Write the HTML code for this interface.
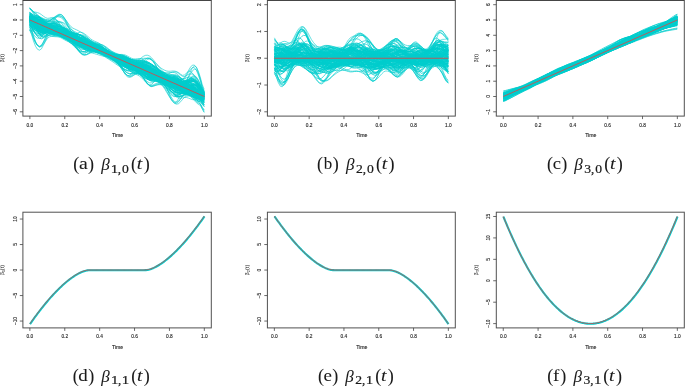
<!DOCTYPE html>
<html><head><meta charset="utf-8"><style>
html,body{margin:0;padding:0;background:#fff;}
svg{display:block;}
.tk{font-family:"Liberation Sans",sans-serif;font-size:4.8px;fill:#222;stroke:#222;stroke-width:0.12px;}
.yl{font-family:"Liberation Sans",sans-serif;font-size:5.6px;fill:#222;}
.cap{font-family:"Liberation Serif",serif;fill:#1a1a1a;stroke:#1a1a1a;stroke-width:0.06px;}
.it{font-style:italic;}
.sub{font-size:12px;}
</style></head><body>
<svg width="685" height="387" viewBox="0 0 685 387">
<rect x="22.90" y="0.40" width="188.40" height="115.70" fill="none" stroke="#505050" stroke-width="1.0"/>
<line x1="22.90" y1="0.4" x2="211.30" y2="0.4" stroke="#404040" stroke-width="0.9"/>
<line x1="29.88" y1="116.10" x2="29.88" y2="119.10" stroke="#444" stroke-width="0.8"/>
<text x="29.88" y="126.50" class="tk" text-anchor="middle">0.0</text>
<line x1="64.77" y1="116.10" x2="64.77" y2="119.10" stroke="#444" stroke-width="0.8"/>
<text x="64.77" y="126.50" class="tk" text-anchor="middle">0.2</text>
<line x1="99.66" y1="116.10" x2="99.66" y2="119.10" stroke="#444" stroke-width="0.8"/>
<text x="99.66" y="126.50" class="tk" text-anchor="middle">0.4</text>
<line x1="134.54" y1="116.10" x2="134.54" y2="119.10" stroke="#444" stroke-width="0.8"/>
<text x="134.54" y="126.50" class="tk" text-anchor="middle">0.6</text>
<line x1="169.43" y1="116.10" x2="169.43" y2="119.10" stroke="#444" stroke-width="0.8"/>
<text x="169.43" y="126.50" class="tk" text-anchor="middle">0.8</text>
<line x1="204.32" y1="116.10" x2="204.32" y2="119.10" stroke="#444" stroke-width="0.8"/>
<text x="204.32" y="126.50" class="tk" text-anchor="middle">1.0</text>
<line x1="22.90" y1="4.69" x2="19.80" y2="4.69" stroke="#444" stroke-width="0.8"/>
<text transform="translate(16.60,4.69) rotate(-90)" class="tk" text-anchor="middle">1</text>
<line x1="22.90" y1="19.99" x2="19.80" y2="19.99" stroke="#444" stroke-width="0.8"/>
<text transform="translate(16.60,19.99) rotate(-90)" class="tk" text-anchor="middle">0</text>
<line x1="22.90" y1="35.29" x2="19.80" y2="35.29" stroke="#444" stroke-width="0.8"/>
<text transform="translate(16.60,35.29) rotate(-90)" class="tk" text-anchor="middle">−1</text>
<line x1="22.90" y1="50.60" x2="19.80" y2="50.60" stroke="#444" stroke-width="0.8"/>
<text transform="translate(16.60,50.60) rotate(-90)" class="tk" text-anchor="middle">−2</text>
<line x1="22.90" y1="65.90" x2="19.80" y2="65.90" stroke="#444" stroke-width="0.8"/>
<text transform="translate(16.60,65.90) rotate(-90)" class="tk" text-anchor="middle">−3</text>
<line x1="22.90" y1="81.21" x2="19.80" y2="81.21" stroke="#444" stroke-width="0.8"/>
<text transform="translate(16.60,81.21) rotate(-90)" class="tk" text-anchor="middle">−4</text>
<line x1="22.90" y1="96.51" x2="19.80" y2="96.51" stroke="#444" stroke-width="0.8"/>
<text transform="translate(16.60,96.51) rotate(-90)" class="tk" text-anchor="middle">−5</text>
<line x1="22.90" y1="111.81" x2="19.80" y2="111.81" stroke="#444" stroke-width="0.8"/>
<text transform="translate(16.60,111.81) rotate(-90)" class="tk" text-anchor="middle">−6</text>
<text x="117.60" y="137.40" class="tk" style="font-size:5.2px" text-anchor="middle">Time</text>
<text transform="translate(4.30,58.25) rotate(-90)" class="yl" text-anchor="middle">β(t)</text>
<rect x="267.40" y="0.40" width="187.90" height="115.70" fill="none" stroke="#505050" stroke-width="1.0"/>
<line x1="267.40" y1="0.4" x2="455.30" y2="0.4" stroke="#404040" stroke-width="0.9"/>
<line x1="274.36" y1="116.10" x2="274.36" y2="119.10" stroke="#444" stroke-width="0.8"/>
<text x="274.36" y="126.50" class="tk" text-anchor="middle">0.0</text>
<line x1="309.16" y1="116.10" x2="309.16" y2="119.10" stroke="#444" stroke-width="0.8"/>
<text x="309.16" y="126.50" class="tk" text-anchor="middle">0.2</text>
<line x1="343.95" y1="116.10" x2="343.95" y2="119.10" stroke="#444" stroke-width="0.8"/>
<text x="343.95" y="126.50" class="tk" text-anchor="middle">0.4</text>
<line x1="378.75" y1="116.10" x2="378.75" y2="119.10" stroke="#444" stroke-width="0.8"/>
<text x="378.75" y="126.50" class="tk" text-anchor="middle">0.6</text>
<line x1="413.54" y1="116.10" x2="413.54" y2="119.10" stroke="#444" stroke-width="0.8"/>
<text x="413.54" y="126.50" class="tk" text-anchor="middle">0.8</text>
<line x1="448.34" y1="116.10" x2="448.34" y2="119.10" stroke="#444" stroke-width="0.8"/>
<text x="448.34" y="126.50" class="tk" text-anchor="middle">1.0</text>
<line x1="267.40" y1="4.69" x2="264.30" y2="4.69" stroke="#444" stroke-width="0.8"/>
<text transform="translate(261.10,4.69) rotate(-90)" class="tk" text-anchor="middle">2</text>
<line x1="267.40" y1="31.47" x2="264.30" y2="31.47" stroke="#444" stroke-width="0.8"/>
<text transform="translate(261.10,31.47) rotate(-90)" class="tk" text-anchor="middle">1</text>
<line x1="267.40" y1="58.25" x2="264.30" y2="58.25" stroke="#444" stroke-width="0.8"/>
<text transform="translate(261.10,58.25) rotate(-90)" class="tk" text-anchor="middle">0</text>
<line x1="267.40" y1="85.03" x2="264.30" y2="85.03" stroke="#444" stroke-width="0.8"/>
<text transform="translate(261.10,85.03) rotate(-90)" class="tk" text-anchor="middle">−1</text>
<line x1="267.40" y1="111.81" x2="264.30" y2="111.81" stroke="#444" stroke-width="0.8"/>
<text transform="translate(261.10,111.81) rotate(-90)" class="tk" text-anchor="middle">−2</text>
<text x="361.85" y="137.40" class="tk" style="font-size:5.2px" text-anchor="middle">Time</text>
<text transform="translate(248.80,58.25) rotate(-90)" class="yl" text-anchor="middle">β(t)</text>
<rect x="496.30" y="0.40" width="188.00" height="115.70" fill="none" stroke="#505050" stroke-width="1.0"/>
<line x1="496.30" y1="0.4" x2="684.30" y2="0.4" stroke="#404040" stroke-width="0.9"/>
<line x1="503.26" y1="116.10" x2="503.26" y2="119.10" stroke="#444" stroke-width="0.8"/>
<text x="503.26" y="126.50" class="tk" text-anchor="middle">0.0</text>
<line x1="538.08" y1="116.10" x2="538.08" y2="119.10" stroke="#444" stroke-width="0.8"/>
<text x="538.08" y="126.50" class="tk" text-anchor="middle">0.2</text>
<line x1="572.89" y1="116.10" x2="572.89" y2="119.10" stroke="#444" stroke-width="0.8"/>
<text x="572.89" y="126.50" class="tk" text-anchor="middle">0.4</text>
<line x1="607.71" y1="116.10" x2="607.71" y2="119.10" stroke="#444" stroke-width="0.8"/>
<text x="607.71" y="126.50" class="tk" text-anchor="middle">0.6</text>
<line x1="642.52" y1="116.10" x2="642.52" y2="119.10" stroke="#444" stroke-width="0.8"/>
<text x="642.52" y="126.50" class="tk" text-anchor="middle">0.8</text>
<line x1="677.34" y1="116.10" x2="677.34" y2="119.10" stroke="#444" stroke-width="0.8"/>
<text x="677.34" y="126.50" class="tk" text-anchor="middle">1.0</text>
<line x1="496.30" y1="4.69" x2="493.20" y2="4.69" stroke="#444" stroke-width="0.8"/>
<text transform="translate(490.00,4.69) rotate(-90)" class="tk" text-anchor="middle">6</text>
<line x1="496.30" y1="19.99" x2="493.20" y2="19.99" stroke="#444" stroke-width="0.8"/>
<text transform="translate(490.00,19.99) rotate(-90)" class="tk" text-anchor="middle">5</text>
<line x1="496.30" y1="35.29" x2="493.20" y2="35.29" stroke="#444" stroke-width="0.8"/>
<text transform="translate(490.00,35.29) rotate(-90)" class="tk" text-anchor="middle">4</text>
<line x1="496.30" y1="50.60" x2="493.20" y2="50.60" stroke="#444" stroke-width="0.8"/>
<text transform="translate(490.00,50.60) rotate(-90)" class="tk" text-anchor="middle">3</text>
<line x1="496.30" y1="65.90" x2="493.20" y2="65.90" stroke="#444" stroke-width="0.8"/>
<text transform="translate(490.00,65.90) rotate(-90)" class="tk" text-anchor="middle">2</text>
<line x1="496.30" y1="81.21" x2="493.20" y2="81.21" stroke="#444" stroke-width="0.8"/>
<text transform="translate(490.00,81.21) rotate(-90)" class="tk" text-anchor="middle">1</text>
<line x1="496.30" y1="96.51" x2="493.20" y2="96.51" stroke="#444" stroke-width="0.8"/>
<text transform="translate(490.00,96.51) rotate(-90)" class="tk" text-anchor="middle">0</text>
<line x1="496.30" y1="111.81" x2="493.20" y2="111.81" stroke="#444" stroke-width="0.8"/>
<text transform="translate(490.00,111.81) rotate(-90)" class="tk" text-anchor="middle">−1</text>
<text x="590.80" y="137.40" class="tk" style="font-size:5.2px" text-anchor="middle">Time</text>
<text transform="translate(477.70,58.25) rotate(-90)" class="yl" text-anchor="middle">β(t)</text>
<rect x="22.90" y="212.20" width="188.40" height="115.70" fill="none" stroke="#505050" stroke-width="1.0"/>
<line x1="29.88" y1="327.90" x2="29.88" y2="330.90" stroke="#444" stroke-width="0.8"/>
<text x="29.88" y="338.30" class="tk" text-anchor="middle">0.0</text>
<line x1="64.77" y1="327.90" x2="64.77" y2="330.90" stroke="#444" stroke-width="0.8"/>
<text x="64.77" y="338.30" class="tk" text-anchor="middle">0.2</text>
<line x1="99.66" y1="327.90" x2="99.66" y2="330.90" stroke="#444" stroke-width="0.8"/>
<text x="99.66" y="338.30" class="tk" text-anchor="middle">0.4</text>
<line x1="134.54" y1="327.90" x2="134.54" y2="330.90" stroke="#444" stroke-width="0.8"/>
<text x="134.54" y="338.30" class="tk" text-anchor="middle">0.6</text>
<line x1="169.43" y1="327.90" x2="169.43" y2="330.90" stroke="#444" stroke-width="0.8"/>
<text x="169.43" y="338.30" class="tk" text-anchor="middle">0.8</text>
<line x1="204.32" y1="327.90" x2="204.32" y2="330.90" stroke="#444" stroke-width="0.8"/>
<text x="204.32" y="338.30" class="tk" text-anchor="middle">1.0</text>
<line x1="22.90" y1="219.04" x2="19.80" y2="219.04" stroke="#444" stroke-width="0.8"/>
<text transform="translate(16.60,219.04) rotate(-90)" class="tk" text-anchor="middle">10</text>
<line x1="22.90" y1="244.54" x2="19.80" y2="244.54" stroke="#444" stroke-width="0.8"/>
<text transform="translate(16.60,244.54) rotate(-90)" class="tk" text-anchor="middle">5</text>
<line x1="22.90" y1="270.05" x2="19.80" y2="270.05" stroke="#444" stroke-width="0.8"/>
<text transform="translate(16.60,270.05) rotate(-90)" class="tk" text-anchor="middle">0</text>
<line x1="22.90" y1="295.56" x2="19.80" y2="295.56" stroke="#444" stroke-width="0.8"/>
<text transform="translate(16.60,295.56) rotate(-90)" class="tk" text-anchor="middle">−5</text>
<line x1="22.90" y1="321.06" x2="19.80" y2="321.06" stroke="#444" stroke-width="0.8"/>
<text transform="translate(16.60,321.06) rotate(-90)" class="tk" text-anchor="middle">−10</text>
<text x="117.60" y="349.20" class="tk" style="font-size:5.2px" text-anchor="middle">Time</text>
<text transform="translate(4.30,270.05) rotate(-90)" class="yl" text-anchor="middle">β₁(t)</text>
<rect x="267.40" y="212.20" width="187.90" height="115.70" fill="none" stroke="#505050" stroke-width="1.0"/>
<line x1="274.36" y1="327.90" x2="274.36" y2="330.90" stroke="#444" stroke-width="0.8"/>
<text x="274.36" y="338.30" class="tk" text-anchor="middle">0.0</text>
<line x1="309.16" y1="327.90" x2="309.16" y2="330.90" stroke="#444" stroke-width="0.8"/>
<text x="309.16" y="338.30" class="tk" text-anchor="middle">0.2</text>
<line x1="343.95" y1="327.90" x2="343.95" y2="330.90" stroke="#444" stroke-width="0.8"/>
<text x="343.95" y="338.30" class="tk" text-anchor="middle">0.4</text>
<line x1="378.75" y1="327.90" x2="378.75" y2="330.90" stroke="#444" stroke-width="0.8"/>
<text x="378.75" y="338.30" class="tk" text-anchor="middle">0.6</text>
<line x1="413.54" y1="327.90" x2="413.54" y2="330.90" stroke="#444" stroke-width="0.8"/>
<text x="413.54" y="338.30" class="tk" text-anchor="middle">0.8</text>
<line x1="448.34" y1="327.90" x2="448.34" y2="330.90" stroke="#444" stroke-width="0.8"/>
<text x="448.34" y="338.30" class="tk" text-anchor="middle">1.0</text>
<line x1="267.40" y1="219.04" x2="264.30" y2="219.04" stroke="#444" stroke-width="0.8"/>
<text transform="translate(261.10,219.04) rotate(-90)" class="tk" text-anchor="middle">10</text>
<line x1="267.40" y1="244.54" x2="264.30" y2="244.54" stroke="#444" stroke-width="0.8"/>
<text transform="translate(261.10,244.54) rotate(-90)" class="tk" text-anchor="middle">5</text>
<line x1="267.40" y1="270.05" x2="264.30" y2="270.05" stroke="#444" stroke-width="0.8"/>
<text transform="translate(261.10,270.05) rotate(-90)" class="tk" text-anchor="middle">0</text>
<line x1="267.40" y1="295.56" x2="264.30" y2="295.56" stroke="#444" stroke-width="0.8"/>
<text transform="translate(261.10,295.56) rotate(-90)" class="tk" text-anchor="middle">−5</text>
<line x1="267.40" y1="321.06" x2="264.30" y2="321.06" stroke="#444" stroke-width="0.8"/>
<text transform="translate(261.10,321.06) rotate(-90)" class="tk" text-anchor="middle">−10</text>
<text x="361.85" y="349.20" class="tk" style="font-size:5.2px" text-anchor="middle">Time</text>
<text transform="translate(248.80,270.05) rotate(-90)" class="yl" text-anchor="middle">β₂(t)</text>
<rect x="496.30" y="212.20" width="188.00" height="115.70" fill="none" stroke="#505050" stroke-width="1.0"/>
<line x1="503.26" y1="327.90" x2="503.26" y2="330.90" stroke="#444" stroke-width="0.8"/>
<text x="503.26" y="338.30" class="tk" text-anchor="middle">0.0</text>
<line x1="538.08" y1="327.90" x2="538.08" y2="330.90" stroke="#444" stroke-width="0.8"/>
<text x="538.08" y="338.30" class="tk" text-anchor="middle">0.2</text>
<line x1="572.89" y1="327.90" x2="572.89" y2="330.90" stroke="#444" stroke-width="0.8"/>
<text x="572.89" y="338.30" class="tk" text-anchor="middle">0.4</text>
<line x1="607.71" y1="327.90" x2="607.71" y2="330.90" stroke="#444" stroke-width="0.8"/>
<text x="607.71" y="338.30" class="tk" text-anchor="middle">0.6</text>
<line x1="642.52" y1="327.90" x2="642.52" y2="330.90" stroke="#444" stroke-width="0.8"/>
<text x="642.52" y="338.30" class="tk" text-anchor="middle">0.8</text>
<line x1="677.34" y1="327.90" x2="677.34" y2="330.90" stroke="#444" stroke-width="0.8"/>
<text x="677.34" y="338.30" class="tk" text-anchor="middle">1.0</text>
<line x1="496.30" y1="216.49" x2="493.20" y2="216.49" stroke="#444" stroke-width="0.8"/>
<text transform="translate(490.00,216.49) rotate(-90)" class="tk" text-anchor="middle">15</text>
<line x1="496.30" y1="237.91" x2="493.20" y2="237.91" stroke="#444" stroke-width="0.8"/>
<text transform="translate(490.00,237.91) rotate(-90)" class="tk" text-anchor="middle">10</text>
<line x1="496.30" y1="259.34" x2="493.20" y2="259.34" stroke="#444" stroke-width="0.8"/>
<text transform="translate(490.00,259.34) rotate(-90)" class="tk" text-anchor="middle">5</text>
<line x1="496.30" y1="280.76" x2="493.20" y2="280.76" stroke="#444" stroke-width="0.8"/>
<text transform="translate(490.00,280.76) rotate(-90)" class="tk" text-anchor="middle">0</text>
<line x1="496.30" y1="302.19" x2="493.20" y2="302.19" stroke="#444" stroke-width="0.8"/>
<text transform="translate(490.00,302.19) rotate(-90)" class="tk" text-anchor="middle">−5</text>
<line x1="496.30" y1="323.61" x2="493.20" y2="323.61" stroke="#444" stroke-width="0.8"/>
<text transform="translate(490.00,323.61) rotate(-90)" class="tk" text-anchor="middle">−10</text>
<text x="590.80" y="349.20" class="tk" style="font-size:5.2px" text-anchor="middle">Time</text>
<text transform="translate(477.70,270.05) rotate(-90)" class="yl" text-anchor="middle">β₃(t)</text>
<g fill="none" stroke="#00cdcd" stroke-width="0.8" stroke-linejoin="round"><path d="M29.6,24.1l2 2.5 1.9 2.6 2 1.5 1.9 .3 2 -.4 2 -.6 1.9 -.5 2 -.2 2 .1 1.9 .5 2 .7 1.9 .8 2 .8 2 .8 1.9 .7 2 .9 2 .9 1.9 .9 2 .9 1.9 1.0 2 1.0 2 1.2 1.9 1.3 2 1.5 1.9 1.6 2 1.6 2 1.6 1.9 1.3 2 .8 2 .5 1.9 .2 2 .1 1.9 .2 2 .4 2 .4 1.9 .6 2 .6 1.9 .7 2 .8 2 .6 1.9 .6 2 .3 2 .3 1.9 .2 2 .1 1.9 -.2 2 -.1 2 .1 1.9 .6 2 .9 2 1.3 1.9 1.3 2 1.3 1.9 1.2 2 1.4 2 1.4 1.9 1.6 2 1.7 1.9 1.5 2 1.5 2 1.3 1.9 1.2 2 1.0 2 .8 1.9 .9 2 .9 1.9 1.0 2 1.1 2 1.3 1.9 1.5 2 1.5 1.9 1.6 2 1.5 2 1.5 1.9 1.1 2 .8 2 .3 1.9 .1 2 .2 1.9 .3 2 .6 2 .7 1.9 .8 2 .6 2 .4 1.9 .4 2 .3 1.9 .6 2 .4"/><path d="M29.6,18.2l2 1.2 1.9 1.0 2 .7 1.9 .6 2 .5 2 .6 1.9 .6 2 .5 2 .4 1.9 .0 2 -.4 1.9 -.3 2 .0 2 .5 1.9 .9 2 1.4 2 1.8 1.9 2.0 2 2.2 1.9 2.0 2 1.7 2 1.5 1.9 1.2 2 1.2 1.9 1.1 2 1.0 2 .9 1.9 .8 2 .7 2 .7 1.9 .7 2 .6 1.9 .6 2 .4 2 .4 1.9 .3 2 .4 1.9 .6 2 .7 2 .9 1.9 1.1 2 1.0 2 1.0 1.9 .9 2 1.0 1.9 1.0 2 1.1 2 1.3 1.9 1.3 2 1.3 2 1.1 1.9 1.0 2 .9 1.9 .7 2 .6 2 .5 1.9 .3 2 .3 1.9 .5 2 .6 2 .9 1.9 1.2 2 1.5 2 1.6 1.9 1.5 2 1.5 1.9 1.2 2 1.2 2 1.0 1.9 1.0 2 .7 1.9 .4 2 .4 2 .3 1.9 .3 2 .3 2 .4 1.9 .4 2 .1 1.9 -.3 2 -.6 2 -.2 1.9 .1 2 .8 2 1.4 1.9 2.0 2 2.4 1.9 2.6 2 2.1"/><path d="M29.6,20.3l2 .6 1.9 .9 2 1.4 1.9 2.0 2 2.2 2 2.0 1.9 1.4 2 .7 2 .1 1.9 .2 2 .4 1.9 .4 2 .3 2 .3 1.9 .4 2 .6 2 .5 1.9 .2 2 .1 1.9 .3 2 .6 2 .7 1.9 .8 2 .8 1.9 1.0 2 1.2 2 1.3 1.9 1.4 2 1.4 2 1.3 1.9 1.3 2 1.1 1.9 .9 2 1.0 2 .8 1.9 .9 2 .8 1.9 .8 2 .8 2 .7 1.9 .7 2 .6 2 .7 1.9 .6 2 .7 1.9 .6 2 .6 2 .5 1.9 .6 2 .5 2 .6 1.9 .5 2 .5 1.9 .2 2 .1 2 .1 1.9 .2 2 .5 1.9 .7 2 .9 2 1.1 1.9 1.4 2 1.3 2 1.5 1.9 1.4 2 1.4 1.9 1.2 2 1.0 2 .9 1.9 .7 2 .6 1.9 .6 2 .7 2 .8 1.9 1.1 2 1.4 2 1.6 1.9 1.4 2 1.4 1.9 1.4 2 1.5 2 1.2 1.9 1.2 2 1.0 2 .9 1.9 .6 2 .6 1.9 .5 2 .5"/><path d="M29.6,23.0l2 1.7 1.9 2.0 2 1.7 1.9 1.4 2 1.4 2 1.3 1.9 .8 2 .2 2 -.2 1.9 .1 2 .4 1.9 .3 2 .2 2 .1 1.9 .2 2 .5 2 .5 1.9 .5 2 .6 1.9 .6 2 .7 2 .8 1.9 1.0 2 1.3 1.9 1.5 2 1.6 2 1.7 1.9 1.5 2 1.2 2 .8 1.9 .5 2 .4 1.9 .4 2 .5 2 .5 1.9 .7 2 .7 1.9 .9 2 .9 2 1.0 1.9 .9 2 1.0 2 .9 1.9 1.0 2 .8 1.9 .8 2 .9 2 1.1 1.9 1.2 2 1.5 2 1.5 1.9 1.5 2 1.2 1.9 .9 2 .9 2 1.0 1.9 1.1 2 1.2 1.9 1.1 2 .9 2 .4 1.9 -.2 2 -.4 2 -.3 1.9 -.1 2 .1 1.9 .3 2 .4 2 .6 1.9 .7 2 .9 1.9 1.1 2 1.3 2 1.9 1.9 2.5 2 2.4 2 1.9 1.9 1.3 2 .9 1.9 .8 2 .9 2 1.0 1.9 .9 2 .7 2 .2 1.9 .1 2 .0 1.9 .7 2 .6"/><path d="M29.6,23.3l2 2.3 1.9 2.6 2 1.9 1.9 1.2 2 .7 2 .3 1.9 -.1 2 -.4 2 -.3 1.9 .0 2 .4 1.9 .4 2 .4 2 .3 1.9 .5 2 .6 2 .6 1.9 .7 2 .7 1.9 .8 2 1.1 2 1.0 1.9 1.3 2 1.3 1.9 1.6 2 1.5 2 1.5 1.9 1.4 2 1.1 2 .9 1.9 .7 2 .5 1.9 .6 2 .6 2 .7 1.9 .6 2 .6 1.9 .5 2 .6 2 .4 1.9 .3 2 .3 2 .4 1.9 .5 2 .6 1.9 .7 2 .7 2 .9 1.9 .9 2 1.0 2 1.0 1.9 1.0 2 .8 1.9 .8 2 .6 2 .7 1.9 .6 2 .6 1.9 .7 2 .9 2 .9 1.9 1.2 2 1.3 2 1.3 1.9 1.5 2 1.3 1.9 1.4 2 1.5 2 1.6 1.9 1.9 2 2.0 1.9 2.0 2 2.0 2 1.8 1.9 1.3 2 .9 2 .2 1.9 -.1 2 .0 1.9 .3 2 .7 2 .9 1.9 .9 2 .8 2 .3 1.9 .1 2 .0 1.9 .5 2 .3"/><path d="M29.6,20.1l2 .6 1.9 .6 2 .6 1.9 .5 2 .6 2 .7 1.9 .8 2 .8 2 .8 1.9 .7 2 .8 1.9 1.1 2 1.4 2 1.7 1.9 1.3 2 1.1 2 1.3 1.9 1.2 2 1.3 1.9 1.2 2 1.3 2 1.3 1.9 1.4 2 1.2 1.9 1.0 2 .6 2 .2 1.9 -.1 2 -.1 2 -.1 1.9 .2 2 .3 1.9 .3 2 .4 2 .3 1.9 .4 2 .6 1.9 .9 2 1.0 2 1.2 1.9 1.2 2 1.1 2 1.0 1.9 1.0 2 .9 1.9 .9 2 .9 2 1.1 1.9 1.1 2 1.1 2 1.1 1.9 1.0 2 1.0 1.9 .9 2 .8 2 .8 1.9 .7 2 .7 1.9 .7 2 .7 2 .7 1.9 .8 2 .9 2 1.0 1.9 1.0 2 .9 1.9 .9 2 .8 2 .8 1.9 .7 2 .7 1.9 .6 2 .8 2 .9 1.9 1.1 2 1.3 2 1.4 1.9 1.2 2 1.2 1.9 1.0 2 .9 2 .9 1.9 .7 2 .6 2 .5 1.9 .6 2 .8 1.9 1.0 2 1.0"/><path d="M29.6,12.6l2 1.0 1.9 1.3 2 .6 1.9 .7 2 1.0 2 1.5 1.9 1.6 2 1.5 2 1.2 1.9 .9 2 .9 1.9 1.5 2 2.0 2 2.5 1.9 2.2 2 1.4 2 1.4 1.9 1.3 2 1.2 1.9 1.1 2 1.1 2 1.1 1.9 1.1 2 1.1 1.9 .9 2 .7 2 .7 1.9 .5 2 .5 2 .3 1.9 .5 2 .5 1.9 .6 2 .8 2 .8 1.9 .9 2 1.1 1.9 1.1 2 1.2 2 1.3 1.9 1.2 2 1.2 2 1.0 1.9 .9 2 .5 1.9 .1 2 -.1 2 -.1 1.9 .2 2 .4 2 .5 1.9 .8 2 .8 1.9 .9 2 1.1 2 1.3 1.9 1.7 2 1.7 1.9 1.9 2 2.0 2 2.0 1.9 1.5 2 1.1 2 .7 1.9 .6 2 .8 1.9 .8 2 1.1 2 1.2 1.9 1.3 2 1.1 1.9 .9 2 .7 2 .5 1.9 .1 2 -.1 2 -.1 1.9 -.1 2 .1 1.9 .3 2 .0 2 -.3 1.9 -.6 2 -.6 2 -.3 1.9 .2 2 1.2 1.9 2.2 2 2.1"/><path d="M29.6,17.4l2 .7 1.9 .7 2 .3 1.9 .3 2 .5 2 .8 1.9 1.0 2 1.1 2 .8 1.9 .5 2 .3 1.9 .2 2 .5 2 .6 1.9 .9 2 1.3 2 1.5 1.9 1.9 2 2.0 1.9 2.1 2 1.8 2 1.7 1.9 1.4 2 1.6 1.9 1.5 2 1.3 2 1.2 1.9 .9 2 .6 2 .5 1.9 .5 2 .5 1.9 .6 2 .7 2 .6 1.9 .7 2 .6 1.9 .6 2 .4 2 .4 1.9 .6 2 .6 2 .6 1.9 .6 2 .7 1.9 .7 2 .9 2 1.0 1.9 1.2 2 1.3 2 1.3 1.9 1.2 2 1.2 1.9 1.3 2 1.1 2 1.1 1.9 1.1 2 1.1 1.9 1.0 2 1.0 2 .8 1.9 .7 2 .5 2 .6 1.9 .6 2 .7 1.9 .9 2 1.0 2 1.2 1.9 1.4 2 1.6 1.9 1.7 2 1.7 2 1.6 1.9 1.3 2 .8 2 .4 1.9 .0 2 .1 1.9 .2 2 .3 2 .3 1.9 .1 2 -.8 2 -1.2 1.9 -.8 2 .2 1.9 1.6 2 1.8"/><path d="M29.6,25.3l2 2.7 1.9 3.2 2 2.4 1.9 1.2 2 .3 2 -.6 1.9 -1.5 2 -1.6 2 -1.1 1.9 -.4 2 .1 1.9 .3 2 .0 2 .0 1.9 .2 2 .4 2 .8 1.9 1.0 2 1.2 1.9 1.4 2 1.2 2 1.2 1.9 1.1 2 1.1 1.9 1.0 2 .9 2 1.0 1.9 .9 2 .8 2 .9 1.9 .9 2 .9 1.9 .9 2 .9 2 .9 1.9 .9 2 .9 1.9 1.0 2 .9 2 1.0 1.9 1.1 2 1.1 2 1.3 1.9 1.5 2 1.5 1.9 1.6 2 1.6 2 1.6 1.9 1.4 2 1.0 2 .7 1.9 .3 2 .1 1.9 .1 2 .3 2 .4 1.9 .7 2 .7 1.9 .9 2 1.0 2 .9 1.9 1.0 2 .9 2 .9 1.9 .9 2 1.0 1.9 1.1 2 1.2 2 1.3 1.9 1.4 2 1.4 1.9 1.4 2 1.2 2 1.1 1.9 .9 2 .6 2 .3 1.9 .1 2 .2 1.9 .4 2 .7 2 .7 1.9 .7 2 .6 2 .5 1.9 .3 2 .3 1.9 .4 2 .4"/><path d="M29.6,14.0l2 1.0 1.9 1.1 2 .4 1.9 .5 2 .6 2 1.0 1.9 1.1 2 1.1 2 .7 1.9 .3 2 .0 1.9 .4 2 1.1 2 1.8 1.9 2.3 2 2.4 2 2.2 1.9 1.8 2 1.3 1.9 .9 2 .6 2 .5 1.9 .3 2 .2 1.9 .5 2 .6 2 .9 1.9 1.1 2 1.2 2 1.3 1.9 1.2 2 1.0 1.9 .8 2 .7 2 .5 1.9 .5 2 .6 1.9 .7 2 .8 2 .9 1.9 1.0 2 .8 2 .7 1.9 .6 2 .5 1.9 .3 2 .4 2 .5 1.9 .8 2 1.0 2 1.1 1.9 .9 2 .8 1.9 .4 2 .3 2 .2 1.9 .3 2 .4 1.9 .6 2 .6 2 .6 1.9 .8 2 .9 2 1.1 1.9 1.4 2 1.6 1.9 1.5 2 1.5 2 1.4 1.9 1.2 2 1.1 1.9 1.0 2 1.0 2 1.1 1.9 1.1 2 1.1 2 1.2 1.9 .9 2 .2 1.9 -.3 2 -.7 2 -.7 1.9 -.5 2 .2 2 1.0 1.9 2.0 2 2.9 1.9 3.3 2 2.5"/><path d="M29.6,12.4l2 1.7 1.9 1.8 2 1.2 1.9 1.4 2 1.6 2 1.8 1.9 1.7 2 1.4 2 1.2 1.9 1.0 2 .9 1.9 .8 2 .6 2 .6 1.9 .5 2 .4 2 .5 1.9 .7 2 .8 1.9 .9 2 1.0 2 .9 1.9 .8 2 .9 1.9 1.0 2 1.1 2 1.3 1.9 1.3 2 1.2 2 1.2 1.9 1.0 2 1.0 1.9 .8 2 .7 2 .6 1.9 .7 2 .7 1.9 .8 2 .9 2 .9 1.9 .8 2 .8 2 .7 1.9 .6 2 .5 1.9 .4 2 .5 2 .6 1.9 .9 2 1.2 2 1.2 1.9 1.2 2 1.1 1.9 .9 2 .8 2 .7 1.9 .5 2 .5 1.9 .5 2 .5 2 .8 1.9 1.1 2 1.4 2 1.6 1.9 1.7 2 1.6 1.9 1.5 2 1.4 2 1.4 1.9 1.5 2 1.5 1.9 1.4 2 1.3 2 1.2 1.9 .9 2 .7 2 .5 1.9 .4 2 .6 1.9 .6 2 .9 2 .9 1.9 1.0 2 .9 2 .7 1.9 .5 2 .4 1.9 .7 2 .4"/><path d="M29.6,16.6l2 .7 1.9 .8 2 .3 1.9 .5 2 .7 2 1.1 1.9 1.2 2 1.3 2 1.1 1.9 .9 2 .8 1.9 .9 2 1.1 2 1.2 1.9 1.3 2 1.3 2 1.3 1.9 1.4 2 1.3 1.9 1.3 2 1.0 2 1.2 1.9 1.2 2 1.5 1.9 1.5 2 1.5 2 1.4 1.9 1.1 2 .8 2 .4 1.9 .3 2 .3 1.9 .4 2 .5 2 .6 1.9 .7 2 .8 1.9 1.0 2 1.1 2 1.1 1.9 1.1 2 1.2 2 1.0 1.9 1.0 2 .8 1.9 .5 2 .3 2 .3 1.9 .3 2 .6 2 .6 1.9 .7 2 .7 1.9 .6 2 .6 2 .4 1.9 .4 2 .4 1.9 .4 2 .6 2 .8 1.9 1.0 2 1.3 2 1.5 1.9 1.6 2 1.5 1.9 1.5 2 1.3 2 1.4 1.9 1.5 2 1.4 1.9 1.3 2 1.1 2 .9 1.9 .6 2 .3 2 .4 1.9 .4 2 .6 1.9 .7 2 .9 2 .9 1.9 1.1 2 1.1 2 1.0 1.9 1.0 2 .8 1.9 1.2 2 1.0"/><path d="M29.6,21.6l2 1.6 1.9 2.1 2 1.9 1.9 1.6 2 1.2 2 .8 1.9 .2 2 -.1 2 -.1 1.9 .3 2 .6 1.9 .8 2 .8 2 .7 1.9 .8 2 1.0 2 1.1 1.9 1.1 2 1.0 1.9 .9 2 1.0 2 1.0 1.9 1.0 2 1.0 1.9 1.0 2 .9 2 .8 1.9 .6 2 .4 2 .3 1.9 .2 2 .2 1.9 .3 2 .4 2 .2 1.9 .3 2 .3 1.9 .6 2 .8 2 1.1 1.9 1.2 2 1.2 2 1.3 1.9 1.3 2 1.5 1.9 1.8 2 2.0 2 1.8 1.9 1.6 2 1.2 2 .7 1.9 .3 2 .1 1.9 .1 2 .4 2 .5 1.9 .7 2 .8 1.9 1.0 2 1.1 2 1.2 1.9 1.2 2 1.0 2 .9 1.9 .8 2 .9 1.9 .8 2 .8 2 .8 1.9 .7 2 .6 1.9 .5 2 .6 2 .8 1.9 .9 2 1.2 2 1.2 1.9 1.2 2 1.2 1.9 1.2 2 1.3 2 1.5 1.9 1.6 2 1.5 2 1.1 1.9 .7 2 .3 1.9 1.5 2 1.2"/><path d="M29.6,22.2l2 1.2 1.9 .9 2 .2 1.9 -.3 2 -.2 2 .3 1.9 .5 2 .7 2 .7 1.9 .7 2 .8 1.9 1.0 2 1.5 2 1.7 1.9 1.2 2 1.1 2 1.2 1.9 1.1 2 1.1 1.9 1.1 2 1.1 2 1.1 1.9 1.1 2 1.0 1.9 1.0 2 .8 2 .6 1.9 .6 2 .5 2 .5 1.9 .6 2 .6 1.9 .7 2 .7 2 .7 1.9 .6 2 .5 1.9 .5 2 .4 2 .6 1.9 .6 2 .7 2 .8 1.9 .7 2 .9 1.9 .9 2 1.1 2 1.3 1.9 1.4 2 1.5 2 1.6 1.9 1.6 2 1.4 1.9 1.1 2 1.0 2 1.1 1.9 1.1 2 1.1 1.9 1.2 2 1.1 2 .7 1.9 .4 2 .1 2 .1 1.9 .1 2 .1 1.9 .1 2 .1 2 .2 1.9 .2 2 .1 1.9 .1 2 .2 2 .5 1.9 1.0 2 1.5 2 1.8 1.9 1.7 2 1.2 1.9 1.1 2 1.2 2 1.2 1.9 1.0 2 .9 2 .9 1.9 .8 2 .9 1.9 1.1 2 1.1"/><path d="M29.6,16.9l2 1.4 1.9 1.1 2 .8 1.9 .7 2 .7 2 .8 1.9 .9 2 1.0 2 .8 1.9 .6 2 .4 1.9 .4 2 .5 2 .7 1.9 .8 2 1.1 2 1.3 1.9 1.4 2 1.7 1.9 1.5 2 1.4 2 1.2 1.9 .9 2 .8 1.9 .5 2 .3 2 .3 1.9 .3 2 .5 2 .8 1.9 1.0 2 1.0 1.9 1.0 2 1.0 2 1.0 1.9 1.1 2 1.2 1.9 1.3 2 1.2 2 1.2 1.9 1.1 2 1.0 2 1.1 1.9 1.0 2 1.2 1.9 1.2 2 1.3 2 1.2 1.9 1.2 2 1.1 2 .8 1.9 .7 2 .5 1.9 .4 2 .5 2 .4 1.9 .3 2 .1 1.9 .0 2 .0 2 .0 1.9 .1 2 .4 2 .7 1.9 1.0 2 1.1 1.9 1.1 2 1.1 2 1.0 1.9 .8 2 .6 1.9 .5 2 .3 2 .5 1.9 .5 2 .9 2 1.2 1.9 .9 2 .1 1.9 -.5 2 -.7 2 -.2 1.9 .3 2 1.0 2 1.9 1.9 2.5 2 2.9 1.9 3.2 2 2.3"/><path d="M29.6,17.9l2 .9 1.9 .8 2 .5 1.9 .4 2 .5 2 .7 1.9 .7 2 .8 2 .6 1.9 .2 2 .0 1.9 .1 2 .4 2 .8 1.9 1.2 2 1.5 2 1.8 1.9 1.9 2 1.8 1.9 1.6 2 1.4 2 1.2 1.9 .9 2 .8 1.9 .7 2 .6 2 .5 1.9 .4 2 .6 2 .6 1.9 .7 2 .7 1.9 .6 2 .4 2 .6 1.9 .7 2 1.0 1.9 1.3 2 1.5 2 1.5 1.9 1.5 2 1.3 2 1.2 1.9 1.1 2 1.1 1.9 .9 2 1.0 2 .9 1.9 .9 2 .8 2 .9 1.9 .7 2 .7 1.9 .6 2 .5 2 .4 1.9 .3 2 .4 1.9 .6 2 .9 2 1.3 1.9 1.6 2 1.8 2 1.8 1.9 1.6 2 1.3 1.9 1.3 2 1.1 2 .9 1.9 .6 2 .2 1.9 -.2 2 .1 2 .0 1.9 .0 2 .3 2 .7 1.9 .7 2 .5 1.9 .3 2 .5 2 .9 1.9 1.2 2 1.4 2 1.2 1.9 1.1 2 1.1 1.9 1.3 2 1.3"/><path d="M29.6,24.3l2 2.6 1.9 3.6 2 3.3 1.9 2.6 2 1.8 2 .6 1.9 -.8 2 -1.8 2 -1.9 1.9 -1.0 2 -.4 1.9 -.1 2 .0 2 .1 1.9 .4 2 .6 2 .6 1.9 .5 2 .9 1.9 1.2 2 1.0 2 1.2 1.9 1.2 2 1.1 1.9 1.0 2 .7 2 .4 1.9 .3 2 .5 2 .6 1.9 .8 2 .8 1.9 1.0 2 1.0 2 1.1 1.9 1.0 2 1.0 1.9 .9 2 .9 2 .9 1.9 .8 2 .9 2 1.0 1.9 1.0 2 1.2 1.9 1.5 2 1.6 2 1.9 1.9 2.1 2 2.1 2 1.9 1.9 1.4 2 .9 1.9 .5 2 .6 2 .7 1.9 1.1 2 1.2 1.9 1.2 2 1.1 2 .6 1.9 .1 2 -.2 2 -.1 1.9 .2 2 .6 1.9 .9 2 1.3 2 1.6 1.9 2.1 2 2.2 1.9 2.3 2 2.2 2 1.9 1.9 1.3 2 .4 2 -.4 1.9 -.8 2 -.6 1.9 -.2 2 .3 2 .5 1.9 .7 2 .7 2 .5 1.9 .4 2 .5 1.9 1.6 2 1.7"/><path d="M29.6,21.4l2 1.3 1.9 1.6 2 1.5 1.9 1.4 2 1.1 2 .6 1.9 .0 2 -.2 2 -.1 1.9 .2 2 .4 1.9 .1 2 .1 2 .0 1.9 .3 2 .5 2 .9 1.9 1.3 2 1.6 1.9 1.6 2 1.6 2 1.6 1.9 1.5 2 1.7 1.9 1.8 2 1.9 2 1.9 1.9 1.5 2 1.2 2 .7 1.9 .5 2 .3 1.9 .4 2 .5 2 .6 1.9 .6 2 .7 1.9 .8 2 .8 2 .7 1.9 .7 2 .7 2 .6 1.9 .6 2 .5 1.9 .5 2 .5 2 .6 1.9 .7 2 .7 2 .9 1.9 .9 2 .9 1.9 1.0 2 .9 2 .9 1.9 1.0 2 1.0 1.9 1.0 2 1.2 2 1.2 1.9 1.1 2 1.0 2 1.0 1.9 1.0 2 .9 1.9 1.1 2 1.1 2 1.2 1.9 1.2 2 1.2 1.9 1.1 2 1.2 2 1.1 1.9 1.0 2 .9 2 .6 1.9 .4 2 .6 1.9 .6 2 1.0 2 1.1 1.9 1.3 2 1.4 2 1.1 1.9 .9 2 .8 1.9 2.2 2 2.3"/><path d="M29.6,25.1l2 2.5 1.9 2.9 2 2.0 1.9 1.0 2 .2 2 -.6 1.9 -1.2 2 -1.2 2 -.8 1.9 -.2 2 .3 1.9 .5 2 .6 2 .4 1.9 .4 2 .3 2 .2 1.9 .1 2 .2 1.9 .3 2 .4 2 .2 1.9 .1 2 .3 1.9 .6 2 .9 2 1.4 1.9 1.7 2 2.0 2 2.0 1.9 1.8 2 1.6 1.9 1.5 2 1.3 2 1.2 1.9 1.1 2 .9 1.9 .9 2 .8 2 .7 1.9 .7 2 .7 2 .8 1.9 .7 2 .8 1.9 .9 2 1.0 2 1.0 1.9 1.1 2 1.3 2 1.3 1.9 1.1 2 .9 1.9 .8 2 .7 2 .7 1.9 .6 2 .7 1.9 .6 2 .7 2 .9 1.9 1.1 2 1.4 2 1.5 1.9 1.6 2 1.7 1.9 1.9 2 2.2 2 2.6 1.9 2.8 2 2.8 1.9 2.3 2 1.6 2 .8 1.9 -.3 2 -1.3 2 -1.8 1.9 -1.5 2 -.8 1.9 -.2 2 .3 2 .6 1.9 .7 2 .7 2 .6 1.9 .5 2 .5 1.9 .3 2 .7"/><path d="M29.6,18.0l2 1.0 1.9 1.3 2 1.2 1.9 1.3 2 1.3 2 1.6 1.9 1.2 2 .6 2 .4 1.9 .5 2 .2 1.9 .0 2 -.3 2 -.3 1.9 -.2 2 .1 2 .5 1.9 1.0 2 1.5 1.9 1.7 2 1.6 2 1.5 1.9 1.3 2 1.2 1.9 1.3 2 1.2 2 1.3 1.9 1.1 2 1.1 2 1.0 1.9 .9 2 .9 1.9 .8 2 .7 2 .8 1.9 .6 2 .7 1.9 .8 2 .8 2 .9 1.9 .9 2 1.0 2 1.0 1.9 .9 2 1.1 1.9 1.0 2 1.1 2 1.0 1.9 .9 2 .9 2 .7 1.9 .6 2 .6 1.9 .5 2 .3 2 .2 1.9 .1 2 .1 1.9 .0 2 .1 2 .1 1.9 .3 2 .4 2 .8 1.9 1.1 2 1.5 1.9 1.5 2 1.6 2 1.6 1.9 1.5 2 1.4 1.9 1.6 2 1.7 2 1.7 1.9 1.8 2 1.7 2 1.3 1.9 .8 2 .6 1.9 .6 2 .5 2 .6 1.9 .3 2 .0 2 .2 1.9 .7 2 1.1 1.9 1.5 2 1.3"/><path d="M29.6,15.0l2 1.4 1.9 1.6 2 1.1 1.9 1.3 2 1.3 2 1.4 1.9 1.4 2 1.2 2 1.1 1.9 1.2 2 1.2 1.9 1.3 2 1.2 2 1.1 1.9 1.1 2 1.1 2 1.2 1.9 1.1 2 1.0 1.9 .8 2 .9 2 .7 1.9 .5 2 .1 1.9 -.1 2 -.3 2 -.2 1.9 .1 2 .5 2 .9 1.9 1.1 2 1.1 1.9 1.2 2 1.1 2 1.2 1.9 1.3 2 1.3 1.9 1.3 2 1.3 2 1.1 1.9 1.1 2 1.0 2 1.0 1.9 1.1 2 1.0 1.9 .9 2 .9 2 .6 1.9 .5 2 .5 2 .5 1.9 .4 2 .4 1.9 .3 2 .2 2 .2 1.9 .3 2 .6 1.9 .8 2 1.0 2 1.3 1.9 1.5 2 1.6 2 1.5 1.9 1.3 2 1.2 1.9 .9 2 .8 2 .6 1.9 .5 2 .3 1.9 .2 2 .1 2 .2 1.9 .4 2 .7 2 1.0 1.9 .8 2 .3 1.9 -.4 2 -.6 2 -.4 1.9 .0 2 .7 2 1.5 1.9 2.3 2 2.9 1.9 3.1 2 2.4"/><path d="M29.6,20.9l2 1.5 1.9 1.9 2 1.7 1.9 1.5 2 1.2 2 .8 1.9 .2 2 .0 2 -.1 1.9 .3 2 .4 1.9 .5 2 .6 2 .6 1.9 .4 2 .4 2 .5 1.9 .7 2 .9 1.9 1.1 2 1.1 2 1.0 1.9 .9 2 .9 1.9 .7 2 .7 2 .6 1.9 .6 2 .7 2 .7 1.9 .9 2 .8 1.9 .8 2 .7 2 .7 1.9 .8 2 .7 1.9 .9 2 .9 2 .9 1.9 1.0 2 .9 2 .9 1.9 .8 2 .8 1.9 .7 2 .9 2 1.1 1.9 1.2 2 1.3 2 1.3 1.9 1.3 2 1.4 1.9 1.5 2 1.4 2 1.5 1.9 1.6 2 1.7 1.9 1.8 2 1.8 2 1.2 1.9 .6 2 .0 2 -.1 1.9 -.2 2 .1 1.9 .1 2 .2 2 .3 1.9 .4 2 .5 1.9 .5 2 .6 2 .7 1.9 .8 2 1.0 2 1.1 1.9 1.0 2 .9 1.9 .7 2 .6 2 .8 1.9 .8 2 1.0 2 1.2 1.9 1.4 2 1.4 1.9 1.3 2 1.3"/><path d="M29.6,15.2l2 .9 1.9 1.2 2 .9 1.9 1.0 2 1.2 2 1.5 1.9 1.5 2 1.4 2 1.3 1.9 1.2 2 1.2 1.9 1.4 2 1.3 2 1.0 1.9 1.0 2 .9 2 1.0 1.9 .9 2 .8 1.9 .7 2 .7 2 .4 1.9 .1 2 .1 1.9 .0 2 .0 2 .2 1.9 .4 2 .8 2 1.0 1.9 1.2 2 1.1 1.9 1.0 2 .9 2 .9 1.9 1.1 2 1.3 1.9 1.3 2 1.4 2 1.2 1.9 1.1 2 1.0 2 .7 1.9 .6 2 .4 1.9 .3 2 .1 2 .2 1.9 .3 2 .7 2 .7 1.9 .8 2 .5 1.9 .2 2 .1 2 .0 1.9 .1 2 .2 1.9 .6 2 .7 2 1.0 1.9 1.1 2 1.4 2 1.6 1.9 1.6 2 1.6 1.9 1.5 2 1.3 2 1.0 1.9 .8 2 .5 1.9 .4 2 .4 2 .5 1.9 .8 2 1.2 2 1.4 1.9 1.2 2 .3 1.9 -.4 2 -.5 2 -.1 1.9 .2 2 1.1 2 1.8 1.9 2.6 2 3.0 1.9 3.1 2 2.3"/><path d="M29.6,18.5l2 1.6 1.9 2.0 2 3.1 1.9 3.2 2 2.8 2 1.7 1.9 .2 2 -.8 2 -1.0 1.9 -.5 2 -.1 1.9 .2 2 .4 2 .2 1.9 .2 2 .4 2 .8 1.9 1.1 2 1.2 1.9 1.4 2 1.3 2 1.1 1.9 1.1 2 1.2 1.9 1.1 2 1.0 2 .8 1.9 .6 2 .6 2 .5 1.9 .6 2 .7 1.9 .7 2 .7 2 .7 1.9 .8 2 .8 1.9 .9 2 1.0 2 1.0 1.9 1.1 2 1.0 2 1.1 1.9 1.2 2 1.3 1.9 1.3 2 1.4 2 1.3 1.9 1.3 2 1.1 2 .8 1.9 .5 2 .4 1.9 .4 2 .4 2 .4 1.9 .4 2 .4 1.9 .1 2 .1 2 .2 1.9 .3 2 .6 2 .8 1.9 1.1 2 1.2 1.9 1.2 2 1.3 2 1.2 1.9 1.2 2 1.2 1.9 1.2 2 1.3 2 1.4 1.9 1.3 2 1.2 2 .9 1.9 .8 2 .7 1.9 .7 2 .8 2 .8 1.9 .8 2 .7 2 .6 1.9 .6 2 .4 1.9 .7 2 .8"/><path d="M29.6,22.2l2 1.5 1.9 2.0 2 2.0 1.9 1.8 2 1.4 2 .9 1.9 .2 2 -.3 2 -.5 1.9 -.1 2 .3 1.9 .4 2 .5 2 .5 1.9 .6 2 .6 2 .8 1.9 .7 2 .6 1.9 .7 2 .7 2 .8 1.9 1.0 2 1.0 1.9 1.1 2 1.3 2 1.2 1.9 1.2 2 1.1 2 .8 1.9 .7 2 .6 1.9 .6 2 .7 2 .8 1.9 .8 2 .9 1.9 1.1 2 1.1 2 1.2 1.9 1.2 2 1.2 2 1.2 1.9 1.1 2 .9 1.9 .9 2 .7 2 .8 1.9 .9 2 1.1 2 1.2 1.9 1.2 2 1.1 1.9 1.0 2 .9 2 1.1 1.9 1.2 2 1.2 1.9 1.3 2 1.0 2 .6 1.9 .1 2 -.2 2 -.1 1.9 .0 2 .3 1.9 .5 2 .7 2 .8 1.9 1.0 2 1.2 1.9 1.4 2 1.6 2 1.5 1.9 1.5 2 1.1 2 .8 1.9 .6 2 .5 1.9 .6 2 .8 2 .8 1.9 .8 2 .7 2 .5 1.9 .5 2 .4 1.9 .6 2 .4"/><path d="M29.6,15.5l2 1.4 1.9 1.5 2 1.1 1.9 1.3 2 1.4 2 1.4 1.9 1.3 2 1.1 2 1.1 1.9 .9 2 .8 1.9 .7 2 .7 2 .6 1.9 .5 2 .4 2 .4 1.9 .3 2 .5 1.9 .5 2 .6 2 .4 1.9 .2 2 .1 1.9 .3 2 .5 2 .8 1.9 1.0 2 1.3 2 1.4 1.9 1.4 2 1.2 1.9 .9 2 .7 2 .7 1.9 .8 2 1.1 1.9 1.3 2 1.5 2 1.5 1.9 1.4 2 1.3 2 1.1 1.9 1.0 2 .8 1.9 .8 2 .7 2 .8 1.9 .7 2 .8 2 .8 1.9 .7 2 .6 1.9 .5 2 .4 2 .4 1.9 .6 2 .6 1.9 .9 2 .8 2 .8 1.9 .9 2 .7 2 .9 1.9 .9 2 1.0 1.9 1.0 2 1.0 2 .9 1.9 .8 2 .8 1.9 .6 2 .8 2 1.0 1.9 1.3 2 1.5 2 1.6 1.9 1.4 2 1.0 1.9 .7 2 .7 2 .5 1.9 .5 2 .5 2 .7 1.9 .9 2 1.3 1.9 1.8 2 1.5"/><path d="M29.6,17.8l2 1.7 1.9 1.6 2 1.5 1.9 2.3 2 2.3 2 2.2 1.9 1.6 2 .9 2 .3 1.9 .4 2 .5 1.9 .5 2 .4 2 .2 1.9 .3 2 .6 2 .6 1.9 .6 2 .6 1.9 .7 2 .8 2 .8 1.9 1.0 2 1.1 1.9 1.2 2 1.2 2 1.2 1.9 1.1 2 .8 2 .6 1.9 .6 2 .4 1.9 .6 2 .6 2 .8 1.9 .8 2 .9 1.9 1.0 2 1.1 2 1.2 1.9 1.2 2 1.3 2 1.3 1.9 1.2 2 1.1 1.9 .9 2 .7 2 .6 1.9 .6 2 .4 2 .5 1.9 .6 2 .7 1.9 .8 2 .9 2 1.0 1.9 1.1 2 1.2 1.9 1.3 2 1.1 2 .9 1.9 .5 2 .1 2 .1 1.9 .2 2 .1 1.9 .3 2 .5 2 .6 1.9 .7 2 .7 1.9 .9 2 1.2 2 1.4 1.9 1.7 2 2.1 2 2.2 1.9 1.7 2 1.3 1.9 1.2 2 1.2 2 1.3 1.9 1.3 2 1.0 2 .6 1.9 .1 2 .1 1.9 .7 2 .3"/><path d="M29.6,21.1l2 .8 1.9 .8 2 .5 1.9 .5 2 .5 2 .7 1.9 .8 2 .8 2 .7 1.9 .7 2 .5 1.9 .4 2 .2 2 .2 1.9 .2 2 .3 2 .5 1.9 .8 2 1.0 1.9 1.1 2 1.1 2 .9 1.9 .7 2 .5 1.9 .5 2 .5 2 .5 1.9 .7 2 .9 2 1.1 1.9 1.2 2 1.1 1.9 .8 2 .7 2 .8 1.9 .8 2 1.0 1.9 1.3 2 1.3 2 1.4 1.9 1.3 2 1.1 2 1.0 1.9 .8 2 .6 1.9 .5 2 .6 2 .6 1.9 .7 2 .9 2 .9 1.9 .9 2 .6 1.9 .5 2 .4 2 .4 1.9 .6 2 .8 1.9 1.2 2 1.5 2 1.7 1.9 1.9 2 1.9 2 1.8 1.9 1.6 2 1.2 1.9 1.0 2 .9 2 .6 1.9 .5 2 .4 1.9 .4 2 .2 2 .4 1.9 .4 2 .7 2 .8 1.9 .8 2 .2 1.9 -.3 2 -.7 2 -.9 1.9 -.6 2 -.1 2 .8 1.9 1.9 2 2.8 1.9 3.5 2 2.7"/><path d="M29.6,14.6l2 1.4 1.9 1.4 2 1.1 1.9 1.2 2 1.3 2 1.5 1.9 1.5 2 1.3 2 1.2 1.9 1.0 2 .9 1.9 .8 2 .8 2 .7 1.9 .7 2 .8 2 .8 1.9 1.0 2 1.1 1.9 1.1 2 1.1 2 1.0 1.9 1.0 2 .9 1.9 .9 2 .9 2 .7 1.9 .8 2 .8 2 .8 1.9 .8 2 .8 1.9 .9 2 .8 2 .7 1.9 .8 2 .8 1.9 .7 2 .8 2 .8 1.9 .8 2 .7 2 .6 1.9 .5 2 .4 1.9 .3 2 .4 2 .6 1.9 1.0 2 1.1 2 1.4 1.9 1.3 2 1.2 1.9 1.2 2 1.1 2 1.1 1.9 1.1 2 1.1 1.9 1.0 2 .9 2 .8 1.9 .9 2 .8 2 .9 1.9 .8 2 .9 1.9 .8 2 .8 2 .7 1.9 .8 2 .8 1.9 .8 2 .9 2 1.1 1.9 1.4 2 1.5 2 1.6 1.9 1.4 2 1.1 1.9 1.1 2 1.0 2 1.0 1.9 1.0 2 .9 2 .6 1.9 .5 2 .5 1.9 .7 2 .7"/><path d="M29.6,21.3l2 1.6 1.9 1.8 2 1.5 1.9 1.0 2 .6 2 .1 1.9 -.2 2 -.3 2 .1 1.9 .2 2 .0 1.9 -.3 2 -.4 2 -.4 1.9 -.2 2 .2 2 .7 1.9 1.1 2 1.6 1.9 1.8 2 1.7 2 1.4 1.9 1.2 2 1.2 1.9 1.2 2 1.2 2 1.1 1.9 1.2 2 1.1 2 1.1 1.9 1.1 2 .9 1.9 1.0 2 .8 2 1.0 1.9 1.0 2 1.1 1.9 1.2 2 1.1 2 1.1 1.9 1.2 2 1.1 2 1.1 1.9 1.1 2 1.1 1.9 .9 2 .9 2 .8 1.9 .7 2 .7 2 .6 1.9 .7 2 .6 1.9 .6 2 .7 2 .6 1.9 .7 2 .5 1.9 .6 2 .7 2 .7 1.9 .9 2 1.0 2 1.1 1.9 1.2 2 1.2 1.9 1.2 2 1.2 2 1.3 1.9 1.4 2 1.3 1.9 1.0 2 .7 2 .3 1.9 -.2 2 -.1 2 .0 1.9 .0 2 -.5 1.9 -1.1 2 -1.5 2 -1.4 1.9 -.9 2 .2 2 1.5 1.9 2.6 2 3.5 1.9 3.9 2 2.8"/><path d="M29.6,17.3l2 1.4 1.9 1.5 2 1.2 1.9 1.2 2 1.0 2 .9 1.9 .6 2 .5 2 .3 1.9 .0 2 -.2 1.9 -.3 2 -.1 2 .4 1.9 .8 2 1.1 2 1.4 1.9 1.4 2 1.4 1.9 1.2 2 1.1 2 .8 1.9 .5 2 .6 1.9 .8 2 .9 2 1.2 1.9 1.4 2 1.5 2 1.5 1.9 1.4 2 1.3 1.9 1.1 2 1.0 2 1.0 1.9 .9 2 1.0 1.9 .9 2 .8 2 .9 1.9 .8 2 .7 2 .7 1.9 .7 2 .6 1.9 .5 2 .6 2 .8 1.9 .9 2 1.2 2 1.2 1.9 1.2 2 1.2 1.9 1.1 2 1.2 2 1.1 1.9 1.0 2 1.0 1.9 1.0 2 .9 2 .9 1.9 .8 2 .9 2 .9 1.9 1.0 2 1.0 1.9 1.1 2 1.3 2 1.3 1.9 1.4 2 1.3 1.9 .9 2 .5 2 .0 1.9 -.4 2 -.3 2 -.1 1.9 -.1 2 -.4 1.9 -.9 2 -1.2 2 -.8 1.9 -.2 2 .6 2 1.6 1.9 2.4 2 2.9 1.9 3.2 2 2.3"/><path d="M29.6,18.4l2 .2 1.9 .4 2 .0 1.9 .0 2 .3 2 .8 1.9 1.0 2 1.2 2 1.0 1.9 .9 2 1.0 1.9 1.6 2 2.3 2 2.8 1.9 1.6 2 1.5 2 1.6 1.9 1.6 2 1.6 1.9 1.6 2 1.7 2 1.8 1.9 2.0 2 2.0 1.9 1.6 2 1.1 2 .5 1.9 -.4 2 -.8 2 -1.0 1.9 -.7 2 -.3 1.9 .0 2 .3 2 .2 1.9 .4 2 .7 1.9 .8 2 1.0 2 1.1 1.9 1.1 2 1.1 2 1.0 1.9 1.0 2 1.0 1.9 .8 2 .9 2 .7 1.9 .7 2 .7 2 .7 1.9 .8 2 .7 1.9 .8 2 .8 2 .9 1.9 1.1 2 1.2 1.9 1.2 2 1.2 2 1.1 1.9 .9 2 .7 2 .5 1.9 .5 2 .5 1.9 .5 2 .5 2 .6 1.9 .5 2 .5 1.9 .4 2 .4 2 .5 1.9 .7 2 1.0 2 1.1 1.9 1.0 2 .6 1.9 .3 2 .2 2 .5 1.9 .8 2 1.2 2 1.6 1.9 1.9 2 2.0 1.9 1.9 2 1.4"/><path d="M29.6,13.6l2 .6 1.9 .9 2 .2 1.9 .4 2 .9 2 1.6 1.9 1.8 2 2.0 2 1.8 1.9 1.7 2 2.0 1.9 2.4 2 1.8 2 1.3 1.9 1.2 2 1.1 2 1.2 1.9 1.1 2 .9 1.9 .9 2 .8 2 .8 1.9 .7 2 .4 1.9 .3 2 .2 2 .1 1.9 .2 2 .4 2 .6 1.9 .6 2 .7 1.9 .6 2 .5 2 .4 1.9 .5 2 .7 1.9 .9 2 1.2 2 1.2 1.9 1.3 2 1.2 2 1.1 1.9 1.2 2 1.1 1.9 1.2 2 1.3 2 1.3 1.9 1.4 2 1.4 2 1.1 1.9 .9 2 .7 1.9 .5 2 .5 2 .3 1.9 .2 2 .1 1.9 .1 2 .4 2 .6 1.9 1.0 2 1.3 2 1.4 1.9 1.5 2 1.3 1.9 1.1 2 .9 2 .8 1.9 .6 2 .4 1.9 .4 2 .3 2 .5 1.9 .6 2 1.0 2 1.2 1.9 1.0 2 .6 1.9 .3 2 .0 2 -.1 1.9 -.2 2 .1 2 .4 1.9 1.1 2 1.9 1.9 2.6 2 2.2"/><path d="M29.6,20.0l2 1.0 1.9 .9 2 .5 1.9 .6 2 .6 2 .6 1.9 .7 2 .8 2 .7 1.9 .6 2 .5 1.9 .5 2 .5 2 .5 1.9 .4 2 .5 2 .6 1.9 .6 2 .9 1.9 1.0 2 1.0 2 .9 1.9 .7 2 .8 1.9 1.1 2 1.2 2 1.4 1.9 1.5 2 1.6 2 1.5 1.9 1.4 2 1.2 1.9 1.2 2 1.0 2 1.0 1.9 1.0 2 .9 1.9 1.0 2 .9 2 1.0 1.9 .9 2 .9 2 .9 1.9 .8 2 .8 1.9 .6 2 .6 2 .5 1.9 .5 2 .6 2 .6 1.9 .7 2 .6 1.9 .7 2 .6 2 .8 1.9 .9 2 1.0 1.9 1.0 2 .9 2 .8 1.9 .6 2 .5 2 .5 1.9 .5 2 .7 1.9 .7 2 .9 2 .9 1.9 .9 2 .9 1.9 .9 2 .9 2 1.2 1.9 1.3 2 1.4 2 1.4 1.9 1.4 2 1.4 1.9 1.3 2 1.2 2 1.3 1.9 1.3 2 1.2 2 .9 1.9 .7 2 .5 1.9 .8 2 .5"/><path d="M29.6,17.6l2 .2 1.9 .5 2 .2 1.9 .4 2 .7 2 1.1 1.9 1.3 2 1.3 2 1.1 1.9 .8 2 .8 1.9 .7 2 .8 2 .8 1.9 .7 2 .6 2 .4 1.9 .5 2 .6 1.9 .7 2 .7 2 .5 1.9 .4 2 .3 1.9 .7 2 .9 2 1.4 1.9 1.6 2 1.9 2 2.0 1.9 1.9 2 1.6 1.9 1.6 2 1.4 2 1.4 1.9 1.1 2 1.1 1.9 1.1 2 .9 2 1.0 1.9 .8 2 .9 2 .9 1.9 .9 2 .8 1.9 .9 2 1.0 2 .9 1.9 1.0 2 1.1 2 1.0 1.9 1.1 2 1.0 1.9 1.1 2 1.1 2 1.3 1.9 1.5 2 1.7 1.9 1.8 2 1.8 2 1.1 1.9 .5 2 -.2 2 -.3 1.9 -.3 2 .1 1.9 .3 2 .5 2 .8 1.9 .9 2 1.0 1.9 1.2 2 1.1 2 1.1 1.9 .9 2 .6 2 .5 1.9 .4 2 .6 1.9 .6 2 .7 2 .8 1.9 .8 2 .7 2 .6 1.9 .5 2 .5 1.9 .8 2 .9"/><path d="M29.6,18.7l2 .4 1.9 .6 2 .4 1.9 .5 2 .8 2 1.0 1.9 1.2 2 1.2 2 1.1 1.9 1.0 2 .9 1.9 .7 2 .7 2 .5 1.9 .3 2 .4 2 .5 1.9 .8 2 1.2 1.9 1.3 2 1.4 2 1.3 1.9 1.3 2 1.3 1.9 1.3 2 1.3 2 1.2 1.9 1.1 2 .8 2 .8 1.9 .6 2 .6 1.9 .6 2 .5 2 .6 1.9 .7 2 .9 1.9 1.0 2 1.2 2 1.2 1.9 1.1 2 1.0 2 1.0 1.9 1.0 2 .7 1.9 .7 2 .7 2 .7 1.9 .8 2 .9 2 1.0 1.9 1.0 2 1.1 1.9 1.1 2 1.0 2 .9 1.9 1.0 2 1.0 1.9 1.0 2 1.1 2 1.2 1.9 1.2 2 1.2 2 1.2 1.9 1.1 2 1.2 1.9 1.2 2 1.4 2 1.5 1.9 1.4 2 1.2 1.9 .8 2 .3 2 .0 1.9 -.4 2 -.5 2 -.3 1.9 .2 2 .2 1.9 .2 2 .1 2 .5 1.9 .8 2 1.1 2 1.5 1.9 1.5 2 1.5 1.9 1.4 2 1.0"/><path d="M29.6,24.9l2 2.9 1.9 3.5 2 2.7 1.9 1.6 2 .6 2 -.3 1.9 -1.1 2 -1.5 2 -1.2 1.9 -.3 2 .2 1.9 .4 2 .5 2 .6 1.9 .7 2 .9 2 1.0 1.9 1.0 2 1.0 1.9 1.0 2 1.1 2 1.1 1.9 1.2 2 1.1 1.9 1.1 2 .8 2 .7 1.9 .5 2 .4 2 .4 1.9 .5 2 .5 1.9 .7 2 .7 2 .8 1.9 .8 2 .9 1.9 .8 2 .8 2 .8 1.9 .8 2 .6 2 .6 1.9 .5 2 .4 1.9 .4 2 .3 2 .3 1.9 .5 2 .8 2 .8 1.9 .8 2 .8 1.9 .6 2 .5 2 .5 1.9 .5 2 .6 1.9 .8 2 1.1 2 1.2 1.9 1.4 2 1.6 2 1.7 1.9 1.7 2 1.6 1.9 1.5 2 1.4 2 1.5 1.9 1.8 2 1.8 1.9 1.9 2 1.9 2 1.9 1.9 1.6 2 1.1 2 .4 1.9 .1 2 .2 1.9 .3 2 .7 2 1.0 1.9 1.1 2 1.1 2 1.0 1.9 .8 2 .7 1.9 2.4 2 2.4"/><path d="M29.6,14.4l2 1.2 1.9 1.4 2 .9 1.9 1.2 2 1.3 2 1.7 1.9 1.6 2 1.6 2 1.4 1.9 1.3 2 1.4 1.9 1.0 2 1.0 2 .8 1.9 .8 2 .8 2 .8 1.9 .9 2 .8 1.9 .9 2 1.0 2 .9 1.9 1.0 2 .9 1.9 .8 2 .7 2 .5 1.9 .5 2 .6 2 .7 1.9 .8 2 .8 1.9 .9 2 .8 2 .8 1.9 .8 2 .8 1.9 .7 2 .7 2 .7 1.9 .7 2 .6 2 .5 1.9 .3 2 .3 1.9 .0 2 .2 2 .4 1.9 .7 2 1.0 2 1.2 1.9 1.0 2 .8 1.9 .5 2 .3 2 .0 1.9 .0 2 .1 1.9 .3 2 .6 2 1.0 1.9 1.4 2 1.8 2 2.2 1.9 2.3 2 2.2 1.9 1.9 2 1.7 2 1.4 1.9 1.2 2 1.0 1.9 .8 2 .7 2 .5 1.9 .2 2 .3 2 .3 1.9 .3 2 -.3 1.9 -1.0 2 -1.4 2 -1.0 1.9 -.5 2 .7 2 1.8 1.9 2.9 2 3.6 1.9 3.7 2 2.7"/><path d="M29.6,21.1l2 .4 1.9 .1 2 .3 1.9 .5 2 .5 2 .8 1.9 .9 2 1.1 2 1.0 1.9 1.1 2 1.2 1.9 1.3 2 1.1 2 1.0 1.9 1.0 2 1.0 2 1.1 1.9 1.2 2 1.1 1.9 1.1 2 1.2 2 1.2 1.9 1.3 2 1.2 1.9 1.0 2 .7 2 .3 1.9 .1 2 .0 2 .1 1.9 .3 2 .5 1.9 .5 2 .6 2 .5 1.9 .7 2 .7 1.9 .9 2 1.0 2 1.0 1.9 1.1 2 1.0 2 1.0 1.9 .9 2 1.0 1.9 1.0 2 1.1 2 1.1 1.9 1.3 2 1.4 2 1.4 1.9 1.1 2 .9 1.9 .7 2 .5 2 .5 1.9 .3 2 -.1 1.9 -.1 2 -.1 2 .1 1.9 .6 2 1.0 2 1.3 1.9 1.6 2 1.6 1.9 1.4 2 1.4 2 1.1 1.9 1.1 2 1.0 1.9 .9 2 .8 2 .8 1.9 .8 2 .8 2 1.0 1.9 1.1 2 1.2 1.9 1.4 2 1.4 2 1.7 1.9 1.8 2 1.8 2 1.4 1.9 .9 2 .6 1.9 1.6 2 1.2"/><path d="M29.6,16.3l2 1.2 1.9 1.3 2 1.2 1.9 1.3 2 1.6 2 1.7 1.9 2.1 2 2.1 2 1.4 1.9 1.0 2 1.0 1.9 .8 2 .6 2 .4 1.9 .6 2 .6 2 .8 1.9 .7 2 .6 1.9 .6 2 .7 2 .7 1.9 .7 2 .7 1.9 .8 2 .8 2 .9 1.9 1.0 2 1.1 2 1.1 1.9 1.1 2 1.1 1.9 1.0 2 1.1 2 1.1 1.9 1.0 2 1.1 1.9 1.1 2 1.2 2 1.1 1.9 1.0 2 1.0 2 .9 1.9 .8 2 .5 1.9 .4 2 .2 2 .1 1.9 .2 2 .3 2 .6 1.9 .7 2 .8 1.9 .8 2 .9 2 .9 1.9 1.1 2 1.2 1.9 1.3 2 1.5 2 1.5 1.9 1.5 2 1.3 2 1.0 1.9 .9 2 .8 1.9 .7 2 .6 2 .5 1.9 .4 2 .3 1.9 .5 2 .9 2 1.6 1.9 2.0 2 2.3 2 1.9 1.9 1.3 2 .9 1.9 .7 2 .8 2 .7 1.9 .5 2 .1 2 -.4 1.9 -.6 2 -.6 1.9 -.5 2 .4"/><path d="M29.6,21.8l2 1.0 1.9 .7 2 .2 1.9 -.1 2 .4 2 .8 1.9 1.0 2 1.2 2 1.3 1.9 1.2 2 1.1 1.9 1.0 2 .8 2 .6 1.9 .7 2 .7 2 .8 1.9 .7 2 .8 1.9 .7 2 .9 2 .9 1.9 1.0 2 1.1 1.9 1.3 2 1.3 2 1.2 1.9 1.1 2 .8 2 .6 1.9 .5 2 .5 1.9 .5 2 .6 2 .7 1.9 .8 2 .9 1.9 1.1 2 1.1 2 1.2 1.9 1.3 2 1.4 2 1.4 1.9 1.4 2 1.3 1.9 1.2 2 1.0 2 .9 1.9 .7 2 .5 2 .4 1.9 .3 2 .4 1.9 .4 2 .5 2 .8 1.9 .8 2 .9 1.9 1.0 2 .9 2 .7 1.9 .6 2 .5 2 .4 1.9 .5 2 .5 1.9 .5 2 .6 2 .7 1.9 .7 2 .6 1.9 .8 2 .8 2 1.0 1.9 1.1 2 1.4 2 1.4 1.9 1.4 2 1.3 1.9 1.2 2 1.2 2 1.2 1.9 1.3 2 1.2 2 1.1 1.9 .9 2 .7 1.9 1.4 2 1.4"/><path d="M29.6,16.8l2 1.1 1.9 1.1 2 .7 1.9 .7 2 .8 2 1.0 1.9 1.1 2 1.0 2 1.0 1.9 .8 2 .7 1.9 .9 2 1.0 2 1.1 1.9 1.2 2 1.0 2 .9 1.9 .8 2 .7 1.9 .8 2 .7 2 .6 1.9 .6 2 .7 1.9 .9 2 1.1 2 1.2 1.9 1.4 2 1.3 2 1.2 1.9 1.0 2 .9 1.9 .8 2 .6 2 .4 1.9 .4 2 .4 1.9 .5 2 .7 2 .8 1.9 1.0 2 1.0 2 1.0 1.9 1.0 2 1.0 1.9 1.1 2 1.2 2 1.2 1.9 1.3 2 1.2 2 1.0 1.9 1.0 2 1.0 1.9 .9 2 1.0 2 1.1 1.9 1.1 2 1.3 1.9 1.3 2 1.4 2 1.2 1.9 1.0 2 .7 2 .6 1.9 .6 2 .7 1.9 .8 2 1.0 2 1.1 1.9 1.3 2 1.3 1.9 1.2 2 1.0 2 .9 1.9 .5 2 .3 2 .1 1.9 .2 2 .4 1.9 .5 2 .6 2 .5 1.9 .4 2 .4 2 .5 1.9 .6 2 .9 1.9 1.2 2 1.2"/><path d="M29.6,18.5l2 1.0 1.9 1.1 2 1.1 1.9 1.1 2 1.1 2 1.2 1.9 1.4 2 1.2 2 .9 1.9 .9 2 .9 1.9 1.0 2 .8 2 .9 1.9 .9 2 1.0 2 1.1 1.9 1.2 2 1.1 1.9 1.2 2 1.3 2 1.4 1.9 1.5 2 1.4 1.9 1.1 2 .7 2 .2 1.9 -.1 2 -.3 2 -.3 1.9 .0 2 .2 1.9 .3 2 .3 2 .3 1.9 .5 2 .7 1.9 .9 2 1.2 2 1.3 1.9 1.3 2 1.2 2 1.2 1.9 1.1 2 1.1 1.9 1.0 2 .9 2 .9 1.9 .7 2 .7 2 .6 1.9 .5 2 .5 1.9 .5 2 .5 2 .7 1.9 .9 2 1.3 1.9 1.5 2 1.7 2 1.8 1.9 1.6 2 1.4 2 1.3 1.9 1.1 2 1.1 1.9 1.2 2 1.4 2 1.6 1.9 1.7 2 1.9 1.9 1.7 2 1.5 2 1.4 1.9 .8 2 .3 2 -.2 1.9 -.4 2 -.1 1.9 .0 2 .4 2 .5 1.9 .4 2 .2 2 .0 1.9 -.4 2 -.5 1.9 .5 2 1.0"/><path d="M29.6,23.6l2 1.7 1.9 2.1 2 1.7 1.9 1.4 2 1.2 2 .9 1.9 .5 2 -.1 2 -.4 1.9 .1 2 .3 1.9 .5 2 .3 2 .2 1.9 .4 2 .5 2 .7 1.9 .6 2 .5 1.9 .6 2 .5 2 .4 1.9 .6 2 .6 1.9 .7 2 .8 2 .9 1.9 .9 2 1.0 2 1.1 1.9 1.0 2 .9 1.9 1.0 2 1.0 2 1.0 1.9 1.2 2 1.1 1.9 1.1 2 1.3 2 1.4 1.9 1.4 2 1.5 2 1.6 1.9 1.7 2 1.6 1.9 1.4 2 1.1 2 .8 1.9 .5 2 -.1 2 -.3 1.9 -.6 2 -.4 1.9 -.1 2 .1 2 .0 1.9 .1 2 .4 1.9 .9 2 1.2 2 1.6 1.9 2.0 2 2.0 2 1.7 1.9 1.6 2 1.4 1.9 1.4 2 1.2 2 1.3 1.9 1.1 2 .8 1.9 .6 2 .4 2 .3 1.9 .2 2 .3 2 .4 1.9 .5 2 .6 1.9 .7 2 .6 2 .5 1.9 .5 2 .5 2 .7 1.9 .9 2 1.1 1.9 1.3 2 1.2"/><path d="M29.6,17.2l2 1.2 1.9 1.3 2 1.0 1.9 1.2 2 1.3 2 1.5 1.9 1.8 2 2.0 2 1.4 1.9 1.2 2 1.2 1.9 1.1 2 .9 2 .7 1.9 .7 2 1.0 2 1.1 1.9 1.0 2 .9 1.9 .9 2 .9 2 .9 1.9 1.0 2 .9 1.9 .9 2 .8 2 .7 1.9 .6 2 .3 2 .3 1.9 .2 2 .3 1.9 .4 2 .4 2 .3 1.9 .3 2 .3 1.9 .5 2 .6 2 .8 1.9 .9 2 .9 2 .8 1.9 .8 2 .7 1.9 .8 2 .8 2 .9 1.9 1.1 2 1.1 2 1.2 1.9 1.1 2 .9 1.9 .8 2 .8 2 .6 1.9 .6 2 .4 1.9 .3 2 .3 2 .3 1.9 .4 2 .5 2 .8 1.9 1.0 2 1.3 1.9 1.3 2 1.4 2 1.2 1.9 1.2 2 1.0 1.9 1.0 2 .8 2 .7 1.9 .6 2 .6 2 .7 1.9 .4 2 -.1 1.9 -.7 2 -1.1 2 -.8 1.9 -.3 2 .4 2 1.3 1.9 2.3 2 2.9 1.9 3.5 2 2.6"/><path d="M29.6,17.0l2 1.2 1.9 1.3 2 1.2 1.9 1.3 2 1.4 2 1.4 1.9 1.5 2 1.3 2 1.0 1.9 .8 2 .8 1.9 .8 2 .8 2 .8 1.9 .7 2 .8 2 .8 1.9 .8 2 .7 1.9 .6 2 .5 2 .5 1.9 .5 2 .6 1.9 .8 2 1.0 2 1.0 1.9 1.2 2 1.1 2 1.1 1.9 .9 2 1.0 1.9 .8 2 .8 2 .8 1.9 .8 2 .9 1.9 .9 2 1.0 2 .9 1.9 .8 2 .8 2 .7 1.9 .6 2 .4 1.9 .2 2 .1 2 .1 1.9 .2 2 .4 2 .7 1.9 .6 2 .4 1.9 .2 2 .1 2 .1 1.9 .2 2 .5 1.9 .8 2 .8 2 .9 1.9 1.0 2 1.0 2 1.2 1.9 1.3 2 1.4 1.9 1.4 2 1.3 2 1.0 1.9 .9 2 .6 1.9 .3 2 .2 2 .3 1.9 .3 2 .8 2 1.2 1.9 .9 2 -.1 1.9 -.9 2 -.8 2 .2 1.9 1.3 2 2.5 2 3.5 1.9 3.8 2 3.5 1.9 2.9 2 1.8"/><path d="M29.6,21.0l2 1.4 1.9 1.7 2 1.5 1.9 1.3 2 1.2 2 .9 1.9 .7 2 .4 2 .2 1.9 .4 2 .6 1.9 .6 2 .5 2 .5 1.9 .6 2 .7 2 .8 1.9 .7 2 .8 1.9 .8 2 .8 2 .7 1.9 .6 2 .4 1.9 .3 2 .2 2 .1 1.9 .3 2 .4 2 .7 1.9 1.0 2 .9 1.9 1.0 2 .9 2 1.0 1.9 1.2 2 1.5 1.9 1.7 2 1.7 2 1.5 1.9 1.5 2 1.5 2 1.5 1.9 1.5 2 1.5 1.9 1.3 2 1.2 2 1.0 1.9 .9 2 .7 2 .5 1.9 .4 2 .4 1.9 .5 2 .7 2 .8 1.9 1.2 2 1.2 1.9 1.3 2 1.3 2 1.0 1.9 .6 2 .1 2 .1 1.9 .2 2 .2 1.9 .4 2 .4 2 .6 1.9 .6 2 .7 1.9 .7 2 .8 2 .9 1.9 1.1 2 1.1 2 1.2 1.9 1.1 2 1.0 1.9 1.0 2 .9 2 .8 1.9 .8 2 .4 2 .2 1.9 .3 2 .5 1.9 1.0 2 1.1"/><path d="M29.6,18.0l2 1.1 1.9 1.1 2 .9 1.9 .9 2 1.0 2 1.1 1.9 1.1 2 1.2 2 1.2 1.9 1.2 2 1.1 1.9 .9 2 .9 2 .7 1.9 .8 2 .9 2 .8 1.9 .9 2 .9 1.9 1.0 2 1.0 2 1.1 1.9 1.1 2 1.1 1.9 1.0 2 .8 2 .7 1.9 .6 2 .6 2 .7 1.9 .9 2 .9 1.9 1.0 2 1.0 2 1.1 1.9 1.0 2 1.1 1.9 1.1 2 1.1 2 1.0 1.9 1.0 2 1.0 2 .9 1.9 .9 2 .7 1.9 .7 2 .5 2 .4 1.9 .5 2 .4 2 .5 1.9 .7 2 .8 1.9 1.0 2 1.1 2 1.2 1.9 1.3 2 1.6 1.9 1.7 2 1.8 2 1.6 1.9 1.1 2 .6 2 .4 1.9 .3 2 .5 1.9 .5 2 .6 2 .7 1.9 .6 2 .6 1.9 .5 2 .5 2 .5 1.9 .6 2 .7 2 .8 1.9 .9 2 1.0 1.9 1.1 2 1.1 2 1.2 1.9 1.2 2 1.2 2 1.1 1.9 .8 2 .7 1.9 1.1 2 1.0"/><path d="M29.6,19.5l2 2.0 1.9 2.8 2 3.4 1.9 3.5 2 3.1 2 2.2 1.9 .8 2 -.5 2 -1.2 1.9 -.7 2 .0 1.9 .0 2 .0 2 -.1 1.9 .2 2 .4 2 .5 1.9 .4 2 .5 1.9 .4 2 .1 2 .3 1.9 .4 2 .5 1.9 .7 2 .9 2 1.0 1.9 1.1 2 1.2 2 1.1 1.9 1.0 2 1.0 1.9 .9 2 .9 2 .8 1.9 1.0 2 1.0 1.9 1.2 2 1.2 2 1.1 1.9 1.3 2 1.3 2 1.5 1.9 1.5 2 1.5 1.9 1.5 2 1.3 2 1.1 1.9 .8 2 .5 2 .1 1.9 .0 2 .0 1.9 .1 2 .4 2 .5 1.9 .6 2 .6 1.9 .8 2 .8 2 .8 1.9 .9 2 1.0 2 1.0 1.9 1.0 2 1.2 1.9 1.2 2 1.3 2 1.5 1.9 1.8 2 2.0 1.9 1.8 2 1.7 2 1.4 1.9 .8 2 .3 2 -.1 1.9 -.2 2 .2 1.9 .4 2 .6 2 .9 1.9 .9 2 .9 2 .7 1.9 .5 2 .5 1.9 .7 2 .5"/><path d="M29.6,18.0l2 .5 1.9 .5 2 .2 1.9 .2 2 .4 2 .8 1.9 1.0 2 1.2 2 1.0 1.9 .7 2 .7 1.9 .9 2 1.3 2 1.5 1.9 1.6 2 1.7 2 1.6 1.9 1.5 2 1.1 1.9 1.0 2 1.1 2 1.1 1.9 1.1 2 1.1 1.9 1.0 2 .9 2 .8 1.9 .5 2 .4 2 .3 1.9 .4 2 .4 1.9 .4 2 .4 2 .5 1.9 .6 2 1.0 1.9 1.3 2 1.4 2 1.5 1.9 1.4 2 1.4 2 1.3 1.9 1.3 2 1.2 1.9 .9 2 .7 2 .4 1.9 .2 2 .2 2 .4 1.9 .3 2 .2 1.9 .1 2 -.1 2 -.2 1.9 -.3 2 -.1 1.9 .2 2 .5 2 .8 1.9 1.2 2 1.4 2 1.7 1.9 1.8 2 1.7 1.9 1.4 2 1.2 2 1.0 1.9 .7 2 .5 1.9 .3 2 .2 2 .3 1.9 .4 2 .8 2 1.1 1.9 .9 2 .0 1.9 -.8 2 -1.1 2 -.7 1.9 -.3 2 .5 2 1.5 1.9 2.5 2 3.4 1.9 3.8 2 3.0"/><path d="M29.6,13.8l2 1.6 1.9 1.8 2 1.1 1.9 1.3 2 1.3 2 1.3 1.9 1.2 2 .9 2 .7 1.9 .4 2 .2 1.9 .3 2 .7 2 1.2 1.9 1.6 2 1.9 2 2.0 1.9 1.9 2 1.3 1.9 1.1 2 1.1 2 1.0 1.9 1.0 2 .7 1.9 .6 2 .3 2 .3 1.9 .3 2 .5 2 .6 1.9 .9 2 .9 1.9 .9 2 .8 2 .9 1.9 .8 2 .9 1.9 .8 2 .9 2 .9 1.9 1.0 2 .9 2 .8 1.9 .9 2 .8 1.9 .8 2 .7 2 .7 1.9 .7 2 .6 2 .5 1.9 .5 2 .3 1.9 .0 2 .0 2 .0 1.9 .2 2 .6 1.9 1.1 2 1.4 2 1.7 1.9 1.9 2 1.9 2 1.8 1.9 1.6 2 1.3 1.9 1.1 2 .9 2 .7 1.9 .5 2 .4 1.9 .2 2 .1 2 .0 1.9 .2 2 .6 2 .9 1.9 .9 2 .3 1.9 -.2 2 -.1 2 .4 1.9 .9 2 1.4 2 1.5 1.9 1.8 2 1.9 1.9 2.2 2 1.8"/><path d="M29.6,19.1l2 1.3 1.9 1.1 2 1.3 1.9 1.2 2 1.1 2 .7 1.9 .6 2 .6 2 .6 1.9 .9 2 .9 1.9 1.0 2 1.1 2 1.1 1.9 1.1 2 1.2 2 1.4 1.9 1.5 2 1.4 1.9 1.5 2 1.7 2 1.8 1.9 1.9 2 1.9 1.9 1.7 2 1.1 2 .6 1.9 .0 2 -.4 2 -.5 1.9 -.3 2 -.1 1.9 .2 2 .4 2 .4 1.9 .5 2 .5 1.9 .5 2 .3 2 .3 1.9 .5 2 .6 2 .7 1.9 .7 2 .8 1.9 .8 2 1.1 2 1.3 1.9 1.4 2 1.4 2 1.5 1.9 1.6 2 1.5 1.9 1.2 2 1.1 2 1.0 1.9 1.2 2 1.2 1.9 1.2 2 1.1 2 .7 1.9 .3 2 .1 2 .2 1.9 .3 2 .5 1.9 .7 2 .8 2 1.0 1.9 1.1 2 1.4 1.9 1.4 2 1.5 2 1.4 1.9 1.2 2 .8 2 .5 1.9 .3 2 .4 1.9 .5 2 .6 2 .7 1.9 .7 2 .6 2 .6 1.9 .6 2 .7 1.9 .7 2 .8"/><path d="M29.6,15.3l2 .9 1.9 1.0 2 .7 1.9 .8 2 1.3 2 1.6 1.9 1.7 2 1.7 2 1.5 1.9 1.3 2 1.2 1.9 .9 2 .4 2 -.1 1.9 -.5 2 -.7 2 -.4 1.9 .2 2 1.0 1.9 1.4 2 1.6 2 1.4 1.9 1.2 2 1.2 1.9 1.1 2 1.2 2 1.1 1.9 1.1 2 1.3 2 1.2 1.9 1.3 2 1.3 1.9 1.2 2 1.2 2 1.1 1.9 1.2 2 1.0 1.9 .9 2 .9 2 .8 1.9 .7 2 .8 2 .7 1.9 .8 2 .7 1.9 .8 2 .7 2 .9 1.9 .8 2 .9 2 .9 1.9 .8 2 .8 1.9 .7 2 .6 2 .5 1.9 .4 2 .4 1.9 .4 2 .5 2 .6 1.9 .8 2 1.0 2 1.2 1.9 1.4 2 1.5 1.9 1.4 2 1.5 2 1.3 1.9 1.5 2 1.7 1.9 1.8 2 1.5 2 1.4 1.9 .8 2 .5 2 .2 1.9 .1 2 .2 1.9 .3 2 .2 2 -.2 1.9 -.2 2 -.2 2 .2 1.9 .7 2 1.3 1.9 1.9 2 1.7"/><path d="M29.6,20.7l2 1.5 1.9 2.0 2 2.0 1.9 2.0 2 1.7 2 1.2 1.9 .5 2 -.2 2 -.4 1.9 -.1 2 .2 1.9 .3 2 .2 2 .4 1.9 -.5 2 -.5 2 -.2 1.9 .4 2 .9 1.9 1.3 2 1.5 2 1.3 1.9 1.3 2 1.3 1.9 1.2 2 1.2 2 1.1 1.9 1.1 2 1.0 2 1.0 1.9 .9 2 1.0 1.9 .9 2 .9 2 .7 1.9 .7 2 .6 1.9 .5 2 .5 2 .5 1.9 .5 2 .6 2 .5 1.9 .4 2 .4 1.9 .3 2 .5 2 .8 1.9 1.0 2 1.3 2 1.4 1.9 1.3 2 1.2 1.9 1.0 2 1.0 2 .9 1.9 .9 2 .8 1.9 .9 2 .9 2 1.1 1.9 1.0 2 1.2 2 1.1 1.9 1.0 2 .9 1.9 .8 2 .5 2 .5 1.9 .3 2 .0 1.9 .0 2 -.1 2 .1 1.9 .4 2 1.0 2 1.5 1.9 1.4 2 .9 1.9 .6 2 .9 2 1.3 1.9 1.6 2 1.6 2 1.4 1.9 1.1 2 1.1 1.9 1.1 2 1.2"/><path d="M29.6,19.6l2 1.3 1.9 1.6 2 1.8 1.9 1.9 2 1.7 2 1.3 1.9 .7 2 .2 2 .0 1.9 .3 2 .4 1.9 .5 2 .5 2 .5 1.9 .7 2 .7 2 .5 1.9 .5 2 .8 1.9 1.0 2 1.0 2 1.1 1.9 1.2 2 1.1 1.9 1.3 2 1.2 2 1.1 1.9 .9 2 .7 2 .4 1.9 .3 2 .4 1.9 .3 2 .3 2 .3 1.9 .4 2 .7 1.9 1.0 2 1.2 2 1.4 1.9 1.3 2 1.3 2 1.3 1.9 1.3 2 1.4 1.9 1.4 2 1.4 2 1.3 1.9 1.2 2 1.1 2 .9 1.9 .7 2 .4 1.9 .4 2 .5 2 .4 1.9 .5 2 .4 1.9 .2 2 .1 2 .1 1.9 .2 2 .4 2 .7 1.9 .9 2 1.1 1.9 1.2 2 1.1 2 1.0 1.9 1.0 2 .9 1.9 .9 2 .8 2 .9 1.9 .9 2 1.0 2 1.2 1.9 1.2 2 1.1 1.9 1.4 2 1.6 2 1.6 1.9 1.6 2 1.7 2 1.5 1.9 1.2 2 .8 1.9 1.6 2 1.5"/><path d="M29.6,21.6l2 2.0 1.9 2.6 2 2.4 1.9 1.6 2 .6 2 -.5 1.9 -1.4 2 -1.3 2 -.6 1.9 -.3 2 -.5 1.9 -.4 2 .0 2 .8 1.9 1.6 2 2.1 2 2.3 1.9 2.1 2 1.6 1.9 1.1 2 1.0 2 .9 1.9 .7 2 .7 1.9 .5 2 .4 2 .5 1.9 .6 2 .7 2 .8 1.9 .9 2 .9 1.9 .8 2 .8 2 .8 1.9 1.0 2 1.0 1.9 1.2 2 1.3 2 1.3 1.9 1.3 2 1.5 2 1.8 1.9 2.0 2 2.3 1.9 2.3 2 2.3 2 2.2 1.9 1.9 2 1.2 2 .6 1.9 -.1 2 -.5 1.9 -.7 2 -.4 2 .0 1.9 .2 2 .4 1.9 .5 2 .6 2 .6 1.9 .8 2 .9 2 1.1 1.9 1.2 2 1.2 1.9 1.4 2 1.7 2 1.9 1.9 2.1 2 2.3 1.9 2.3 2 2.1 2 1.9 1.9 1.3 2 .5 2 -.4 1.9 -.9 2 -.8 1.9 -.4 2 -.1 2 .0 1.9 -.1 2 -.2 2 -.2 1.9 -.3 2 -.1 1.9 .8 2 1.1"/><path d="M29.6,20.1l2 1.4 1.9 1.7 2 1.7 1.9 1.7 2 1.3 2 .9 1.9 .4 2 .0 2 .0 1.9 .2 2 .5 1.9 .5 2 .6 2 .2 1.9 .2 2 .3 2 .3 1.9 .5 2 .8 1.9 .8 2 .9 2 .7 1.9 .5 2 .5 1.9 .5 2 .6 2 .8 1.9 .9 2 1.2 2 1.3 1.9 1.3 2 1.3 1.9 1.1 2 1.1 2 1.1 1.9 1.1 2 1.3 1.9 1.2 2 1.2 2 1.1 1.9 1.0 2 .9 2 .9 1.9 .8 2 .8 1.9 .7 2 .7 2 .8 1.9 .9 2 1.0 2 1.1 1.9 1.1 2 1.2 1.9 1.2 2 1.2 2 1.1 1.9 1.2 2 1.1 1.9 1.1 2 .9 2 .5 1.9 .3 2 .0 2 .1 1.9 .1 2 .4 1.9 .7 2 .8 2 .9 1.9 .9 2 1.0 1.9 1.0 2 .9 2 1.0 1.9 1.0 2 .9 2 .9 1.9 .7 2 .5 1.9 .1 2 .0 2 .1 1.9 .4 2 .8 2 1.4 1.9 1.9 2 2.1 1.9 2.0 2 1.5"/><path d="M29.6,18.3l2 1.0 1.9 1.0 2 .8 1.9 .9 2 1.0 2 1.1 1.9 1.2 2 1.2 2 1.4 1.9 1.4 2 1.2 1.9 1.2 2 1.1 2 .9 1.9 .9 2 1.0 2 1.2 1.9 1.0 2 .9 1.9 .8 2 .9 2 .9 1.9 .9 2 .8 1.9 .8 2 .6 2 .7 1.9 .5 2 .5 2 .4 1.9 .4 2 .5 1.9 .5 2 .5 2 .4 1.9 .5 2 .6 1.9 .7 2 1.0 2 1.1 1.9 1.1 2 1.1 2 1.0 1.9 1.0 2 1.0 1.9 1.1 2 1.0 2 .9 1.9 1.0 2 .8 2 .8 1.9 .7 2 .6 1.9 .4 2 .3 2 .0 1.9 -.1 2 -.2 1.9 -.2 2 .0 2 .2 1.9 .5 2 .8 2 1.3 1.9 1.5 2 1.6 1.9 1.6 2 1.5 2 1.3 1.9 1.1 2 .9 1.9 .9 2 .8 2 .9 1.9 1.0 2 1.2 2 1.2 1.9 1.1 2 .8 1.9 .6 2 .7 2 .9 1.9 1.1 2 1.3 2 1.4 1.9 1.4 2 1.3 1.9 1.2 2 1.1"/><path d="M29.6,19.0l2 1.3 1.9 1.3 2 2.1 1.9 2.3 2 2.4 2 1.9 1.9 1.3 2 .5 2 .1 1.9 .2 2 .6 1.9 .6 2 .5 2 .4 1.9 .5 2 .8 2 .9 1.9 .8 2 .8 1.9 .6 2 .7 2 .6 1.9 .4 2 .2 1.9 .0 2 -.1 2 -.1 1.9 .2 2 .4 2 .7 1.9 .9 2 .9 1.9 .8 2 .8 2 .8 1.9 1.1 2 1.3 1.9 1.6 2 1.6 2 1.7 1.9 1.4 2 1.5 2 1.4 1.9 1.5 2 1.5 1.9 1.3 2 1.2 2 .8 1.9 .6 2 .2 2 .0 1.9 -.1 2 .3 1.9 .2 2 .2 2 .1 1.9 .2 2 .5 1.9 .8 2 1.1 2 1.4 1.9 1.6 2 1.7 2 1.6 1.9 1.4 2 1.0 1.9 .9 2 .7 2 .6 1.9 .4 2 .2 1.9 .2 2 .1 2 .2 1.9 .4 2 .7 2 .9 1.9 .9 2 .2 1.9 -.4 2 -.7 2 -.7 1.9 -.6 2 .0 2 .9 1.9 1.9 2 2.8 1.9 3.6 2 2.8"/><path d="M29.6,21.6l2 1.6 1.9 1.7 2 1.3 1.9 1.0 2 .6 2 .5 1.9 .3 2 .2 2 .2 1.9 .5 2 .5 1.9 .7 2 .6 2 .6 1.9 .4 2 .4 2 .6 1.9 .9 2 1.2 1.9 1.4 2 1.3 2 1.3 1.9 1.4 2 1.6 1.9 1.7 2 1.7 2 1.3 1.9 1.0 2 .5 2 .2 1.9 .1 2 .1 1.9 .2 2 .3 2 .3 1.9 .2 2 .2 1.9 .3 2 .6 2 .7 1.9 .8 2 .8 2 .7 1.9 .6 2 .5 1.9 .5 2 .4 2 .7 1.9 .9 2 1.1 2 1.2 1.9 1.2 2 1.1 1.9 1.0 2 1.2 2 1.4 1.9 1.8 2 2.0 1.9 1.9 2 1.9 2 1.9 1.9 1.4 2 1.0 2 .7 1.9 .5 2 .7 1.9 .7 2 .8 2 .9 1.9 1.0 2 .9 1.9 .9 2 .7 2 .7 1.9 .7 2 .6 2 .7 1.9 .7 2 .9 1.9 1.0 2 1.3 2 1.5 1.9 1.6 2 1.5 2 1.1 1.9 .7 2 .4 1.9 1.3 2 .9"/><path d="M29.6,19.1l2 .4 1.9 .5 2 .3 1.9 .4 2 .6 2 .8 1.9 1.1 2 1.0 2 .9 1.9 .8 2 .5 1.9 .5 2 .4 2 .4 1.9 .4 2 .4 2 .6 1.9 .8 2 1.1 1.9 1.3 2 1.2 2 1.1 1.9 .8 2 .9 1.9 1.0 2 1.1 2 1.2 1.9 1.3 2 1.3 2 1.3 1.9 1.3 2 1.1 1.9 1.0 2 .9 2 1.0 1.9 .9 2 1.1 1.9 1.0 2 1.0 2 1.0 1.9 .9 2 .9 2 .8 1.9 .7 2 .6 1.9 .6 2 .5 2 .7 1.9 .9 2 1.0 2 1.1 1.9 1.2 2 1.2 1.9 1.3 2 1.2 2 1.3 1.9 1.1 2 1.2 1.9 1.1 2 1.0 2 .7 1.9 .5 2 .4 2 .4 1.9 .6 2 .6 1.9 .8 2 .9 2 .9 1.9 1.0 2 1.1 1.9 1.2 2 1.0 2 .9 1.9 .6 2 .5 2 .5 1.9 .4 2 .2 1.9 -.2 2 -.4 2 -.5 1.9 -.3 2 .2 2 .9 1.9 1.6 2 2.3 1.9 2.6 2 2.0"/><path d="M29.6,16.7l2 1.8 1.9 1.8 2 1.6 1.9 2.1 2 2.7 2 2.1 1.9 1.3 2 .4 2 .0 1.9 .0 2 .2 1.9 .3 2 .3 2 -.2 1.9 -.7 2 -.7 2 -.3 1.9 .2 2 .9 1.9 1.4 2 1.5 2 1.4 1.9 1.5 2 1.6 1.9 1.8 2 1.9 2 2.1 1.9 1.9 2 1.7 2 1.2 1.9 .9 2 .7 1.9 .6 2 .5 2 .6 1.9 .6 2 .6 1.9 .6 2 .7 2 .6 1.9 .7 2 .6 2 .7 1.9 .8 2 .9 1.9 .8 2 .9 2 .8 1.9 .7 2 .7 2 .7 1.9 .6 2 .5 1.9 .5 2 .3 2 .3 1.9 .3 2 .4 1.9 .6 2 .6 2 .8 1.9 .9 2 1.0 2 1.2 1.9 1.3 2 1.4 1.9 1.4 2 1.3 2 1.3 1.9 1.2 2 1.1 1.9 1.0 2 .9 2 .6 1.9 .5 2 .3 2 .3 1.9 .0 2 -.4 1.9 -1.4 2 -1.8 2 -1.8 1.9 -1.3 2 -.1 2 1.3 1.9 2.9 2 4.0 1.9 4.5 2 3.4"/><path d="M29.6,19.7l2 1.3 1.9 1.8 2 2.0 1.9 2.1 2 2.2 2 1.8 1.9 1.2 2 .4 2 .0 1.9 .3 2 .5 1.9 .6 2 .5 2 .3 1.9 .5 2 .7 2 .9 1.9 .8 2 .7 1.9 .6 2 .6 2 .6 1.9 .5 2 .4 1.9 .3 2 .4 2 .4 1.9 .6 2 .7 2 .8 1.9 .9 2 .8 1.9 .8 2 .7 2 .7 1.9 .8 2 .8 1.9 1.0 2 1.0 2 1.0 1.9 1.1 2 1.0 2 1.0 1.9 .9 2 .8 1.9 1.0 2 .9 2 1.1 1.9 1.2 2 1.3 2 1.6 1.9 1.5 2 1.4 1.9 1.3 2 1.2 2 1.2 1.9 1.4 2 1.6 1.9 1.7 2 1.6 2 1.1 1.9 .6 2 .0 2 .0 1.9 .0 2 .3 1.9 .4 2 .5 2 .6 1.9 .7 2 .8 1.9 .8 2 .8 2 1.1 1.9 1.1 2 1.1 2 1.1 1.9 1.1 2 1.0 1.9 1.1 2 1.4 2 1.5 1.9 1.8 2 1.7 2 1.3 1.9 .8 2 .6 1.9 2.0 2 1.8"/><path d="M29.6,23.2l2 1.9 1.9 2.1 2 1.3 1.9 .6 2 .1 2 -.2 1.9 -.4 2 -.2 2 .1 1.9 .4 2 .6 1.9 .7 2 .7 2 .6 1.9 .6 2 .6 2 .6 1.9 .6 2 .6 1.9 .8 2 .8 2 .9 1.9 .8 2 1.1 1.9 1.3 2 1.6 2 1.7 1.9 1.9 2 1.9 2 1.5 1.9 1.2 2 .9 1.9 .7 2 .7 2 .7 1.9 .6 2 .6 1.9 .6 2 .6 2 .3 1.9 .3 2 .1 2 .3 1.9 .3 2 .3 1.9 .2 2 .3 2 .5 1.9 .6 2 .8 2 1.0 1.9 .9 2 .8 1.9 .7 2 .6 2 .7 1.9 .8 2 1.0 1.9 1.2 2 1.3 2 1.2 1.9 1.3 2 1.2 2 1.2 1.9 1.1 2 1.1 1.9 1.1 2 1.1 2 1.1 1.9 1.0 2 1.2 1.9 1.6 2 1.7 2 1.9 1.9 1.8 2 1.6 2 1.1 1.9 .7 2 .6 1.9 .6 2 .8 2 .9 1.9 .9 2 .7 2 .5 1.9 .2 2 .2 1.9 .7 2 .5"/><path d="M29.6,20.0l2 1.5 1.9 1.5 2 1.0 1.9 .4 2 -.2 2 .3 1.9 .3 2 .4 2 .3 1.9 .2 2 .0 1.9 .1 2 .5 2 .9 1.9 1.5 2 1.7 2 2.0 1.9 2.0 2 1.8 1.9 1.2 2 1.2 2 1.3 1.9 1.3 2 1.4 1.9 1.4 2 1.3 2 1.1 1.9 .9 2 .6 2 .5 1.9 .3 2 .4 1.9 .4 2 .4 2 .5 1.9 .5 2 .3 1.9 .2 2 .3 2 .5 1.9 .6 2 .7 2 .6 1.9 .6 2 .6 1.9 .6 2 .7 2 .9 1.9 1.0 2 1.2 2 1.1 1.9 1.1 2 .9 1.9 .8 2 .7 2 .8 1.9 .8 2 .9 1.9 .9 2 .9 2 .8 1.9 .8 2 .6 2 .8 1.9 .8 2 .9 1.9 1.0 2 1.0 2 1.0 1.9 1.0 2 .9 1.9 1.0 2 1.1 2 1.3 1.9 1.3 2 1.5 2 1.3 1.9 1.3 2 1.1 1.9 1.0 2 1.0 2 .8 1.9 .8 2 .6 2 .5 1.9 .3 2 .5 1.9 .8 2 1.0"/><path d="M29.6,15.6l2 .6 1.9 .8 2 .3 1.9 .4 2 .8 2 1.4 1.9 1.6 2 1.6 2 1.6 1.9 1.4 2 1.6 1.9 1.9 2 1.7 2 1.1 1.9 1.0 2 .9 2 .9 1.9 .8 2 .7 1.9 .5 2 .3 2 .2 1.9 .1 2 .2 1.9 .3 2 .5 2 .8 1.9 1.0 2 1.2 2 1.3 1.9 1.3 2 1.2 1.9 1.0 2 1.0 2 .9 1.9 1.0 2 .9 1.9 .9 2 1.0 2 1.0 1.9 .9 2 1.0 2 .9 1.9 .8 2 .9 1.9 .8 2 .9 2 .8 1.9 .8 2 .9 2 .8 1.9 .7 2 .7 1.9 .7 2 .6 2 .6 1.9 .7 2 .8 1.9 .8 2 .9 2 .8 1.9 .8 2 .8 2 .9 1.9 1.0 2 1.1 1.9 1.2 2 1.2 2 1.3 1.9 1.3 2 1.5 1.9 1.8 2 1.8 2 1.7 1.9 1.3 2 .9 2 .5 1.9 .2 2 .3 1.9 .4 2 .5 2 .5 1.9 .6 2 .5 2 .5 1.9 .6 2 .8 1.9 1.1 2 1.0"/><path d="M29.6,20.3l2 .9 1.9 .8 2 .7 1.9 .6 2 .8 2 .9 1.9 .9 2 1.2 2 1.1 1.9 1.0 2 1.1 1.9 1.1 2 1.0 2 .9 1.9 .9 2 1.0 2 1.2 1.9 1.1 2 1.0 1.9 1.0 2 1.2 2 1.2 1.9 1.2 2 1.3 1.9 1.1 2 .9 2 .8 1.9 .5 2 .3 2 .3 1.9 .3 2 .4 1.9 .5 2 .6 2 .7 1.9 .6 2 .7 1.9 .8 2 .7 2 .6 1.9 .6 2 .7 2 .6 1.9 .6 2 .5 1.9 .5 2 .5 2 .6 1.9 .6 2 .8 2 .9 1.9 .8 2 .6 1.9 .4 2 .2 2 .0 1.9 -.2 2 -.1 1.9 -.1 2 .2 2 .4 1.9 .7 2 1.2 2 1.6 1.9 1.8 2 2.0 1.9 1.8 2 1.7 2 1.4 1.9 1.3 2 1.0 1.9 .9 2 .6 2 .6 1.9 .4 2 .5 2 .6 1.9 .5 2 -.2 1.9 -1.0 2 -1.2 2 -.8 1.9 .0 2 1.1 2 2.2 1.9 3.0 2 3.5 1.9 3.5 2 2.5"/><path d="M29.6,17.5l2 1.0 1.9 1.0 2 .6 1.9 .7 2 .7 2 1.0 1.9 1.0 2 1.0 2 .9 1.9 .7 2 .5 1.9 .6 2 .7 2 .8 1.9 .8 2 1.0 2 1.2 1.9 1.3 2 1.4 1.9 1.4 2 1.3 2 1.2 1.9 1.1 2 1.0 1.9 1.0 2 .9 2 .9 1.9 .8 2 .8 2 .9 1.9 .8 2 .9 1.9 .9 2 .9 2 .9 1.9 .9 2 .8 1.9 .9 2 .8 2 .9 1.9 .9 2 .9 2 1.2 1.9 1.2 2 1.5 1.9 1.5 2 1.5 2 1.4 1.9 1.3 2 .8 2 .4 1.9 .0 2 .0 1.9 .0 2 .1 2 .0 1.9 .0 2 -.1 1.9 .0 2 .2 2 .5 1.9 .8 2 1.1 2 1.3 1.9 1.5 2 1.5 1.9 1.4 2 1.3 2 1.2 1.9 1.1 2 1.1 1.9 .9 2 1.0 2 .9 1.9 .9 2 .9 2 .9 1.9 1.0 2 1.1 1.9 1.1 2 1.2 2 1.3 1.9 1.4 2 1.5 2 1.4 1.9 1.1 2 1.0 1.9 1.8 2 1.6"/><path d="M29.6,20.6l2 1.4 1.9 1.8 2 2.0 1.9 1.8 2 1.5 2 .9 1.9 .2 2 -.2 2 -.1 1.9 .2 2 .6 1.9 .8 2 .9 2 .9 1.9 .9 2 1.1 2 1.3 1.9 1.3 2 1.2 1.9 1.1 2 1.2 2 1.3 1.9 1.4 2 1.2 1.9 1.0 2 .8 2 .4 1.9 .2 2 .0 2 .0 1.9 .1 2 .3 1.9 .5 2 .7 2 .7 1.9 .9 2 .9 1.9 1.0 2 1.2 2 1.3 1.9 1.4 2 1.6 2 1.8 1.9 1.9 2 2.0 1.9 1.9 2 1.7 2 1.5 1.9 1.2 2 .6 2 .1 1.9 -.4 2 -.4 1.9 -.4 2 .1 2 .4 1.9 .7 2 .9 1.9 1.2 2 1.4 2 1.4 1.9 1.3 2 1.1 2 1.0 1.9 .9 2 1.1 1.9 1.3 2 1.5 2 1.8 1.9 1.9 2 2.0 1.9 1.6 2 1.4 2 1.1 1.9 .6 2 -.1 2 -.6 1.9 -.6 2 -.4 1.9 .0 2 .4 2 .5 1.9 .7 2 .5 2 .5 1.9 .3 2 .4 1.9 .7 2 .7"/><path d="M29.6,20.9l2 2.1 1.9 2.6 2 2.3 1.9 1.8 2 1.2 2 .4 1.9 -.2 2 -.6 2 -.4 1.9 .1 2 .4 1.9 .5 2 .6 2 .7 1.9 .7 2 .8 2 .7 1.9 .5 2 .2 1.9 .2 2 .3 2 .3 1.9 .3 2 .4 1.9 .6 2 .8 2 1.2 1.9 1.4 2 1.6 2 1.7 1.9 1.5 2 1.5 1.9 1.3 2 1.3 2 1.2 1.9 1.1 2 1.1 1.9 1.1 2 1.2 2 1.1 1.9 1.1 2 1.2 2 1.3 1.9 1.3 2 1.3 1.9 1.2 2 1.3 2 1.1 1.9 1.2 2 .8 2 .7 1.9 .4 2 .2 1.9 .2 2 .3 2 .5 1.9 .7 2 .8 1.9 .9 2 1.0 2 1.0 1.9 .8 2 .8 2 .8 1.9 .7 2 .7 1.9 .8 2 .7 2 .6 1.9 .5 2 .3 1.9 .2 2 .6 2 .7 1.9 .9 2 1.2 2 1.4 1.9 1.3 2 1.3 1.9 1.1 2 1.1 2 1.1 1.9 1.2 2 1.0 2 .7 1.9 .6 2 .4 1.9 .9 2 .8"/><path d="M29.6,20.6l2 .8 1.9 .9 2 .9 1.9 1.1 2 1.1 2 1.1 1.9 .9 2 .6 2 .6 1.9 .7 2 .7 1.9 .8 2 .7 2 .8 1.9 .8 2 .8 2 .9 1.9 1.0 2 .9 1.9 1.0 2 1.1 2 1.2 1.9 1.3 2 1.3 1.9 1.4 2 1.2 2 1.1 1.9 1.0 2 .8 2 .7 1.9 .6 2 .7 1.9 .8 2 .8 2 .9 1.9 1.0 2 1.0 1.9 1.1 2 1.2 2 1.2 1.9 1.0 2 .9 2 .9 1.9 .7 2 .4 1.9 .3 2 .2 2 .3 1.9 .5 2 .7 2 1.0 1.9 1.2 2 1.2 1.9 1.1 2 1.1 2 1.1 1.9 1.1 2 1.2 1.9 1.1 2 .8 2 .4 1.9 .0 2 -.2 2 .0 1.9 -.1 2 .2 1.9 .4 2 .6 2 .7 1.9 .8 2 .8 1.9 .9 2 1.0 2 1.4 1.9 1.5 2 1.6 2 1.7 1.9 1.6 2 1.3 1.9 1.2 2 1.1 2 1.2 1.9 1.3 2 1.1 2 .9 1.9 .7 2 .5 1.9 1.3 2 1.1"/><path d="M29.6,18.1l2 1.0 1.9 1.0 2 .8 1.9 .8 2 .7 2 .8 1.9 .8 2 .8 2 .6 1.9 .4 2 .0 1.9 .0 2 .1 2 .1 1.9 .3 2 .4 2 .6 1.9 .9 2 1.1 1.9 1.2 2 1.1 2 .8 1.9 .5 2 .5 1.9 .7 2 .9 2 1.2 1.9 1.6 2 1.9 2 2.0 1.9 1.9 2 1.8 1.9 1.6 2 1.5 2 1.5 1.9 1.1 2 1.0 1.9 1.0 2 .8 2 .7 1.9 .7 2 .7 2 .8 1.9 .9 2 1.1 1.9 1.3 2 1.5 2 1.7 1.9 1.6 2 1.5 2 1.3 1.9 .8 2 .5 1.9 .3 2 .4 2 .3 1.9 .5 2 .4 1.9 .4 2 .4 2 .4 1.9 .6 2 .9 2 1.0 1.9 1.2 2 1.1 1.9 1.1 2 1.0 2 1.0 1.9 1.0 2 .7 1.9 .4 2 .4 2 .4 1.9 .3 2 .4 2 .6 1.9 .6 2 .5 1.9 .4 2 .7 2 1.2 1.9 1.8 2 2.1 2 1.9 1.9 1.4 2 1.2 1.9 1.6 2 1.5"/><path d="M29.6,17.6l2 1.8 1.9 1.7 2 1.9 1.9 2.7 2 2.4 2 1.7 1.9 .8 2 .1 2 -.2 1.9 .1 2 .3 1.9 .4 2 .5 2 .5 1.9 .5 2 .1 2 -.3 1.9 -.1 2 .1 1.9 .3 2 .4 2 .3 1.9 .2 2 .2 1.9 .4 2 .7 2 1.1 1.9 1.3 2 1.6 2 1.6 1.9 1.5 2 1.3 1.9 1.0 2 .8 2 .7 1.9 .7 2 .9 1.9 1.0 2 1.1 2 1.2 1.9 1.3 2 1.1 2 1.1 1.9 .9 2 1.0 1.9 .9 2 1.0 2 1.1 1.9 1.0 2 1.0 2 1.0 1.9 .8 2 .7 1.9 .6 2 .4 2 .4 1.9 .5 2 .6 1.9 .8 2 1.1 2 1.2 1.9 1.5 2 1.6 2 1.5 1.9 1.5 2 1.2 1.9 1.1 2 1.0 2 .9 1.9 .7 2 .5 1.9 .5 2 .5 2 .4 1.9 .4 2 .7 2 .8 1.9 .9 2 .7 1.9 .7 2 1.0 2 1.2 1.9 1.4 2 1.4 2 1.1 1.9 .8 2 .6 1.9 .7 2 .8"/><path d="M29.6,22.2l2 1.8 1.9 1.7 2 1.1 1.9 .4 2 -.2 2 -.5 1.9 -.5 2 .3 2 .3 1.9 .2 2 .1 1.9 .1 2 .3 2 .6 1.9 1.0 2 1.3 2 1.7 1.9 1.9 2 1.8 1.9 1.6 2 1.2 2 1.3 1.9 1.4 2 1.4 1.9 1.2 2 1.0 2 .8 1.9 .4 2 .3 2 .2 1.9 .3 2 .5 1.9 .5 2 .5 2 .6 1.9 .7 2 .9 1.9 1.0 2 1.1 2 1.2 1.9 1.1 2 1.0 2 1.0 1.9 1.0 2 .8 1.9 .7 2 .6 2 .4 1.9 .4 2 .4 2 .5 1.9 .4 2 .4 1.9 .3 2 .4 2 .5 1.9 .9 2 1.3 1.9 1.6 2 2.0 2 2.0 1.9 1.9 2 1.6 2 1.4 1.9 1.2 2 1.2 1.9 1.3 2 1.4 2 1.6 1.9 1.8 2 2.0 1.9 1.8 2 1.6 2 1.3 1.9 .8 2 .1 2 -.4 1.9 -.6 2 -.4 1.9 -.1 2 .2 2 .1 1.9 .3 2 -.3 2 .0 1.9 .6 2 1.2 1.9 1.6 2 1.4"/><path d="M29.6,20.2l2 .4 1.9 .6 2 .5 1.9 .7 2 .8 2 1.0 1.9 1.0 2 1.1 2 1.2 1.9 1.1 2 1.0 1.9 .9 2 .8 2 .8 1.9 .7 2 .7 2 .6 1.9 .7 2 .8 1.9 1.0 2 1.1 2 1.0 1.9 1.0 2 1.0 1.9 1.0 2 .8 2 .7 1.9 .7 2 .6 2 .7 1.9 .7 2 .7 1.9 .7 2 .7 2 .7 1.9 .7 2 .8 1.9 .9 2 1.0 2 1.0 1.9 1.1 2 1.0 2 1.0 1.9 1.0 2 1.0 1.9 1.1 2 1.1 2 1.3 1.9 1.1 2 1.1 2 1.0 1.9 .8 2 .6 1.9 .7 2 .6 2 .7 1.9 .8 2 .8 1.9 .8 2 1.0 2 1.1 1.9 1.3 2 1.2 2 1.2 1.9 1.2 2 1.1 1.9 1.0 2 1.1 2 1.0 1.9 .8 2 .6 1.9 .3 2 .1 2 .1 1.9 .2 2 .4 2 .4 1.9 .6 2 .2 1.9 .0 2 -.3 2 -.2 1.9 .1 2 .5 2 1.1 1.9 1.8 2 2.2 1.9 2.4 2 1.9"/><path d="M29.6,22.0l2 1.5 1.9 1.6 2 1.2 1.9 .6 2 .3 2 .1 1.9 -.1 2 .1 2 .4 1.9 .6 2 .5 1.9 .6 2 .6 2 .8 1.9 .9 2 1.1 2 1.3 1.9 1.3 2 1.1 1.9 1.1 2 1.2 2 1.3 1.9 1.4 2 1.4 1.9 1.4 2 1.3 2 1.2 1.9 .9 2 .8 2 .6 1.9 .6 2 .6 1.9 .7 2 .7 2 .7 1.9 .7 2 .7 1.9 .8 2 .6 2 .6 1.9 .6 2 .5 2 .6 1.9 .7 2 .7 1.9 .9 2 1.0 2 1.0 1.9 1.1 2 1.0 2 .9 1.9 .9 2 .8 1.9 .8 2 .9 2 1.0 1.9 1.2 2 1.2 1.9 1.4 2 1.5 2 1.1 1.9 .9 2 .5 2 .4 1.9 .3 2 .4 1.9 .5 2 .5 2 .4 1.9 .5 2 .4 1.9 .5 2 .4 2 .5 1.9 .6 2 .8 2 1.0 1.9 1.0 2 1.1 1.9 1.1 2 1.6 2 1.7 1.9 1.4 2 1.5 2 1.2 1.9 .9 2 .6 1.9 .8 2 .5"/><path d="M29.6,21.5l2 1.2 1.9 1.5 2 1.6 1.9 1.4 2 1.4 2 1.1 1.9 .7 2 .2 2 .1 1.9 .3 2 .6 1.9 .7 2 .7 2 .6 1.9 .7 2 .8 2 .9 1.9 .9 2 .9 1.9 .8 2 .9 2 .9 1.9 .9 2 .9 1.9 .8 2 .8 2 .9 1.9 .8 2 .8 2 .7 1.9 .8 2 .8 1.9 .8 2 .9 2 .9 1.9 .9 2 1.0 1.9 1.0 2 1.2 2 1.1 1.9 1.2 2 1.2 2 1.3 1.9 1.2 2 1.2 1.9 1.0 2 .9 2 .8 1.9 .6 2 .4 2 .2 1.9 .1 2 .1 1.9 .3 2 .3 2 .4 1.9 .3 2 .2 1.9 .5 2 .5 2 .8 1.9 1.0 2 1.1 2 1.3 1.9 1.2 2 1.2 1.9 1.0 2 .9 2 .7 1.9 .7 2 .7 1.9 .6 2 .7 2 .8 1.9 1.1 2 1.4 2 1.4 1.9 1.6 2 1.5 1.9 1.4 2 1.4 2 1.4 1.9 1.5 2 1.3 2 1.0 1.9 .6 2 .4 1.9 1.1 2 .8"/><path d="M29.6,19.3l2 1.2 1.9 1.2 2 1.7 1.9 1.9 2 1.8 2 1.4 1.9 .8 2 .2 2 .0 1.9 .2 2 .3 1.9 .4 2 .0 2 -.5 1.9 -.6 2 -.3 2 .1 1.9 .7 2 1.3 1.9 1.7 2 1.7 2 1.6 1.9 1.5 2 1.5 1.9 1.4 2 1.3 2 1.3 1.9 1.1 2 .9 2 .9 1.9 .8 2 .7 1.9 .8 2 .8 2 .9 1.9 .8 2 1.0 1.9 .9 2 1.0 2 1.0 1.9 1.1 2 1.1 2 1.1 1.9 1.2 2 1.1 1.9 1.1 2 1.1 2 1.0 1.9 1.0 2 .9 2 .9 1.9 .8 2 .9 1.9 .9 2 1.1 2 1.3 1.9 1.6 2 1.7 1.9 2.0 2 1.9 2 1.2 1.9 .4 2 -.3 2 -.4 1.9 -.3 2 .1 1.9 .4 2 .7 2 1.2 1.9 1.5 2 2.0 1.9 2.2 2 2.2 2 2.1 1.9 1.6 2 .8 2 .0 1.9 -.4 2 -.3 1.9 -.1 2 .4 2 .4 1.9 .5 2 .5 2 .4 1.9 .4 2 .5 1.9 1.0 2 1.1"/><path d="M29.6,22.7l2 2.0 1.9 2.5 2 2.1 1.9 1.6 2 1.2 2 .7 1.9 .1 2 -.3 2 -.4 1.9 .0 2 .4 1.9 .6 2 .4 2 .4 1.9 .5 2 .6 2 .8 1.9 .7 2 .6 1.9 .7 2 .6 2 .5 1.9 .5 2 .4 1.9 .6 2 .6 2 .7 1.9 .8 2 .9 2 1.0 1.9 .9 2 .9 1.9 .8 2 .8 2 .7 1.9 .6 2 .7 1.9 .8 2 .9 2 .9 1.9 1.0 2 .9 2 .9 1.9 1.0 2 .9 1.9 .9 2 1.1 2 1.1 1.9 1.2 2 1.2 2 1.3 1.9 1.2 2 1.1 1.9 .9 2 .9 2 .8 1.9 .8 2 .7 1.9 .6 2 .3 2 .0 1.9 .0 2 .0 2 .2 1.9 .5 2 .8 1.9 .9 2 1.1 2 1.1 1.9 1.0 2 1.0 1.9 1.1 2 1.0 2 1.0 1.9 1.1 2 1.2 2 1.1 1.9 1.0 2 .8 1.9 .6 2 .7 2 .7 1.9 .8 2 1.0 2 1.0 1.9 1.1 2 1.2 1.9 1.2 2 1.2"/><path d="M29.6,19.9l2 1.3 1.9 1.5 2 1.6 1.9 1.6 2 1.5 2 1.1 1.9 .7 2 .3 2 .2 1.9 .3 2 .5 1.9 .5 2 .6 2 .5 1.9 .5 2 -.1 2 .0 1.9 .2 2 .5 1.9 .7 2 .8 2 .6 1.9 .6 2 .6 1.9 .6 2 .7 2 1.0 1.9 1.0 2 1.3 2 1.3 1.9 1.4 2 1.2 1.9 1.2 2 1.0 2 1.1 1.9 1.2 2 1.2 1.9 1.3 2 1.1 2 1.1 1.9 1.0 2 .9 2 .8 1.9 .7 2 .7 1.9 .5 2 .5 2 .5 1.9 .6 2 .7 2 .8 1.9 .9 2 .9 1.9 .9 2 1.1 2 1.2 1.9 1.4 2 1.5 1.9 1.4 2 1.3 2 1.0 1.9 .7 2 .4 2 .3 1.9 .1 2 .2 1.9 .4 2 .5 2 .5 1.9 .5 2 .4 1.9 .3 2 .2 2 .3 1.9 .5 2 .8 2 1.2 1.9 1.0 2 .7 1.9 .4 2 .8 2 1.8 1.9 2.6 2 3.1 2 2.4 1.9 1.7 2 1.5 1.9 1.9 2 1.9"/><path d="M29.6,24.4l2 2.0 1.9 2.6 2 2.0 1.9 1.5 2 1.0 2 .6 1.9 -.2 2 -.6 2 -.6 1.9 -.1 2 .4 1.9 .5 2 .6 2 .4 1.9 .7 2 .8 2 1.0 1.9 .9 2 .9 1.9 .7 2 .8 2 .7 1.9 .6 2 .4 1.9 .2 2 .0 2 .1 1.9 .3 2 .5 2 .7 1.9 .8 2 .9 1.9 .8 2 .8 2 .9 1.9 .8 2 1.0 1.9 1.0 2 1.1 2 1.1 1.9 1.1 2 1.0 2 1.0 1.9 .9 2 .9 1.9 .9 2 .8 2 .8 1.9 .7 2 .6 2 .6 1.9 .6 2 .4 1.9 .3 2 .2 2 .2 1.9 .3 2 .4 1.9 .7 2 .8 2 1.0 1.9 1.1 2 1.3 2 1.4 1.9 1.5 2 1.6 1.9 1.6 2 1.5 2 1.5 1.9 1.6 2 1.9 1.9 1.9 2 1.8 2 1.4 1.9 .9 2 .5 2 .1 1.9 .2 2 .4 1.9 .6 2 .9 2 1.0 1.9 1.1 2 1.1 2 .9 1.9 .8 2 .6 1.9 .8 2 .7"/><path d="M29.6,20.0l2 .2 1.9 .4 2 .3 1.9 .4 2 .5 2 .7 1.9 .9 2 1.0 2 .9 1.9 .7 2 .6 1.9 .7 2 .8 2 .9 1.9 1.1 2 1.3 2 1.4 1.9 1.6 2 1.5 1.9 1.3 2 1.2 2 1.3 1.9 1.5 2 1.5 1.9 1.5 2 1.5 2 1.2 1.9 1.0 2 .8 2 .5 1.9 .4 2 .5 1.9 .5 2 .6 2 .7 1.9 .7 2 .7 1.9 .7 2 .8 2 .6 1.9 .6 2 .5 2 .4 1.9 .5 2 .5 1.9 .4 2 .5 2 .5 1.9 .8 2 .8 2 1.0 1.9 1.0 2 1.0 1.9 .9 2 1.0 2 1.1 1.9 1.2 2 1.2 1.9 1.4 2 1.4 2 1.5 1.9 1.4 2 1.2 2 1.1 1.9 .9 2 .9 1.9 .9 2 .9 2 .9 1.9 .8 2 .7 1.9 .5 2 .5 2 .7 1.9 .8 2 1.1 2 1.1 1.9 1.1 2 1.2 1.9 1.2 2 1.5 2 1.6 1.9 2.0 2 1.9 2 1.5 1.9 1.0 2 .7 1.9 2.5 2 2.4"/><path d="M29.6,17.1l2 .9 1.9 1.2 2 1.1 1.9 1.2 2 1.5 2 1.6 1.9 1.7 2 1.8 2 1.2 1.9 1.0 2 .9 1.9 .8 2 .7 2 .6 1.9 .6 2 .6 2 .7 1.9 .6 2 .6 1.9 .2 2 .2 2 .4 1.9 .5 2 .6 1.9 .9 2 1.2 2 1.3 1.9 1.4 2 1.4 2 1.1 1.9 1.1 2 .8 1.9 .8 2 .6 2 .6 1.9 .5 2 .6 1.9 .6 2 .8 2 .8 1.9 .9 2 .8 2 .8 1.9 .6 2 .6 1.9 .5 2 .5 2 .6 1.9 .9 2 1.0 2 1.1 1.9 1.1 2 1.0 1.9 1.0 2 1.1 2 1.1 1.9 1.2 2 1.2 1.9 1.3 2 1.1 2 1.1 1.9 .9 2 .7 2 .7 1.9 .7 2 .7 1.9 .8 2 .8 2 .8 1.9 .8 2 .7 1.9 .7 2 .7 2 .6 1.9 .6 2 .7 2 .8 1.9 .7 2 .5 1.9 .3 2 .2 2 .3 1.9 .4 2 .6 2 .7 1.9 .8 2 1.2 1.9 1.9 2 1.7"/><path d="M29.6,21.7l2 1.4 1.9 1.6 2 1.1 1.9 .7 2 .4 2 .3 1.9 .3 2 .3 2 .5 1.9 .6 2 .8 1.9 .8 2 .7 2 .8 1.9 .8 2 .7 2 .6 1.9 .6 2 .6 1.9 .8 2 .7 2 .8 1.9 .9 2 .9 1.9 1.1 2 1.3 2 1.3 1.9 1.4 2 1.4 2 1.2 1.9 1.0 2 .9 1.9 .8 2 .7 2 .7 1.9 .7 2 .7 1.9 .7 2 .6 2 .6 1.9 .6 2 .6 2 .8 1.9 .8 2 .9 1.9 1.1 2 1.1 2 1.4 1.9 1.4 2 1.3 2 1.2 1.9 .9 2 .7 1.9 .5 2 .5 2 .5 1.9 .4 2 .3 1.9 .0 2 .1 2 .3 1.9 .5 2 .9 2 1.3 1.9 1.5 2 1.8 1.9 1.7 2 1.9 2 2.3 1.9 2.8 2 2.9 1.9 2.9 2 2.4 2 1.8 1.9 .7 2 -.3 2 -1.1 1.9 -1.3 2 -.9 1.9 -.4 2 .0 2 .0 1.9 .2 2 -.5 2 -.4 1.9 .2 2 .9 1.9 1.5 2 1.5"/><path d="M29.6,20.1l2 1.4 1.9 1.6 2 1.4 1.9 1.0 2 .6 2 .4 1.9 .3 2 .4 2 .5 1.9 .7 2 .6 1.9 .6 2 .7 2 .6 1.9 .6 2 .7 2 .7 1.9 .6 2 .8 1.9 .7 2 .7 2 .7 1.9 .5 2 .5 1.9 .5 2 .6 2 .9 1.9 .9 2 1.2 2 1.3 1.9 1.3 2 1.1 1.9 1.1 2 .9 2 .9 1.9 .8 2 .8 1.9 .9 2 .9 2 .9 1.9 1.0 2 .9 2 1.0 1.9 1.0 2 1.0 1.9 1.1 2 1.2 2 1.2 1.9 1.2 2 1.2 2 1.0 1.9 .7 2 .6 1.9 .5 2 .3 2 .1 1.9 -.1 2 -.2 1.9 -.1 2 .1 2 .4 1.9 .7 2 1.2 2 1.5 1.9 1.6 2 1.5 1.9 1.5 2 1.2 2 1.0 1.9 .9 2 .8 1.9 .7 2 .8 2 .9 1.9 1.1 2 1.4 2 1.5 1.9 1.3 2 1.3 1.9 1.3 2 1.1 2 1.1 1.9 1.0 2 1.0 2 .8 1.9 .8 2 .8 1.9 .8 2 .9"/><path d="M29.6,17.8l2 .7 1.9 .7 2 .4 1.9 .4 2 .5 2 .6 1.9 .9 2 .8 2 .5 1.9 .3 2 -.1 1.9 .0 2 .3 2 .7 1.9 1.0 2 1.3 2 1.5 1.9 1.5 2 1.6 1.9 1.5 2 1.2 2 1.0 1.9 .7 2 .6 1.9 .7 2 .8 2 1.0 1.9 1.1 2 1.4 2 1.5 1.9 1.5 2 1.5 1.9 1.3 2 1.4 2 1.4 1.9 1.2 2 1.2 1.9 1.1 2 1.2 2 1.0 1.9 .8 2 .7 2 .5 1.9 .3 2 .2 1.9 .0 2 .0 2 -.1 1.9 .2 2 .5 2 .7 1.9 .7 2 .7 1.9 .4 2 .5 2 .5 1.9 .7 2 .9 1.9 1.1 2 1.3 2 1.3 1.9 1.4 2 1.4 2 1.4 1.9 1.4 2 1.4 1.9 1.4 2 1.3 2 1.3 1.9 1.3 2 1.4 1.9 1.8 2 1.8 2 1.7 1.9 1.5 2 1.1 2 .6 1.9 .3 2 .2 1.9 .4 2 .5 2 .5 1.9 .6 2 .6 2 .6 1.9 .9 2 .9 1.9 1.3 2 1.4"/><path d="M29.6,16.9l2 .3 1.9 .4 2 -.1 1.9 .0 2 .2 2 .6 1.9 1.0 2 1.0 2 .7 1.9 .1 2 -.1 1.9 .1 2 .6 2 1.3 1.9 1.6 2 1.9 2 2.0 1.9 2.0 2 1.7 1.9 1.6 2 1.3 2 1.0 1.9 1.0 2 1.0 1.9 1.1 2 1.3 2 1.5 1.9 1.5 2 1.5 2 1.3 1.9 1.1 2 1.0 1.9 .8 2 .7 2 .8 1.9 .7 2 .6 1.9 .7 2 .6 2 .5 1.9 .6 2 .5 2 .6 1.9 .5 2 .5 1.9 .4 2 .6 2 .7 1.9 1.0 2 1.1 2 1.3 1.9 1.2 2 1.1 1.9 1.0 2 1.0 2 .8 1.9 .8 2 .6 1.9 .6 2 .6 2 .7 1.9 .8 2 .9 2 1.2 1.9 1.3 2 1.4 1.9 1.4 2 1.3 2 1.4 1.9 1.6 2 1.6 1.9 1.5 2 1.3 2 1.0 1.9 .6 2 .2 2 -.1 1.9 -.1 2 .0 1.9 -.3 2 -.8 2 -1.1 1.9 -1.0 2 -.5 2 .4 1.9 1.6 2 2.5 1.9 3.2 2 2.5"/><path d="M29.6,21.0l2 .8 1.9 .4 2 .0 1.9 .2 2 .2 2 .3 1.9 .5 2 .5 2 .4 1.9 .1 2 -.1 1.9 -.3 2 .0 2 .1 1.9 .4 2 .8 2 1.1 1.9 1.5 2 1.8 1.9 1.9 2 1.6 2 1.5 1.9 1.3 2 1.4 1.9 1.5 2 1.6 2 1.7 1.9 1.6 2 1.7 2 1.4 1.9 1.2 2 1.0 1.9 .9 2 .8 2 .9 1.9 .9 2 .9 1.9 1.0 2 1.1 2 1.1 1.9 1.1 2 1.2 2 1.2 1.9 1.4 2 1.3 1.9 1.3 2 1.3 2 1.2 1.9 1.1 2 .9 2 .6 1.9 .3 2 .1 1.9 .0 2 .1 2 .3 1.9 .3 2 .3 1.9 .1 2 -.1 2 -.2 1.9 .1 2 .3 2 .7 1.9 1.1 2 1.2 1.9 1.4 2 1.4 2 1.3 1.9 1.4 2 1.3 1.9 1.5 2 1.5 2 1.4 1.9 1.0 2 .8 2 .7 1.9 .7 2 .8 1.9 .9 2 1.2 2 1.3 1.9 1.6 2 1.6 2 1.3 1.9 1.1 2 .7 1.9 1.8 2 1.6"/><path d="M29.6,21.2l2 .7 1.9 .7 2 .5 1.9 .6 2 .8 2 1.0 1.9 1.0 2 1.0 2 .9 1.9 .8 2 1.0 1.9 .9 2 .8 2 .8 1.9 .9 2 .9 2 1.0 1.9 1.0 2 1.0 1.9 1.0 2 1.1 2 1.1 1.9 1.2 2 1.2 1.9 1.1 2 .9 2 .8 1.9 .5 2 .5 2 .5 1.9 .5 2 .6 1.9 .7 2 .7 2 .8 1.9 .8 2 .8 1.9 .8 2 .9 2 .8 1.9 .9 2 .9 2 1.1 1.9 1.1 2 1.2 1.9 1.3 2 1.2 2 1.2 1.9 1.0 2 .8 2 .5 1.9 .3 2 .2 1.9 .3 2 .4 2 .4 1.9 .2 2 .2 1.9 .3 2 .2 2 .3 1.9 .4 2 .5 2 .7 1.9 .9 2 1.1 1.9 1.0 2 1.1 2 .9 1.9 .9 2 .8 1.9 .7 2 .8 2 1.0 1.9 1.2 2 1.4 2 1.6 1.9 1.5 2 1.3 1.9 1.4 2 1.7 2 1.4 1.9 1.6 2 1.6 2 1.6 1.9 1.4 2 1.2 1.9 2.2 2 2.3"/><path d="M29.6,17.2l2 2.2 1.9 2.1 2 3.9 1.9 4.1 2 3.7 2 2.4 1.9 .6 2 -.8 2 -1.3 1.9 -.8 2 -.1 1.9 .1 2 .1 2 .3 1.9 .5 2 .7 2 .9 1.9 .9 2 .9 1.9 .9 2 1.1 2 1.1 1.9 1.1 2 1.1 1.9 1.0 2 .8 2 .6 1.9 .4 2 .3 2 .4 1.9 .5 2 .7 1.9 .8 2 .8 2 .9 1.9 .9 2 .9 1.9 .9 2 1.0 2 1.0 1.9 1.0 2 1.0 2 1.0 1.9 1.1 2 1.0 1.9 1.1 2 1.1 2 1.2 1.9 1.3 2 1.4 2 1.4 1.9 1.2 2 .9 1.9 .8 2 .9 2 .9 1.9 1.1 2 1.3 1.9 1.3 2 1.3 2 1.0 1.9 .5 2 .2 2 .1 1.9 .2 2 .4 1.9 .4 2 .5 2 .5 1.9 .5 2 .5 1.9 .6 2 .8 2 1.3 1.9 1.5 2 1.6 2 1.4 1.9 1.1 2 .8 1.9 .8 2 .8 2 .8 1.9 .7 2 .5 2 .2 1.9 .2 2 .2 1.9 .2 2 .5"/></g>
<g fill="none" stroke="#00cdcd" stroke-width="0.6" stroke-linejoin="round"><path d="M29.6,19.6l2 .9 1.9 .6 2 .3 1.9 .2 2 .0 2 .1 1.9 .2 2 .2 2 -.1 1.9 -.8 2 -1.5 1.9 -1.7 2 -1.5 2 -.8 1.9 -.2 2 .5 2 1.1 1.9 1.9 2 2.5 1.9 2.7 2 2.3 2 1.6 1.9 .9 2 .9 1.9 1.0 2 1.1 2 1.3 1.9 1.5 2 1.7 2 1.9 1.9 1.9 2 1.6 1.9 1.5 2 1.2 2 1.3 1.9 1.4 2 1.4 1.9 1.3 2 1.2 2 1.1 1.9 .9 2 .6 2 .5 1.9 .3 2 .1 1.9 -.2 2 -.1 2 .2 1.9 .6 2 1.0 2 1.1 1.9 1.0 2 .6 1.9 .3 2 .0 2 -.3 1.9 -.3 2 -.3 1.9 -.1 2 .2 2 .5 1.9 .9 2 1.2 2 1.7 1.9 1.9 2 1.8 1.9 1.7 2 1.3 2 1.0 1.9 .7 2 .2 1.9 -.1 2 -.2 2 .1 1.9 .5 2 1.1 2 1.6 1.9 1.1 2 -.5 1.9 -1.8 2 -1.8 2 -.1 1.9 1.8 2 3.3 2 3.6 1.9 3.2 2 2.8 1.9 2.9 2 2.4"/><path d="M29.6,18.4l2 .9 1.9 .8 2 .8 1.9 .8 2 1.1 2 1.4 1.9 1.5 2 2.3 2 1.8 1.9 1.5 2 1.3 1.9 1.1 2 .9 2 .5 1.9 .7 2 .8 2 1.1 1.9 1.0 2 .9 1.9 1.0 2 1.0 2 1.2 1.9 1.1 2 1.0 1.9 .6 2 .3 2 -.1 1.9 -.3 2 -.4 2 -.1 1.9 .2 2 .3 1.9 .3 2 .2 2 .2 1.9 .3 2 .6 1.9 .8 2 1.1 2 1.3 1.9 1.3 2 1.2 2 1.1 1.9 1.0 2 .9 1.9 1.0 2 1.2 2 1.3 1.9 1.5 2 1.7 2 1.8 1.9 2.1 2 2.0 1.9 1.7 2 1.6 2 1.7 1.9 1.9 2 2.1 1.9 2.3 2 2.0 2 1.2 1.9 .1 2 -.9 2 -1.1 1.9 -.9 2 -.6 1.9 -.3 2 -.2 2 .1 1.9 .3 2 .4 1.9 .5 2 .4 2 .5 1.9 .5 2 .5 2 .6 1.9 .4 2 -.3 1.9 -1.3 2 -1.8 2 -2.0 1.9 -1.5 2 -.3 2 1.2 1.9 2.9 2 4.2 1.9 4.9 2 3.6"/><path d="M29.6,22.4l2 .1 1.9 .2 2 .4 1.9 1.0 2 1.5 2 1.8 1.9 1.5 2 1.1 2 .6 1.9 .5 2 .7 1.9 .6 2 .4 2 .5 1.9 .5 2 .7 2 .9 1.9 .9 2 1.0 1.9 1.2 2 1.3 2 1.6 1.9 1.8 2 1.9 1.9 1.7 2 1.3 2 .7 1.9 .0 2 -.6 2 -.8 1.9 -.7 2 -.4 1.9 -.5 2 -.5 2 -.6 1.9 -.2 2 .3 1.9 .8 2 1.3 2 1.5 1.9 1.5 2 1.4 2 1.0 1.9 .9 2 .7 1.9 .6 2 .6 2 .7 1.9 .9 2 1.1 2 1.1 1.9 1.0 2 .8 1.9 .5 2 .4 2 .2 1.9 .4 2 .5 1.9 .7 2 .9 2 1.1 1.9 1.2 2 1.2 2 1.2 1.9 1.1 2 1.0 1.9 .7 2 .6 2 .3 1.9 .1 2 -.1 1.9 -.2 2 -.1 2 .3 1.9 .9 2 1.8 2 2.5 1.9 2.1 2 1.3 1.9 .6 2 .5 2 .7 1.9 .7 2 1.0 2 1.4 1.9 2.0 2 2.5 1.9 2.6 2 2.0"/><path d="M29.6,30.0l2 1.2 1.9 -.9 2 -4.0 1.9 -4.0 2 -1.8 2 -1.1 1.9 -.4 2 .3 2 .3 1.9 -.3 2 -.6 1.9 -.2 2 .7 2 1.8 1.9 2.6 2 3.1 2 3.2 1.9 2.9 2 2.3 1.9 1.7 2 1.2 2 .8 1.9 .8 2 .5 1.9 .4 2 .5 2 .5 1.9 .8 2 1.0 2 1.1 1.9 1.2 2 1.3 1.9 1.2 2 1.1 2 .9 1.9 .8 2 .6 1.9 .2 2 .3 2 .3 1.9 .5 2 .7 2 .9 1.9 1.0 2 1.3 1.9 1.6 2 1.9 2 2.7 1.9 2.8 2 2.7 2 2.3 1.9 1.6 2 1.1 1.9 .8 2 .8 2 1.1 1.9 1.6 2 1.8 1.9 2.2 2 2.1 2 1.1 1.9 -.2 2 -1.8 2 -2.3 1.9 -2.1 2 -1.5 1.9 -1.1 2 -.5 2 .0 1.9 .3 2 .2 1.9 .3 2 .2 2 .3 1.9 .3 2 .7 2 1.1 1.9 1.0 2 .4 1.9 .0 2 .7 2 2.1 1.9 3.1 2 3.7 2 3.3 1.9 1.7 2 1.2 1.9 1.2 2 .8"/><path d="M29.6,8.7l2 1.5 1.9 1.6 2 .3 1.9 .5 2 .7 2 1.3 1.9 1.5 2 1.4 2 .8 1.9 -.1 2 -.6 1.9 -.2 2 .9 2 2.0 1.9 2.7 2 2.9 2 2.7 1.9 2.2 2 1.7 1.9 1.2 2 .8 2 .3 1.9 .0 2 -.2 1.9 -.1 2 .1 2 .4 1.9 .9 2 1.3 2 1.5 1.9 1.6 2 1.4 1.9 1.1 2 1.0 2 .9 1.9 1.1 2 1.2 1.9 1.3 2 1.3 2 1.4 1.9 1.3 2 1.1 2 1.0 1.9 .9 2 .9 1.9 .9 2 1.1 2 1.2 1.9 1.5 2 1.5 2 1.7 1.9 1.8 2 1.5 1.9 1.1 2 .9 2 .7 1.9 .6 2 .3 1.9 .0 2 -.6 2 -1.0 1.9 -.9 2 -.5 2 .1 1.9 .7 2 1.4 1.9 1.7 2 1.9 2 1.9 1.9 2.0 2 2.0 1.9 2.1 2 2.6 2 2.3 1.9 1.5 2 .6 2 -.1 1.9 -.3 2 -.1 1.9 -.1 2 -.5 2 -.6 1.9 -.1 2 .7 2 1.7 1.9 2.6 2 2.8 1.9 2.3 2 2.8"/><path d="M29.6,30.0l2 3.9 1.9 5.0 2 3.9 1.9 2.6 2 1.4 2 -.1 1.9 -2.0 2 -3.0 2 -3.1 1.9 -1.6 2 -.6 1.9 -.2 2 -.2 2 -.2 1.9 .2 2 .6 2 .9 1.9 .8 2 .8 1.9 .8 2 .9 2 1.1 1.9 1.2 2 1.3 1.9 1.3 2 1.3 2 1.3 1.9 1.3 2 1.1 2 1.0 1.9 .8 2 .6 1.9 .5 2 .6 2 .6 1.9 .5 2 .6 1.9 .5 2 .2 2 .0 1.9 -.2 2 -.2 2 .1 1.9 .5 2 .7 1.9 1.1 2 1.4 2 2.0 1.9 2.5 2 2.5 2 2.4 1.9 1.7 2 1.2 1.9 .7 2 .7 2 .8 1.9 1.1 2 1.2 1.9 1.4 2 1.1 2 .5 1.9 -.1 2 -.4 2 -.2 1.9 .0 2 .5 1.9 .9 2 1.2 2 1.8 1.9 2.1 2 2.5 1.9 2.5 2 2.3 2 1.9 1.9 1.1 2 .3 2 -.6 1.9 -.8 2 -.6 1.9 .0 2 .4 2 .7 1.9 .8 2 .7 2 .3 1.9 .1 2 .0 1.9 .5 2 .3"/><path d="M29.6,19.6l2 1.1 1.9 1.1 2 1.2 1.9 .8 2 .5 2 .5 1.9 .4 2 .3 2 .3 1.9 .1 2 -.1 1.9 .0 2 .5 2 1.2 1.9 1.9 2 2.4 2 2.7 1.9 1.5 2 1.6 1.9 1.6 2 1.7 2 1.8 1.9 2.0 2 1.9 1.9 1.5 2 1.0 2 .4 1.9 -.2 2 -.4 2 -.3 1.9 -.1 2 .1 1.9 .5 2 .6 2 .8 1.9 .9 2 .8 1.9 1.0 2 .9 2 1.0 1.9 .9 2 .9 2 .8 1.9 .7 2 .5 1.9 .3 2 .3 2 .0 1.9 -.1 2 -.1 2 .0 1.9 .1 2 .0 1.9 -.2 2 -.3 2 -.2 1.9 .3 2 .8 1.9 1.7 2 2.1 2 2.3 1.9 2.4 2 2.1 2 2.0 1.9 1.7 2 1.5 1.9 1.3 2 1.2 2 1.1 1.9 1.2 2 1.0 1.9 .8 2 .5 2 .3 1.9 .1 2 .1 2 .3 1.9 .3 2 .1 1.9 .0 2 .3 2 1.3 1.9 2.3 2 3.2 2 2.7 1.9 2.1 2 1.8 1.9 2.7 2 2.8"/><path d="M29.6,16.6l2 2.4 1.9 2.3 2 3.9 1.9 4.6 2 4.1 2 2.6 1.9 .6 2 -1.1 2 -1.6 1.9 -1.1 2 -.5 1.9 -.3 2 -.2 2 -.1 1.9 -.7 2 -1.5 2 -1.1 1.9 -.5 2 .2 1.9 1.0 2 1.2 2 1.2 1.9 1.2 2 1.4 1.9 2.0 2 2.2 2 2.5 1.9 2.5 2 2.3 2 1.8 1.9 1.2 2 .7 1.9 .6 2 .4 2 .4 1.9 .4 2 .4 1.9 .2 2 .1 2 .4 1.9 .6 2 .8 2 .8 1.9 .9 2 1.0 1.9 1.1 2 1.3 2 1.5 1.9 1.4 2 1.7 2 1.5 1.9 1.2 2 1.0 1.9 .8 2 .9 2 .9 1.9 1.1 2 1.3 1.9 1.6 2 1.6 2 1.7 1.9 1.3 2 1.0 2 .8 1.9 .6 2 .7 1.9 .7 2 .8 2 .7 1.9 .4 2 .0 1.9 -.4 2 -.6 2 -.3 1.9 .2 2 .4 2 .9 1.9 1.0 2 1.3 1.9 1.6 2 1.7 2 1.8 1.9 1.9 2 1.8 2 1.4 1.9 .9 2 .5 1.9 1.1 2 .6"/><path d="M29.6,17.6l2 1.4 1.9 1.4 2 1.3 1.9 1.3 2 1.1 2 .9 1.9 .6 2 .5 2 .3 1.9 .2 2 .1 1.9 .2 2 .7 2 1.2 1.9 1.6 2 1.6 2 1.4 1.9 1.0 2 .5 1.9 .2 2 .1 2 .0 1.9 .1 2 .3 1.9 .8 2 1.4 2 1.9 1.9 2.2 2 2.4 2 2.2 1.9 1.9 2 1.5 1.9 1.2 2 1.1 2 1.0 1.9 .9 2 1.1 1.9 1.1 2 1.3 2 1.2 1.9 1.2 2 1.3 2 1.3 1.9 1.5 2 1.3 1.9 1.1 2 1.1 2 1.1 1.9 1.0 2 .8 2 .6 1.9 .4 2 .2 1.9 .3 2 .5 2 .8 1.9 1.2 2 1.4 1.9 1.7 2 1.6 2 1.2 1.9 .6 2 -.1 2 -.2 1.9 -.1 2 .1 1.9 .1 2 .2 2 .1 1.9 -.1 2 -.3 1.9 .0 2 -.1 2 -.1 1.9 .2 2 .5 2 1.0 1.9 1.0 2 .7 1.9 .6 2 .9 2 1.3 1.9 1.6 2 1.6 2 1.3 1.9 .8 2 .6 1.9 .9 2 1.0"/><path d="M29.6,25.4l2 1.4 1.9 1.1 2 .0 1.9 -.3 2 .1 2 .6 1.9 1.3 2 1.3 2 1.1 1.9 1.0 2 1.1 1.9 1.1 2 .6 2 .3 1.9 .4 2 .6 2 .8 1.9 .4 2 .2 1.9 -.1 2 -.4 2 -1.4 1.9 -1.6 2 -1.4 1.9 -1.0 2 -.4 2 .5 1.9 1.1 2 1.5 2 1.7 1.9 1.7 2 1.4 1.9 1.0 2 .8 2 .9 1.9 1.3 2 2.0 1.9 2.5 2 2.6 2 2.3 1.9 2.0 2 1.9 2 1.7 1.9 1.5 2 1.1 1.9 .6 2 .2 2 -.2 1.9 -.4 2 .0 2 .2 1.9 .2 2 .3 1.9 .1 2 .2 2 .4 1.9 .7 2 1.3 1.9 1.8 2 2.3 2 2.7 1.9 2.6 2 2.4 2 2.1 1.9 1.7 2 1.6 1.9 1.5 2 1.7 2 1.8 1.9 1.9 2 1.8 1.9 1.5 2 1.6 2 1.6 1.9 1.4 2 .9 2 .1 1.9 -.4 2 -.4 1.9 .0 2 .6 2 .8 1.9 .7 2 .1 2 -1.0 1.9 -1.6 2 -1.7 1.9 -1.9 2 -.4"/></g>
<g fill="none" stroke="#00cdcd" stroke-width="0.6" stroke-linejoin="round"><path d="M29.6,8.2l2 2.2 1.9 3.0 2 2.3 1.9 2.4 2 2.3 2 1.9 1.9 1.4 2 1.1 2 .8 1.9 .6 2 .3 1.9 .1 2 .1 2 .0 1.9 .1 2 .2 2 .6 1.9 .9 2 1.4 1.9 1.5 2 1.5 2 1.1 1.9 .8 2 .7 1.9 .6 2 .6 2 .7 1.9 .9 2 1.2 2 1.4 1.9 1.4 2 1.4 1.9 1.3 2 1.3 2 1.3 1.9 1.5 2 1.4 1.9 1.5 2 1.3 2 1.1 1.9 1.1 2 .9 2 .9 1.9 .7 2 .6 1.9 .6 2 .5 2 .5 1.9 .7 2 .7 2 .8 1.9 .8 2 .9 1.9 .8 2 1.0 2 1.0 1.9 1.1 2 1.3 1.9 1.4 2 1.3 2 1.2 1.9 1.1 2 .9 2 .8 1.9 .6 2 .6 1.9 .6 2 .5 2 .5 1.9 .4 2 .4 1.9 .3 2 .2 2 .4 1.9 .5 2 .8 2 1.1 1.9 1.2 2 .8 1.9 .8 2 1.2 2 1.6 1.9 1.9 2 2.0 2 1.4 1.9 1.3 2 1.1 1.9 1.4 2 1.4"/><path d="M29.6,7.9l2 1.7 1.9 2.3 2 1.4 1.9 1.6 2 1.8 2 2.0 1.9 1.8 2 1.6 2 1.0 1.9 .4 2 .0 1.9 -.2 2 -.4 2 -.4 1.9 -.3 2 -.1 2 .4 1.9 1.1 2 1.6 1.9 2.0 2 1.9 2 1.4 1.9 1.1 2 1.1 1.9 1.3 2 1.4 2 1.6 1.9 1.7 2 1.6 2 1.6 1.9 1.3 2 1.1 1.9 .9 2 .8 2 .8 1.9 .9 2 1.2 1.9 1.4 2 1.5 2 1.4 1.9 1.3 2 1.2 2 1.0 1.9 .8 2 .8 1.9 .7 2 .6 2 .8 1.9 1.0 2 1.1 2 1.3 1.9 1.6 2 1.5 1.9 1.3 2 1.0 2 .9 1.9 .8 2 .6 1.9 .4 2 .0 2 -.2 1.9 -.3 2 -.1 2 .2 1.9 .6 2 .9 1.9 1.1 2 1.1 2 1.2 1.9 1.1 2 1.1 1.9 1.1 2 1.2 2 1.4 1.9 1.5 2 1.5 2 1.6 1.9 1.3 2 1.2 1.9 1.1 2 1.2 2 1.3 1.9 1.3 2 1.2 2 1.0 1.9 .8 2 .6 1.9 1.3 2 1.2"/><path d="M29.6,8.0l2 1.7 1.9 2.2 2 1.2 1.9 1.6 2 2.3 2 2.8 1.9 2.7 2 2.4 2 2.1 1.9 1.9 2 1.4 1.9 1.2 2 .9 2 .8 1.9 .7 2 .8 2 .9 1.9 .7 2 .7 1.9 .6 2 .5 2 .4 1.9 .3 2 .3 1.9 .4 2 .6 2 .8 1.9 .9 2 1.1 2 1.1 1.9 1.0 2 1.0 1.9 .9 2 .8 2 .8 1.9 .8 2 .9 1.9 1.0 2 1.0 2 1.1 1.9 1.1 2 1.1 2 1.1 1.9 1.1 2 1.1 1.9 1.2 2 1.2 2 1.0 1.9 .8 2 .6 2 .4 1.9 .4 2 .4 1.9 .2 2 .0 2 -.1 1.9 -.3 2 -.1 1.9 .0 2 .4 2 .8 1.9 1.2 2 1.5 2 1.8 1.9 1.8 2 1.7 1.9 1.5 2 1.3 2 1.0 1.9 1.0 2 .8 1.9 .7 2 .7 2 .8 1.9 .9 2 1.0 2 1.1 1.9 .9 2 .6 1.9 .1 2 -.1 2 -.5 1.9 -.5 2 -.3 2 .3 1.9 1.1 2 2.0 1.9 2.8 2 2.4"/><path d="M29.6,8.9l2 1.8 1.9 2.1 2 1.3 1.9 1.6 2 2.0 2 2.2 1.9 2.2 2 1.8 2 1.4 1.9 1.1 2 1.0 1.9 1.0 2 1.3 2 1.5 1.9 1.6 2 1.1 2 1.1 1.9 1.1 2 1.1 1.9 1.1 2 1.1 2 1.0 1.9 1.0 2 .8 1.9 .5 2 .3 2 .1 1.9 .1 2 .2 2 .4 1.9 .6 2 .5 1.9 .6 2 .5 2 .5 1.9 .7 2 .9 1.9 1.3 2 1.4 2 1.5 1.9 1.6 2 1.6 2 1.7 1.9 2.1 2 2.5 1.9 2.6 2 2.7 2 2.5 1.9 2.1 2 1.5 2 .9 1.9 .1 2 -.4 1.9 -.4 2 .0 2 .3 1.9 .8 2 1.2 1.9 1.4 2 1.5 2 1.2 1.9 .8 2 .3 2 .3 1.9 .2 2 .5 1.9 .7 2 .8 2 .9 1.9 .7 2 .3 1.9 -.2 2 -.7 2 -.9 1.9 -.5 2 -.3 2 .1 1.9 .2 2 -.1 1.9 -.4 2 .0 2 .8 1.9 1.9 2 2.6 2 3.1 1.9 2.9 2 1.7 1.9 1.8 2 1.8"/><path d="M29.6,20.3l2 .5 1.9 .6 2 .7 1.9 .8 2 .8 2 .9 1.9 .8 2 .6 2 .3 1.9 -.4 2 -1.4 1.9 -2.4 2 -3.0 2 -2.7 1.9 -1.7 2 -.3 2 1.5 1.9 3.3 2 4.1 1.9 4.1 2 3.3 2 2.2 1.9 1.5 2 1.1 1.9 1.0 2 1.0 2 1.1 1.9 1.3 2 1.4 2 1.6 1.9 1.6 2 1.5 1.9 1.4 2 1.4 2 1.3 1.9 1.3 2 1.2 1.9 1.2 2 1.2 2 1.2 1.9 1.2 2 1.1 2 1.2 1.9 1.1 2 1.1 1.9 1.0 2 .9 2 1.1 1.9 1.0 2 1.1 2 1.0 1.9 .9 2 .6 1.9 .6 2 .5 2 .7 1.9 .7 2 .7 1.9 .5 2 .2 2 -.3 1.9 -.4 2 -.6 2 -.3 1.9 .1 2 .6 1.9 .8 2 1.0 2 1.0 1.9 .9 2 .9 1.9 .8 2 .8 2 .8 1.9 .8 2 .9 2 1.1 1.9 .9 2 .5 1.9 .2 2 .3 2 .8 1.9 1.3 2 1.7 2 1.8 1.9 1.8 2 1.6 1.9 1.4 2 1.2"/><path d="M29.6,17.0l2 .4 1.9 .4 2 .0 1.9 .0 2 .3 2 .6 1.9 1.0 2 .9 2 .5 1.9 -.2 2 -1.0 1.9 -1.3 2 -1.3 2 -.9 1.9 -.4 2 .4 2 1.4 1.9 2.7 2 3.6 1.9 3.7 2 3.3 2 2.6 1.9 2.3 2 2.1 1.9 2.0 2 2.0 2 2.0 1.9 1.7 2 1.5 2 1.1 1.9 .8 2 .6 1.9 .5 2 .5 2 .5 1.9 .5 2 .4 1.9 .4 2 .1 2 .3 1.9 .5 2 .7 2 .8 1.9 .9 2 1.1 1.9 1.2 2 1.4 2 1.5 1.9 1.6 2 1.5 2 1.2 1.9 .8 2 .7 1.9 .6 2 .7 2 .8 1.9 .9 2 1.0 1.9 1.0 2 .9 2 .7 1.9 .4 2 .3 2 .2 1.9 .2 2 .5 1.9 .5 2 .7 2 .8 1.9 .8 2 .8 1.9 .8 2 .8 2 1.0 1.9 1.0 2 1.2 2 1.2 1.9 1.1 2 .9 1.9 .8 2 .8 2 .7 1.9 .6 2 .5 2 .3 1.9 .5 2 .7 1.9 1.3 2 1.4"/><path d="M29.6,20.4l2 2.2 1.9 2.7 2 2.6 1.9 2.0 2 1.0 2 -.2 1.9 -1.3 2 -1.7 2 -1.0 1.9 -1.2 2 -2.3 1.9 -3.0 2 -2.9 2 -2.2 1.9 -.9 2 .3 2 1.6 1.9 2.5 2 3.3 1.9 3.5 2 3.0 2 2.5 1.9 2.1 2 1.9 1.9 1.8 2 1.6 2 1.4 1.9 1.3 2 1.1 2 1.1 1.9 1.0 2 1.0 1.9 1.0 2 .8 2 .9 1.9 1.0 2 1.1 1.9 1.2 2 1.2 2 1.2 1.9 1.2 2 1.2 2 1.1 1.9 1.3 2 1.3 1.9 1.4 2 1.3 2 1.3 1.9 1.2 2 1.1 2 .9 1.9 .6 2 .6 1.9 .5 2 .6 2 .9 1.9 1.0 2 1.2 1.9 1.5 2 1.7 2 1.7 1.9 1.4 2 1.0 2 .7 1.9 .5 2 .3 1.9 .2 2 .0 2 -.6 1.9 -1.0 2 -.8 1.9 -1.0 2 -1.0 2 -.7 1.9 -.1 2 .8 2 1.6 1.9 1.4 2 .8 1.9 .3 2 .5 2 1.2 1.9 1.7 2 2.2 2 2.4 1.9 2.3 2 2.1 1.9 1.7 2 1.3"/><path d="M29.6,22.8l2 1.3 1.9 .8 2 -.6 1.9 -1.3 2 -.5 2 -.4 1.9 -.3 2 .0 2 -.2 1.9 -.7 2 -1.2 1.9 -1.3 2 -1.1 2 -.5 1.9 .1 2 .7 2 1.5 1.9 2.6 2 3.2 1.9 3.3 2 2.7 2 2.1 1.9 1.6 2 1.4 1.9 1.4 2 1.3 2 1.3 1.9 1.3 2 1.2 2 1.1 1.9 1.0 2 .9 1.9 .6 2 .5 2 .4 1.9 .5 2 .6 1.9 .8 2 1.0 2 1.2 1.9 1.2 2 1.1 2 1.1 1.9 1.0 2 1.1 1.9 1.0 2 1.2 2 1.3 1.9 1.3 2 1.3 2 1.3 1.9 1.3 2 1.1 1.9 .9 2 .8 2 .8 1.9 .8 2 .7 1.9 .6 2 .6 2 .6 1.9 .6 2 .8 2 .9 1.9 1.1 2 1.0 1.9 1.1 2 1.2 2 1.2 1.9 1.3 2 1.2 1.9 1.2 2 .9 2 .7 1.9 .3 2 .2 2 .2 1.9 .4 2 .3 1.9 .2 2 .1 2 .3 1.9 .6 2 1.2 2 1.7 1.9 1.9 2 1.9 1.9 1.5 2 1.8"/><path d="M29.6,13.1l2 1.7 1.9 2.2 2 1.8 1.9 2.2 2 2.6 2 4.1 1.9 4.0 2 2.4 2 .8 1.9 .5 2 .6 1.9 .5 2 .2 2 .1 1.9 .3 2 .7 2 1.2 1.9 1.0 2 1.0 1.9 .9 2 1.2 2 1.2 1.9 1.3 2 1.1 1.9 .8 2 .2 2 -.1 1.9 -.5 2 -.4 2 -.3 1.9 .1 2 .4 1.9 .5 2 .7 2 .9 1.9 1.1 2 1.4 1.9 1.3 2 1.4 2 1.5 1.9 1.4 2 1.4 2 1.2 1.9 1.0 2 .7 1.9 .5 2 .2 2 .3 1.9 .4 2 .6 2 .7 1.9 .9 2 .6 1.9 .4 2 .0 2 -.9 1.9 -1.6 2 -2.1 1.9 -2.0 2 -1.3 2 -.2 1.9 1.1 2 2.2 2 3.0 1.9 3.1 2 2.9 1.9 2.5 2 2.0 2 1.6 1.9 1.3 2 1.1 1.9 .9 2 .9 2 1.0 1.9 1.1 2 1.1 2 1.2 1.9 1.1 2 .9 1.9 .9 2 1.0 2 1.1 1.9 1.3 2 1.2 2 1.2 1.9 1.3 2 1.3 1.9 1.7 2 2.0"/><path d="M29.6,12.5l2 1.8 1.9 1.7 2 .9 1.9 .9 2 .9 2 1.1 1.9 1.0 2 1.0 2 .6 1.9 .1 2 -.2 1.9 -.1 2 .5 2 1.1 1.9 1.7 2 2.2 2 2.7 1.9 2.8 2 2.7 1.9 1.7 2 1.6 2 1.9 1.9 2.1 2 2.3 1.9 2.3 2 2.1 2 1.6 1.9 .9 2 .1 2 -.5 1.9 -.7 2 -.6 1.9 -.4 2 -.1 2 .0 1.9 .0 2 .0 1.9 .2 2 .6 2 .9 1.9 .9 2 1.0 2 .9 1.9 .8 2 .8 1.9 .6 2 .8 2 .7 1.9 .9 2 .9 2 .8 1.9 .6 2 .3 1.9 -.4 2 -.8 2 -1.4 1.9 -1.6 2 -1.4 1.9 -.9 2 -.2 2 .7 1.9 1.5 2 2.2 2 2.5 1.9 2.6 2 2.5 1.9 2.3 2 2.0 2 1.8 1.9 1.6 2 1.5 1.9 1.6 2 1.8 2 2.1 1.9 2.1 2 2.4 2 2.1 1.9 1.4 2 1.0 1.9 .9 2 .8 2 .8 1.9 .7 2 .4 2 .1 1.9 -.1 2 -.3 1.9 .0 2 .6"/><path d="M29.6,19.1l2 .5 1.9 .8 2 .9 1.9 1.0 2 1.2 2 1.4 1.9 1.8 2 1.6 2 1.2 1.9 1.0 2 1.1 1.9 1.0 2 .8 2 .7 1.9 .7 2 .9 2 1.1 1.9 .9 2 .9 1.9 .8 2 .8 2 .8 1.9 .9 2 .8 1.9 .7 2 .7 2 .7 1.9 .7 2 .7 2 .7 1.9 .8 2 .8 1.9 .8 2 .8 2 .9 1.9 .9 2 .8 1.9 1.0 2 .9 2 .9 1.9 1.0 2 .9 2 1.1 1.9 1.0 2 .9 1.9 .9 2 .7 2 .4 1.9 .2 2 .1 2 .3 1.9 .3 2 .3 1.9 .3 2 .1 2 -.1 1.9 -.4 2 -.9 1.9 -1.4 2 -1.6 2 -1.0 1.9 .4 2 1.9 2 3.3 1.9 3.8 2 3.6 1.9 3.1 2 2.4 2 2.0 1.9 2.0 2 2.0 1.9 1.6 2 1.2 2 .8 1.9 .3 2 -.1 2 -.1 1.9 .2 2 .3 1.9 .4 2 .3 2 .6 1.9 .9 2 1.1 2 1.1 1.9 1.2 2 1.0 1.9 1.1 2 1.0"/><path d="M29.6,23.1l2 1.2 1.9 .8 2 -.2 1.9 -.7 2 -.3 2 .4 1.9 .6 2 .7 2 .9 1.9 .8 2 .8 1.9 .8 2 .7 2 .7 1.9 .4 2 .2 2 .2 1.9 .3 2 .3 1.9 .6 2 .7 2 .4 1.9 .3 2 .3 1.9 .4 2 .6 2 .9 1.9 1.1 2 1.4 2 1.4 1.9 1.5 2 1.2 1.9 1.0 2 .9 2 1.0 1.9 1.4 2 1.8 1.9 2.1 2 2.1 2 2.0 1.9 2.0 2 1.9 2 2.0 1.9 1.9 2 1.6 1.9 1.1 2 .7 2 .1 1.9 -.4 2 -.8 2 -1.0 1.9 -.2 2 -.2 1.9 -.4 2 -.6 2 -.9 1.9 -1.1 2 -1.1 1.9 -.8 2 -.4 2 .3 1.9 1.2 2 2.2 2 2.8 1.9 2.9 2 2.7 1.9 2.2 2 1.7 2 1.1 1.9 .8 2 .3 1.9 .1 2 .1 2 .2 1.9 .6 2 1.3 2 1.7 1.9 1.6 2 1.2 1.9 1.1 2 1.6 2 2.2 1.9 2.5 2 2.0 2 1.4 1.9 1.1 2 .8 1.9 .9 2 .7"/><path d="M29.6,24.3l2 2.2 1.9 2.3 2 1.3 1.9 .5 2 .1 2 .0 1.9 -.2 2 -.1 2 -.1 1.9 .4 2 .5 1.9 .6 2 .5 2 .5 1.9 .5 2 .7 2 .6 1.9 .3 2 .4 1.9 .6 2 .8 2 .9 1.9 1.0 2 1.1 1.9 1.2 2 1.4 2 1.3 1.9 1.3 2 1.1 2 .9 1.9 .6 2 .6 1.9 .5 2 .6 2 .5 1.9 .5 2 .5 1.9 .7 2 .8 2 .9 1.9 .9 2 1.0 2 1.0 1.9 .9 2 .9 1.9 .8 2 .9 2 .8 1.9 .8 2 .8 2 .8 1.9 .8 2 .7 1.9 .7 2 .8 2 .8 1.9 1.0 2 1.2 1.9 1.3 2 1.4 2 1.4 1.9 1.2 2 1.1 2 .9 1.9 .8 2 .8 1.9 .8 2 .7 2 .5 1.9 .5 2 .3 1.9 .2 2 .0 2 -.3 1.9 -.5 2 -.4 2 -.1 1.9 -.4 2 -1.6 1.9 -3.1 2 -3.7 2 -3.3 1.9 -2.1 2 .0 2 2.3 1.9 4.9 2 6.8 1.9 7.5 2 5.2"/><path d="M29.6,18.5l2 .6 1.9 .7 2 .5 1.9 .5 2 .6 2 1.0 1.9 1.1 2 1.2 2 1.3 1.9 1.4 2 1.9 1.9 1.7 2 1.6 2 1.3 1.9 1.3 2 1.3 2 1.6 1.9 1.3 2 1.2 1.9 1.1 2 1.2 2 1.1 1.9 1.0 2 .4 1.9 -.1 2 -.6 2 -1.0 1.9 -.8 2 -.4 2 .0 1.9 .4 2 .5 1.9 .6 2 .5 2 .6 1.9 .9 2 1.2 1.9 1.5 2 1.7 2 1.7 1.9 1.7 2 1.5 2 1.5 1.9 1.6 2 1.7 1.9 1.6 2 1.3 2 1.0 1.9 .5 2 .1 2 -.2 1.9 -.1 2 .3 1.9 .4 2 .7 2 1.0 1.9 1.6 2 1.9 1.9 2.2 2 2.3 2 2.0 1.9 1.4 2 .6 2 .2 1.9 .1 2 .1 1.9 .3 2 .3 2 .5 1.9 .5 2 .4 1.9 .6 2 .5 2 .4 1.9 .3 2 .3 2 .2 1.9 .0 2 -.8 1.9 -2.1 2 -3.0 2 -3.5 1.9 -3.2 2 -1.7 2 .7 1.9 3.6 2 5.9 1.9 7.0 2 5.0"/><path d="M29.6,17.0l2 1.9 1.9 1.6 2 1.3 1.9 1.2 2 1.1 2 1.4 1.9 1.2 2 1.0 2 .8 1.9 .9 2 .9 1.9 1.0 2 .9 2 .8 1.9 .8 2 .9 2 .9 1.9 .9 2 .8 1.9 .7 2 .7 2 .7 1.9 .7 2 .6 1.9 .7 2 .9 2 1.0 1.9 1.1 2 1.3 2 1.2 1.9 1.1 2 1.1 1.9 .9 2 .9 2 .9 1.9 .8 2 .8 1.9 .9 2 .8 2 .7 1.9 .6 2 .7 2 .7 1.9 .6 2 .7 1.9 .8 2 .8 2 .9 1.9 .9 2 .9 2 1.1 1.9 1.0 2 1.2 1.9 1.1 2 1.2 2 1.4 1.9 1.6 2 1.9 1.9 2.1 2 2.2 2 1.8 1.9 1.1 2 .2 2 .1 1.9 -.1 2 .1 1.9 .2 2 .3 2 .3 1.9 .0 2 -.4 1.9 -.4 2 -.4 2 -.4 1.9 -.6 2 -.3 2 .0 1.9 -.2 2 -1.2 1.9 -2.7 2 -3.3 2 -2.9 1.9 -1.9 2 .2 2 2.5 1.9 4.8 2 6.2 1.9 6.4 2 4.4"/><path d="M29.6,20.9l2 1.2 1.9 1.4 2 1.2 1.9 1.3 2 1.4 2 1.5 1.9 1.5 2 1.0 2 .5 1.9 .6 2 .7 1.9 .6 2 .4 2 .3 1.9 .4 2 .5 2 .8 1.9 .6 2 .7 1.9 .7 2 .9 2 .9 1.9 1.0 2 1.0 1.9 .9 2 .8 2 .7 1.9 .6 2 .5 2 .5 1.9 .6 2 .6 1.9 .7 2 .6 2 .7 1.9 .8 2 .8 1.9 1.0 2 1.1 2 1.1 1.9 1.2 2 1.2 2 1.4 1.9 1.6 2 1.7 1.9 1.7 2 1.8 2 1.6 1.9 1.5 2 1.1 2 .7 1.9 .4 2 .1 1.9 .1 2 .4 2 .6 1.9 .8 2 1.1 1.9 1.1 2 1.2 2 .8 1.9 .6 2 .3 2 .2 1.9 .3 2 .4 1.9 .5 2 .5 2 .6 1.9 .6 2 .7 1.9 .9 2 .8 2 .9 1.9 .8 2 .5 2 .2 1.9 -.2 2 -1.3 1.9 -2.7 2 -4.3 2 -4.6 1.9 -4.0 2 -1.8 2 1.1 1.9 4.1 2 6.0 1.9 7.2 2 5.0"/><path d="M29.6,26.3l2 4.7 1.9 6.1 2 4.9 1.9 3.1 2 1.2 2 -.7 1.9 -2.4 2 -3.4 2 -3.0 1.9 -1.6 2 -.7 1.9 -.2 2 -.1 2 .1 1.9 .3 2 .6 2 .7 1.9 .6 2 .5 1.9 .4 2 .2 2 -.2 1.9 -.1 2 -.1 1.9 .1 2 .3 2 .7 1.9 1.1 2 1.3 2 1.6 1.9 1.6 2 1.5 1.9 1.4 2 1.4 2 1.3 1.9 1.4 2 1.1 1.9 1.1 2 1.1 2 1.1 1.9 1.2 2 1.4 2 1.5 1.9 1.8 2 2.0 1.9 2.0 2 1.8 2 1.6 1.9 1.1 2 .4 2 -.2 1.9 -.8 2 -.9 1.9 -.6 2 -.2 2 -.2 1.9 -.1 2 -.1 1.9 .1 2 .3 2 .5 1.9 .7 2 .9 2 1.3 1.9 1.5 2 1.7 1.9 1.9 2 1.8 2 2.1 1.9 2.6 2 3.0 1.9 2.9 2 2.5 2 1.8 1.9 .7 2 -.3 2 -.9 1.9 -.9 2 -.5 1.9 .1 2 .5 2 .9 1.9 1.3 2 1.6 2 1.7 1.9 1.7 2 1.5 1.9 3.2 2 3.3"/><path d="M29.6,27.6l2 4.5 1.9 5.8 2 4.7 1.9 2.9 2 1.0 2 -1.2 1.9 -3.3 2 -3.9 2 -3.3 1.9 -1.6 2 -.5 1.9 .0 2 .2 2 .4 1.9 .7 2 .9 2 1.0 1.9 1.1 2 1.0 1.9 1.1 2 1.1 2 1.3 1.9 1.2 2 1.2 1.9 1.0 2 .7 2 .4 1.9 .2 2 .1 2 .2 1.9 .3 2 .5 1.9 .5 2 .5 2 .4 1.9 .4 2 .4 1.9 .5 2 .6 2 .8 1.9 .9 2 .9 2 .9 1.9 .9 2 1.0 1.9 .9 2 1.0 2 1.0 1.9 1.0 2 .9 2 .8 1.9 .6 2 .4 1.9 .2 2 .1 2 .1 1.9 .2 2 .5 1.9 .7 2 .9 2 1.1 1.9 1.1 2 1.2 2 1.4 1.9 1.4 2 1.6 1.9 1.6 2 1.6 2 1.6 1.9 1.6 2 1.8 1.9 2.3 2 2.4 2 2.3 1.9 1.9 2 1.2 2 .5 1.9 .1 2 .0 1.9 .3 2 .5 2 .6 1.9 .5 2 .4 2 .2 1.9 .1 2 .2 1.9 .1 2 .6"/><path d="M29.6,29.3l2 5.2 1.9 6.6 2 5.1 1.9 3.0 2 1.0 2 -1.3 1.9 -3.5 2 -4.5 2 -3.9 1.9 -2.3 2 -1.0 1.9 -.6 2 -.3 2 .0 1.9 .3 2 .3 2 -.4 1.9 -.3 2 .1 1.9 .4 2 .5 2 .5 1.9 .5 2 .6 1.9 .9 2 1.2 2 1.5 1.9 1.7 2 1.7 2 1.7 1.9 1.4 2 1.3 1.9 1.1 2 1.1 2 .9 1.9 1.0 2 .9 1.9 .9 2 .9 2 .8 1.9 .8 2 .7 2 .7 1.9 .5 2 .5 1.9 .3 2 .3 2 .3 1.9 .5 2 .7 2 .8 1.9 .9 2 .7 1.9 .5 2 .6 2 .5 1.9 .7 2 1.0 1.9 1.3 2 1.6 2 1.9 1.9 2.2 2 2.2 2 1.9 1.9 1.8 2 1.7 1.9 1.7 2 1.9 2 2.2 1.9 2.1 2 2.0 1.9 1.5 2 .9 2 .4 1.9 -.5 2 -1.0 2 -1.2 1.9 -.9 2 -.5 1.9 -.2 2 -.7 2 -1.0 1.9 -1.1 2 -.8 2 -.2 1.9 .6 2 1.7 1.9 2.8 2 2.5"/><path d="M29.6,26.0l2 4.1 1.9 5.9 2 5.4 1.9 3.9 2 1.7 2 -1.0 1.9 -3.5 2 -4.4 2 -3.4 1.9 -1.7 2 -.5 1.9 .1 2 .4 2 .5 1.9 .6 2 .9 2 .9 1.9 .9 2 .9 1.9 .8 2 .8 2 .7 1.9 .6 2 .4 1.9 .0 2 -.1 2 -.1 1.9 -.1 2 .2 2 .4 1.9 .6 2 .7 1.9 .6 2 .5 2 .6 1.9 1.0 2 1.5 1.9 2.0 2 2.1 2 2.1 1.9 1.9 2 1.7 2 1.8 1.9 1.6 2 1.6 1.9 1.2 2 1.1 2 .8 1.9 .7 2 .5 2 .4 1.9 .3 2 .3 1.9 .2 2 .4 2 .2 1.9 .1 2 -.2 1.9 -.1 2 -.1 2 .1 1.9 .4 2 .7 2 1.1 1.9 1.2 2 1.3 1.9 1.2 2 1.1 2 .9 1.9 .7 2 .7 1.9 .7 2 .9 2 1.2 1.9 1.6 2 2.0 2 2.0 1.9 1.8 2 1.7 1.9 1.3 2 1.2 2 1.0 1.9 1.0 2 .9 2 .8 1.9 .6 2 .7 1.9 1.1 2 1.2"/><path d="M29.6,17.3l2 2.1 1.9 1.9 2 2.7 1.9 3.0 2 2.5 2 1.7 1.9 .7 2 -.3 2 -.5 1.9 -.2 2 .0 1.9 .2 2 .3 2 .4 1.9 .1 2 .5 2 1.4 1.9 1.7 2 1.5 1.9 1.7 2 2.0 2 2.4 1.9 2.7 2 2.9 1.9 2.7 2 2.1 2 1.3 1.9 .3 2 -.7 2 -1.2 1.9 -1.2 2 -1.0 1.9 -.6 2 -.1 2 .1 1.9 .1 2 .0 1.9 .2 2 .5 2 .7 1.9 .9 2 .8 2 .8 1.9 .8 2 .8 1.9 .7 2 .9 2 1.1 1.9 1.2 2 1.3 2 1.3 1.9 1.3 2 1.3 1.9 1.2 2 1.4 2 1.3 1.9 1.4 2 1.5 1.9 1.7 2 1.9 2 1.8 1.9 1.6 2 1.0 2 .9 1.9 .7 2 .8 1.9 .9 2 1.0 2 1.1 1.9 .9 2 .5 1.9 .2 2 -.1 2 -.1 1.9 -.1 2 .0 2 .2 1.9 .6 2 .7 1.9 .9 2 .9 2 1.0 1.9 1.1 2 1.1 2 1.0 1.9 .9 2 .9 1.9 1.1 2 1.0"/><path d="M29.6,23.2l2 1.4 1.9 1.4 2 .7 1.9 .1 2 -.1 2 -.2 1.9 -.1 2 .4 2 .7 1.9 1.0 2 1.1 1.9 1.3 2 1.3 2 1.2 1.9 1.2 2 1.2 2 1.4 1.9 1.4 2 1.1 1.9 1.2 2 1.4 2 1.6 1.9 2.1 2 2.3 1.9 2.3 2 2.1 2 1.4 1.9 .5 2 -.1 2 -.8 1.9 -.8 2 -.6 1.9 -.4 2 .0 2 .1 1.9 .3 2 .3 1.9 .3 2 .3 2 .2 1.9 .5 2 .5 2 .6 1.9 .7 2 .6 1.9 .7 2 .8 2 1.1 1.9 1.2 2 1.4 2 1.4 1.9 1.3 2 1.3 1.9 1.3 2 1.2 2 .9 1.9 .9 2 .7 1.9 .5 2 .0 2 -.3 1.9 -.5 2 -.4 2 -.2 1.9 .2 2 .5 1.9 .8 2 .9 2 .8 1.9 .8 2 .5 1.9 .4 2 .5 2 .7 1.9 1.1 2 1.5 2 1.7 1.9 1.5 2 .8 1.9 .4 2 .4 2 .7 1.9 1.1 2 1.3 2 1.4 1.9 1.4 2 1.7 1.9 1.9 2 1.6"/><path d="M29.6,16.6l2 .9 1.9 .9 2 .5 1.9 .7 2 .9 2 1.1 1.9 1.4 2 1.3 2 1.2 1.9 .9 2 .8 1.9 .7 2 .5 2 .3 1.9 .3 2 .5 2 .9 1.9 1.6 2 2.2 1.9 2.6 2 2.0 2 2.2 1.9 2.8 2 3.2 1.9 3.1 2 2.5 2 1.3 1.9 -.1 2 -1.3 2 -1.9 1.9 -1.6 2 -.9 1.9 -.2 2 .1 2 .4 1.9 .8 2 1.1 1.9 1.3 2 1.4 2 1.4 1.9 1.3 2 1.3 2 1.4 1.9 1.5 2 1.5 1.9 1.4 2 1.3 2 1.2 1.9 1.0 2 .7 2 .5 1.9 .3 2 .2 1.9 .3 2 .4 2 .6 1.9 .6 2 .7 1.9 .7 2 .6 2 .4 1.9 .3 2 .4 2 .4 1.9 .7 2 .9 1.9 1.1 2 1.2 2 1.3 1.9 1.4 2 1.9 1.9 2.2 2 2.5 2 2.5 1.9 2.1 2 1.4 2 .6 1.9 .1 2 -.1 1.9 .0 2 .3 2 .3 1.9 .1 2 -.1 2 -.4 1.9 -1.3 2 -.9 1.9 .6 2 1.2"/><path d="M29.6,21.9l2 1.7 1.9 1.9 2 1.5 1.9 1.0 2 .7 2 .5 1.9 .2 2 .1 2 .2 1.9 .6 2 .7 1.9 .8 2 .9 2 .7 1.9 .9 2 1.0 2 1.1 1.9 1.2 2 1.2 1.9 1.2 2 1.5 2 1.8 1.9 2.2 2 2.5 1.9 2.6 2 2.3 2 1.6 1.9 .6 2 -.2 2 -1.0 1.9 -1.1 2 -.9 1.9 -.5 2 -.1 2 .2 1.9 .5 2 .7 1.9 .9 2 1.0 2 1.1 1.9 1.2 2 1.1 2 1.2 1.9 1.1 2 1.0 1.9 .9 2 .8 2 .9 1.9 .9 2 1.0 2 1.0 1.9 1.0 2 .9 1.9 .9 2 .9 2 1.0 1.9 1.2 2 1.3 1.9 1.5 2 1.5 2 1.0 1.9 .7 2 .0 2 -.1 1.9 -.3 2 -.3 1.9 -.6 2 -.7 2 -.9 1.9 -.9 2 -1.2 1.9 -1.0 2 -.7 2 -.2 1.9 .4 2 1.2 2 1.7 1.9 1.3 2 .1 1.9 -1.0 2 -1.1 2 -.5 1.9 .2 2 1.1 2 2.1 1.9 3.0 2 3.9 1.9 4.4 2 3.4"/><path d="M29.6,15.9l2 .9 1.9 1.1 2 .8 1.9 1.1 2 1.6 2 2.0 1.9 2.2 2 3.1 2 2.4 1.9 1.6 2 1.3 1.9 1.0 2 .6 2 .1 1.9 .3 2 .5 2 .6 1.9 .5 2 .4 1.9 .3 2 .4 2 .5 1.9 .4 2 .4 1.9 .6 2 .9 2 1.0 1.9 1.1 2 1.2 2 1.1 1.9 1.0 2 .9 1.9 .8 2 .8 2 .7 1.9 .8 2 .6 1.9 .8 2 .9 2 1.0 1.9 1.2 2 1.5 2 1.9 1.9 2.3 2 2.6 1.9 2.8 2 2.7 2 2.7 1.9 2.2 2 1.4 2 .5 1.9 -.6 2 -1.2 1.9 -1.2 2 -1.0 2 -.5 1.9 -.2 2 .0 1.9 .2 2 .3 2 .5 1.9 .6 2 .9 2 1.0 1.9 1.0 2 1.1 1.9 1.2 2 1.4 2 1.7 1.9 2.1 2 2.4 1.9 2.6 2 2.7 2 2.5 1.9 2.0 2 1.2 2 .1 1.9 -.5 2 -.5 1.9 -.1 2 .3 2 .6 1.9 .6 2 .3 2 .1 1.9 -.2 2 .0 1.9 .6 2 .6"/><path d="M29.6,20.6l2 1.4 1.9 1.5 2 1.3 1.9 .8 2 .2 2 -.3 1.9 -.1 2 .2 2 -.1 1.9 -.4 2 -1.0 1.9 -1.1 2 -1.1 2 -.6 1.9 .0 2 .7 2 1.3 1.9 2.0 2 2.5 1.9 2.5 2 2.2 2 1.8 1.9 1.6 2 1.5 1.9 1.5 2 1.4 2 1.4 1.9 1.3 2 1.1 2 1.1 1.9 .9 2 .9 1.9 .7 2 .6 2 .6 1.9 .5 2 .5 1.9 .7 2 .8 2 1.0 1.9 1.3 2 1.3 2 1.5 1.9 2.0 2 2.7 1.9 3.1 2 3.3 2 3.3 1.9 3.0 2 1.9 2 .8 1.9 -.4 2 -1.0 1.9 -1.1 2 -.6 2 -.2 1.9 .4 2 .8 1.9 1.0 2 1.3 2 1.1 1.9 .9 2 .5 2 .5 1.9 .2 2 .2 1.9 .1 2 -.1 2 -.5 1.9 -.6 2 -.5 1.9 -.4 2 -.3 2 .3 1.9 .9 2 1.7 2 2.0 1.9 1.9 2 1.5 1.9 1.3 2 1.1 2 .6 1.9 .1 2 -.2 2 -.1 1.9 .3 2 1.1 1.9 1.9 2 1.8"/><path d="M29.6,17.2l2 .8 1.9 .9 2 .7 1.9 .9 2 1.2 2 1.6 1.9 1.7 2 1.7 2 2.1 1.9 1.6 2 1.4 1.9 1.1 2 .8 2 .5 1.9 .6 2 .8 2 .8 1.9 .8 2 .8 1.9 .7 2 1.0 2 1.0 1.9 1.2 2 1.3 1.9 1.4 2 1.5 2 1.4 1.9 1.1 2 .8 2 .4 1.9 .2 2 .2 1.9 .2 2 .4 2 .4 1.9 .4 2 .5 1.9 .6 2 .5 2 .6 1.9 .8 2 1.1 2 1.3 1.9 2.0 2 2.6 1.9 3.3 2 3.6 2 3.6 1.9 3.0 2 1.8 2 .5 1.9 -.7 2 -1.3 1.9 -1.3 2 -.8 2 -.3 1.9 -.1 2 .1 1.9 -.1 2 -.2 2 -.4 1.9 -.4 2 -.1 2 .2 1.9 .5 2 .8 1.9 .9 2 1.0 2 .9 1.9 .9 2 .7 1.9 .7 2 .6 2 .8 1.9 .9 2 1.2 2 1.4 1.9 1.5 2 1.3 1.9 1.6 2 2.0 2 1.8 1.9 1.8 2 1.8 2 1.4 1.9 .9 2 .5 1.9 1.1 2 .7"/><path d="M29.6,17.6l2 1.0 1.9 1.2 2 1.2 1.9 1.4 2 1.5 2 2.2 1.9 2.0 2 1.4 2 .7 1.9 .6 2 .7 1.9 .6 2 .5 2 .5 1.9 .5 2 .7 2 .7 1.9 .6 2 .7 1.9 .5 2 .6 2 .7 1.9 .6 2 .6 1.9 .7 2 .7 2 .8 1.9 .9 2 1.1 2 1.2 1.9 1.2 2 1.2 1.9 1.3 2 1.2 2 1.1 1.9 1.1 2 1.1 1.9 1.1 2 1.2 2 1.1 1.9 1.1 2 1.2 2 1.5 1.9 1.7 2 2.1 1.9 2.4 2 2.7 2 2.8 1.9 2.5 2 1.3 2 -.2 1.9 -1.7 2 -2.3 1.9 -2.2 2 -1.5 2 -1.3 1.9 -1.0 2 -.4 1.9 .6 2 1.4 2 2.0 1.9 2.4 2 2.5 2 2.0 1.9 1.7 2 1.5 1.9 1.3 2 1.2 2 1.2 1.9 1.2 2 .9 1.9 .8 2 .7 2 .9 1.9 1.0 2 1.1 2 1.0 1.9 .9 2 .9 1.9 1.1 2 1.3 2 1.6 1.9 1.8 2 1.7 2 1.1 1.9 .6 2 .2 1.9 1.9 2 1.6"/><path d="M29.6,16.5l2 1.7 1.9 1.6 2 1.3 1.9 1.4 2 1.3 2 1.2 1.9 1.3 2 .9 2 .8 1.9 .7 2 .7 1.9 .7 2 .6 2 .6 1.9 .5 2 .4 2 .4 1.9 .4 2 .5 1.9 .7 2 .7 2 .6 1.9 .7 2 .8 1.9 1.1 2 1.4 2 1.6 1.9 1.7 2 1.7 2 1.5 1.9 1.3 2 1.1 1.9 .8 2 .8 2 .7 1.9 .6 2 .5 1.9 .3 2 .3 2 .4 1.9 .5 2 .6 2 .6 1.9 .7 2 .8 1.9 .8 2 1.1 2 1.4 1.9 1.6 2 1.7 2 2.2 1.9 2.3 2 1.9 1.9 1.7 2 1.5 2 1.7 1.9 1.9 2 2.3 1.9 2.6 2 2.6 2 1.7 1.9 .5 2 -.7 2 -.9 1.9 -.9 2 -.4 1.9 -.3 2 .0 2 .1 1.9 -.1 2 -.1 1.9 -.2 2 .1 2 .1 1.9 .3 2 .4 2 .6 1.9 .6 2 .3 1.9 .0 2 -.1 2 .3 1.9 .7 2 1.3 2 1.7 1.9 2.0 2 2.1 1.9 2.0 2 1.5"/><path d="M29.6,18.6l2 1.5 1.9 1.5 2 2.1 1.9 2.1 2 1.9 2 1.4 1.9 .8 2 .2 2 .1 1.9 .4 2 .6 1.9 .7 2 .6 2 .7 1.9 .7 2 .9 2 .9 1.9 .8 2 .8 1.9 .6 2 .6 2 .4 1.9 -.1 2 -.2 1.9 -.4 2 -.3 2 -.2 1.9 .2 2 .5 2 .9 1.9 1.1 2 1.0 1.9 .8 2 .5 2 .6 1.9 .6 2 1.0 1.9 1.3 2 1.5 2 1.6 1.9 1.5 2 1.4 2 1.1 1.9 1.0 2 .9 1.9 .9 2 1.0 2 1.2 1.9 1.5 2 1.6 2 1.7 1.9 1.9 2 2.2 1.9 2.1 2 1.9 2 1.9 1.9 2.3 2 2.4 1.9 2.9 2 2.8 2 2.1 1.9 .9 2 -.4 2 -.6 1.9 -.7 2 -.4 1.9 -.1 2 .1 2 .2 1.9 .3 2 .1 1.9 .0 2 -.1 2 -.2 1.9 -.2 2 .1 2 .3 1.9 .4 2 .3 1.9 .0 2 .1 2 .5 1.9 .9 2 1.5 2 2.0 1.9 2.0 2 1.9 1.9 1.5 2 1.5"/><path d="M29.6,16.8l2 1.5 1.9 1.5 2 1.3 1.9 1.4 2 1.4 2 1.7 1.9 1.7 2 1.3 2 .9 1.9 .7 2 .7 1.9 .8 2 .6 2 .6 1.9 .6 2 .7 2 .7 1.9 .7 2 .7 1.9 .6 2 .5 2 .5 1.9 .5 2 .5 1.9 .5 2 .5 2 .6 1.9 .7 2 .8 2 1.0 1.9 1.0 2 .9 1.9 .8 2 .8 2 .8 1.9 .8 2 1.0 1.9 1.2 2 1.2 2 1.3 1.9 1.2 2 1.2 2 1.1 1.9 1.2 2 1.1 1.9 1.4 2 1.4 2 1.4 1.9 1.3 2 1.3 2 1.2 1.9 1.2 2 1.2 1.9 1.2 2 1.4 2 1.6 1.9 2.2 2 2.4 1.9 2.9 2 2.9 2 2.1 1.9 .9 2 -.4 2 -.7 1.9 -.6 2 -.2 1.9 .0 2 .2 2 .3 1.9 -.1 2 -.3 1.9 -.5 2 -.3 2 .1 1.9 .6 2 1.1 2 1.4 1.9 1.5 2 1.3 1.9 1.2 2 1.4 2 1.4 1.9 1.4 2 1.3 2 .9 1.9 .5 2 .2 1.9 1.1 2 .8"/><path d="M29.6,16.8l2 .1 1.9 .3 2 -.3 1.9 -.3 2 .1 2 .7 1.9 1.1 2 1.1 2 .6 1.9 .1 2 -.3 1.9 -.2 2 .2 2 .7 1.9 1.1 2 1.4 2 1.9 1.9 2.0 2 2.3 1.9 2.2 2 1.8 2 1.6 1.9 1.4 2 1.3 1.9 1.5 2 1.5 2 1.5 1.9 1.5 2 1.4 2 1.2 1.9 1.0 2 .9 1.9 .8 2 .8 2 .9 1.9 .8 2 .8 1.9 .9 2 .8 2 .9 1.9 .9 2 .9 2 .9 1.9 .9 2 .9 1.9 .9 2 1.0 2 1.1 1.9 1.2 2 1.3 2 1.5 1.9 1.6 2 1.4 1.9 1.4 2 1.4 2 1.6 1.9 2.0 2 2.3 1.9 2.7 2 2.6 2 2.0 1.9 .7 2 -.5 2 -.8 1.9 -.9 2 -.5 1.9 -.3 2 -.1 2 .2 1.9 .5 2 .6 1.9 .8 2 .9 2 .8 1.9 .4 2 .0 2 -.2 1.9 .0 2 .0 1.9 -.3 2 -.8 2 -.8 1.9 -.6 2 .0 2 .8 1.9 1.8 2 2.4 1.9 2.8 2 2.2"/><path d="M29.6,19.3l2 .8 1.9 .9 2 .7 1.9 .7 2 .8 2 .9 1.9 1.0 2 1.2 2 1.2 1.9 1.4 2 1.3 1.9 1.3 2 1.2 2 1.0 1.9 1.0 2 1.0 2 1.2 1.9 1.0 2 .9 1.9 .7 2 .7 2 .5 1.9 .4 2 .1 1.9 -.2 2 -.2 2 .0 1.9 .2 2 .5 2 .7 1.9 .9 2 .9 1.9 .8 2 .7 2 .8 1.9 .9 2 1.2 1.9 1.4 2 1.5 2 1.6 1.9 1.5 2 1.4 2 1.4 1.9 1.6 2 1.6 1.9 1.6 2 1.4 2 1.1 1.9 .7 2 .3 2 -.1 1.9 -.1 2 .0 1.9 .2 2 .2 2 .3 1.9 .5 2 .7 1.9 .9 2 1.2 2 1.2 1.9 1.3 2 1.4 2 1.4 1.9 1.5 2 1.6 1.9 1.9 2 2.3 2 2.9 1.9 3.6 2 4.0 1.9 3.9 2 3.3 2 2.2 1.9 .4 2 -1.2 2 -2.5 1.9 -2.5 2 -1.8 1.9 -1.0 2 -.2 2 .1 1.9 .3 2 .6 2 .6 1.9 .8 2 .8 1.9 1.3 2 1.4"/><path d="M29.6,26.9l2 3.4 1.9 4.1 2 2.6 1.9 1.2 2 -.1 2 -1.1 1.9 -1.8 2 -2.0 2 -1.4 1.9 -.5 2 .1 1.9 .5 2 .5 2 .6 1.9 .8 2 .9 2 1.0 1.9 1.0 2 1.1 1.9 1.0 2 1.1 2 1.2 1.9 1.4 2 1.4 1.9 1.4 2 1.2 2 1.1 1.9 .7 2 .4 2 .1 1.9 .0 2 .1 1.9 .2 2 .2 2 .2 1.9 .1 2 .1 1.9 .3 2 .6 2 .8 1.9 1.0 2 1.1 2 1.1 1.9 1.1 2 1.2 1.9 1.2 2 1.3 2 1.3 1.9 1.2 2 .9 2 .8 1.9 .8 2 .7 1.9 .8 2 .9 2 1.2 1.9 1.4 2 1.6 1.9 1.9 2 2.1 2 2.0 1.9 1.6 2 1.0 2 .9 1.9 1.0 2 1.2 1.9 1.7 2 2.2 2 2.8 1.9 3.3 2 3.3 1.9 3.0 2 2.5 2 2.0 1.9 .7 2 -.6 2 -1.9 1.9 -2.3 2 -2.0 1.9 -1.2 2 -.6 2 -.2 1.9 .0 2 .0 2 .0 1.9 .0 2 .3 1.9 .6 2 .5"/><path d="M29.6,21.8l2 1.5 1.9 1.9 2 1.8 1.9 1.5 2 1.3 2 .8 1.9 .2 2 -.3 2 -.4 1.9 .0 2 .2 1.9 .3 2 .0 2 -.6 1.9 -.7 2 -.7 2 -.3 1.9 .3 2 .9 1.9 1.4 2 1.3 2 1.3 1.9 1.0 2 1.1 1.9 1.2 2 1.3 2 1.3 1.9 1.4 2 1.4 2 1.4 1.9 1.2 2 1.1 1.9 1.0 2 1.0 2 1.1 1.9 1.2 2 1.4 1.9 1.2 2 1.3 2 1.4 1.9 1.3 2 1.4 2 1.3 1.9 1.3 2 1.2 1.9 1.1 2 1.0 2 1.1 1.9 1.2 2 1.2 2 1.3 1.9 1.0 2 .9 1.9 .7 2 .6 2 .8 1.9 1.0 2 1.1 1.9 1.0 2 .8 2 .3 1.9 .0 2 -.2 2 .0 1.9 .4 2 .8 1.9 1.4 2 2.0 2 3.1 1.9 4.0 2 4.9 1.9 4.6 2 3.3 2 1.5 1.9 -1.3 2 -3.3 2 -4.0 1.9 -3.1 2 -1.8 1.9 -.7 2 -.8 2 -.3 1.9 .3 2 .9 2 1.3 1.9 1.6 2 1.6 1.9 1.5 2 1.2"/><path d="M29.6,20.0l2 .0 1.9 .1 2 .2 1.9 .2 2 .6 2 .9 1.9 1.2 2 1.2 2 1.2 1.9 1.1 2 1.2 1.9 1.2 2 1.3 2 1.3 1.9 1.1 2 .9 2 1.0 1.9 1.0 2 1.0 1.9 1.0 2 1.2 2 1.3 1.9 1.4 2 1.7 1.9 1.6 2 1.7 2 1.4 1.9 1.0 2 .6 2 .2 1.9 .2 2 .1 1.9 .3 2 .4 2 .5 1.9 .6 2 .7 1.9 .8 2 .9 2 .9 1.9 .9 2 1.1 2 1.0 1.9 1.2 2 1.1 1.9 1.2 2 1.3 2 1.4 1.9 1.5 2 1.5 2 1.5 1.9 1.2 2 .9 1.9 .7 2 .8 2 .9 1.9 1.2 2 1.4 1.9 1.5 2 1.4 2 1.0 1.9 .4 2 .0 2 .1 1.9 .4 2 1.0 1.9 1.4 2 2.1 2 2.8 1.9 3.4 2 3.7 1.9 3.5 2 2.8 2 1.8 1.9 .0 2 -1.6 2 -2.7 1.9 -2.7 2 -1.9 1.9 -1.0 2 -.1 2 .4 1.9 .7 2 .9 2 .7 1.9 .5 2 .3 1.9 .7 2 .5"/><path d="M29.6,21.5l2 1.5 1.9 1.7 2 1.6 1.9 1.6 2 1.5 2 1.3 1.9 .9 2 .4 2 .0 1.9 .2 2 .6 1.9 .5 2 .4 2 .3 1.9 .4 2 .6 2 .6 1.9 .7 2 .5 1.9 .6 2 .7 2 .8 1.9 .8 2 1.1 1.9 1.4 2 1.6 2 1.7 1.9 1.6 2 1.2 2 .8 1.9 .5 2 .3 1.9 .3 2 .4 2 .5 1.9 .6 2 .7 1.9 .8 2 .9 2 1.1 1.9 1.1 2 1.2 2 1.2 1.9 1.3 2 1.2 1.9 1.1 2 1.0 2 .9 1.9 .8 2 .6 2 .5 1.9 .4 2 .3 1.9 .5 2 .5 2 .6 1.9 .6 2 .5 1.9 .3 2 .3 2 .2 1.9 .3 2 .3 2 .5 1.9 .8 2 1.0 1.9 1.2 2 1.1 2 1.2 1.9 1.0 2 1.0 1.9 .9 2 .8 2 .7 1.9 .7 2 .9 2 1.1 1.9 1.3 2 1.5 1.9 2.2 2 2.1 2 2.5 1.9 2.8 2 2.9 2 2.5 1.9 1.6 2 .9 1.9 3.2 2 2.6"/><path d="M29.6,17.4l2 .8 1.9 1.0 2 .7 1.9 .8 2 1.0 2 1.2 1.9 1.2 2 1.2 2 1.1 1.9 .9 2 .7 1.9 .4 2 .2 2 .0 1.9 -.2 2 .0 2 .3 1.9 .9 2 1.5 1.9 1.8 2 1.8 2 1.8 1.9 1.6 2 1.7 1.9 1.7 2 1.5 2 1.5 1.9 1.1 2 .8 2 .5 1.9 .4 2 .3 1.9 .4 2 .2 2 .2 1.9 .2 2 .4 1.9 .6 2 .8 2 1.1 1.9 1.2 2 1.3 2 1.1 1.9 1.3 2 1.2 1.9 1.3 2 1.3 2 1.5 1.9 1.3 2 1.0 2 .8 1.9 .6 2 .6 1.9 .8 2 .8 2 1.1 1.9 1.2 2 1.4 1.9 1.6 2 1.7 2 1.3 1.9 .9 2 .3 2 .1 1.9 -.1 2 -.1 1.9 -.3 2 -.2 2 -.2 1.9 -.2 2 -.4 1.9 -.5 2 -.5 2 -.1 1.9 .4 2 1.1 2 1.8 1.9 1.6 2 1.1 1.9 .9 2 2.1 2 3.8 1.9 4.6 2 3.5 2 3.4 1.9 2.9 2 1.9 1.9 3.7 2 3.0"/><path d="M29.6,19.8l2 .3 1.9 .5 2 .4 1.9 .6 2 .6 2 .8 1.9 1.0 2 .9 2 .9 1.9 .7 2 .6 1.9 .6 2 .6 2 .7 1.9 .9 2 .9 2 1.2 1.9 1.3 2 1.4 1.9 1.4 2 1.4 2 1.3 1.9 1.3 2 1.4 1.9 1.5 2 1.6 2 1.5 1.9 1.2 2 .9 2 .6 1.9 .5 2 .4 1.9 .5 2 .6 2 .8 1.9 .8 2 1.0 1.9 1.1 2 1.3 2 1.3 1.9 1.4 2 1.4 2 1.5 1.9 1.4 2 1.2 1.9 .8 2 .5 2 .1 1.9 -.2 2 -.5 2 -.7 1.9 -.1 2 -.1 1.9 -.2 2 -.4 2 -.7 1.9 -.6 2 -.5 1.9 -.1 2 .4 2 .9 1.9 1.4 2 2.0 2 2.5 1.9 2.7 2 2.7 1.9 2.4 2 2.3 2 2.4 1.9 2.7 2 2.8 1.9 2.3 2 1.6 2 .7 1.9 -.4 2 -1.2 2 -1.3 1.9 -.8 2 -.1 1.9 .2 2 1.0 2 2.1 1.9 2.4 2 2.9 2 3.2 1.9 2.8 2 2.1 1.9 4.3 2 4.1"/><path d="M29.6,20.9l2 1.8 1.9 2.7 2 3.2 1.9 3.0 2 2.3 2 1.0 1.9 -.5 2 -1.5 2 -1.5 1.9 -.8 2 -.2 1.9 .0 2 -.1 2 -.3 1.9 -.2 2 .1 2 .4 1.9 .6 2 .9 1.9 .9 2 .9 2 .6 1.9 .3 2 .2 1.9 .3 2 .3 2 .6 1.9 .8 2 1.2 2 1.3 1.9 1.4 2 1.2 1.9 .9 2 .6 2 .6 1.9 .7 2 .8 1.9 1.2 2 1.3 2 1.4 1.9 1.3 2 1.2 2 1.0 1.9 .9 2 .7 1.9 .7 2 .8 2 1.0 1.9 1.1 2 1.2 2 1.3 1.9 1.0 2 .8 1.9 .7 2 .4 2 .3 1.9 .2 2 .4 1.9 .5 2 .7 2 1.0 1.9 1.4 2 1.6 2 1.8 1.9 1.9 2 1.9 1.9 1.7 2 1.5 2 1.6 1.9 1.7 2 1.8 1.9 1.7 2 1.5 2 1.3 1.9 1.0 2 .6 2 .5 1.9 .4 2 .7 1.9 1.1 2 1.5 2 1.9 1.9 2.4 2 2.6 2 2.1 1.9 1.6 2 1.0 1.9 3.6 2 3.3"/></g>
<g fill="none" stroke="#00cdcd" stroke-width="0.7" stroke-linejoin="round"><path d="M274.4,68.9l2 1.4 1.9 1.5 2 .4 1.9 -1.0 2 -1.8 1.9 -2.5 2 -2.6 1.9 -2.3 2 -1.8 1.9 -1.1 2 -.6 1.9 -1.1 2 -1.6 2 -1.5 1.9 -1.2 2 -.4 1.9 .2 2 .8 1.9 .9 2 .9 1.9 .9 2 .7 1.9 .8 2 1.2 1.9 1.5 2 1.3 2 1.2 1.9 .8 2 .5 1.9 .1 2 .0 1.9 .0 2 -.2 1.9 -.2 2 -.3 1.9 -.5 2 -.5 1.9 -.7 2 -1.0 2 -1.2 1.9 -1.2 2 -1.7 1.9 -2.1 2 -1.9 1.9 -1.6 2 -1.1 1.9 -.6 2 .2 1.9 .8 2 1.3 2 1.6 1.9 1.3 2 1.2 1.9 1.1 2 1.3 1.9 1.3 2 1.3 1.9 1.4 2 1.7 1.9 1.8 2 1.6 1.9 1.3 2 .7 2 -.2 1.9 -1.2 2 -1.9 1.9 -2.1 2 -1.8 1.9 -1.4 2 -1.2 1.9 -1.3 2 -1.3 1.9 -1.1 2 -.5 1.9 .0 2 .5 2 .8 1.9 .8 2 1.3 1.9 1.4 2 1.1 1.9 1.0 2 1.1 1.9 1.4 2 1.4 1.9 1.6 2 2.0 1.9 1.2 2 .1"/><path d="M274.4,63.9l2 1.0 1.9 1.2 2 .8 1.9 -.1 2 -.7 1.9 -1.4 2 -1.7 1.9 -1.7 2 -1.4 1.9 -.9 2 -.4 1.9 -.3 2 -.4 2 -.2 1.9 .2 2 .4 1.9 .4 2 .6 1.9 .6 2 .8 1.9 .8 2 .7 1.9 .4 2 .0 1.9 -.5 2 -.7 2 -1.0 1.9 -1.1 2 -1.0 1.9 -.6 2 -.5 1.9 -.5 2 -.2 1.9 -.1 2 .1 1.9 .5 2 .9 1.9 1.2 2 1.2 2 1.3 1.9 1.1 2 .9 1.9 .9 2 .9 1.9 .7 2 .5 1.9 .3 2 .3 1.9 .1 2 .0 2 -.1 1.9 -.4 2 -.7 1.9 -.8 2 -.9 1.9 -.8 2 -.3 1.9 .0 2 .3 1.9 .5 2 .4 1.9 .6 2 .6 2 .3 1.9 -.2 2 -.6 1.9 -.8 2 -.8 1.9 -.6 2 -.1 1.9 .0 2 .0 1.9 -.2 2 -.4 1.9 -.5 2 -.6 2 -.4 1.9 -.4 2 -.3 1.9 -.1 2 -.1 1.9 .1 2 .3 1.9 .5 2 .7 1.9 1.0 2 1.4 1.9 1.5 2 1.2"/><path d="M274.4,68.7l2 1.1 1.9 1.2 2 .2 1.9 -.8 2 -1.2 1.9 -1.5 2 -1.5 1.9 -1.6 2 -1.5 1.9 -1.1 2 -.8 1.9 -.4 2 -.2 2 -.4 1.9 -.5 2 -.8 1.9 -1.2 2 -1.4 1.9 -.6 2 .0 1.9 .3 2 .4 1.9 .8 2 1.1 1.9 2.4 2 2.5 2 2.3 1.9 1.8 2 .9 1.9 .1 2 -.3 1.9 -.7 2 -.8 1.9 -.8 2 -.8 1.9 -.6 2 -.4 1.9 -.1 2 .1 2 .1 1.9 .0 2 .2 1.9 .2 2 .3 1.9 .1 2 .1 1.9 -.1 2 -.2 1.9 -.3 2 -.3 2 -.3 1.9 -.1 2 -.1 1.9 .1 2 .2 1.9 .2 2 .7 1.9 1.2 2 1.7 1.9 1.6 2 1.4 1.9 1.0 2 .1 2 -.7 1.9 -1.7 2 -2.1 1.9 -2.0 2 -1.5 1.9 -1.0 2 -.4 1.9 -.1 2 .0 1.9 -.2 2 -.5 1.9 -.7 2 -.9 2 -.7 1.9 -.4 2 .0 1.9 .2 2 .4 1.9 .5 2 .6 1.9 .8 2 .8 1.9 .8 2 .8 1.9 .2 2 -.6"/><path d="M274.4,59.4l2 -1.2 1.9 -1.3 2 -1.7 1.9 -1.8 2 -1.6 1.9 -.9 2 -.5 1.9 -.6 2 -1.3 1.9 -2.2 2 -2.6 1.9 -2.7 2 -2.6 2 -2.0 1.9 -1.1 2 .5 1.9 1.9 2 2.7 1.9 2.8 2 2.3 1.9 1.8 2 1.0 1.9 .7 2 .4 1.9 .4 2 .5 2 .5 1.9 .4 2 .5 1.9 .4 2 .2 1.9 .2 2 .1 1.9 .0 2 .0 1.9 .1 2 .3 1.9 .6 2 1.0 2 1.2 1.9 1.2 2 1.1 1.9 .6 2 .3 1.9 .1 2 -.2 1.9 -.6 2 -.9 1.9 -1.0 2 -.8 2 -.5 1.9 -.3 2 -.4 1.9 -.3 2 -.3 1.9 -.2 2 .0 1.9 .3 2 .5 1.9 .8 2 .8 1.9 .7 2 .5 2 .3 1.9 .1 2 .0 1.9 .0 2 -.1 1.9 -.1 2 -.2 1.9 -.2 2 -.2 1.9 -.2 2 -.1 1.9 -.1 2 .0 2 .0 1.9 -.1 2 -.2 1.9 -.3 2 -.2 1.9 .1 2 .6 1.9 .8 2 .8 1.9 .6 2 .5 1.9 .4 2 .2"/><path d="M274.4,61.5l2 .1 1.9 -.1 2 -.5 1.9 -.7 2 -.4 1.9 .0 2 .4 1.9 .5 2 .4 1.9 .1 2 .2 1.9 .4 2 .8 2 1.0 1.9 1.0 2 1.2 1.9 1.2 2 1.4 1.9 1.2 2 1.1 1.9 .9 2 .3 1.9 -.3 2 -1.3 1.9 -1.9 2 -2.2 2 -2.3 1.9 -2.3 2 -1.8 1.9 -1.2 2 -.6 1.9 -.1 2 .1 1.9 .5 2 .6 1.9 .8 2 .8 1.9 1.0 2 .8 2 .8 1.9 .5 2 .6 1.9 .6 2 .8 1.9 .7 2 .7 1.9 .6 2 .2 1.9 -.1 2 -.6 2 -1.1 1.9 -1.4 2 -1.5 1.9 -1.1 2 -.8 1.9 -.3 2 .2 1.9 .6 2 1.1 1.9 1.3 2 1.4 1.9 1.4 2 1.0 2 .3 1.9 -.6 2 -1.3 1.9 -1.5 2 -1.3 1.9 -1.0 2 -.5 1.9 -.2 2 -.2 1.9 .0 2 .2 1.9 .5 2 .6 2 .7 1.9 .3 2 -.1 1.9 -.4 2 -.5 1.9 -.3 2 -.2 1.9 .0 2 .0 1.9 .1 2 .2 1.9 -.1 2 -.4"/><path d="M274.4,56.8l2 .7 1.9 1.0 2 1.9 1.9 2.5 2 2.5 1.9 1.9 2 .8 1.9 -.4 2 -1.1 1.9 -1.3 2 -.8 1.9 .0 2 .7 2 1.0 1.9 1.1 2 1.3 1.9 1.4 2 1.4 1.9 1.2 2 1.0 1.9 .5 2 -.2 1.9 -.6 2 -1.2 1.9 -1.4 2 -1.5 2 -1.3 1.9 -1.2 2 -1.2 1.9 -1.1 2 -.9 1.9 -.7 2 -.5 1.9 -.4 2 -.3 1.9 -.1 2 .1 1.9 .2 2 .3 2 .3 1.9 .3 2 .4 1.9 .5 2 .7 1.9 .8 2 .8 1.9 1.0 2 .9 1.9 .9 2 .7 2 .2 1.9 -.2 2 -.8 1.9 -1.0 2 -1.1 1.9 -1.0 2 -.4 1.9 .0 2 .4 1.9 .4 2 .1 1.9 .0 2 -.3 2 -.7 1.9 -.9 2 -1.0 1.9 -.8 2 -.6 1.9 -.2 2 .2 1.9 .5 2 .8 1.9 .8 2 .4 1.9 .0 2 -.7 2 -1.1 1.9 -1.4 2 -1.5 1.9 -1.2 2 -1.6 1.9 -2.1 2 -2.3 1.9 -2.0 2 -1.2 1.9 -.3 2 .5 1.9 .7 2 1.0"/><path d="M274.4,57.3l2 1.6 1.9 1.9 2 2.0 1.9 1.5 2 .6 1.9 -.4 2 -1.2 1.9 -1.6 2 -1.4 1.9 -1.1 2 -.6 1.9 -.3 2 -.5 2 -.2 1.9 .3 2 .5 1.9 .6 2 .7 1.9 1.1 2 1.2 1.9 1.4 2 1.5 1.9 1.3 2 1.0 1.9 .7 2 .3 2 .2 1.9 -.2 2 -.5 1.9 -.7 2 -.5 1.9 -.4 2 -.4 1.9 -.2 2 -.3 1.9 -.2 2 -.3 1.9 -.4 2 -.6 2 -.8 1.9 -1.0 2 -1.0 1.9 -.9 2 -.8 1.9 -1.0 2 -1.2 1.9 -.8 2 -.3 1.9 .1 2 .5 2 .6 1.9 .5 2 .5 1.9 .5 2 .3 1.9 .1 2 -.1 1.9 -.3 2 -.6 1.9 -1.0 2 -1.1 1.9 -1.3 2 -1.0 2 -.6 1.9 -.1 2 .5 1.9 .7 2 .8 1.9 .9 2 1.1 1.9 1.5 2 1.6 1.9 1.9 2 1.7 1.9 1.1 2 .3 2 -.4 1.9 -1.0 2 -1.0 1.9 -.9 2 -.6 1.9 -.2 2 .2 1.9 .5 2 .8 1.9 1.1 2 1.8 1.9 1.7 2 1.5"/><path d="M274.4,52.8l2 .9 1.9 .8 2 .2 1.9 .4 2 .4 1.9 .4 2 .2 1.9 -.1 2 -.5 1.9 -1.0 2 -1.5 1.9 -1.7 2 -1.8 2 -1.6 1.9 -1.0 2 -.2 1.9 .6 2 1.1 1.9 1.3 2 1.0 1.9 .8 2 .2 1.9 .0 2 -.3 1.9 -.3 2 -.3 2 -.2 1.9 .0 2 .1 1.9 .2 2 .1 1.9 .0 2 .0 1.9 -.2 2 -.4 1.9 -.7 2 -.8 1.9 -.8 2 -.7 2 -.8 1.9 -.9 2 -1.0 1.9 -1.1 2 -1.1 1.9 -1.0 2 -.6 1.9 -.1 2 .5 1.9 1.3 2 1.9 2 2.2 1.9 1.7 2 1.1 1.9 .5 2 .4 1.9 .0 2 -.1 1.9 -.1 2 -.1 1.9 .0 2 .1 1.9 .1 2 .3 2 .5 1.9 .8 2 .9 1.9 .8 2 .7 1.9 .5 2 .6 1.9 .7 2 .8 1.9 .8 2 .5 1.9 .4 2 .0 2 -.3 1.9 -.4 2 -.6 1.9 -1.1 2 -1.6 1.9 -2.1 2 -2.1 1.9 -1.9 2 -1.4 1.9 -.7 2 .0 1.9 .0 2 .0"/><path d="M274.4,58.6l2 -1.4 1.9 -1.7 2 -2.4 1.9 -2.5 2 -2.2 1.9 -1.3 2 -.4 1.9 -.5 2 -1.1 1.9 -1.7 2 -1.2 1.9 .0 2 1.2 2 2.4 1.9 2.9 2 2.8 1.9 2.1 2 1.2 1.9 .5 2 .0 1.9 -.4 2 -.7 1.9 -.7 2 -.8 1.9 -.6 2 -.1 2 .5 1.9 .9 2 1.2 1.9 1.4 2 1.4 1.9 1.4 2 1.4 1.9 1.2 2 1.0 1.9 .7 2 .4 1.9 .3 2 -.1 2 -.5 1.9 -.6 2 -.7 1.9 -.6 2 -.6 1.9 -.6 2 -.7 1.9 -.9 2 -1.2 1.9 -1.2 2 -1.0 2 -.6 1.9 -.5 2 -.4 1.9 -.5 2 -.3 1.9 -.3 2 .0 1.9 .4 2 .9 1.9 1.2 2 1.2 1.9 1.2 2 .8 2 .5 1.9 .2 2 .0 1.9 -.2 2 -.1 1.9 -.1 2 -.1 1.9 .0 2 .0 1.9 .0 2 .1 1.9 .2 2 .2 2 .3 1.9 .2 2 .1 1.9 .1 2 .1 1.9 .1 2 .1 1.9 .2 2 .1 1.9 .0 2 -.1 1.9 -.5 2 -.8"/><path d="M274.4,64.0l2 2.1 1.9 2.5 2 1.9 1.9 .9 2 -.4 1.9 -1.4 2 -2.2 1.9 -2.5 2 -2.1 1.9 -1.5 2 -.9 1.9 -.3 2 .0 2 .2 1.9 .3 2 .6 1.9 .7 2 .9 1.9 1.0 2 1.2 1.9 1.2 2 1.2 1.9 1.0 2 .8 1.9 .5 2 .1 2 -.1 1.9 -.9 2 -1.5 1.9 -1.9 2 -2.0 1.9 -2.0 2 -2.1 1.9 -2.0 2 -2.1 1.9 -2.3 2 -2.3 1.9 -1.9 2 -1.2 2 -.3 1.9 .4 2 1.2 1.9 1.7 2 2.1 1.9 2.1 2 2.0 1.9 1.6 2 .9 1.9 .5 2 -.1 2 -.7 1.9 -1.0 2 -.8 1.9 -.8 2 -1.0 1.9 -1.0 2 -1.0 1.9 -.7 2 -.2 1.9 .6 2 1.3 1.9 2.1 2 2.6 2 2.7 1.9 2.3 2 1.5 1.9 .4 2 .0 1.9 -.1 2 .5 1.9 .7 2 .9 1.9 .4 2 -.2 1.9 -.8 2 -1.3 2 -1.5 1.9 -1.6 2 -1.4 1.9 -1.2 2 -.9 1.9 -.6 2 -.6 1.9 -1.0 2 -.7 1.9 -.4 2 .0 1.9 .2 2 .3"/><path d="M274.4,47.2l2 .0 1.9 .2 2 -1.1 1.9 -.3 2 .6 1.9 1.5 2 2.1 1.9 1.9 2 1.7 1.9 2.0 2 2.6 1.9 .9 2 .8 2 .9 1.9 .6 2 .5 1.9 .1 2 -.5 1.9 -1.2 2 -1.9 1.9 -1.7 2 -1.4 1.9 -1.1 2 -.8 1.9 -.2 2 .6 2 1.2 1.9 1.6 2 2.0 1.9 2.1 2 1.5 1.9 1.0 2 .6 1.9 .3 2 .0 1.9 -.1 2 -.2 1.9 -.3 2 -.4 2 -.6 1.9 -.7 2 -.6 1.9 -.5 2 -.5 1.9 -.6 2 -.6 1.9 -.7 2 -.7 1.9 -.7 2 -.5 2 -.3 1.9 -.1 2 -.1 1.9 -.2 2 -.1 1.9 .0 2 .0 1.9 .3 2 .6 1.9 .9 2 1.1 1.9 1.2 2 1.3 2 1.0 1.9 .7 2 .0 1.9 -.3 2 -.5 1.9 -.4 2 -.2 1.9 -.1 2 -.2 1.9 -.4 2 -.7 1.9 -.8 2 -.9 2 -.5 1.9 -.4 2 -.6 1.9 -1.1 2 -1.6 1.9 -1.9 2 -1.8 1.9 -1.4 2 -.5 1.9 .3 2 1.1 1.9 1.2 2 1.5"/><path d="M274.4,54.6l2 .5 1.9 .9 2 1.0 1.9 1.8 2 2.9 1.9 2.6 2 1.7 1.9 .4 2 -.6 1.9 -1.0 2 -.8 1.9 -.1 2 .3 2 .5 1.9 .3 2 .3 1.9 .0 2 -.2 1.9 -.4 2 -.8 1.9 -1.0 2 -1.3 1.9 -1.5 2 -1.6 1.9 -1.0 2 -.9 2 -.7 1.9 -.5 2 -.1 1.9 .1 2 .4 1.9 .6 2 .7 1.9 .7 2 .8 1.9 .5 2 .3 1.9 .0 2 -.3 2 -.6 1.9 -1.0 2 -1.4 1.9 -1.3 2 -1.1 1.9 -.7 2 -.4 1.9 .2 2 .7 1.9 1.0 2 1.3 2 1.1 1.9 .9 2 1.0 1.9 .8 2 .4 1.9 .1 2 .0 1.9 -.1 2 -.4 1.9 -.8 2 -1.2 1.9 -1.8 2 -1.7 2 -1.6 1.9 -1.2 2 -.6 1.9 -.5 2 -.6 1.9 -.9 2 -1.1 1.9 -1.0 2 -.3 1.9 .2 2 .9 1.9 1.2 2 1.4 2 1.2 1.9 .6 2 -.2 1.9 -.7 2 -.8 1.9 -.6 2 -.1 1.9 .2 2 .3 1.9 .3 2 .4 1.9 .0 2 -.2"/><path d="M274.4,64.9l2 1.1 1.9 1.1 2 .4 1.9 -.5 2 -1.1 1.9 -1.5 2 -1.7 1.9 -1.6 2 -1.3 1.9 -1.0 2 -1.1 1.9 -2.4 2 -3.2 2 -3.4 1.9 -3.0 2 -1.6 1.9 .0 2 1.4 1.9 2.0 2 1.9 1.9 1.8 2 1.2 1.9 1.0 2 .7 1.9 .5 2 .3 2 -.1 1.9 -.2 2 -.3 1.9 -.4 2 -.4 1.9 -.3 2 -.3 1.9 -.4 2 -.2 1.9 -.2 2 .0 1.9 .4 2 .8 2 .9 1.9 .9 2 .9 1.9 .6 2 .3 1.9 .3 2 .2 1.9 .5 2 .8 1.9 1.2 2 1.8 2 2.2 1.9 2.0 2 1.3 1.9 .5 2 -.3 1.9 -.8 2 -.5 1.9 -.3 2 -.3 1.9 -.6 2 -1.0 1.9 -1.2 2 -1.1 2 -1.0 1.9 -.4 2 .0 1.9 .4 2 .6 1.9 1.0 2 1.7 1.9 2.4 2 3.3 1.9 3.3 2 2.7 1.9 1.6 2 -.1 2 -1.3 1.9 -2.6 2 -3.1 1.9 -3.1 2 -2.5 1.9 -1.8 2 -1.3 1.9 -1.0 2 -.8 1.9 -.7 2 -.4 1.9 -.1 2 .3"/><path d="M274.4,59.8l2 -.6 1.9 -1.0 2 -.9 1.9 -1.0 2 -1.0 1.9 -.6 2 -.2 1.9 -.3 2 -.4 1.9 -.6 2 -.4 1.9 .1 2 .6 2 1.1 1.9 1.4 2 1.5 1.9 1.0 2 .7 1.9 .8 2 .9 1.9 .9 2 .7 1.9 .5 2 .1 1.9 -.3 2 -.7 2 -.8 1.9 -1.2 2 -1.2 1.9 -1.0 2 -.9 1.9 -.9 2 -1.0 1.9 -1.0 2 -1.1 1.9 -1.2 2 -1.1 1.9 -.9 2 -.5 2 .0 1.9 .2 2 .4 1.9 .5 2 .4 1.9 .5 2 .5 1.9 .6 2 .7 1.9 .9 2 1.1 2 1.0 1.9 .9 2 .7 1.9 .9 2 .9 1.9 .8 2 .8 1.9 1.0 2 1.2 1.9 1.2 2 1.1 1.9 .8 2 .3 2 -.4 1.9 -1.1 2 -1.4 1.9 -1.5 2 -1.3 1.9 -.9 2 -.8 1.9 -.8 2 -.9 1.9 -.7 2 -.4 1.9 -.1 2 .2 2 .4 1.9 .3 2 .4 1.9 .7 2 .8 1.9 .7 2 .8 1.9 1.0 2 1.3 1.9 1.7 2 2.3 1.9 2.2 2 1.7"/><path d="M274.4,58.3l2 .0 1.9 -.1 2 -.2 1.9 -.2 2 -.4 1.9 -.3 2 -.4 1.9 -.4 2 -.7 1.9 -1.2 2 -1.4 1.9 -1.4 2 -1.4 2 -1.0 1.9 -.6 2 .1 1.9 .4 2 .8 1.9 .8 2 .5 1.9 .3 2 -.2 1.9 -.4 2 -.7 1.9 -.7 2 -.5 2 -.2 1.9 .0 2 .1 1.9 .2 2 .1 1.9 -.1 2 -.3 1.9 -.5 2 -.8 1.9 -1.2 2 -1.1 1.9 -.9 2 -.5 2 .0 1.9 .5 2 .8 1.9 1.1 2 1.4 1.9 1.5 2 1.6 1.9 1.6 2 1.4 1.9 1.1 2 .9 2 .6 1.9 .3 2 .0 1.9 -.1 2 -.4 1.9 -.4 2 -.7 1.9 -.6 2 -.6 1.9 -.5 2 -.2 1.9 .0 2 .4 2 .6 1.9 .6 2 .5 1.9 .3 2 .0 1.9 -.3 2 -.6 1.9 -.8 2 -.8 1.9 -.7 2 -.4 1.9 .0 2 .2 2 .4 1.9 .1 2 -.5 1.9 -.7 2 -.3 1.9 .6 2 1.8 1.9 2.5 2 2.5 1.9 1.7 2 2.2 1.9 2.3 2 2.0"/><path d="M274.4,58.0l2 .8 1.9 1.2 2 1.3 1.9 1.0 2 .2 1.9 -.8 2 -1.5 1.9 -1.7 2 -1.6 1.9 -2.4 2 -3.0 1.9 -3.1 2 -2.6 2 -1.5 1.9 .0 2 1.4 1.9 2.3 2 2.6 1.9 2.2 2 1.7 1.9 1.3 2 .9 1.9 .8 2 .7 1.9 1.0 2 .9 2 .5 1.9 .3 2 .0 1.9 -.1 2 -.3 1.9 -.3 2 -.2 1.9 -.3 2 -.2 1.9 -.1 2 -.1 1.9 .0 2 .0 2 .1 1.9 .1 2 .2 1.9 .3 2 .3 1.9 .5 2 .6 1.9 .7 2 .8 1.9 .8 2 .8 2 .5 1.9 .0 2 -.6 1.9 -1.0 2 -1.2 1.9 -1.2 2 -1.0 1.9 -1.0 2 -1.2 1.9 -1.4 2 -1.1 1.9 -.7 2 -.2 2 .3 1.9 .7 2 .8 1.9 .6 2 .5 1.9 .4 2 .3 1.9 .2 2 .2 1.9 .2 2 .3 1.9 .4 2 .5 2 .7 1.9 .7 2 .7 1.9 .6 2 .5 1.9 .7 2 .9 1.9 1.1 2 1.2 1.9 1.3 2 1.4 1.9 .3 2 -1.0"/><path d="M274.4,59.1l2 .6 1.9 .8 2 .8 1.9 .5 2 -.1 1.9 -.6 2 -1.0 1.9 -1.1 2 -.8 1.9 -.9 2 -1.0 1.9 -.8 2 -.3 2 .5 1.9 1.2 2 1.4 1.9 .8 2 1.1 1.9 1.2 2 1.3 1.9 1.4 2 1.2 1.9 1.0 2 .5 1.9 .2 2 -.2 2 -.4 1.9 -.8 2 -1.1 1.9 -1.2 2 -1.0 1.9 -1.0 2 -1.0 1.9 -.9 2 -.8 1.9 -.9 2 -1.1 1.9 -1.1 2 -1.1 2 -.8 1.9 -.5 2 .0 1.9 .4 2 .8 1.9 1.2 2 1.6 1.9 1.5 2 1.6 1.9 1.7 2 1.6 2 1.3 1.9 .6 2 -.3 1.9 -.8 2 -1.2 1.9 -1.3 2 -1.0 1.9 -.9 2 -.9 1.9 -1.0 2 -.9 1.9 -.4 2 .0 2 .4 1.9 .5 2 .4 1.9 .1 2 -.1 1.9 -.4 2 -.7 1.9 -.9 2 -.9 1.9 -.7 2 -.3 1.9 .2 2 .5 2 .7 1.9 .5 2 .4 1.9 .5 2 .9 1.9 .9 2 .6 1.9 .6 2 .7 1.9 .8 2 1.1 1.9 .8 2 .5"/><path d="M274.4,53.6l2 .1 1.9 -.2 2 -1.3 1.9 -1.3 2 -1.3 1.9 -.9 2 -.6 1.9 -.9 2 -1.8 1.9 -2.7 2 -2.6 1.9 -1.8 2 -.3 2 1.4 1.9 3.1 2 4.3 1.9 4.3 2 3.6 1.9 2.7 2 2.0 1.9 2.2 2 2.1 1.9 2.0 2 1.5 1.9 1.0 2 .6 2 .2 1.9 -.2 2 -.6 1.9 -.8 2 -.6 1.9 -.4 2 -.4 1.9 -.2 2 -.2 1.9 -.1 2 -.2 1.9 -.1 2 -.2 2 -.4 1.9 -.6 2 -.4 1.9 -.1 2 .0 1.9 .3 2 .3 1.9 .6 2 .7 1.9 .7 2 .6 2 .3 1.9 -.2 2 -.7 1.9 -1.1 2 -1.2 1.9 -1.1 2 -.7 1.9 -.4 2 .0 1.9 .2 2 .6 1.9 1.1 2 1.6 2 1.7 1.9 1.2 2 .3 1.9 -.3 2 -.6 1.9 -.4 2 .3 1.9 .4 2 .2 1.9 -.9 2 -2.2 1.9 -3.3 2 -3.6 2 -1.9 1.9 -1.8 2 -2.2 1.9 -3.0 2 -3.4 1.9 -3.0 2 -2.0 1.9 -.5 2 .7 1.9 1.4 2 2.0 1.9 1.6 2 1.3"/><path d="M274.4,47.7l2 2.1 1.9 1.7 2 .6 1.9 1.0 2 1.1 1.9 1.4 2 1.3 1.9 1.1 2 .8 1.9 .4 2 .2 1.9 .1 2 .1 2 .1 1.9 .0 2 -.1 1.9 -.1 2 -.2 1.9 .0 2 .0 1.9 .3 2 .4 1.9 .5 2 .5 1.9 .4 2 .3 2 .2 1.9 .0 2 -.2 1.9 -.3 2 -.3 1.9 -.2 2 -.2 1.9 -.2 2 -.3 1.9 -.3 2 -.2 1.9 -.4 2 -.3 2 -.4 1.9 -.5 2 -.6 1.9 -.5 2 -.5 1.9 -.3 2 -.3 1.9 -.3 2 -.3 1.9 -.3 2 -.1 2 .1 1.9 .1 2 .0 1.9 .0 2 .1 1.9 .3 2 .5 1.9 .8 2 1.1 1.9 .9 2 .8 1.9 .5 2 .1 2 -.6 1.9 -1.1 2 -1.1 1.9 -1.2 2 -1.2 1.9 -1.5 2 -1.8 1.9 -1.7 2 -1.3 1.9 -.7 2 .2 1.9 .7 2 1.1 2 1.1 1.9 .4 2 -.5 1.9 -1.4 2 -1.9 1.9 -2.0 2 -1.9 1.9 -1.4 2 -.8 1.9 -.3 2 .5 1.9 .3 2 .2"/><path d="M274.4,62.9l2 1.3 1.9 1.4 2 .6 1.9 -.2 2 -.8 1.9 -1.1 2 -1.2 1.9 -1.1 2 -.8 1.9 -.6 2 -.2 1.9 .1 2 .5 2 .7 1.9 .9 2 1.0 1.9 1.1 2 1.1 1.9 1.0 2 .9 1.9 .6 2 .3 1.9 .1 2 -.1 1.9 -.2 2 -.1 2 .0 1.9 .0 2 -.2 1.9 -.4 2 -.2 1.9 -.3 2 -.2 1.9 -.2 2 -.4 1.9 -.4 2 -.5 1.9 -.7 2 -.9 2 -1.1 1.9 -1.2 2 -1.0 1.9 -.8 2 -.6 1.9 -.5 2 -.2 1.9 -.1 2 .2 1.9 .5 2 .7 2 .7 1.9 .8 2 .5 1.9 .3 2 .1 1.9 .0 2 .2 1.9 .4 2 .7 1.9 .6 2 .5 1.9 .4 2 .0 2 -.3 1.9 -.7 2 -1.0 1.9 -.8 2 -.7 1.9 -.4 2 .0 1.9 .2 2 .3 1.9 .2 2 .2 1.9 .1 2 -.2 2 -.3 1.9 -.5 2 -.5 1.9 -.5 2 -.3 1.9 -.3 2 -.1 1.9 -.1 2 .0 1.9 .1 2 .2 1.9 .3 2 .2"/><path d="M274.4,58.4l2 .8 1.9 1.4 2 1.7 1.9 1.5 2 1.2 1.9 .5 2 -.3 1.9 -1.1 2 -1.2 1.9 -1.2 2 -.8 1.9 -.3 2 -.2 2 -.1 1.9 -.3 2 -.2 1.9 -.3 2 -.2 1.9 -.1 2 .0 1.9 .2 2 .4 1.9 .5 2 .5 1.9 .6 2 .6 2 .6 1.9 .7 2 .7 1.9 .7 2 .8 1.9 1.1 2 1.1 1.9 1.0 2 1.0 1.9 .7 2 .6 1.9 .6 2 .3 2 -.1 1.9 -.3 2 -.2 1.9 .0 2 .1 1.9 -.4 2 -.9 1.9 -1.6 2 -1.9 1.9 -2.2 2 -2.3 2 -2.1 1.9 -1.7 2 -.8 1.9 -.7 2 -.7 1.9 -.9 2 -1.1 1.9 -1.1 2 -1.2 1.9 -1.0 2 -.7 1.9 -.3 2 .2 2 .8 1.9 1.0 2 1.2 1.9 .9 2 .7 1.9 .4 2 .4 1.9 .4 2 .5 1.9 .6 2 .6 1.9 .6 2 .7 2 .8 1.9 .8 2 .6 1.9 .4 2 .3 1.9 .3 2 .5 1.9 .6 2 .6 1.9 .5 2 .5 1.9 -.4 2 -1.2"/><path d="M274.4,57.2l2 .1 1.9 .1 2 -.2 1.9 -.2 2 -.3 1.9 -.2 2 -.3 1.9 -.2 2 -.5 1.9 -.6 2 -.4 1.9 .1 2 .6 2 1.2 1.9 1.6 2 .8 1.9 .9 2 1.0 1.9 1.1 2 1.2 1.9 1.1 2 1.1 1.9 .9 2 .6 1.9 .3 2 .2 2 .1 1.9 -.3 2 -.6 1.9 -.7 2 -.8 1.9 -.7 2 -.8 1.9 -.8 2 -.9 1.9 -1.0 2 -1.1 1.9 -1.1 2 -1.7 2 -1.9 1.9 -1.6 2 -1.1 1.9 -.6 2 .0 1.9 .5 2 .9 1.9 1.1 2 .9 1.9 .7 2 .4 2 .1 1.9 -.2 2 -.3 1.9 -.5 2 -.6 1.9 -.8 2 -.8 1.9 -.7 2 -.6 1.9 -.3 2 -.1 1.9 .1 2 .4 2 .6 1.9 .7 2 .7 1.9 .5 2 .2 1.9 .1 2 .0 1.9 .2 2 .5 1.9 .7 2 1.0 1.9 1.0 2 1.3 2 1.4 1.9 .8 2 .3 1.9 -.2 2 -.5 1.9 -.6 2 -.5 1.9 -.8 2 -.9 1.9 -2.1 2 -1.8 1.9 -1.7 2 -1.3"/><path d="M274.4,62.1l2 .5 1.9 .5 2 .2 1.9 -.2 2 -.3 1.9 -.4 2 -.3 1.9 -.5 2 -.6 1.9 -.6 2 -.5 1.9 -.3 2 -.4 2 -.5 1.9 -1.1 2 -2.1 1.9 -1.2 2 -.3 1.9 .4 2 .8 1.9 1.0 2 1.0 1.9 1.3 2 2.3 1.9 2.2 2 1.8 2 1.2 1.9 .3 2 -.6 1.9 -1.2 2 -1.5 1.9 -1.7 2 -1.9 1.9 -1.7 2 -2.0 1.9 -2.1 2 -2.2 1.9 -2.0 2 -1.5 2 -.9 1.9 -.3 2 .2 1.9 .5 2 .8 1.9 .9 2 1.0 1.9 1.0 2 1.0 1.9 1.1 2 1.0 2 .9 1.9 .6 2 .4 1.9 .4 2 .3 1.9 .4 2 .4 1.9 .6 2 .6 1.9 .7 2 .6 1.9 .6 2 .3 2 .1 1.9 -.4 2 -.5 1.9 -.7 2 -.6 1.9 -.5 2 -.7 1.9 -.8 2 -.8 1.9 -.8 2 -.5 1.9 -.3 2 -.1 2 .1 1.9 -.3 2 -.7 1.9 -1.3 2 -1.4 1.9 -1.3 2 -.9 1.9 -.1 2 .5 1.9 .8 2 1.3 1.9 1.0 2 .9"/><path d="M274.4,49.5l2 .0 1.9 .1 2 -1.0 1.9 -.3 2 .3 1.9 1.0 2 1.4 1.9 1.2 2 .9 1.9 .9 2 1.3 1.9 1.6 2 1.4 2 .5 1.9 .3 2 .1 1.9 .0 2 -.4 1.9 -.8 2 -1.0 1.9 -.9 2 -.9 1.9 -.9 2 -1.0 1.9 -.8 2 -.6 2 -.2 1.9 .1 2 .3 1.9 .5 2 .4 1.9 .4 2 .4 1.9 .3 2 .4 1.9 .7 2 .9 1.9 1.4 2 1.4 2 1.2 1.9 1.0 2 .9 1.9 .8 2 .8 1.9 .6 2 .4 1.9 .3 2 .1 1.9 -.1 2 -.2 2 -.5 1.9 -.6 2 -.8 1.9 -.9 2 -.7 1.9 -.6 2 -.3 1.9 .0 2 .1 1.9 .4 2 .5 1.9 .8 2 .9 2 .7 1.9 .2 2 -.4 1.9 -.8 2 -1.0 1.9 -.9 2 -.9 1.9 -1.1 2 -1.4 1.9 -1.4 2 -.9 1.9 -.5 2 .0 2 .3 1.9 .1 2 -.2 1.9 -.5 2 -.3 1.9 -.1 2 .4 1.9 .8 2 1.1 1.9 1.4 2 1.3 1.9 1.4 2 1.6"/><path d="M274.4,62.4l2 1.1 1.9 .7 2 -.2 1.9 -1.3 2 -1.9 1.9 -1.9 2 -1.3 1.9 -.8 2 -.9 1.9 -.8 2 -.7 1.9 -.1 2 .4 2 .9 1.9 1.2 2 1.1 1.9 .5 2 .3 1.9 .0 2 -.3 1.9 -.4 2 -.5 1.9 -.4 2 -.4 1.9 -.2 2 -.2 2 .1 1.9 .1 2 .1 1.9 .0 2 -.2 1.9 -.3 2 -.6 1.9 -.7 2 -1.0 1.9 -1.1 2 -1.1 1.9 -.9 2 -.6 2 -.3 1.9 .2 2 .3 1.9 .5 2 .4 1.9 .3 2 .2 1.9 .0 2 -.1 1.9 -.2 2 .0 2 .1 1.9 .0 2 -.3 1.9 -.6 2 -.7 1.9 -.9 2 -1.1 1.9 -.8 2 -.5 1.9 -.2 2 .2 1.9 .4 2 .8 2 1.2 1.9 1.5 2 1.5 1.9 1.4 2 1.1 1.9 1.1 2 1.3 1.9 1.5 2 1.7 1.9 1.9 2 1.9 1.9 1.4 2 .4 2 -.4 1.9 -1.1 2 -1.6 1.9 -1.5 2 -1.2 1.9 -1.1 2 -1.4 1.9 -2.1 2 -1.9 1.9 -1.5 2 -.8 1.9 -.6 2 -.4"/><path d="M274.4,57.2l2 .4 1.9 .1 2 -.2 1.9 -.2 2 -.2 1.9 .1 2 .2 1.9 .3 2 .3 1.9 .3 2 .1 1.9 .0 2 .0 2 -.4 1.9 -.9 2 -1.0 1.9 -.7 2 -.2 1.9 .2 2 .3 1.9 .4 2 .3 1.9 .4 2 .3 1.9 .3 2 .4 2 .2 1.9 .2 2 .0 1.9 -.2 2 -.3 1.9 -.4 2 -.6 1.9 -.9 2 -1.1 1.9 -1.6 2 -2.0 1.9 -2.1 2 -2.1 2 -1.8 1.9 -1.2 2 -.6 1.9 .2 2 1.1 1.9 1.8 2 2.4 1.9 2.6 2 2.5 1.9 2.0 2 1.4 2 .8 1.9 .3 2 -.1 1.9 -.4 2 -.6 1.9 -.9 2 -1.2 1.9 -1.5 2 -1.4 1.9 -1.3 2 -.9 1.9 -.4 2 .2 2 .6 1.9 .8 2 .8 1.9 .4 2 -.2 1.9 -.7 2 -1.2 1.9 -1.4 2 -1.0 1.9 -.5 2 .2 1.9 .8 2 1.1 2 1.2 1.9 .5 2 -.2 1.9 -.9 2 -.9 1.9 -.6 2 -.3 1.9 .1 2 .4 1.9 .4 2 .6 1.9 .2 2 .1"/><path d="M274.4,51.8l2 1.1 1.9 .9 2 .4 1.9 .7 2 1.1 1.9 1.4 2 1.5 1.9 1.3 2 .7 1.9 .2 2 .0 1.9 .3 2 .4 2 .4 1.9 .3 2 .0 1.9 -.4 2 -.8 1.9 -1.4 2 -2.0 1.9 -1.6 2 -1.5 1.9 -1.5 2 -1.4 1.9 -1.2 2 -.8 2 -.3 1.9 .1 2 .4 1.9 .6 2 .5 1.9 .4 2 .3 1.9 .0 2 -.1 1.9 -.4 2 -.4 1.9 -.4 2 -.2 2 .0 1.9 .2 2 .5 1.9 .7 2 .9 1.9 1.1 2 1.1 1.9 1.0 2 .8 1.9 .6 2 .3 2 .2 1.9 .0 2 .0 1.9 .0 2 .1 1.9 .1 2 .3 1.9 .4 2 .4 1.9 .4 2 .2 1.9 .1 2 -.2 2 -.4 1.9 -.5 2 -.4 1.9 -.2 2 -.1 1.9 .1 2 .3 1.9 .3 2 .5 1.9 .6 2 .4 1.9 .3 2 -.1 2 -.4 1.9 -.6 2 -.7 1.9 -.6 2 -.7 1.9 -.9 2 -1.0 1.9 -.7 2 -.4 1.9 .0 2 .4 1.9 .4 2 .5"/><path d="M274.4,60.3l2 -.1 1.9 .0 2 .0 1.9 .4 2 .8 1.9 1.2 2 1.1 1.9 .7 2 .2 1.9 -.3 2 -.1 1.9 .3 2 .9 2 1.2 1.9 1.2 2 1.3 1.9 1.4 2 1.3 1.9 1.0 2 .4 1.9 -.4 2 -1.2 1.9 -1.9 2 -2.4 1.9 -2.5 2 -2.3 2 -2.1 1.9 -1.6 2 -1.1 1.9 -.8 2 -.7 1.9 -.7 2 -.7 1.9 -.8 2 -.7 1.9 -.8 2 -.6 1.9 -.3 2 .2 2 .5 1.9 .9 2 1.1 1.9 1.1 2 1.0 1.9 1.1 2 .9 1.9 .9 2 1.2 1.9 1.3 2 1.5 2 1.4 1.9 1.1 2 .4 1.9 -.2 2 -.6 1.9 -.9 2 -.6 1.9 -.3 2 -.2 1.9 -.4 2 -.4 1.9 -.5 2 -.4 2 -.3 1.9 -.1 2 .1 1.9 .2 2 .4 1.9 .6 2 1.2 1.9 1.9 2 2.6 1.9 2.8 2 2.5 1.9 1.8 2 .4 2 -.6 1.9 -1.6 2 -2.2 1.9 -2.1 2 -1.8 1.9 -1.0 2 -.5 1.9 -.1 2 .2 1.9 .4 2 .9 1.9 .4 2 -.1"/><path d="M274.4,59.2l2 .3 1.9 .5 2 .5 1.9 .3 2 .1 1.9 -.2 2 -.4 1.9 -.6 2 -.5 1.9 -.4 2 -.3 1.9 -.1 2 -.1 2 -.3 1.9 .0 2 .2 1.9 .3 2 .5 1.9 .8 2 1.1 1.9 1.3 2 1.3 1.9 1.1 2 .7 1.9 .0 2 -.4 2 -.8 1.9 -1.1 2 -1.0 1.9 -.9 2 -.6 1.9 -.3 2 .0 1.9 .1 2 .4 1.9 .4 2 .6 1.9 .6 2 .5 2 .4 1.9 .1 2 .0 1.9 .0 2 -.1 1.9 -.3 2 -.7 1.9 -.9 2 -1.2 1.9 -1.6 2 -1.2 2 -.8 1.9 -.4 2 -.2 1.9 .1 2 .3 1.9 .8 2 1.2 1.9 1.5 2 2.1 1.9 2.4 2 2.6 1.9 2.6 2 2.0 2 1.1 1.9 -.1 2 -1.1 1.9 -1.5 2 -1.3 1.9 -.7 2 .4 1.9 .8 2 .9 1.9 .1 2 -1.2 1.9 -2.4 2 -3.3 2 -3.3 1.9 -2.2 2 -1.4 1.9 -1.5 2 -1.3 1.9 -.7 2 .3 1.9 1.2 2 1.7 1.9 1.6 2 1.2 1.9 1.0 2 .9"/><path d="M274.4,68.8l2 1.0 1.9 .8 2 -.6 1.9 -2.0 2 -2.5 1.9 -2.6 2 -2.0 1.9 -1.3 2 -.6 1.9 -.1 2 .1 1.9 .4 2 .6 2 1.0 1.9 1.3 2 1.5 1.9 1.9 2 2.0 1.9 1.9 2 1.7 1.9 1.4 2 .8 1.9 .3 2 -.6 1.9 -1.0 2 -1.3 2 -1.3 1.9 -1.6 2 -1.6 1.9 -1.6 2 -1.2 1.9 -1.1 2 -.9 1.9 -.7 2 -.7 1.9 -.6 2 -.6 1.9 -.6 2 -.7 2 -1.0 1.9 -1.0 2 -1.1 1.9 -1.1 2 -1.2 1.9 -1.2 2 -1.1 1.9 -.8 2 -.5 1.9 -.1 2 .5 2 .8 1.9 .7 2 .2 1.9 -.1 2 -.4 1.9 -.7 2 -.9 1.9 -.9 2 -.6 1.9 -.6 2 -.2 1.9 .2 2 .6 2 1.0 1.9 1.5 2 1.6 1.9 1.4 2 1.3 1.9 1.1 2 1.3 1.9 1.5 2 1.6 1.9 1.9 2 1.7 1.9 1.3 2 .4 2 -.5 1.9 -1.2 2 -1.5 1.9 -1.5 2 -1.2 1.9 -1.3 2 -2.1 1.9 -2.0 2 -1.6 1.9 -.9 2 -.1 1.9 .1 2 .4"/><path d="M274.4,68.8l2 .0 1.9 -.5 2 -1.9 1.9 -2.9 2 -3.1 1.9 -2.4 2 -1.2 1.9 -.8 2 -.7 1.9 -.8 2 -.4 1.9 .1 2 .5 2 1.0 1.9 1.2 2 1.2 1.9 .6 2 .6 1.9 .8 2 .9 1.9 1.0 2 1.2 1.9 1.2 2 1.2 1.9 1.1 2 .9 2 .6 1.9 .1 2 -.5 1.9 -1.0 2 -1.2 1.9 -1.2 2 -1.4 1.9 -1.4 2 -1.4 1.9 -1.4 2 -1.7 1.9 -2.0 2 -2.1 2 -2.0 1.9 -1.8 2 -1.7 1.9 -1.4 2 -1.1 1.9 -.8 2 -.2 1.9 .3 2 1.0 1.9 1.5 2 2.1 2 2.1 1.9 1.7 2 1.2 1.9 .9 2 .8 1.9 .8 2 .7 1.9 .8 2 .8 1.9 .8 2 .9 1.9 .9 2 .7 2 .4 1.9 -.1 2 -.6 1.9 -.8 2 -1.0 1.9 -1.0 2 -1.1 1.9 -1.6 2 -1.8 1.9 -1.6 2 -1.1 1.9 -.6 2 .0 2 .3 1.9 .0 2 -.6 1.9 -1.1 2 -.6 1.9 .2 2 1.3 1.9 1.9 2 2.1 1.9 1.6 2 1.2 1.9 .5 2 .2"/><path d="M274.4,67.8l2 1.2 1.9 1.1 2 -.6 1.9 -2.0 2 -2.9 1.9 -3.1 2 -2.5 1.9 -1.5 2 -1.2 1.9 -1.3 2 -.9 1.9 -.3 2 .6 2 1.6 1.9 2.1 2 1.0 1.9 1.1 2 1.3 1.9 1.5 2 1.5 1.9 1.6 2 1.6 1.9 1.5 2 1.5 1.9 1.2 2 1.0 2 .7 1.9 -.2 2 -1.1 1.9 -1.9 2 -2.0 1.9 -2.4 2 -2.4 1.9 -2.5 2 -2.4 1.9 -2.6 2 -2.7 1.9 -2.6 2 -2.0 2 -1.4 1.9 -.7 2 -.1 1.9 .4 2 .6 1.9 .9 2 1.1 1.9 1.2 2 1.1 1.9 1.3 2 1.1 2 1.1 1.9 .7 2 .5 1.9 .3 2 .3 1.9 .2 2 .3 1.9 .3 2 .2 1.9 .1 2 .0 1.9 -.1 2 -.2 2 -.2 1.9 -.3 2 -.1 1.9 -.2 2 -.1 1.9 -.1 2 -.1 1.9 -.1 2 .0 1.9 .0 2 .2 1.9 .1 2 .1 2 .1 1.9 -.1 2 -.2 1.9 -.5 2 -.6 1.9 -.7 2 -.7 1.9 -.5 2 -.4 1.9 -.3 2 .0 1.9 -.1 2 -.1"/><path d="M274.4,60.9l2 .2 1.9 .6 2 .9 1.9 1.0 2 1.0 1.9 .7 2 .3 1.9 -.5 2 -.8 1.9 -.8 2 -.5 1.9 .2 2 .7 2 1.0 1.9 1.1 2 1.2 1.9 1.1 2 1.0 1.9 .5 2 -.1 1.9 -.8 2 -1.3 1.9 -1.7 2 -1.7 1.9 -1.2 2 -.6 2 -.1 1.9 .2 2 .3 1.9 .2 2 .1 1.9 .1 2 -.1 1.9 -.2 2 -.3 1.9 -.5 2 -.4 1.9 -.5 2 -.6 2 -.6 1.9 -.5 2 -.2 1.9 .0 2 .3 1.9 .5 2 .8 1.9 .9 2 .8 1.9 .7 2 .4 2 -.2 1.9 -.6 2 -1.0 1.9 -1.0 2 -.9 1.9 -.7 2 -.4 1.9 -.4 2 -.4 1.9 -.6 2 -.6 1.9 -.7 2 -.7 2 -.6 1.9 -.4 2 -.3 1.9 -.1 2 -.3 1.9 -.5 2 -.5 1.9 -.3 2 .2 1.9 .5 2 1.0 1.9 1.1 2 1.0 2 .9 1.9 .6 2 .3 1.9 .2 2 -.1 1.9 -.5 2 -1.0 1.9 -1.1 2 -1.0 1.9 -.6 2 .0 1.9 .1 2 .4"/><path d="M274.4,61.0l2 1.2 1.9 2.0 2 2.2 1.9 1.9 2 1.0 1.9 -.2 2 -1.4 1.9 -2.2 2 -2.2 1.9 -1.8 2 -1.2 1.9 -.7 2 -.5 2 -.6 1.9 -1.2 2 -1.1 1.9 -.5 2 .2 1.9 .4 2 .5 1.9 .4 2 .3 1.9 .1 2 -.1 1.9 -.3 2 -.6 2 -.7 1.9 -.6 2 -.3 1.9 .0 2 .2 1.9 .6 2 .8 1.9 1.0 2 1.2 1.9 1.0 2 .9 1.9 .8 2 .4 2 .2 1.9 .0 2 .0 1.9 .2 2 .3 1.9 .6 2 .7 1.9 .9 2 1.1 1.9 1.1 2 1.0 2 .7 1.9 .1 2 -.4 1.9 -.7 2 -.7 1.9 -.7 2 -.1 1.9 .5 2 1.1 1.9 1.0 2 .9 1.9 .7 2 .2 2 -.5 1.9 -1.2 2 -1.7 1.9 -1.6 2 -1.2 1.9 -.7 2 -.1 1.9 .5 2 .7 1.9 .9 2 .8 1.9 .6 2 .0 2 -.4 1.9 -.9 2 -1.3 1.9 -1.4 2 -1.2 1.9 -1.1 2 -.9 1.9 -.9 2 -1.5 1.9 -2.0 2 -1.6 1.9 -1.2 2 -1.0"/><path d="M274.4,53.2l2 .6 1.9 .2 2 -.7 1.9 -.9 2 -1.0 1.9 -.9 2 -.9 1.9 -1.4 2 -2.4 1.9 -3.7 2 -4.0 1.9 -3.5 2 -2.5 2 -.9 1.9 .8 2 2.6 1.9 3.7 2 4.1 1.9 3.7 2 2.7 1.9 1.9 2 1.2 1.9 .8 2 .7 1.9 .6 2 .7 2 .9 1.9 .9 2 1.0 1.9 1.2 2 1.3 1.9 1.2 2 1.1 1.9 .8 2 .6 1.9 .3 2 .0 1.9 -.3 2 -.7 2 -1.1 1.9 -1.2 2 -1.0 1.9 -.7 2 -.5 1.9 -.2 2 .0 1.9 .3 2 .4 1.9 .3 2 .2 2 -.1 1.9 -.4 2 -.5 1.9 -.4 2 -.4 1.9 -.4 2 -.5 1.9 -.6 2 -.7 1.9 -.7 2 -.7 1.9 -.8 2 -.8 2 -.6 1.9 -.4 2 -.2 1.9 -.3 2 -.6 1.9 -1.1 2 -1.4 1.9 -1.3 2 -.8 1.9 -.2 2 .5 1.9 .9 2 1.2 2 1.2 1.9 .2 2 -.7 1.9 -1.8 2 -2.0 1.9 -1.7 2 -1.0 1.9 .1 2 .9 1.9 1.6 2 2.1 1.9 1.8 2 1.6"/><path d="M274.4,58.1l2 -1.0 1.9 -1.1 2 -1.7 1.9 -1.7 2 -1.3 1.9 -.4 2 .4 1.9 .7 2 .6 1.9 1.0 2 1.8 1.9 2.5 2 1.0 2 .8 1.9 .7 2 .4 1.9 .2 2 -.4 1.9 -1.1 2 -1.8 1.9 -1.7 2 -1.8 1.9 -1.9 2 -2.1 1.9 -1.8 2 -1.4 2 -.7 1.9 .0 2 .5 1.9 .8 2 1.0 1.9 1.1 2 1.4 1.9 1.3 2 1.4 1.9 1.4 2 1.3 1.9 1.1 2 .7 2 -.1 1.9 -.9 2 -1.7 1.9 -2.5 2 -3.0 1.9 -3.2 2 -2.9 1.9 -1.9 2 -.6 1.9 .8 2 1.9 2 2.5 1.9 2.3 2 2.0 1.9 1.8 2 1.8 1.9 2.0 2 2.1 1.9 2.0 2 2.0 1.9 1.9 2 1.6 1.9 1.0 2 .2 2 -.9 1.9 -1.9 2 -2.2 1.9 -2.2 2 -1.9 1.9 -1.8 2 -2.1 1.9 -2.3 2 -1.9 1.9 -1.2 2 -.4 1.9 .3 2 .7 2 1.0 1.9 .2 2 -.5 1.9 -1.4 2 -1.5 1.9 -1.4 2 -1.0 1.9 -.5 2 -.1 1.9 .2 2 .6 1.9 .2 2 .0"/><path d="M274.4,70.1l2 1.6 1.9 1.7 2 .6 1.9 -.6 2 -1.3 1.9 -1.8 2 -1.8 1.9 -1.9 2 -1.6 1.9 -1.4 2 -.8 1.9 -.2 2 .3 2 .3 1.9 .1 2 .0 1.9 -.3 2 -.7 1.9 -1.2 2 -1.5 1.9 -1.7 2 -1.2 1.9 -.9 2 -.8 1.9 -.5 2 -.1 2 .2 1.9 .6 2 .8 1.9 .8 2 .8 1.9 .7 2 .7 1.9 .5 2 .5 1.9 .4 2 .4 1.9 .2 2 .2 2 -.1 1.9 -.1 2 -.2 1.9 -.2 2 -.2 1.9 -.4 2 -.4 1.9 -.6 2 -.5 1.9 -.5 2 -.3 2 -.1 1.9 .2 2 .3 1.9 .6 2 .8 1.9 .8 2 .9 1.9 1.2 2 1.6 1.9 1.6 2 1.3 1.9 .9 2 .1 2 -.8 1.9 -1.7 2 -2.0 1.9 -1.9 2 -1.6 1.9 -1.3 2 -1.2 1.9 -1.3 2 -1.1 1.9 -.8 2 -.1 1.9 .2 2 .6 2 .8 1.9 .6 2 .7 1.9 1.1 2 1.1 1.9 1.1 2 1.0 1.9 1.3 2 1.5 1.9 1.8 2 2.4 1.9 2.0 2 1.4"/><path d="M274.4,51.1l2 .5 1.9 .9 2 .3 1.9 .9 2 1.4 1.9 1.5 2 1.5 1.9 1.3 2 .6 1.9 .2 2 .0 1.9 .2 2 .3 2 .4 1.9 .3 2 .3 1.9 .3 2 .2 1.9 .1 2 -.1 1.9 -.2 2 -.3 1.9 -.4 2 -.5 1.9 -.4 2 -.4 2 -.3 1.9 -.1 2 -.2 1.9 .0 2 .0 1.9 .1 2 .2 1.9 .2 2 .2 1.9 .2 2 .3 1.9 .3 2 .2 2 .0 1.9 -.2 2 -.2 1.9 -.4 2 -.6 1.9 -.8 2 -1.4 1.9 -1.7 2 -1.6 1.9 -1.1 2 -.6 2 -.1 1.9 .1 2 .0 1.9 .0 2 .0 1.9 .2 2 .3 1.9 .8 2 1.1 1.9 1.5 2 1.4 1.9 1.2 2 1.0 2 .5 1.9 -.1 2 -.4 1.9 -.7 2 -.6 1.9 -.7 2 -.7 1.9 -.7 2 -.4 1.9 .0 2 .5 1.9 .8 2 1.1 2 1.8 1.9 1.5 2 .9 1.9 .3 2 -.1 1.9 .0 2 .0 1.9 .2 2 .2 1.9 .3 2 .5 1.9 .1 2 -.2"/><path d="M274.4,64.5l2 .8 1.9 .8 2 .4 1.9 -.2 2 -.3 1.9 -.4 2 -.5 1.9 -.6 2 -.7 1.9 -.6 2 -.3 1.9 .3 2 .8 2 1.2 1.9 1.3 2 1.6 1.9 1.7 2 2.0 1.9 1.9 2 1.8 1.9 1.7 2 1.2 1.9 .6 2 -.6 1.9 -1.6 2 -2.3 2 -2.6 1.9 -2.7 2 -2.4 1.9 -1.8 2 -1.0 1.9 -.4 2 .1 1.9 .3 2 .3 1.9 .3 2 .1 1.9 -.1 2 -.5 2 -.9 1.9 -1.2 2 -1.1 1.9 -1.1 2 -1.0 1.9 -1.3 2 -1.3 1.9 -.8 2 -.6 1.9 -.1 2 .1 2 .4 1.9 .3 2 .3 1.9 .2 2 .2 1.9 .3 2 .4 1.9 .7 2 .8 1.9 .9 2 1.0 1.9 1.0 2 .9 2 .6 1.9 .1 2 -.2 1.9 -.5 2 -.5 1.9 -.2 2 .0 1.9 .3 2 .5 1.9 .5 2 .6 1.9 .7 2 .5 2 .4 1.9 .0 2 -.2 1.9 -.3 2 -.4 1.9 -.1 2 .1 1.9 .3 2 .2 1.9 .1 2 -.1 1.9 -.9 2 -1.8"/><path d="M274.4,50.6l2 2.0 1.9 1.6 2 .7 1.9 .7 2 .6 1.9 .3 2 .1 1.9 -.2 2 -.7 1.9 -1.3 2 -1.9 1.9 -2.0 2 -2.0 2 -1.5 1.9 -.6 2 .6 1.9 1.7 2 2.2 1.9 2.4 2 2.0 1.9 1.7 2 1.7 1.9 2.5 2 2.4 1.9 1.9 2 1.2 2 .7 1.9 .0 2 -.6 1.9 -.8 2 -.7 1.9 -.6 2 -.6 1.9 -.4 2 -.5 1.9 -.5 2 -.5 1.9 -.6 2 -.8 2 -.8 1.9 -.9 2 -.8 1.9 -1.3 2 -1.2 1.9 -.9 2 -.6 1.9 -.4 2 .0 1.9 .3 2 .6 2 .7 1.9 .6 2 .5 1.9 .4 2 .4 1.9 .5 2 .6 1.9 .5 2 .7 1.9 .6 2 .6 1.9 .4 2 .2 2 -.3 1.9 -.6 2 -.9 1.9 -1.0 2 -.9 1.9 -1.0 2 -1.3 1.9 -1.5 2 -1.4 1.9 -1.1 2 -.6 1.9 -.1 2 .3 2 .6 1.9 .0 2 -.6 1.9 -1.2 2 -1.0 1.9 -.3 2 .7 1.9 1.6 2 2.2 1.9 2.3 2 2.2 1.9 1.9 2 1.8"/><path d="M274.4,51.5l2 -.3 1.9 -.4 2 -1.6 1.9 -1.3 2 -.8 1.9 .0 2 .5 1.9 .4 2 -.3 1.9 -.7 2 -.1 1.9 1.0 2 2.1 2 2.9 1.9 3.3 2 2.4 1.9 1.3 2 1.4 1.9 1.4 2 1.3 1.9 .9 2 .3 1.9 -.4 2 -1.2 1.9 -1.8 2 -2.2 2 -1.9 1.9 -1.4 2 -1.2 1.9 -.8 2 -.6 1.9 -.3 2 -.2 1.9 -.2 2 -.2 1.9 -.3 2 -.4 1.9 -.4 2 -.3 2 -.3 1.9 -.1 2 .0 1.9 .3 2 .6 1.9 .9 2 1.2 1.9 1.3 2 1.5 1.9 1.2 2 1.3 2 1.2 1.9 .9 2 .3 1.9 -.1 2 -.5 1.9 -.6 2 -.6 1.9 -.7 2 -1.0 1.9 -1.5 2 -1.7 1.9 -1.7 2 -1.5 2 -.9 1.9 -.4 2 .2 1.9 .3 2 .2 1.9 .0 2 .1 1.9 .4 2 1.0 1.9 1.3 2 1.6 1.9 1.4 2 1.2 2 1.8 1.9 1.1 2 .6 1.9 .0 2 -.2 1.9 -.1 2 -.1 1.9 .0 2 .0 1.9 .1 2 .3 1.9 .2 2 .0"/><path d="M274.4,43.7l2 2.0 1.9 1.9 2 .3 1.9 1.1 2 1.5 1.9 1.9 2 1.7 1.9 1.2 2 .9 1.9 .6 2 .7 1.9 .5 2 .3 2 .0 1.9 -.1 2 -.3 1.9 -.3 2 -.2 1.9 -.1 2 .0 1.9 .1 2 .0 1.9 .1 2 .1 1.9 .2 2 .3 2 .3 1.9 .3 2 .2 1.9 .0 2 .0 1.9 -.1 2 -.2 1.9 -.2 2 -.2 1.9 -.2 2 -.2 1.9 -.1 2 .0 2 .2 1.9 .3 2 .4 1.9 .5 2 .5 1.9 .8 2 .7 1.9 .7 2 .5 1.9 .1 2 -.3 2 -.8 1.9 -1.1 2 -1.1 1.9 -.9 2 -.4 1.9 -.3 2 -.1 1.9 .2 2 .4 1.9 .6 2 .8 1.9 .8 2 .9 2 .5 1.9 .2 2 -.3 1.9 -.5 2 -.6 1.9 -.6 2 -.4 1.9 -.5 2 -.6 1.9 -.6 2 -.3 1.9 -.2 2 -.1 2 -.1 1.9 -.2 2 -.5 1.9 -1.2 2 -1.8 1.9 -2.4 2 -2.6 1.9 -2.3 2 -1.4 1.9 -.6 2 .4 1.9 .6 2 .7"/><path d="M274.4,58.4l2 -.9 1.9 -.8 2 -.9 1.9 -.8 2 -.5 1.9 .0 2 .4 1.9 .4 2 .2 1.9 .2 2 .3 1.9 .2 2 .1 2 .0 1.9 -.1 2 .3 1.9 .5 2 .9 1.9 .9 2 1.4 1.9 1.9 2 2.0 1.9 1.9 2 1.2 1.9 .3 2 -.7 2 -1.4 1.9 -2.0 2 -2.2 1.9 -2.0 2 -1.5 1.9 -1.1 2 -1.1 1.9 -.9 2 -1.0 1.9 -1.1 2 -.9 1.9 -.7 2 -.4 2 -.1 1.9 .2 2 .4 1.9 .4 2 .5 1.9 .5 2 .4 1.9 .3 2 .3 1.9 .2 2 .3 2 .3 1.9 .3 2 .1 1.9 .1 2 .1 1.9 .2 2 .5 1.9 .8 2 1.3 1.9 1.3 2 1.3 1.9 1.3 2 1.1 2 .7 1.9 .0 2 -.6 1.9 -.8 2 -.8 1.9 -.7 2 -.5 1.9 -.8 2 -1.0 1.9 -1.2 2 -1.1 1.9 -.9 2 -.6 2 -.3 1.9 -.6 2 -1.0 1.9 -1.7 2 -1.8 1.9 -1.4 2 -.5 1.9 .3 2 1.1 1.9 1.5 2 1.6 1.9 1.3 2 1.1"/><path d="M274.4,64.7l2 3.3 1.9 4.3 2 3.8 1.9 2.5 2 .7 1.9 -1.3 2 -2.7 1.9 -3.7 2 -3.5 1.9 -2.9 2 -1.7 1.9 -.7 2 -.1 2 .2 1.9 .2 2 .4 1.9 .5 2 .5 1.9 .3 2 .3 1.9 .1 2 -.1 1.9 -.2 2 -.4 1.9 -.3 2 -.2 2 -.1 1.9 -.2 2 -.2 1.9 -.4 2 -.4 1.9 -.4 2 -.4 1.9 -.5 2 -.6 1.9 -.6 2 -.8 1.9 -.8 2 -1.1 2 -1.5 1.9 -1.4 2 -1.4 1.9 -1.0 2 -.8 1.9 -.5 2 .0 1.9 .2 2 .4 1.9 .7 2 .7 2 .8 1.9 .4 2 .0 1.9 -.4 2 -.7 1.9 -1.0 2 -1.5 1.9 -1.6 2 -1.4 1.9 -1.2 2 -.5 1.9 .3 2 1.0 2 1.8 1.9 2.0 2 1.9 1.9 1.4 2 .9 1.9 .6 2 .2 1.9 -.1 2 -.2 1.9 -.5 2 -.5 1.9 -.4 2 -.2 2 -.1 1.9 -.4 2 -.6 1.9 -1.0 2 -.5 1.9 .5 2 1.6 1.9 2.4 2 2.6 1.9 1.6 2 2.0 1.9 2.1 2 1.7"/><path d="M274.4,48.0l2 .8 1.9 .5 2 -.9 1.9 -.5 2 -.3 1.9 .3 2 .5 1.9 .1 2 -.8 1.9 -1.6 2 -1.5 1.9 -.8 2 .0 2 1.1 1.9 1.9 2 2.4 1.9 2.4 2 2.0 1.9 1.4 2 1.0 1.9 .6 2 .3 1.9 .3 2 .2 1.9 .4 2 .4 2 .6 1.9 .5 2 .2 1.9 .0 2 -.3 1.9 -.3 2 -.6 1.9 -.6 2 -.7 1.9 -1.0 2 -1.0 1.9 -1.0 2 -.9 2 -.7 1.9 -.4 2 -.1 1.9 .1 2 .3 1.9 .4 2 .4 1.9 .3 2 .2 1.9 .1 2 -.1 2 .0 1.9 -.4 2 -.7 1.9 -1.1 2 -1.5 1.9 -1.9 2 -2.2 1.9 -2.1 2 -1.6 1.9 -1.2 2 -.5 1.9 .4 2 1.6 2 2.5 1.9 3.1 2 2.8 1.9 2.0 2 1.0 1.9 .4 2 -.3 1.9 -.7 2 -.9 1.9 -.9 2 -.6 1.9 -.2 2 .1 2 .3 1.9 -.4 2 -1.2 1.9 -2.2 2 -2.6 1.9 -2.2 2 -1.3 1.9 -.1 2 1.0 1.9 1.8 2 2.5 1.9 2.2 2 1.9"/><path d="M274.4,54.3l2 .9 1.9 .6 2 .1 1.9 .1 2 .0 1.9 -.1 2 -.1 1.9 -.4 2 -.8 1.9 -1.5 2 -1.9 1.9 -2.1 2 -2.2 2 -1.9 1.9 -1.3 2 -.2 1.9 .7 2 1.3 1.9 1.4 2 1.1 1.9 .7 2 -.1 1.9 -.4 2 -.9 1.9 -.8 2 -.7 2 -.3 1.9 .0 2 .4 1.9 .6 2 .6 1.9 .6 2 .7 1.9 .7 2 .5 1.9 .4 2 .4 1.9 .2 2 .2 2 .0 1.9 .0 2 -.1 1.9 .1 2 .2 1.9 .4 2 .6 1.9 .5 2 .6 1.9 .4 2 .4 2 .3 1.9 .1 2 -.1 1.9 -.4 2 -.4 1.9 -.5 2 -.6 1.9 -.3 2 -.1 1.9 .3 2 .7 1.9 .9 2 1.2 2 1.2 1.9 1.1 2 1.0 1.9 .8 2 .6 1.9 .5 2 .7 1.9 .9 2 1.1 1.9 1.1 2 .8 1.9 .3 2 -.4 2 -.9 1.9 -1.3 2 -1.4 1.9 -1.3 2 -1.0 1.9 -1.2 2 -2.0 1.9 -2.3 2 -2.1 1.9 -1.9 2 -1.3 1.9 -1.3 2 -1.1"/><path d="M274.4,60.4l2 -.5 1.9 -.5 2 -.8 1.9 -.7 2 -.5 1.9 -.4 2 -.2 1.9 -.1 2 -.3 1.9 -.4 2 -.4 1.9 -.5 2 -.4 2 -.5 1.9 -.3 2 -.3 1.9 .0 2 .1 1.9 .2 2 .1 1.9 .0 2 -.2 1.9 -.3 2 -.4 1.9 -.2 2 .1 2 .3 1.9 .5 2 .8 1.9 .8 2 .8 1.9 .9 2 .9 1.9 1.0 2 1.0 1.9 1.0 2 1.1 1.9 1.1 2 1.0 2 .8 1.9 .4 2 .3 1.9 .3 2 .3 1.9 .3 2 .1 1.9 .1 2 .1 1.9 .1 2 .3 2 .1 1.9 .0 2 -.5 1.9 -.9 2 -1.0 1.9 -1.0 2 -.7 1.9 -.5 2 -.4 1.9 -.7 2 -.9 1.9 -.9 2 -.9 2 -.7 1.9 -.3 2 -.1 1.9 .3 2 .4 1.9 .5 2 .7 1.9 .9 2 1.2 1.9 1.3 2 .9 1.9 .4 2 -.2 2 -.9 1.9 -1.1 2 -1.2 1.9 -1.0 2 -.7 1.9 -.5 2 -.5 1.9 -1.2 2 -1.6 1.9 -1.6 2 -1.6 1.9 -1.7 2 -1.7"/><path d="M274.4,61.5l2 -.8 1.9 -.7 2 -.7 1.9 -.5 2 -.1 1.9 .2 2 .3 1.9 .3 2 .1 1.9 .0 2 .0 1.9 .2 2 .3 2 .3 1.9 .4 2 .3 1.9 .3 2 .2 1.9 -.1 2 -.3 1.9 -.6 2 -.8 1.9 -1.0 2 -.8 1.9 -.6 2 -.4 2 -.4 1.9 -.2 2 .0 1.9 .1 2 .1 1.9 .2 2 .3 1.9 .4 2 .5 1.9 .7 2 .7 1.9 .9 2 1.0 2 .9 1.9 .7 2 .6 1.9 .7 2 .8 1.9 .8 2 .8 1.9 .9 2 1.0 1.9 1.2 2 1.1 2 .9 1.9 .5 2 -.3 1.9 -.7 2 -1.0 1.9 -1.0 2 -.2 1.9 .4 2 1.2 1.9 1.0 2 .8 1.9 .6 2 -.1 2 -.7 1.9 -1.5 2 -1.8 1.9 -1.7 2 -1.3 1.9 -.5 2 .3 1.9 .9 2 1.5 1.9 1.3 2 .8 1.9 .0 2 -1.1 2 -1.9 1.9 -2.5 2 -2.6 1.9 -2.2 2 -1.9 1.9 -3.0 2 -3.5 1.9 -3.1 2 -2.2 1.9 -.9 2 .3 1.9 .8 2 1.1"/><path d="M274.4,72.3l2 2.4 1.9 3.4 2 2.7 1.9 1.4 2 .2 1.9 -1.3 2 -2.7 1.9 -3.8 2 -3.7 1.9 -3.0 2 -1.9 1.9 -.6 2 .0 2 .1 1.9 -.1 2 -.3 1.9 -.4 2 -.4 1.9 -.3 2 -.2 1.9 .1 2 .3 1.9 .3 2 .0 1.9 -.4 2 -.9 2 -1.2 1.9 -1.7 2 -1.9 1.9 -1.4 2 -1.5 1.9 -1.5 2 -1.6 1.9 -1.6 2 -1.7 1.9 -1.7 2 -1.3 1.9 -.6 2 .4 2 1.2 1.9 2.0 2 2.3 1.9 2.4 2 2.1 1.9 1.8 2 1.2 1.9 .9 2 .7 1.9 .5 2 .4 2 .1 1.9 -.1 2 -.1 1.9 -.2 2 -.1 1.9 -.1 2 .2 1.9 .5 2 .9 1.9 1.0 2 1.2 1.9 1.1 2 1.0 2 .5 1.9 -.1 2 -.7 1.9 -.9 2 -.9 1.9 -.6 2 .0 1.9 .3 2 .2 1.9 -.1 2 -.7 1.9 -1.1 2 -1.4 2 -1.3 1.9 -1.0 2 -.5 1.9 -.1 2 .2 1.9 .5 2 .7 1.9 1.0 2 1.3 1.9 1.9 2 2.6 1.9 2.7 2 2.2"/><path d="M274.4,62.6l2 -.2 1.9 -.3 2 -.7 1.9 -.9 2 -.9 1.9 -.8 2 -.6 1.9 -.4 2 -.4 1.9 -.6 2 -.7 1.9 -.9 2 -1.0 2 -.8 1.9 -.5 2 .1 1.9 .5 2 .9 1.9 1.0 2 .9 1.9 .7 2 .6 1.9 .5 2 .4 1.9 .3 2 .0 2 -.3 1.9 -.4 2 -.3 1.9 -.2 2 -.2 1.9 -.2 2 .0 1.9 -.1 2 .1 1.9 .0 2 .1 1.9 .1 2 .3 2 .6 1.9 .5 2 .7 1.9 .9 2 1.2 1.9 1.5 2 1.7 1.9 1.6 2 1.4 1.9 .8 2 .0 2 -1.0 1.9 -1.6 2 -1.8 1.9 -1.5 2 -.9 1.9 -.4 2 .3 1.9 1.0 2 1.6 1.9 1.9 2 2.0 1.9 1.8 2 1.2 2 .1 1.9 -.9 2 -1.8 1.9 -2.0 2 -1.8 1.9 -1.2 2 -.8 1.9 -.5 2 -.4 1.9 -.6 2 -.6 1.9 -.4 2 -.4 2 -.4 1.9 -.4 2 -.4 1.9 -.6 2 -1.0 1.9 -1.5 2 -1.8 1.9 -1.7 2 -1.2 1.9 -.4 2 .4 1.9 .6 2 .9"/><path d="M274.4,60.2l2 -.9 1.9 -1.4 2 -1.5 1.9 -1.7 2 -1.6 1.9 -1.2 2 -.7 1.9 -.8 2 -1.3 1.9 -1.9 2 -1.8 1.9 -1.1 2 -.3 2 .7 1.9 1.8 2 2.6 1.9 2.8 2 2.5 1.9 1.9 2 1.4 1.9 1.3 2 1.5 1.9 1.4 2 1.0 1.9 .6 2 .1 2 -.3 1.9 -.7 2 -.9 1.9 -.9 2 -.9 1.9 -.7 2 -.6 1.9 -.4 2 -.2 1.9 .1 2 .3 1.9 .6 2 .8 2 1.0 1.9 1.0 2 .9 1.9 1.0 2 1.1 1.9 1.0 2 .9 1.9 .6 2 .1 1.9 -.3 2 -.9 2 -1.6 1.9 -1.8 2 -1.9 1.9 -1.5 2 -1.1 1.9 -.7 2 -.6 1.9 -.5 2 -.2 1.9 .1 2 .4 1.9 .7 2 .8 2 .9 1.9 .8 2 .7 1.9 .3 2 .3 1.9 .3 2 .7 1.9 1.2 2 1.7 1.9 2.1 2 2.1 1.9 1.9 2 1.0 2 .1 1.9 -1.0 2 -1.9 1.9 -2.1 2 -1.9 1.9 -1.5 2 -1.2 1.9 -1.0 2 -.9 1.9 -.8 2 -.6 1.9 -.4 2 .1"/><path d="M274.4,60.6l2 -1.6 1.9 -1.9 2 -2.2 1.9 -2.1 2 -1.7 1.9 -1.0 2 -.2 1.9 -.1 2 -.5 1.9 -.6 2 .1 1.9 1.1 2 2.0 2 2.5 1.9 2.4 2 1.6 1.9 .4 2 .0 1.9 -.6 2 -1.2 1.9 -1.2 2 -1.4 1.9 -1.6 2 -1.6 1.9 -1.4 2 -.9 2 -.4 1.9 .4 2 .9 1.9 1.3 2 1.4 1.9 1.6 2 1.8 1.9 1.9 2 2.0 1.9 2.0 2 1.9 1.9 1.9 2 1.4 2 .9 1.9 .3 2 -.1 1.9 -.2 2 -.4 1.9 -.8 2 -1.4 1.9 -1.7 2 -1.8 1.9 -1.7 2 -1.3 2 -.6 1.9 -.1 2 .2 1.9 .4 2 .4 1.9 .2 2 .2 1.9 .2 2 .3 1.9 .1 2 .1 1.9 .1 2 -.1 2 -.2 1.9 -.5 2 -.6 1.9 -.6 2 -.7 1.9 -.9 2 -1.3 1.9 -1.5 2 -1.4 1.9 -1.2 2 -.7 1.9 -.3 2 .1 2 .4 1.9 -.2 2 -1.0 1.9 -1.9 2 -2.0 1.9 -1.6 2 -.5 1.9 .6 2 1.4 1.9 1.8 2 2.1 1.9 1.7 2 1.5"/><path d="M274.4,59.6l2 -.4 1.9 -1.0 2 -1.3 1.9 -1.5 2 -1.3 1.9 -.8 2 -.2 1.9 -.1 2 -.3 1.9 -.5 2 -.2 1.9 .0 2 .2 2 .2 1.9 .2 2 .3 1.9 .4 2 .4 1.9 .5 2 .3 1.9 .2 2 -.1 1.9 -.3 2 -.4 1.9 -.6 2 -.6 2 -.5 1.9 -.4 2 -.4 1.9 -.2 2 -.4 1.9 -.4 2 -.6 1.9 -.8 2 -1.2 1.9 -1.7 2 -1.9 1.9 -1.8 2 -1.6 2 -1.1 1.9 -.7 2 -.2 1.9 .4 2 1.2 1.9 2.0 2 2.6 1.9 3.1 2 3.1 1.9 2.8 2 2.2 2 1.5 1.9 1.2 2 .9 1.9 .3 2 -.1 1.9 -.3 2 -.3 1.9 -.3 2 -.3 1.9 -.3 2 -.4 1.9 -.3 2 -.1 2 .0 1.9 .0 2 -.1 1.9 -.1 2 -.3 1.9 -.5 2 -.6 1.9 -.6 2 -.5 1.9 -.3 2 .2 1.9 .5 2 .7 2 .6 1.9 .4 2 .3 1.9 .2 2 -.1 1.9 -.3 2 -.8 1.9 -1.1 2 -1.3 1.9 -1.2 2 -1.0 1.9 -.9 2 -.9"/><path d="M274.4,46.7l2 .8 1.9 .8 2 -.4 1.9 .4 2 1.2 1.9 1.9 2 2.2 1.9 2.0 2 1.9 1.9 1.5 2 .6 1.9 .4 2 .3 2 .3 1.9 -.1 2 -.3 1.9 -.5 2 -.7 1.9 -.9 2 -.6 1.9 -.4 2 -.1 1.9 -.1 2 .1 1.9 .2 2 .3 2 .4 1.9 .5 2 .6 1.9 .5 2 .3 1.9 .3 2 .2 1.9 .1 2 .1 1.9 .0 2 -.2 1.9 -.2 2 -.3 2 -.4 1.9 -.5 2 -.5 1.9 -.8 2 -.9 1.9 -.7 2 -.7 1.9 -.4 2 -.3 1.9 -.1 2 .2 2 .3 1.9 .1 2 .0 1.9 -.3 2 -.6 1.9 -.8 2 -1.2 1.9 -1.3 2 -1.3 1.9 -1.3 2 -.9 1.9 -.4 2 .2 2 .9 1.9 1.3 2 1.6 1.9 1.3 2 1.1 1.9 .9 2 .9 1.9 1.1 2 1.2 1.9 1.3 2 1.3 1.9 1.3 2 .7 2 .1 1.9 -.4 2 -.8 1.9 -.9 2 -.8 1.9 -.7 2 -1.0 1.9 -1.1 2 -.9 1.9 -.2 2 .3 1.9 .6 2 .7"/><path d="M274.4,49.6l2 .7 1.9 .6 2 -.5 1.9 -.4 2 .0 1.9 .2 2 .2 1.9 -.1 2 -.9 1.9 -1.6 2 -1.5 1.9 -.8 2 .0 2 1.1 1.9 1.9 2 2.4 1.9 2.2 2 1.7 1.9 1.1 2 .6 1.9 .2 2 .1 1.9 -.1 2 .0 1.9 .2 2 .3 2 .4 1.9 .5 2 .5 1.9 .5 2 .1 1.9 .0 2 -.1 1.9 -.3 2 -.3 1.9 -.3 2 -.3 1.9 -.3 2 -.2 2 .1 1.9 .3 2 .5 1.9 .6 2 .8 1.9 1.1 2 1.5 1.9 1.9 2 2.1 1.9 2.4 2 2.3 2 1.6 1.9 .5 2 -.7 1.9 -1.5 2 -2.1 1.9 -2.1 2 -1.6 1.9 -1.4 2 -1.5 1.9 -1.8 2 -2.0 1.9 -1.9 2 -1.4 2 -.7 1.9 -.1 2 .4 1.9 .4 2 .3 1.9 .2 2 .2 1.9 .4 2 .5 1.9 .6 2 .6 1.9 .8 2 .9 2 .8 1.9 .5 2 .1 1.9 -.1 2 -.2 1.9 -.2 2 -.2 1.9 -.1 2 -.2 1.9 -.3 2 -.5 1.9 -.7 2 -.9"/><path d="M274.4,61.2l2 1.7 1.9 2.2 2 2.1 1.9 1.3 2 .4 1.9 -.7 2 -1.6 1.9 -2.1 2 -1.9 1.9 -1.3 2 -.8 1.9 -.3 2 .1 2 .3 1.9 .5 2 .7 1.9 .8 2 1.0 1.9 .9 2 1.0 1.9 .9 2 .9 1.9 .9 2 1.0 1.9 .9 2 .9 2 .9 1.9 .4 2 -.2 1.9 -.7 2 -.9 1.9 -.9 2 -1.0 1.9 -.9 2 -1.0 1.9 -1.0 2 -.9 1.9 -.8 2 -.9 2 -.8 1.9 -.6 2 -.3 1.9 .0 2 .4 1.9 .6 2 .8 1.9 1.0 2 1.1 1.9 .9 2 .5 2 .0 1.9 -.6 2 -1.1 1.9 -1.3 2 -1.2 1.9 -1.0 2 -.7 1.9 -.4 2 -.3 1.9 -.2 2 -.2 1.9 -.1 2 -.2 2 -.2 1.9 -.3 2 -.4 1.9 -.4 2 -.5 1.9 -.6 2 -.8 1.9 -.7 2 -.6 1.9 -.1 2 .3 1.9 .6 2 .9 2 .9 1.9 1.0 2 1.2 1.9 .8 2 .5 1.9 .4 2 .4 1.9 .5 2 .6 1.9 .8 2 1.1 1.9 .9 2 .5"/><path d="M274.4,56.2l2 -.5 1.9 -.3 2 -.6 1.9 -.5 2 -.5 1.9 -.3 2 -.4 1.9 -.7 2 -1.4 1.9 -2.2 2 -2.4 1.9 -2.0 2 -1.2 2 .1 1.9 1.2 2 2.3 1.9 2.5 2 2.4 1.9 1.9 2 1.2 1.9 .6 2 .3 1.9 -.1 2 -.4 1.9 -.6 2 -.6 2 -.7 1.9 -.5 2 -.4 1.9 -.2 2 -.2 1.9 -.1 2 -.2 1.9 -.3 2 -.6 1.9 -.9 2 -1.2 1.9 -1.1 2 -1.1 2 -.8 1.9 -.5 2 .1 1.9 .6 2 1.3 1.9 1.7 2 2.1 1.9 2.1 2 1.8 1.9 1.2 2 .8 2 .2 1.9 -.1 2 -.4 1.9 -.6 2 -.7 1.9 -1.0 2 -1.1 1.9 -1.2 2 -1.0 1.9 -.9 2 -.7 1.9 -.3 2 .0 2 .4 1.9 .7 2 .6 1.9 .5 2 .0 1.9 -.5 2 -.9 1.9 -.9 2 -.6 1.9 -.2 2 .3 1.9 .6 2 .8 2 .9 1.9 .2 2 -.6 1.9 -1.2 2 -1.2 1.9 -.5 2 .3 1.9 1.1 2 1.7 1.9 1.7 2 1.7 1.9 1.3 2 1.0"/><path d="M274.4,47.0l2 .4 1.9 .3 2 -1.2 1.9 -.6 2 .0 1.9 .8 2 1.2 1.9 .9 2 .2 1.9 -.2 2 .4 1.9 1.1 2 1.7 2 2.1 1.9 2.2 2 1.9 1.9 .7 2 .5 1.9 .5 2 .1 1.9 -.1 2 -.6 1.9 -.9 2 -.7 1.9 -.9 2 -.8 2 -.8 1.9 -.6 2 -.4 1.9 -.2 2 .0 1.9 .0 2 .0 1.9 -.1 2 -.2 1.9 -.5 2 -.7 1.9 -1.0 2 -1.0 2 -1.1 1.9 -1.1 2 -.8 1.9 -.4 2 -.1 1.9 .4 2 .9 1.9 1.1 2 1.3 1.9 1.3 2 1.4 2 1.1 1.9 .8 2 .5 1.9 .3 2 .2 1.9 .3 2 .2 1.9 .4 2 .3 1.9 .4 2 .2 1.9 .0 2 -.2 2 -.3 1.9 -.5 2 -.5 1.9 -.5 2 -.7 1.9 -.8 2 -1.0 1.9 -1.0 2 -.6 1.9 -.2 2 .4 1.9 .7 2 .9 2 1.0 1.9 .6 2 .3 1.9 .2 2 .4 1.9 .6 2 .7 1.9 .7 2 .3 1.9 .4 2 .5 1.9 .5 2 .5"/><path d="M274.4,64.6l2 -.6 1.9 -1.1 2 -2.1 1.9 -2.5 2 -1.7 1.9 -1.4 2 -1.0 1.9 -.9 2 -1.2 1.9 -1.4 2 -1.3 1.9 -.5 2 .2 2 1.0 1.9 1.7 2 2.0 1.9 1.7 2 1.3 1.9 .7 2 .4 1.9 .3 2 .3 1.9 .7 2 1.1 1.9 1.4 2 1.7 2 1.7 1.9 1.3 2 .7 1.9 -.1 2 -.6 1.9 -.9 2 -1.1 1.9 -1.2 2 -1.2 1.9 -1.1 2 -.9 1.9 -.7 2 -.4 2 -.1 1.9 .2 2 .6 1.9 .8 2 1.2 1.9 1.5 2 1.9 1.9 2.3 2 2.3 1.9 2.4 2 2.0 2 1.1 1.9 .1 2 -1.1 1.9 -1.6 2 -1.9 1.9 -1.7 2 -.9 1.9 -.3 2 .0 1.9 -.2 2 -.5 1.9 -.8 2 -1.1 2 -1.3 1.9 -1.4 2 -1.3 1.9 -1.0 2 -.7 1.9 -.4 2 -.3 1.9 -.1 2 -.1 1.9 -.1 2 .0 1.9 .0 2 .0 2 .0 1.9 -.1 2 -.1 1.9 -.2 2 -.4 1.9 -.7 2 -.8 1.9 -.8 2 -.6 1.9 -.4 2 -.1 1.9 -.1 2 .1"/><path d="M274.4,56.8l2 -.8 1.9 -.6 2 -1.2 1.9 -1.0 2 -.6 1.9 -.1 2 .3 1.9 .3 2 -.1 1.9 -.4 2 -.5 1.9 -.5 2 -.8 2 -.8 1.9 -.8 2 -.4 1.9 .2 2 .6 1.9 .9 2 .8 1.9 .5 2 .0 1.9 -.3 2 -.7 1.9 -.9 2 -1.0 2 -.8 1.9 -.5 2 -.1 1.9 .2 2 .3 1.9 .4 2 .5 1.9 .5 2 .6 1.9 .5 2 .7 1.9 .8 2 .7 2 .7 1.9 .6 2 .4 1.9 .3 2 .2 1.9 .2 2 .1 1.9 .1 2 .0 1.9 .1 2 .0 2 .0 1.9 -.2 2 -.4 1.9 -.8 2 -1.1 1.9 -1.5 2 -2.0 1.9 -2.1 2 -1.8 1.9 -1.4 2 -.6 1.9 .4 2 1.4 2 2.3 1.9 2.7 2 2.6 1.9 2.1 2 1.5 1.9 1.2 2 1.0 1.9 .9 2 .8 1.9 .7 2 .3 1.9 -.1 2 -.6 2 -.8 1.9 -1.0 2 -.9 1.9 -.8 2 -1.1 1.9 -1.3 2 -1.2 1.9 -.6 2 -.1 1.9 .5 2 1.0 1.9 1.2 2 1.1"/><path d="M274.4,58.6l2 .7 1.9 1.0 2 1.0 1.9 .9 2 .7 1.9 .3 2 -.1 1.9 -.5 2 -.7 1.9 -.7 2 -.4 1.9 -.1 2 .2 2 .3 1.9 .2 2 .3 1.9 .4 2 .4 1.9 .4 2 .4 1.9 .3 2 .0 1.9 -.4 2 -1.0 1.9 -1.4 2 -1.9 2 -1.6 1.9 -1.4 2 -1.2 1.9 -1.2 2 -.9 1.9 -.9 2 -.7 1.9 -.6 2 -.7 1.9 -.6 2 -.2 1.9 .3 2 .9 2 1.4 1.9 1.7 2 1.7 1.9 1.7 2 1.6 1.9 .9 2 1.0 1.9 1.1 2 1.3 1.9 1.5 2 1.7 2 1.6 1.9 1.1 2 .3 1.9 -.3 2 -.8 1.9 -1.0 2 -.5 1.9 -.2 2 .0 1.9 -.3 2 -.7 1.9 -.9 2 -1.3 2 -1.3 1.9 -1.4 2 -1.0 1.9 -.8 2 -.4 1.9 -.4 2 -.3 1.9 -.3 2 -.1 1.9 .0 2 .1 1.9 .1 2 .1 2 .1 1.9 -.1 2 -.3 1.9 -.6 2 -.9 1.9 -1.1 2 -.9 1.9 -.7 2 -.3 1.9 .1 2 .6 1.9 .5 2 .6"/><path d="M274.4,63.5l2 2.5 1.9 2.9 2 2.0 1.9 .8 2 -.5 1.9 -1.6 2 -2.1 1.9 -2.4 2 -2.0 1.9 -1.4 2 -.9 1.9 -.3 2 -.1 2 .2 1.9 .1 2 .3 1.9 .2 2 .4 1.9 .4 2 .3 1.9 .4 2 .1 1.9 .0 2 -.2 1.9 -.5 2 -.5 2 -.6 1.9 -.5 2 -.5 1.9 -.4 2 -.2 1.9 -.1 2 .0 1.9 .0 2 .0 1.9 -.1 2 -.1 1.9 -.2 2 -.3 2 -.6 1.9 -.8 2 -1.0 1.9 -1.1 2 -1.1 1.9 -.9 2 -.7 1.9 -.5 2 -.1 1.9 .3 2 .7 2 .9 1.9 .7 2 .4 1.9 .2 2 .1 1.9 .0 2 .0 1.9 .0 2 .2 1.9 .3 2 .6 1.9 .7 2 1.0 2 1.0 1.9 .9 2 .7 1.9 .4 2 .2 1.9 .3 2 .5 1.9 .7 2 .8 1.9 .6 2 .1 1.9 -.4 2 -1.0 2 -1.4 1.9 -1.5 2 -1.4 1.9 -1.2 2 -1.6 1.9 -2.1 2 -2.2 1.9 -1.9 2 -1.3 1.9 -.6 2 .2 1.9 .3 2 .3"/><path d="M274.4,52.8l2 1.6 1.9 1.3 2 .9 1.9 .9 2 .6 1.9 .3 2 -.2 1.9 -.6 2 -1.0 1.9 -1.6 2 -2.2 1.9 -2.4 2 -2.2 2 -1.8 1.9 -.9 2 .0 1.9 .7 2 1.1 1.9 1.1 2 .8 1.9 .4 2 -.1 1.9 -.3 2 -.4 1.9 -.2 2 .1 2 .6 1.9 1.0 2 1.2 1.9 1.1 2 1.0 1.9 .7 2 .7 1.9 .5 2 .4 1.9 .3 2 .4 1.9 .5 2 .5 2 .6 1.9 .3 2 .3 1.9 .2 2 .3 1.9 .3 2 .5 1.9 .6 2 .9 1.9 1.2 2 1.5 2 1.4 1.9 1.0 2 .5 1.9 -.2 2 -.7 1.9 -.8 2 -.5 1.9 -.1 2 .0 1.9 -.2 2 -.5 1.9 -.7 2 -.8 2 -1.1 1.9 -1.0 2 -1.0 1.9 -.9 2 -.6 1.9 -.5 2 -.6 1.9 -.6 2 -.3 1.9 .0 2 .4 1.9 .5 2 .6 2 .6 1.9 .9 2 .6 1.9 .1 2 -.1 1.9 -.2 2 -.4 1.9 -.6 2 -1.3 1.9 -1.8 2 -1.8 1.9 -1.6 2 -1.6"/><path d="M274.4,59.1l2 .7 1.9 .5 2 .2 1.9 -.2 2 -.7 1.9 -.8 2 -.8 1.9 -.6 2 -.8 1.9 -1.1 2 -1.4 1.9 -1.5 2 -1.4 2 -1.1 1.9 -.4 2 .5 1.9 1.1 2 1.5 1.9 1.5 2 1.3 1.9 1.2 2 .9 1.9 1.3 2 1.6 1.9 1.4 2 1.0 2 .5 1.9 -.1 2 -.7 1.9 -1.1 2 -1.2 1.9 -1.3 2 -1.3 1.9 -1.3 2 -1.4 1.9 -1.5 2 -1.5 1.9 -1.1 2 -.7 2 -.3 1.9 .1 2 .4 1.9 .3 2 .2 1.9 .1 2 -.1 1.9 .0 2 .0 1.9 .3 2 .5 2 .6 1.9 .5 2 .2 1.9 .0 2 -.3 1.9 -.3 2 -.5 1.9 -.3 2 -.2 1.9 .2 2 .5 1.9 .8 2 1.1 2 1.1 1.9 1.1 2 1.0 1.9 .7 2 .5 1.9 .4 2 .5 1.9 .6 2 .9 1.9 1.2 2 1.3 1.9 1.4 2 1.0 2 .6 1.9 -.2 2 -.8 1.9 -1.0 2 -1.1 1.9 -.7 2 -.6 1.9 -.4 2 -.3 1.9 -.3 2 .0 1.9 .0 2 .0"/><path d="M274.4,49.5l2 2.0 1.9 1.7 2 .9 1.9 1.1 2 1.4 1.9 1.4 2 1.4 1.9 1.0 2 .2 1.9 -.1 2 -.3 1.9 -.1 2 -.2 2 -.3 1.9 -.7 2 -1.4 1.9 -2.4 2 -1.6 1.9 -.9 2 -.4 1.9 -.2 2 -.2 1.9 -.2 2 .0 1.9 .4 2 .8 2 1.1 1.9 1.2 2 1.2 1.9 .9 2 .6 1.9 .4 2 .1 1.9 .0 2 -.2 1.9 -.2 2 -.1 1.9 .1 2 .2 2 .3 1.9 .3 2 .3 1.9 .3 2 .3 1.9 .2 2 .2 1.9 .1 2 .2 1.9 .1 2 .3 2 .3 1.9 .3 2 .3 1.9 .2 2 .2 1.9 .3 2 .5 1.9 .8 2 1.2 1.9 1.1 2 1.0 1.9 .8 2 .3 2 -.3 1.9 -.9 2 -1.1 1.9 -1.2 2 -.8 1.9 -.3 2 .2 1.9 .6 2 .6 1.9 .1 2 -.7 1.9 -1.7 2 -2.5 2 -2.2 1.9 -1.4 2 -1.7 1.9 -2.3 2 -2.8 1.9 -2.6 2 -1.9 1.9 -.7 2 .4 1.9 1.2 2 1.7 1.9 1.5 2 1.3"/><path d="M274.4,58.1l2 .0 1.9 .0 2 .0 1.9 .1 2 .3 1.9 .3 2 .3 1.9 .2 2 .0 1.9 .0 2 .0 1.9 .1 2 .2 2 .3 1.9 .4 2 .6 1.9 .7 2 1.0 1.9 1.3 2 1.5 1.9 1.8 2 1.8 1.9 1.7 2 1.2 1.9 .6 2 .0 2 -.3 1.9 -.9 2 -1.3 1.9 -1.5 2 -1.2 1.9 -1.1 2 -.9 1.9 -.7 2 -.7 1.9 -.6 2 -.6 1.9 -.5 2 -.5 2 -.6 1.9 -.5 2 -.4 1.9 -.3 2 -.2 1.9 -.1 2 -.3 1.9 -.4 2 -.7 1.9 -.9 2 -.9 2 -.8 1.9 -.6 2 -.5 1.9 -.6 2 -.4 1.9 -.4 2 -.1 1.9 .3 2 .8 1.9 1.2 2 1.4 1.9 1.3 2 1.1 2 .8 1.9 .4 2 .0 1.9 -.3 2 -.4 1.9 -.4 2 -.4 1.9 -.5 2 -.8 1.9 -.8 2 -.7 1.9 -.6 2 -.4 2 -.3 1.9 -.7 2 -1.2 1.9 -2.1 2 -2.7 1.9 -2.8 2 -2.3 1.9 -1.4 2 -.4 1.9 .4 2 1.2 1.9 1.1 2 1.0"/><path d="M274.4,53.4l2 .2 1.9 .4 2 -.3 1.9 .1 2 .2 1.9 .3 2 .3 1.9 .1 2 -.3 1.9 -.7 2 -.7 1.9 -.5 2 -.2 2 .1 1.9 .4 2 .5 1.9 .4 2 .3 1.9 .1 2 -.2 1.9 -.3 2 -.8 1.9 -.8 2 -1.1 1.9 -1.0 2 -.7 2 -.4 1.9 .0 2 .3 1.9 .4 2 .4 1.9 .3 2 .2 1.9 .1 2 .0 1.9 .0 2 .1 1.9 .5 2 1.0 2 1.4 1.9 1.8 2 2.2 1.9 1.7 2 1.5 1.9 1.9 2 2.0 1.9 2.3 2 2.2 1.9 2.0 2 1.5 2 .5 1.9 -.5 2 -1.5 1.9 -2.0 2 -2.1 1.9 -1.9 2 -1.3 1.9 -1.0 2 -.8 1.9 -.9 2 -1.1 1.9 -.9 2 -.7 2 -.3 1.9 .3 2 .7 1.9 .9 2 1.0 1.9 1.2 2 1.8 1.9 2.5 2 3.1 1.9 3.1 2 2.2 1.9 1.1 2 -.8 2 -2.2 1.9 -3.3 2 -3.4 1.9 -3.1 2 -2.3 1.9 -1.7 2 -1.8 1.9 -2.8 2 -2.3 1.9 -1.6 2 -.7 1.9 -.5 2 -.1"/><path d="M274.4,56.7l2 .5 1.9 .3 2 .0 1.9 -.1 2 -.3 1.9 -.5 2 -.6 1.9 -.8 2 -1.4 1.9 -2.0 2 -2.4 1.9 -2.5 2 -2.1 2 -1.2 1.9 -.1 2 1.2 1.9 2.2 2 2.5 1.9 2.5 2 2.0 1.9 1.6 2 1.2 1.9 1.2 2 1.8 1.9 1.9 2 1.6 2 1.3 1.9 .8 2 .4 1.9 .0 2 .0 1.9 .0 2 .0 1.9 .1 2 .1 1.9 .2 2 .1 1.9 .2 2 .0 2 -.4 1.9 -.8 2 -.9 1.9 -1.1 2 -1.2 1.9 -1.7 2 -2.3 1.9 -3.0 2 -2.7 1.9 -1.8 2 -.9 2 .0 1.9 .3 2 .1 1.9 -.2 2 -.2 1.9 -.3 2 -.4 1.9 -.1 2 .2 1.9 .5 2 .6 1.9 .6 2 .6 2 .8 1.9 .8 2 .8 1.9 .8 2 .6 1.9 .5 2 .6 1.9 .8 2 .8 1.9 .9 2 .8 1.9 .5 2 .1 2 -.4 1.9 -.7 2 -.7 1.9 -.8 2 -1.1 1.9 -1.5 2 -1.6 1.9 -1.3 2 -.8 1.9 -.4 2 .2 1.9 .3 2 .4"/><path d="M274.4,67.0l2 .7 1.9 .9 2 .0 1.9 -.9 2 -1.4 1.9 -1.7 2 -1.5 1.9 -1.4 2 -1.1 1.9 -.7 2 -.5 1.9 -.2 2 .0 2 -.1 1.9 .0 2 .0 1.9 .0 2 .0 1.9 .2 2 .2 1.9 .4 2 .4 1.9 .3 2 .2 1.9 .1 2 -.2 2 -.3 1.9 -.4 2 -.6 1.9 -.5 2 -.5 1.9 -.3 2 -.4 1.9 -.4 2 -.5 1.9 -.6 2 -.7 1.9 -.7 2 -.8 2 -.6 1.9 -.5 2 -.4 1.9 -.1 2 .1 1.9 .3 2 .6 1.9 .8 2 .8 1.9 1.0 2 .9 2 .7 1.9 .5 2 .5 1.9 .4 2 .1 1.9 .0 2 .0 1.9 -.2 2 -.3 1.9 -.5 2 -.7 1.9 -.9 2 -.9 2 -.7 1.9 -.4 2 .0 1.9 .1 2 .1 1.9 .1 2 .1 1.9 .5 2 .8 1.9 .9 2 1.0 1.9 1.4 2 1.3 2 1.1 1.9 .6 2 .1 1.9 -.1 2 -.3 1.9 -.1 2 .0 1.9 .1 2 .0 1.9 .0 2 .0 1.9 -.6 2 -1.1"/><path d="M274.4,52.7l2 .3 1.9 .1 2 -.9 1.9 -.7 2 -.4 1.9 .2 2 .7 1.9 .5 2 .4 1.9 .2 2 .7 1.9 1.0 2 1.3 2 1.2 1.9 1.0 2 .3 1.9 .3 2 .3 1.9 .3 2 .3 1.9 .2 2 .1 1.9 -.2 2 -.4 1.9 -.7 2 -.8 2 -.7 1.9 -.8 2 -.8 1.9 -.6 2 -.7 1.9 -.5 2 -.6 1.9 -.6 2 -.7 1.9 -.6 2 -.5 1.9 -.2 2 .3 2 .7 1.9 1.0 2 1.3 1.9 1.3 2 1.4 1.9 1.4 2 1.0 1.9 1.1 2 1.3 1.9 1.3 2 1.4 2 1.0 1.9 .6 2 -.1 1.9 -.6 2 -1.0 1.9 -1.0 2 -.7 1.9 -.5 2 -.4 1.9 -.6 2 -.7 1.9 -.6 2 -.4 2 -.3 1.9 -.2 2 .0 1.9 .0 2 .0 1.9 .1 2 .1 1.9 .2 2 .3 1.9 .4 2 .4 1.9 .5 2 .5 2 .3 1.9 .2 2 -.1 1.9 -.1 2 -.2 1.9 .0 2 .2 1.9 .3 2 .4 1.9 .5 2 .7 1.9 .3 2 .0"/></g>
<g fill="none" stroke="#00cdcd" stroke-width="0.6" stroke-linejoin="round"><path d="M274.4,55.8l2 .7 1.9 .5 2 .1 1.9 .2 2 .2 1.9 .2 2 .4 1.9 .4 2 .3 1.9 .2 2 .1 1.9 .2 2 .3 2 .4 1.9 .6 2 .7 1.9 1.0 2 1.3 1.9 1.5 2 1.8 1.9 1.8 2 1.5 1.9 .9 2 -.3 1.9 -1.3 2 -2.2 2 -2.7 1.9 -2.9 2 -2.8 1.9 -1.8 2 -1.4 1.9 -1.1 2 -1.0 1.9 -1.0 2 -1.0 1.9 -1.3 2 -1.5 1.9 -1.4 2 -1.2 2 -.8 1.9 -.4 2 .3 1.9 1.0 2 1.7 1.9 2.2 2 2.6 1.9 2.6 2 2.3 1.9 1.8 2 1.5 2 1.0 1.9 .5 2 .0 1.9 -.2 2 -.2 1.9 -.1 2 .2 1.9 .6 2 .8 1.9 .9 2 .6 1.9 .3 2 -.3 2 -.8 1.9 -1.3 2 -1.3 1.9 -1.1 2 -.8 1.9 -.5 2 -.2 1.9 -.2 2 -.2 1.9 -.3 2 -.4 1.9 -.4 2 -.3 2 -.3 1.9 -.3 2 -.4 1.9 -.5 2 -.5 1.9 -.2 2 .2 1.9 .4 2 .3 1.9 .3 2 .0 1.9 -.3 2 -.4"/><path d="M274.4,64.2l2 1.9 1.9 2.4 2 1.9 1.9 .9 2 -.1 1.9 -1.2 2 -2.0 1.9 -2.4 2 -2.2 1.9 -1.6 2 -.9 1.9 -.5 2 -.1 2 .1 1.9 .1 2 .5 1.9 .9 2 1.4 1.9 1.9 2 2.7 1.9 3.2 2 3.5 1.9 3.1 2 2.1 1.9 .9 2 -.1 2 -.5 1.9 -1.2 2 -1.8 1.9 -2.0 2 -1.8 1.9 -1.8 2 -1.6 1.9 -1.6 2 -1.5 1.9 -1.2 2 -.9 1.9 -.5 2 -.3 2 .2 1.9 .4 2 .9 1.9 1.5 2 2.1 1.9 2.4 2 2.4 1.9 2.3 2 1.9 1.9 1.6 2 1.0 2 .1 1.9 -.9 2 -1.8 1.9 -2.1 2 -2.2 1.9 -1.9 2 -.8 1.9 .1 2 .9 1.9 .5 2 .0 1.9 -.6 2 -1.5 2 -2.0 1.9 -2.4 2 -2.2 1.9 -1.7 2 -1.3 1.9 -.7 2 -.5 1.9 -.4 2 -.4 1.9 -.6 2 -.7 1.9 -.6 2 -.6 2 -.5 1.9 -.7 2 -1.2 1.9 -1.9 2 -2.6 1.9 -2.8 2 -2.7 1.9 -2.1 2 -1.5 1.9 -.9 2 -.1 1.9 -.3 2 -.3"/><path d="M274.4,49.6l2 2.2 1.9 2.4 2 2.0 1.9 2.7 2 3.8 1.9 2.8 2 1.4 1.9 -.3 2 -1.2 1.9 -1.5 2 -1.2 1.9 -.6 2 -.4 2 -.6 1.9 -.9 2 -1.3 1.9 -2.6 2 -2.8 1.9 -1.7 2 -1.1 1.9 -.8 2 -1.0 1.9 -1.0 2 -1.2 1.9 -.9 2 -.4 2 .0 1.9 .6 2 1.2 1.9 1.6 2 1.9 1.9 2.2 2 2.4 1.9 2.5 2 2.6 1.9 2.1 2 1.9 1.9 1.5 2 .9 2 .3 1.9 -.4 2 -.5 1.9 -.6 2 -.6 1.9 -.7 2 -.9 1.9 -1.0 2 -1.1 1.9 -1.0 2 -.8 2 -.6 1.9 -.5 2 -.3 1.9 -.2 2 -.3 1.9 -.5 2 -.7 1.9 -.9 2 -1.1 1.9 -1.1 2 -1.1 1.9 -.9 2 -.6 2 -.3 1.9 .0 2 .1 1.9 -.1 2 -.6 1.9 -1.2 2 -1.6 1.9 -1.5 2 -.8 1.9 -.2 2 .7 1.9 1.2 2 1.6 2 1.6 1.9 .8 2 .1 1.9 -.6 2 -.7 1.9 -.4 2 -.2 1.9 .1 2 .3 1.9 .5 2 .6 1.9 .4 2 .3"/><path d="M274.4,60.1l2 .4 1.9 1.1 2 1.7 1.9 2.1 2 1.8 1.9 1.2 2 .1 1.9 -1.1 2 -1.7 1.9 -1.8 2 -1.3 1.9 -.8 2 -.6 2 -.8 1.9 -1.3 2 -2.9 1.9 -3.5 2 -1.9 1.9 -.7 2 -.2 1.9 .2 2 -.2 1.9 -.4 2 -.6 1.9 -.6 2 -.5 2 -.3 1.9 -.1 2 .3 1.9 .4 2 .4 1.9 .4 2 .3 1.9 .3 2 .0 1.9 -.1 2 -.2 1.9 -.2 2 -.2 2 -.1 1.9 -.1 2 -.1 1.9 .1 2 .3 1.9 .4 2 .6 1.9 .7 2 .7 1.9 .8 2 .9 2 .8 1.9 .5 2 .3 1.9 .1 2 .1 1.9 .0 2 -.1 1.9 -.1 2 -.1 1.9 -.4 2 -.7 1.9 -1.0 2 -1.1 2 -.8 1.9 -.4 2 .2 1.9 .5 2 .4 1.9 .3 2 .4 1.9 .6 2 .8 1.9 .7 2 .2 1.9 -.1 2 -.3 2 -.4 1.9 -.9 2 -1.5 1.9 -2.3 2 -2.3 1.9 -1.5 2 -.5 1.9 .8 2 1.3 1.9 1.4 2 1.3 1.9 .5 2 .0"/><path d="M274.4,44.3l2 1.9 1.9 1.8 2 .6 1.9 1.5 2 2.0 1.9 2.3 2 2.2 1.9 1.8 2 1.2 1.9 .5 2 .0 1.9 .1 2 .1 2 -.1 1.9 -.3 2 -.5 1.9 -.8 2 -1.2 1.9 -.9 2 -.4 1.9 .0 2 .3 1.9 .7 2 1.1 1.9 2.8 2 3.0 2 3.0 1.9 2.2 2 .9 1.9 -.4 2 -1.1 1.9 -1.7 2 -2.1 1.9 -2.4 2 -2.5 1.9 -2.6 2 -3.0 1.9 -3.0 2 -2.3 2 -1.3 1.9 -.2 2 1.1 1.9 2.1 2 3.1 1.9 3.6 2 2.9 1.9 3.0 2 2.8 1.9 2.3 2 1.4 2 .0 1.9 -1.3 2 -2.3 1.9 -2.6 2 -2.3 1.9 -1.8 2 -1.3 1.9 -1.3 2 -1.0 1.9 -.6 2 .1 1.9 .8 2 1.3 2 1.7 1.9 1.7 2 1.2 1.9 .6 2 .2 1.9 .2 2 .5 1.9 .6 2 .8 1.9 .5 2 .0 1.9 -.5 2 -.9 2 -1.2 1.9 -1.4 2 -1.3 1.9 -1.1 2 -1.0 1.9 -1.7 2 -2.2 1.9 -2.2 2 -2.1 1.9 -1.7 2 -1.0 1.9 -.9 2 -.8"/><path d="M274.4,47.5l2 .8 1.9 .8 2 -.6 1.9 .1 2 .6 1.9 1.0 2 1.2 1.9 .7 2 -.1 1.9 -.6 2 -1.1 1.9 -1.2 2 -1.5 2 -1.4 1.9 -.7 2 .4 1.9 1.5 2 2.4 1.9 2.5 2 2.3 1.9 2.1 2 1.8 1.9 2.7 2 2.3 1.9 1.4 2 .5 2 -.4 1.9 -1.0 2 -1.3 1.9 -1.2 2 -.9 1.9 -.5 2 -.3 1.9 .0 2 .2 1.9 .2 2 .3 1.9 .3 2 .2 2 .1 1.9 -.1 2 -.2 1.9 -.3 2 -.4 1.9 -.5 2 -.6 1.9 -.8 2 -1.0 1.9 -.8 2 -.5 2 -.4 1.9 -.4 2 -.6 1.9 -1.0 2 -1.5 1.9 -2.0 2 -2.7 1.9 -2.7 2 -2.4 1.9 -1.7 2 -1.0 1.9 -.3 2 .6 2 1.4 1.9 1.9 2 2.2 1.9 2.0 2 1.2 1.9 .6 2 .0 1.9 -.1 2 -.1 1.9 -.1 2 .0 1.9 .0 2 .2 2 .3 1.9 -.6 2 -1.5 1.9 -2.9 2 -3.1 1.9 -2.4 2 -.9 1.9 1.2 2 3.2 1.9 4.5 2 5.0 1.9 4.6 2 4.3"/><path d="M274.4,61.5l2 .9 1.9 .8 2 .3 1.9 -.1 2 -.5 1.9 -.6 2 -.5 1.9 -.6 2 -.5 1.9 -.4 2 -.3 1.9 .0 2 .1 2 .2 1.9 .2 2 .5 1.9 .7 2 1.2 1.9 1.8 2 2.6 1.9 3.4 2 3.6 1.9 3.5 2 2.3 1.9 1.1 2 -.1 2 -.4 1.9 -1.2 2 -1.7 1.9 -2.0 2 -1.5 1.9 -1.4 2 -1.2 1.9 -1.2 2 -1.2 1.9 -1.4 2 -1.5 1.9 -1.4 2 -1.6 2 -1.6 1.9 -1.7 2 -1.4 1.9 -2.2 2 -2.3 1.9 -2.0 2 -1.5 1.9 -.8 2 .0 1.9 .8 2 1.5 2 1.8 1.9 1.6 2 1.3 1.9 1.3 2 1.6 1.9 1.0 2 .9 1.9 .8 2 .9 1.9 .5 2 .0 1.9 -.6 2 -1.2 2 -1.6 1.9 -1.6 2 -1.3 1.9 -.8 2 -.7 1.9 -.5 2 -.6 1.9 -.5 2 -.5 1.9 -.4 2 -.4 1.9 -.4 2 -.3 2 -.2 1.9 -.5 2 -1.0 1.9 -1.6 2 -1.1 1.9 .2 2 2.1 1.9 3.6 2 4.4 1.9 2.9 2 4.0 1.9 4.5 2 4.1"/><path d="M274.4,65.2l2 1.1 1.9 1.1 2 .4 1.9 -.6 2 -1.3 1.9 -1.5 2 -1.6 1.9 -1.5 2 -1.1 1.9 -.8 2 -.5 1.9 -.2 2 -.3 2 -.3 1.9 -.9 2 -.6 1.9 -.5 2 -.1 1.9 .1 2 .1 1.9 .1 2 -.2 1.9 -.3 2 -.5 1.9 -.7 2 -.8 2 -.8 1.9 -.8 2 -.6 1.9 -.6 2 -.4 1.9 -.5 2 -.4 1.9 -.7 2 -.8 1.9 -1.1 2 -1.1 1.9 -1.0 2 -.6 2 -.3 1.9 -.1 2 .2 1.9 .3 2 .6 1.9 .9 2 1.4 1.9 1.8 2 2.2 1.9 2.5 2 2.5 2 2.5 1.9 3.0 2 2.5 1.9 1.5 2 .8 1.9 .2 2 .4 1.9 .8 2 1.1 1.9 .8 2 .5 1.9 .0 2 -.7 2 -1.5 1.9 -2.2 2 -2.3 1.9 -2.1 2 -1.5 1.9 -1.2 2 -.9 1.9 -.9 2 -.7 1.9 -.2 2 .3 1.9 .7 2 .8 2 1.3 1.9 1.1 2 .6 1.9 .1 2 -.3 1.9 -.4 2 -.4 1.9 -.7 2 -.9 1.9 -1.8 2 -1.8 1.9 -1.7 2 -1.4"/><path d="M274.4,54.9l2 -.6 1.9 -.7 2 -1.7 1.9 -1.6 2 -1.2 1.9 -.5 2 .2 1.9 .1 2 -.5 1.9 -.8 2 -.5 1.9 .2 2 .7 2 1.2 1.9 1.2 2 1.2 1.9 .8 2 .5 1.9 .3 2 .0 1.9 -.1 2 -.3 1.9 -.3 2 -.2 1.9 .2 2 .7 2 1.1 1.9 1.3 2 1.2 1.9 1.0 2 .7 1.9 .3 2 -.1 1.9 -.3 2 -.6 1.9 -.8 2 -1.0 1.9 -1.0 2 -1.1 2 -1.0 1.9 -.9 2 -1.0 1.9 -.8 2 -.8 1.9 -.6 2 -.1 1.9 .4 2 1.0 1.9 1.7 2 2.1 2 2.1 1.9 1.9 2 2.3 1.9 2.1 2 1.3 1.9 .8 2 .8 1.9 1.0 2 1.3 1.9 1.0 2 .7 1.9 .2 2 -.4 2 -1.2 1.9 -1.7 2 -1.8 1.9 -1.7 2 -1.2 1.9 -.7 2 -.4 1.9 -.3 2 -.2 1.9 -.4 2 -.4 1.9 -.5 2 -.4 2 -.2 1.9 -.1 2 -.2 1.9 -.2 2 -.1 1.9 -.1 2 .0 1.9 -.1 2 -.2 1.9 -.4 2 -.5 1.9 -.6 2 -.8"/><path d="M274.4,62.6l2 -.1 1.9 -.6 2 -1.3 1.9 -1.4 2 -.8 1.9 .0 2 .8 1.9 1.1 2 .9 1.9 .4 2 .2 1.9 .4 2 .6 2 .6 1.9 .3 2 .0 1.9 -.4 2 -.8 1.9 -1.3 2 -1.6 1.9 -1.7 2 -.9 1.9 -.7 2 -.5 1.9 .0 2 .2 2 .4 1.9 .5 2 .4 1.9 .0 2 -.3 1.9 -.8 2 -1.1 1.9 -1.7 2 -2.2 1.9 -2.8 2 -3.2 1.9 -3.1 2 -2.4 2 -1.8 1.9 -1.3 2 -.8 1.9 -.5 2 -.2 1.9 .2 2 .6 1.9 1.0 2 1.6 1.9 2.3 2 2.7 2 2.9 1.9 2.2 2 1.3 1.9 .8 2 .3 1.9 .0 2 -.3 1.9 -.3 2 -.2 1.9 .1 2 .6 1.9 1.0 2 1.4 2 1.6 1.9 1.5 2 1.1 1.9 .7 2 .4 1.9 .1 2 -.2 1.9 -.3 2 -.6 1.9 -.7 2 -.5 1.9 -.4 2 -.1 2 .0 1.9 -.1 2 -.3 1.9 -.6 2 -.4 1.9 -.3 2 .1 1.9 .5 2 .5 1.9 .6 2 .5 1.9 .3 2 .3"/><path d="M274.4,58.4l2 -2.1 1.9 -1.5 2 -2.0 1.9 -1.9 2 -1.8 1.9 -1.3 2 -.9 1.9 -1.4 2 -2.5 1.9 -3.7 2 -3.9 1.9 -3.3 2 -2.3 2 -.7 1.9 1.0 2 3.0 1.9 4.2 2 4.6 1.9 4.0 2 3.0 1.9 2.0 2 1.0 1.9 .5 2 .1 1.9 -.1 2 -.3 2 -.4 1.9 -.4 2 -.2 1.9 -.1 2 -.1 1.9 -.1 2 -.1 1.9 -.2 2 -.2 1.9 -.3 2 -.1 1.9 .2 2 .7 2 1.0 1.9 1.2 2 1.3 1.9 1.5 2 1.5 1.9 1.4 2 1.2 1.9 1.4 2 1.6 1.9 1.9 2 1.9 2 1.5 1.9 .9 2 -.2 1.9 -.9 2 -1.3 1.9 -1.6 2 -1.2 1.9 -1.2 2 -1.3 1.9 -2.0 2 -2.5 1.9 -2.7 2 -2.2 2 -1.4 1.9 -.3 2 .7 1.9 1.1 2 1.3 1.9 1.7 2 2.2 1.9 2.6 2 3.3 1.9 3.9 2 3.6 1.9 2.5 2 .7 2 -.9 1.9 -2.3 2 -3.0 1.9 -2.9 2 -2.4 1.9 -1.8 2 -1.6 1.9 -2.2 2 -2.7 1.9 -2.0 2 -.9 1.9 -.5 2 -.1"/><path d="M274.4,71.0l2 .3 1.9 .0 2 -1.4 1.9 -2.4 2 -2.7 1.9 -2.5 2 -2.0 1.9 -1.3 2 -.7 1.9 -.4 2 -.2 1.9 .0 2 .4 2 .3 1.9 .4 2 .6 1.9 1.0 2 1.3 1.9 1.7 2 1.9 1.9 2.2 2 2.0 1.9 1.6 2 .8 1.9 .0 2 -.8 2 -1.1 1.9 -1.3 2 -1.3 1.9 -1.0 2 -.3 1.9 .1 2 .4 1.9 .8 2 .8 1.9 .9 2 .8 1.9 .7 2 .5 2 .1 1.9 -.2 2 .0 1.9 .4 2 .7 1.9 .9 2 .9 1.9 .7 2 .2 1.9 -.7 2 -1.9 2 -3.0 1.9 -3.4 2 -3.2 1.9 -2.4 2 -1.3 1.9 -.6 2 .1 1.9 .5 2 1.0 1.9 1.4 2 1.5 1.9 1.7 2 1.5 2 1.1 1.9 .5 2 .1 1.9 -.2 2 -.1 1.9 .3 2 1.3 1.9 2.0 2 2.6 1.9 2.4 2 1.5 1.9 .1 2 -2.2 2 -3.7 1.9 -4.4 2 -3.8 1.9 -2.6 2 -1.5 1.9 -.6 2 .0 1.9 .5 2 1.2 1.9 2.1 2 3.3 1.9 3.8 2 3.8"/><path d="M274.4,56.3l2 -.2 1.9 -.7 2 -1.6 1.9 -1.6 2 -1.0 1.9 -.2 2 .8 1.9 1.2 2 1.7 1.9 2.7 2 2.1 1.9 1.5 2 1.7 2 2.1 1.9 2.0 2 1.9 1.9 1.8 2 1.6 1.9 1.0 2 .0 1.9 -1.6 2 -3.2 1.9 -4.1 2 -4.3 1.9 -2.9 2 -1.8 2 -1.3 1.9 -.6 2 -.2 1.9 .1 2 .2 1.9 .2 2 .2 1.9 .2 2 .2 1.9 .3 2 .5 1.9 1.0 2 1.3 2 1.4 1.9 .9 2 .9 1.9 .7 2 .6 1.9 .5 2 .2 1.9 -.1 2 -.6 1.9 -.9 2 -1.3 2 -1.4 1.9 -.7 2 -.4 1.9 -.2 2 .1 1.9 .6 2 1.0 1.9 1.4 2 2.1 1.9 2.6 2 2.9 1.9 3.0 2 2.3 2 1.1 1.9 -.3 2 -1.6 1.9 -2.0 2 -1.9 1.9 -1.5 2 -1.0 1.9 -.9 2 -1.0 1.9 -1.3 2 -1.4 1.9 -1.0 2 -.6 2 -.3 1.9 -.1 2 -.3 1.9 -.4 2 -.7 1.9 -1.3 2 -1.6 1.9 -1.6 2 -1.0 1.9 -.2 2 .7 1.9 1.1 2 1.5"/><path d="M274.4,70.9l2 .8 1.9 .0 2 -2.3 1.9 -3.8 2 -4.0 1.9 -3.0 2 -1.3 1.9 -.4 2 .1 1.9 .6 2 .8 1.9 .4 2 .3 2 .3 1.9 .0 2 -.2 1.9 -.7 2 -1.6 1.9 -1.5 2 -1.3 1.9 -1.0 2 -1.1 1.9 -1.1 2 -1.0 1.9 -.7 2 -.2 2 .3 1.9 .7 2 .9 1.9 .8 2 .5 1.9 .2 2 -.1 1.9 -.4 2 -.6 1.9 -.9 2 -1.0 1.9 -.8 2 -.6 2 -.2 1.9 -.1 2 .0 1.9 .1 2 -.1 1.9 .0 2 .1 1.9 .2 2 .5 1.9 .8 2 1.1 2 1.2 1.9 .9 2 .4 1.9 .0 2 -.4 1.9 -.6 2 -1.1 1.9 -1.0 2 -1.0 1.9 -.7 2 -.1 1.9 .4 2 1.1 2 1.5 1.9 1.7 2 1.4 1.9 1.1 2 .6 1.9 .3 2 .1 1.9 .1 2 .1 1.9 .3 2 .4 1.9 .5 2 .4 2 .5 1.9 .3 2 -.1 1.9 -.3 2 -.5 1.9 -.9 2 -1.0 1.9 -.4 2 .4 1.9 1.5 2 2.0 1.9 2.9 2 3.6"/><path d="M274.4,43.4l2 1.6 1.9 1.1 2 -1.0 1.9 -.8 2 -.5 1.9 -.1 2 .1 1.9 -.7 2 -2.0 1.9 -3.6 2 -4.0 1.9 -3.4 2 -2.5 2 -1.1 1.9 .4 2 2.2 1.9 3.2 2 3.8 1.9 3.6 2 2.8 1.9 2.3 2 1.8 1.9 2.3 2 2.7 1.9 2.8 2 2.9 2 3.5 1.9 3.0 2 1.8 1.9 .7 2 .1 1.9 -.2 2 -.5 1.9 -.6 2 -.8 1.9 -.7 2 -.7 1.9 -.7 2 -.7 2 -.8 1.9 -.8 2 -.8 1.9 -.8 2 -1.4 1.9 -1.4 2 -1.3 1.9 -1.2 2 -.9 1.9 -.5 2 -.1 2 .3 1.9 .2 2 -.3 1.9 -.6 2 -1.0 1.9 -1.4 2 -1.8 1.9 -1.8 2 -1.6 1.9 -1.3 2 -.6 1.9 .1 2 1.0 2 1.8 1.9 2.2 2 2.1 1.9 1.7 2 .9 1.9 .3 2 -.2 1.9 -.3 2 -.3 1.9 -.1 2 .2 1.9 .3 2 .6 2 .6 1.9 .2 2 -.4 1.9 -.9 2 -.6 1.9 -.1 2 .6 1.9 1.0 2 1.0 1.9 .8 2 .6 1.9 .1 2 -.3"/><path d="M274.4,73.7l2 3.3 1.9 4.2 2 3.0 1.9 1.3 2 -.4 1.9 -2.3 2 -3.9 1.9 -5.2 2 -5.1 1.9 -4.0 2 -2.4 1.9 -1.2 2 -.6 2 -.1 1.9 .2 2 .6 1.9 1.0 2 1.4 1.9 1.4 2 1.4 1.9 1.0 2 .1 1.9 -.9 2 -2.2 1.9 -3.3 2 -3.5 2 -2.8 1.9 -2.6 2 -2.1 1.9 -1.4 2 -.9 1.9 -.4 2 -.1 1.9 .1 2 .6 1.9 1.3 2 2.4 1.9 3.6 2 4.0 2 3.1 1.9 2.6 2 2.2 1.9 1.7 2 1.4 1.9 1.1 2 .7 1.9 .2 2 -.6 1.9 -1.6 2 -2.4 2 -2.9 1.9 -3.0 2 -2.6 1.9 -1.6 2 -1.0 1.9 -.9 2 -.7 1.9 -.4 2 .2 1.9 .8 2 1.3 1.9 1.7 2 1.8 2 1.7 1.9 1.0 2 .1 1.9 -.6 2 -1.1 1.9 -1.3 2 -1.5 1.9 -2.3 2 -2.6 1.9 -2.4 2 -1.6 1.9 -.8 2 .2 2 .7 1.9 .3 2 .0 1.9 .1 2 1.4 1.9 3.4 2 4.2 1.9 2.9 2 3.4 1.9 4.0 2 4.8 1.9 3.8 2 2.3"/><path d="M274.4,47.9l2 1.6 1.9 1.5 2 .6 1.9 1.2 2 1.5 1.9 1.7 2 1.6 1.9 1.4 2 .8 1.9 .3 2 .0 1.9 .2 2 .2 2 .2 1.9 .1 2 .0 1.9 -.2 2 -.4 1.9 -.6 2 -.6 1.9 -.6 2 -.2 1.9 .1 2 .8 1.9 1.5 2 1.9 2 2.3 1.9 2.2 2 1.7 1.9 1.1 2 .7 1.9 .2 2 .0 1.9 -.1 2 -.2 1.9 -.2 2 -.3 1.9 -.4 2 -1.0 2 -1.7 1.9 -2.0 2 -2.1 1.9 -2.0 2 -2.1 1.9 -3.0 2 -2.7 1.9 -2.0 2 -1.1 1.9 -.1 2 .7 2 1.3 1.9 1.1 2 .9 1.9 .6 2 .6 1.9 .4 2 .4 1.9 .6 2 .6 1.9 .7 2 .9 1.9 .8 2 .8 2 .7 1.9 .3 2 -.1 1.9 -.4 2 -.5 1.9 -.5 2 -.4 1.9 -.3 2 -.1 1.9 .4 2 1.0 1.9 1.9 2 2.2 2 2.1 1.9 1.2 2 .3 1.9 -.6 2 -.8 1.9 -.6 2 -.4 1.9 -.2 2 .0 1.9 .2 2 .6 1.9 .4 2 .2"/><path d="M274.4,56.4l2 -.3 1.9 .1 2 .2 1.9 .6 2 .9 1.9 1.3 2 1.1 1.9 .5 2 -.1 1.9 -.3 2 -.3 1.9 -.2 2 -.1 2 -.2 1.9 -.4 2 -.5 1.9 -.7 2 -.7 1.9 -.3 2 .1 1.9 .3 2 .4 1.9 .5 2 1.1 1.9 1.2 2 1.1 2 1.1 1.9 .7 2 .4 1.9 .1 2 -.1 1.9 -.1 2 -.3 1.9 -.3 2 -.5 1.9 -.6 2 -.6 1.9 -.8 2 -.9 2 -.8 1.9 -.6 2 -.5 1.9 .0 2 .6 1.9 .8 2 1.2 1.9 1.6 2 1.7 1.9 1.6 2 1.1 2 .5 1.9 -.3 2 -1.0 1.9 -1.2 2 -1.2 1.9 -1.0 2 -.5 1.9 -.3 2 -.1 1.9 -.1 2 -.3 1.9 -.4 2 -.5 2 -.7 1.9 -.6 2 -.5 1.9 -.3 2 -.3 1.9 -.2 2 -.4 1.9 -.6 2 -.7 1.9 -1.0 2 -.9 1.9 -.9 2 -.6 2 -.2 1.9 -.5 2 -.7 1.9 -.8 2 .2 1.9 1.8 2 3.5 1.9 3.3 2 2.0 1.9 2.0 2 1.8 1.9 .9 2 -.4"/><path d="M274.4,62.3l2 .4 1.9 -.2 2 -1.3 1.9 -1.9 2 -1.5 1.9 -.5 2 .1 1.9 .6 2 .9 1.9 .5 2 .3 1.9 .2 2 .2 2 -.1 1.9 -.5 2 -.8 1.9 -2.0 2 -1.8 1.9 -1.0 2 -.5 1.9 -.1 2 -.1 1.9 -.1 2 .0 1.9 .3 2 .4 2 .8 1.9 .8 2 1.0 1.9 1.0 2 .9 1.9 1.1 2 1.0 1.9 .9 2 .8 1.9 .7 2 .7 1.9 .6 2 .4 2 .2 1.9 -.3 2 -.2 1.9 -.3 2 -.2 1.9 -.3 2 -.3 1.9 -.3 2 -.1 1.9 .1 2 .5 2 .8 1.9 .9 2 .9 1.9 .7 2 .5 1.9 .3 2 .8 1.9 1.4 2 1.9 1.9 1.9 2 1.6 1.9 1.3 2 .7 2 -.3 1.9 -1.4 2 -2.2 1.9 -2.6 2 -2.5 1.9 -2.2 2 -1.8 1.9 -1.8 2 -2.4 1.9 -2.8 2 -2.1 1.9 -1.5 2 -.7 2 -.2 1.9 -.5 2 -1.1 1.9 -1.8 2 -1.9 1.9 -1.4 2 -.7 1.9 .3 2 1.0 1.9 1.4 2 1.6 1.9 1.4 2 1.1"/><path d="M274.4,55.0l2 1.6 1.9 1.4 2 2.1 1.9 2.2 2 1.9 1.9 1.2 2 .3 1.9 -.6 2 -1.1 1.9 -1.1 2 -.6 1.9 -.1 2 .4 2 .6 1.9 .6 2 .7 1.9 .7 2 .5 1.9 .2 2 -.2 1.9 -.4 2 -.7 1.9 -.8 2 -.7 1.9 -.4 2 .0 2 .3 1.9 .3 2 .1 1.9 -.2 2 -.4 1.9 -.6 2 -.7 1.9 -1.0 2 -1.2 1.9 -1.4 2 -1.9 1.9 -2.4 2 -2.5 2 -2.4 1.9 -1.9 2 -1.4 1.9 -.5 2 .1 1.9 .9 2 1.3 1.9 1.5 2 1.3 1.9 1.1 2 .8 2 .5 1.9 .0 2 -.5 1.9 -1.0 2 -1.2 1.9 -1.5 2 -1.7 1.9 -1.4 2 -.8 1.9 .1 2 1.3 1.9 2.6 2 3.8 2 4.0 1.9 3.9 2 3.1 1.9 2.0 2 1.0 1.9 .7 2 1.1 1.9 1.5 2 1.6 1.9 1.0 2 -.3 1.9 -1.5 2 -2.6 2 -2.9 1.9 -2.7 2 -2.0 1.9 -1.1 2 -.5 1.9 -.1 2 .0 1.9 .1 2 .1 1.9 -.1 2 -.4 1.9 -.8 2 -1.1"/><path d="M274.4,46.4l2 -.7 1.9 -.4 2 -2.1 1.9 -1.4 2 -.5 1.9 .4 2 1.0 1.9 .5 2 -.8 1.9 -1.6 2 -.8 1.9 .8 2 2.5 2 3.9 1.9 4.5 2 4.2 1.9 2.8 2 1.5 1.9 1.4 2 1.1 1.9 .9 2 .5 1.9 .0 2 -.3 1.9 -.5 2 -.7 2 -.8 1.9 -1.0 2 -1.2 1.9 -1.4 2 -1.1 1.9 -1.2 2 -1.5 1.9 -1.5 2 -1.7 1.9 -1.7 2 -1.4 1.9 -.7 2 .3 2 1.1 1.9 1.9 2 2.4 1.9 2.4 2 2.4 1.9 1.5 2 1.3 1.9 1.1 2 .9 1.9 .4 2 .0 2 -.7 1.9 -1.0 2 -1.3 1.9 -1.2 2 -.9 1.9 -.8 2 -.9 1.9 -.8 2 -.7 1.9 -.5 2 -.1 1.9 .3 2 .6 2 .9 1.9 .8 2 .7 1.9 .5 2 .2 1.9 .1 2 .0 1.9 -.1 2 -.3 1.9 -.3 2 -.2 1.9 -.2 2 -.2 2 -.1 1.9 -.3 2 -.6 1.9 -1.1 2 -1.7 1.9 -2.0 2 -2.2 1.9 -1.9 2 -1.4 1.9 -.9 2 -.2 1.9 -.3 2 -.2"/><path d="M274.4,57.5l2 .4 1.9 .6 2 .7 1.9 .6 2 .0 1.9 -.7 2 -1.1 1.9 -1.1 2 -1.7 1.9 -2.6 2 -3.1 1.9 -3.1 2 -2.6 2 -1.5 1.9 .0 2 1.5 1.9 2.3 2 2.7 1.9 2.4 2 1.9 1.9 1.6 2 1.3 1.9 1.3 2 2.1 1.9 3.0 2 2.9 2 2.3 1.9 1.2 2 -.2 1.9 -1.5 2 -2.3 1.9 -2.9 2 -3.3 1.9 -3.5 2 -4.1 1.9 -4.5 2 -4.0 1.9 -2.9 2 -1.9 2 -1.2 1.9 -.8 2 -.5 1.9 -.3 2 .1 1.9 .4 2 .8 1.9 1.3 2 1.8 1.9 2.4 2 2.8 2 2.9 1.9 2.1 2 1.3 1.9 .7 2 .1 1.9 -.3 2 -.9 1.9 -1.4 2 -1.9 1.9 -2.2 2 -2.1 1.9 -1.7 2 -.7 2 .5 1.9 1.3 2 1.6 1.9 1.2 2 .6 1.9 -.1 2 -.1 1.9 .7 2 1.9 1.9 2.1 2 2.0 1.9 1.4 2 .8 2 .3 1.9 -.3 2 -1.1 1.9 -1.9 2 -2.3 1.9 -2.2 2 -1.7 1.9 -.6 2 .3 1.9 .9 2 1.4 1.9 1.2 2 1.0"/><path d="M274.4,55.0l2 .5 1.9 .7 2 .3 1.9 .2 2 -.2 1.9 -.7 2 -1.3 1.9 -1.9 2 -3.1 1.9 -4.7 2 -5.4 1.9 -4.8 2 -3.5 2 -1.5 1.9 .5 2 2.6 1.9 4.1 2 5.0 1.9 4.8 2 3.9 1.9 3.2 2 2.5 1.9 2.5 2 4.0 1.9 3.6 2 3.0 2 2.1 1.9 .9 2 -.4 1.9 -1.3 2 -1.5 1.9 -1.8 2 -2.0 1.9 -2.0 2 -2.0 1.9 -2.0 2 -2.0 1.9 -2.3 2 -2.0 2 -1.6 1.9 -1.0 2 -.3 1.9 .3 2 .8 1.9 1.1 2 1.0 1.9 .6 2 .2 1.9 -.4 2 -.6 2 -.7 1.9 -.8 2 -1.0 1.9 -1.1 2 -1.2 1.9 -1.2 2 -1.3 1.9 -.9 2 -.3 1.9 .5 2 1.3 1.9 1.9 2 2.4 2 2.4 1.9 2.2 2 1.8 1.9 1.5 2 1.1 1.9 .9 2 1.0 1.9 1.3 2 1.4 1.9 1.3 2 .6 1.9 -.2 2 -1.2 2 -1.6 1.9 -1.9 2 -1.6 1.9 -1.2 2 -1.1 1.9 -1.4 2 -1.4 1.9 -1.4 2 -1.1 1.9 -1.0 2 -.7 1.9 -.9 2 -.9"/><path d="M274.4,48.5l2 -.3 1.9 -.4 2 -1.8 1.9 -1.4 2 -.7 1.9 .3 2 .8 1.9 .5 2 -.6 1.9 -1.1 2 -.8 1.9 .3 2 1.1 2 1.9 1.9 2.4 2 2.4 1.9 1.9 2 1.4 1.9 .8 2 .4 1.9 .2 2 -.1 1.9 -.2 2 .0 1.9 .1 2 .3 2 .5 1.9 .6 2 .5 1.9 .4 2 .1 1.9 -.1 2 -.3 1.9 -.4 2 -.6 1.9 -.6 2 -.6 1.9 -.4 2 .0 2 .4 1.9 .8 2 1.3 1.9 1.2 2 1.0 1.9 1.2 2 1.2 1.9 1.1 2 .8 1.9 .2 2 -.5 2 -1.3 1.9 -1.7 2 -1.9 1.9 -1.2 2 -.9 1.9 -.9 2 -.9 1.9 -.8 2 -.6 1.9 -.5 2 -.3 1.9 -.1 2 .1 2 .4 1.9 .7 2 .9 1.9 .9 2 .9 1.9 1.0 2 1.0 1.9 1.1 2 1.1 1.9 .8 2 .0 1.9 -1.1 2 -2.1 2 -1.4 1.9 -1.5 2 -2.0 1.9 -3.1 2 -3.6 1.9 -3.5 2 -2.4 1.9 -1.0 2 .6 1.9 1.7 2 2.7 1.9 2.4 2 2.4"/><path d="M274.4,50.1l2 .2 1.9 .1 2 -1.1 1.9 -.7 2 .1 1.9 .8 2 1.3 1.9 1.3 2 1.1 1.9 1.4 2 2.0 1.9 2.0 2 .8 2 .9 1.9 .9 2 .8 1.9 .8 2 .5 1.9 .1 2 -.5 1.9 -1.2 2 -2.1 1.9 -2.3 2 -2.0 1.9 -2.3 2 -2.3 2 -2.0 1.9 -1.4 2 -.6 1.9 .0 2 .3 1.9 .4 2 .8 1.9 1.0 2 1.3 1.9 1.6 2 2.0 1.9 2.4 2 2.2 2 1.5 1.9 1.1 2 .8 1.9 .8 2 .7 1.9 .6 2 .4 1.9 .1 2 -.4 1.9 -.8 2 -1.4 2 -1.9 1.9 -2.1 2 -1.2 1.9 -1.3 2 -1.5 1.9 -1.7 2 -1.9 1.9 -1.9 2 -1.6 1.9 -1.1 2 -.2 1.9 .6 2 1.5 2 2.1 1.9 2.2 2 1.8 1.9 1.4 2 .7 1.9 .3 2 -.1 1.9 -.5 2 -.5 1.9 -.6 2 -.5 1.9 -.2 2 .0 2 .0 1.9 -.3 2 -.9 1.9 -1.6 2 -2.0 1.9 -1.9 2 -1.5 1.9 -.9 2 -.1 1.9 .4 2 1.0 1.9 .8 2 .6"/></g>
<g fill="none" stroke="#00cdcd" stroke-width="0.6" stroke-linejoin="round"><path d="M274.4,39.9l2 1.5 1.9 1.8 2 -.4 1.9 .7 2 1.4 1.9 2.1 2 2.2 1.9 1.7 2 1.0 1.9 .8 2 .9 1.9 1.0 2 .8 2 .3 1.9 -.1 2 -.3 1.9 -.4 2 -.2 1.9 .1 2 .1 1.9 .2 2 .2 1.9 .4 2 .4 1.9 .8 2 .9 2 1.4 1.9 1.3 2 .8 1.9 .2 2 -.3 1.9 -.5 2 -.7 1.9 -.8 2 -.8 1.9 -.8 2 -.7 1.9 -.6 2 -.4 2 -.2 1.9 -.3 2 -.5 1.9 -.8 2 -1.3 1.9 -1.6 2 -1.7 1.9 -1.4 2 -.8 1.9 .0 2 .9 2 1.4 1.9 1.3 2 1.0 1.9 .8 2 .7 1.9 .8 2 .7 1.9 .9 2 1.0 1.9 .9 2 .8 1.9 .4 2 .2 2 -.1 1.9 -.3 2 -.3 1.9 -.3 2 -.3 1.9 -.3 2 -.3 1.9 -.3 2 -.2 1.9 -.2 2 -.1 1.9 -.1 2 .0 2 -.1 1.9 -.3 2 -.7 1.9 -1.3 2 -1.8 1.9 -2.1 2 -1.8 1.9 -1.4 2 -.6 1.9 .0 2 .8 1.9 .7 2 .8"/><path d="M274.4,37.8l2 3.6 1.9 3.6 2 1.6 1.9 2.1 2 2.0 1.9 1.8 2 1.1 1.9 .3 2 -.5 1.9 -1.3 2 -1.8 1.9 -1.9 2 -1.8 2 -1.4 1.9 -.5 2 .8 1.9 1.6 2 2.2 1.9 2.2 2 1.8 1.9 1.5 2 1.2 1.9 .9 2 .9 1.9 .9 2 .9 2 .5 1.9 .2 2 .1 1.9 .0 2 .0 1.9 .1 2 .3 1.9 .2 2 .4 1.9 .3 2 .3 1.9 .4 2 .4 2 .3 1.9 .2 2 .5 1.9 .7 2 1.0 1.9 1.3 2 1.4 1.9 1.3 2 .9 1.9 .4 2 -.5 2 -1.5 1.9 -2.2 2 -2.4 1.9 -2.1 2 -1.5 1.9 -.9 2 -.4 1.9 .0 2 .3 1.9 .4 2 .5 1.9 .4 2 .1 2 -.1 1.9 -.5 2 -.7 1.9 -.6 2 -.5 1.9 -.5 2 -.5 1.9 -.5 2 -.5 1.9 -.3 2 -.1 1.9 .1 2 .3 2 .4 1.9 .3 2 .4 1.9 .6 2 .6 1.9 .6 2 .4 1.9 .4 2 .3 1.9 -.1 2 -.4 1.9 -1.3 2 -1.7"/><path d="M274.4,39.2l2 2.7 1.9 2.6 2 .6 1.9 1.4 2 1.9 1.9 2.1 2 1.9 1.9 1.3 2 .7 1.9 .5 2 .6 1.9 .8 2 1.0 2 1.0 1.9 .2 2 .1 1.9 -.2 2 -.6 1.9 -.9 2 -.9 1.9 -.9 2 -1.0 1.9 -1.0 2 -1.0 1.9 -.7 2 -.4 2 .1 1.9 .4 2 .6 1.9 .6 2 .5 1.9 .1 2 .0 1.9 -.3 2 -.5 1.9 -.8 2 -.8 1.9 -.7 2 -.4 2 .1 1.9 .4 2 .9 1.9 1.3 2 1.5 1.9 1.7 2 1.6 1.9 1.2 2 .8 1.9 .4 2 -.2 2 -.7 1.9 -.8 2 -.7 1.9 -.7 2 -.6 1.9 -.7 2 -.6 1.9 -.3 2 .1 1.9 .6 2 .9 1.9 1.3 2 1.3 2 1.3 1.9 .8 2 .4 1.9 -.1 2 -.4 1.9 -.5 2 -.6 1.9 -.8 2 -1.2 1.9 -1.2 2 -1.1 1.9 -.7 2 -.5 2 -.1 1.9 -.5 2 -1.0 1.9 -1.7 2 -1.9 1.9 -1.9 2 -1.3 1.9 -.6 2 .0 1.9 .5 2 .8 1.9 .6 2 .5"/><path d="M274.4,40.9l2 1.8 1.9 1.8 2 -.4 1.9 .2 2 .7 1.9 1.2 2 1.5 1.9 .9 2 .1 1.9 -.4 2 .0 1.9 .8 2 1.6 2 2.1 1.9 2.2 2 1.9 1.9 1.2 2 .3 1.9 .0 2 -.5 1.9 -.7 2 -.8 1.9 -1.1 2 -1.2 1.9 -1.3 2 -1.1 2 -.8 1.9 -.5 2 .0 1.9 .3 2 .4 1.9 .6 2 .6 1.9 .8 2 .9 1.9 1.2 2 1.6 1.9 1.8 2 1.5 2 1.3 1.9 1.1 2 .9 1.9 .8 2 .8 1.9 .6 2 .5 1.9 .3 2 .0 1.9 -.2 2 -.4 2 -.6 1.9 -.7 2 -.7 1.9 -.5 2 -.4 1.9 -.2 2 .3 1.9 .7 2 1.0 1.9 1.1 2 .8 1.9 .6 2 .0 2 -.5 1.9 -1.1 2 -1.2 1.9 -1.2 2 -.7 1.9 -.3 2 .2 1.9 .5 2 .6 1.9 .5 2 -.2 1.9 -.8 2 -1.5 2 -1.8 1.9 -1.6 2 -1.0 1.9 -1.3 2 -1.6 1.9 -1.6 2 -1.1 1.9 -.5 2 .2 1.9 .6 2 1.0 1.9 .9 2 .9"/><path d="M274.4,54.9l2 .3 1.9 .3 2 -.1 1.9 -.2 2 -.5 1.9 -.9 2 -1.2 1.9 -1.8 2 -3.0 1.9 -4.6 2 -5.2 1.9 -4.7 2 -3.1 2 -.7 1.9 1.7 2 3.6 1.9 4.1 2 3.9 1.9 3.1 2 1.8 1.9 1.1 2 .1 1.9 -.4 2 -.7 1.9 -.6 2 -.4 2 .0 1.9 .3 2 .6 1.9 .6 2 .6 1.9 .4 2 .2 1.9 -.1 2 -.4 1.9 -.9 2 -1.1 1.9 -1.2 2 -1.2 2 -.9 1.9 -.5 2 -.1 1.9 .3 2 .8 1.9 1.3 2 1.5 1.9 1.5 2 1.3 1.9 .9 2 .6 2 .3 1.9 -.1 2 -.5 1.9 -.9 2 -1.2 1.9 -1.4 2 -1.6 1.9 -1.5 2 -1.0 1.9 -.4 2 .3 1.9 1.2 2 2.0 2 2.5 1.9 2.5 2 2.1 1.9 1.6 2 1.0 1.9 .6 2 .5 1.9 .4 2 .5 1.9 .7 2 .9 1.9 1.3 2 1.3 2 1.2 1.9 .7 2 .2 1.9 -.2 2 -.4 1.9 -.2 2 .0 1.9 .1 2 .1 1.9 -.1 2 -.1 1.9 -.7 2 -1.3"/><path d="M274.4,48.5l2 .0 1.9 -.1 2 -1.4 1.9 -1.0 2 -.3 1.9 .5 2 .8 1.9 .1 2 -1.1 1.9 -2.9 2 -4.1 1.9 -4.7 2 -4.5 2 -2.7 1.9 .1 2 3.1 1.9 4.8 2 5.0 1.9 4.3 2 2.9 1.9 1.9 2 .9 1.9 .5 2 .4 1.9 .6 2 .9 2 1.3 1.9 1.4 2 1.4 1.9 1.3 2 1.3 1.9 1.1 2 1.0 1.9 .8 2 .8 1.9 .9 2 .9 1.9 1.1 2 .9 2 .6 1.9 .1 2 .0 1.9 .0 2 -.3 1.9 -.6 2 -1.2 1.9 -1.6 2 -2.1 1.9 -2.4 2 -2.1 2 -1.2 1.9 -.8 2 -.5 1.9 -.6 2 -.5 1.9 -.6 2 -.8 1.9 -.7 2 -.8 1.9 -.8 2 -.8 1.9 -.8 2 -.7 2 -.3 1.9 .1 2 .4 1.9 .4 2 .0 1.9 -.5 2 -.9 1.9 -.6 2 -.1 1.9 .5 2 1.1 1.9 1.4 2 1.4 2 1.3 1.9 .7 2 .0 1.9 -.4 2 -.2 1.9 .4 2 1.0 1.9 1.5 2 1.7 1.9 1.6 2 1.2 1.9 1.3 2 1.3"/><path d="M274.4,59.1l2 -.4 1.9 -.6 2 -.5 1.9 -.5 2 -.5 1.9 -.3 2 -.4 1.9 -.8 2 -1.7 1.9 -3.3 2 -4.8 1.9 -5.7 2 -5.5 2 -3.5 1.9 -.4 2 3.0 1.9 5.0 2 5.4 1.9 4.7 2 3.3 1.9 2.2 2 1.2 1.9 .7 2 .3 1.9 -.1 2 -.2 2 -.3 1.9 -.3 2 -.3 1.9 -.2 2 -.2 1.9 -.1 2 -.1 1.9 -.2 2 -.1 1.9 -.2 2 .1 1.9 .3 2 .7 2 .9 1.9 1.1 2 1.1 1.9 .9 2 .7 1.9 .8 2 .9 1.9 1.0 2 1.0 1.9 1.0 2 .8 2 .4 1.9 -.2 2 -.7 1.9 -1.2 2 -1.3 1.9 -1.3 2 -1.1 1.9 -1.1 2 -1.6 1.9 -1.7 2 -1.5 1.9 -1.2 2 -.6 2 .1 1.9 .5 2 .7 1.9 .7 2 .5 1.9 .4 2 .2 1.9 .5 2 .6 1.9 .7 2 .9 1.9 .9 2 1.2 2 1.2 1.9 .7 2 .4 1.9 .1 2 -.1 1.9 .0 2 .1 1.9 .1 2 -.1 1.9 -.2 2 -.5 1.9 -1.3 2 -1.8"/><path d="M274.4,62.7l2 -.9 1.9 -1.6 2 -2.4 1.9 -2.1 2 -2.1 1.9 -1.9 2 -1.4 1.9 -1.7 2 -2.5 1.9 -4.0 2 -4.5 1.9 -4.3 2 -3.3 2 -1.5 1.9 .9 2 3.4 1.9 5.0 2 5.4 1.9 4.7 2 3.6 1.9 2.5 2 1.7 1.9 1.2 2 1.0 1.9 1.1 2 1.1 2 .8 1.9 .5 2 .3 1.9 .1 2 .0 1.9 -.1 2 -.2 1.9 -.2 2 -.2 1.9 -.3 2 -.4 1.9 -.5 2 -.5 2 -.6 1.9 -.7 2 -.9 1.9 -.9 2 -.7 1.9 -.6 2 -.5 1.9 -.4 2 -.2 1.9 -.2 2 .0 2 .1 1.9 .1 2 -.2 1.9 -.3 2 -.5 1.9 -.6 2 -.8 1.9 -.8 2 -.6 1.9 -.5 2 -.4 1.9 -.2 2 .2 2 .4 1.9 .9 2 1.0 1.9 1.0 2 .8 1.9 .7 2 .7 1.9 1.0 2 1.1 1.9 .9 2 .8 1.9 .7 2 .5 2 .1 1.9 .1 2 .1 1.9 .1 2 .3 1.9 .6 2 .8 1.9 1.2 2 1.5 1.9 1.9 2 2.7 1.9 2.3 2 1.6"/><path d="M274.4,62.6l2 -.3 1.9 -1.0 2 -2.2 1.9 -2.2 2 -1.9 1.9 -1.5 2 -1.0 1.9 -.8 2 -1.1 1.9 -1.5 2 -1.1 1.9 -.4 2 .4 2 1.3 1.9 1.9 2 2.2 1.9 2.0 2 1.5 1.9 1.0 2 .7 1.9 .6 2 .5 1.9 .4 2 .2 1.9 .1 2 .0 2 .1 1.9 .0 2 .0 1.9 .1 2 .0 1.9 .0 2 -.1 1.9 -.4 2 -.7 1.9 -1.3 2 -2.3 1.9 -3.3 2 -4.0 2 -3.9 1.9 -3.5 2 -2.7 1.9 -1.8 2 -1.0 1.9 -.1 2 .8 1.9 2.0 2 3.1 1.9 4.0 2 4.1 2 3.5 1.9 2.5 2 1.5 1.9 1.1 2 .9 1.9 .4 2 .3 1.9 .4 2 .4 1.9 .5 2 .5 1.9 .5 2 .5 2 .4 1.9 .1 2 -.2 1.9 -.3 2 -.3 1.9 -.1 2 .4 1.9 .5 2 .7 1.9 .5 2 .1 1.9 -.4 2 -.7 2 -.9 1.9 -.8 2 -.6 1.9 -.3 2 .0 1.9 .3 2 .6 1.9 .8 2 1.2 1.9 1.4 2 2.0 1.9 1.6 2 1.0"/><path d="M274.4,60.8l2 .7 1.9 1.2 2 1.4 1.9 1.2 2 .8 1.9 -.1 2 -.9 1.9 -1.4 2 -1.6 1.9 -1.3 2 -.9 1.9 -.6 2 -.5 2 -.6 1.9 -2.1 2 -1.6 1.9 -.9 2 -.2 1.9 .3 2 .4 1.9 .4 2 .2 1.9 .2 2 .1 1.9 .1 2 .2 2 .0 1.9 .0 2 -.2 1.9 -.4 2 -.6 1.9 -.8 2 -1.0 1.9 -1.4 2 -1.6 1.9 -2.1 2 -2.4 1.9 -2.4 2 -2.4 2 -2.2 1.9 -2.0 2 -1.7 1.9 -.9 2 .1 1.9 1.2 2 2.4 1.9 3.4 2 4.1 1.9 4.4 2 4.1 2 3.3 1.9 2.5 2 2.7 1.9 1.6 2 .5 1.9 -.1 2 -.2 1.9 -.3 2 -.3 1.9 -.7 2 -1.0 1.9 -1.1 2 -1.2 2 -.9 1.9 -.6 2 -.2 1.9 .1 2 .1 1.9 .1 2 .2 1.9 .1 2 -.1 1.9 -.3 2 -.5 1.9 -.7 2 -.8 2 -.7 1.9 -.9 2 -1.6 1.9 -2.4 2 -2.8 1.9 -2.5 2 -1.6 1.9 -.5 2 .5 1.9 1.1 2 1.5 1.9 1.2 2 .8"/><path d="M274.4,62.9l2 -.1 1.9 .4 2 .3 1.9 .5 2 .6 1.9 .5 2 .1 1.9 -.5 2 -.9 1.9 -1.0 2 -.7 1.9 -.4 2 -.1 2 -.2 1.9 -.6 2 -.9 1.9 -1.4 2 -2.6 1.9 -1.9 2 -1.3 1.9 -.9 2 -1.0 1.9 -.8 2 -.9 1.9 -.5 2 .0 2 .5 1.9 1.0 2 1.3 1.9 1.4 2 1.2 1.9 1.0 2 .8 1.9 .4 2 -.2 1.9 -.9 2 -2.0 1.9 -2.9 2 -3.6 2 -4.0 1.9 -3.8 2 -3.1 1.9 -1.9 2 -.7 1.9 .7 2 1.8 1.9 2.6 2 3.1 1.9 3.6 2 3.6 2 3.2 1.9 2.4 2 1.6 1.9 1.3 2 .9 1.9 .7 2 .3 1.9 .1 2 -.1 1.9 -.3 2 -.4 1.9 -.4 2 -.4 2 -.1 1.9 .0 2 .0 1.9 .1 2 -.1 1.9 -.1 2 -.3 1.9 -.5 2 -.5 1.9 -.6 2 -.5 1.9 -.4 2 -.1 2 .1 1.9 -.1 2 -.3 1.9 -.4 2 .2 1.9 1.0 2 1.8 1.9 1.8 2 .8 1.9 .6 2 .4 1.9 -.4 2 -1.0"/><path d="M274.4,65.1l2 3.4 1.9 4.7 2 4.5 1.9 3.1 2 1.1 1.9 -1.0 2 -2.6 1.9 -3.9 2 -3.9 1.9 -3.1 2 -1.9 1.9 -.7 2 .0 2 .4 1.9 .4 2 .6 1.9 .7 2 .9 1.9 .8 2 .8 1.9 .8 2 .4 1.9 .2 2 -.2 1.9 -.7 2 -.8 2 -.9 1.9 -1.2 2 -1.3 1.9 -1.3 2 -1.2 1.9 -1.1 2 -1.2 1.9 -1.3 2 -1.7 1.9 -2.3 2 -3.1 1.9 -3.8 2 -3.9 2 -3.6 1.9 -3.1 2 -2.3 1.9 -1.4 2 -.5 1.9 .2 2 .9 1.9 1.6 2 2.3 1.9 2.9 2 3.4 2 3.2 1.9 2.4 2 1.5 1.9 .9 2 .3 1.9 -.1 2 -.6 1.9 -1.1 2 -1.5 1.9 -1.6 2 -1.6 1.9 -1.3 2 -.7 2 .1 1.9 .8 2 1.1 1.9 1.2 2 .6 1.9 .3 2 .4 1.9 .7 2 1.4 1.9 1.8 2 1.9 1.9 1.8 2 1.5 2 1.9 1.9 1.1 2 .3 1.9 -.2 2 -.6 1.9 -.6 2 -.7 1.9 -.9 2 -1.4 1.9 -2.2 2 -1.8 1.9 -1.6 2 -1.4"/><path d="M274.4,50.4l2 1.3 1.9 1.0 2 .2 1.9 .4 2 .7 1.9 .9 2 .9 1.9 .6 2 .6 1.9 .6 2 .7 1.9 .2 2 .3 2 .3 1.9 .2 2 .2 1.9 .0 2 -.3 1.9 -.5 2 -.9 1.9 -.8 2 -.9 1.9 -.8 2 -1.0 1.9 -.8 2 -.6 2 -.2 1.9 .1 2 .4 1.9 .7 2 .7 1.9 .7 2 .8 1.9 .9 2 .9 1.9 .9 2 .7 1.9 .6 2 .4 2 .1 1.9 -.1 2 -.5 1.9 -.6 2 -.8 1.9 -1.7 2 -1.9 1.9 -1.8 2 -1.4 1.9 -.8 2 -.1 2 .5 1.9 .4 2 .1 1.9 -.1 2 -.6 1.9 -1.0 2 -1.6 1.9 -2.0 2 -2.4 1.9 -2.5 2 -2.0 1.9 -1.0 2 .6 2 2.1 1.9 3.3 2 3.5 1.9 3.1 2 2.3 1.9 1.8 2 1.4 1.9 .9 2 .4 1.9 -.2 2 -.4 1.9 -.6 2 -.5 2 -.5 1.9 -.5 2 -1.0 1.9 -1.5 2 -1.8 1.9 -1.8 2 -1.5 1.9 -.8 2 -.2 1.9 .3 2 .7 1.9 .6 2 .4"/><path d="M274.4,46.0l2 1.1 1.9 1.3 2 .1 1.9 .9 2 1.5 1.9 1.7 2 1.5 1.9 1.0 2 .5 1.9 .3 2 .3 1.9 .3 2 .4 2 .4 1.9 .4 2 .2 1.9 .0 2 -.1 1.9 -.3 2 -.4 1.9 -.4 2 -.6 1.9 -.6 2 -.8 1.9 -.8 2 -.6 2 -.5 1.9 -.1 2 .2 1.9 .4 2 .4 1.9 .6 2 .6 1.9 .6 2 .7 1.9 .6 2 .7 1.9 .7 2 .4 2 .3 1.9 .2 2 .2 1.9 .2 2 .3 1.9 .5 2 .5 1.9 .7 2 .8 1.9 .9 2 .7 2 .3 1.9 -.3 2 -1.0 1.9 -1.5 2 -1.9 1.9 -2.0 2 -2.6 1.9 -3.5 2 -3.9 1.9 -4.0 2 -3.1 1.9 -1.8 2 .2 2 1.8 1.9 2.9 2 3.2 1.9 2.7 2 1.9 1.9 1.4 2 1.2 1.9 1.1 2 1.1 1.9 .9 2 .9 1.9 .8 2 1.0 2 1.0 1.9 .7 2 .6 1.9 .3 2 .3 1.9 .4 2 .6 1.9 .8 2 .9 1.9 .8 2 1.1 1.9 .0 2 -.8"/><path d="M274.4,70.4l2 1.7 1.9 1.8 2 .6 1.9 -.9 2 -2.0 1.9 -2.7 2 -2.8 1.9 -2.6 2 -2.0 1.9 -1.3 2 -.7 1.9 -.4 2 -.2 2 -.1 1.9 .0 2 .2 1.9 .4 2 .6 1.9 1.1 2 1.5 1.9 1.8 2 1.9 1.9 1.7 2 1.2 1.9 .5 2 -.3 2 -.8 1.9 -1.5 2 -1.9 1.9 -2.0 2 -1.7 1.9 -1.5 2 -1.3 1.9 -1.1 2 -1.0 1.9 -1.0 2 -.8 1.9 -.6 2 -.2 2 .3 1.9 .5 2 .8 1.9 1.0 2 .9 1.9 .9 2 .6 1.9 .5 2 .5 1.9 .3 2 .1 2 -.3 1.9 -.7 2 -1.1 1.9 -.8 2 -1.2 1.9 -1.6 2 -2.4 1.9 -2.8 2 -3.2 1.9 -3.1 2 -2.3 1.9 -.9 2 .9 2 2.5 1.9 3.4 2 3.4 1.9 3.0 2 2.3 1.9 1.8 2 1.4 1.9 1.0 2 .6 1.9 .1 2 -.7 1.9 -1.3 2 -1.1 2 -.9 1.9 -.9 2 -1.3 1.9 -2.0 2 -2.3 1.9 -2.1 2 -1.4 1.9 -.4 2 .6 1.9 1.2 2 1.8 1.9 1.5 2 1.5"/><path d="M274.4,56.7l2 -.6 1.9 -.4 2 -.6 1.9 -.2 2 .2 1.9 .8 2 1.0 1.9 1.1 2 1.0 1.9 .6 2 .3 1.9 .3 2 .3 2 .3 1.9 .2 2 .0 1.9 -.1 2 -.3 1.9 -.6 2 -.6 1.9 -.7 2 -.7 1.9 -.4 2 -.4 1.9 -.4 2 -.3 2 -.3 1.9 -.2 2 -.1 1.9 -.1 2 -.1 1.9 -.1 2 -.2 1.9 -.3 2 -.3 1.9 -.5 2 -.6 1.9 -.6 2 -.6 2 -.5 1.9 -.5 2 -.5 1.9 -.6 2 -.5 1.9 -.5 2 -.5 1.9 -.2 2 .0 1.9 .3 2 .7 2 .9 1.9 .6 2 .3 1.9 -.2 2 -.5 1.9 -.9 2 -1.5 1.9 -1.9 2 -2.2 1.9 -2.5 2 -2.0 1.9 -1.2 2 .2 2 1.5 1.9 2.3 2 2.4 1.9 2.1 2 1.4 1.9 1.0 2 1.0 1.9 1.4 2 1.8 1.9 1.7 2 1.5 1.9 1.1 2 .9 2 .6 1.9 .1 2 -.2 1.9 -.3 2 -.3 1.9 -.2 2 -.2 1.9 .0 2 .0 1.9 .3 2 .4 1.9 .8 2 .8"/><path d="M274.4,61.9l2 -1.2 1.9 -2.0 2 -2.2 1.9 -2.2 2 -1.8 1.9 -1.1 2 -.4 1.9 -.3 2 -.6 1.9 -.7 2 -.5 1.9 .3 2 .8 2 1.3 1.9 1.7 2 1.8 1.9 1.6 2 1.3 1.9 1.0 2 1.0 1.9 1.1 2 1.1 1.9 .9 2 .5 1.9 .0 2 -.4 2 -.6 1.9 -.8 2 -.8 1.9 -.7 2 -.4 1.9 -.2 2 -.1 1.9 .1 2 .0 1.9 .1 2 .0 1.9 -.1 2 -.2 2 -.2 1.9 -.3 2 -.3 1.9 -.2 2 -.3 1.9 -.1 2 .1 1.9 .1 2 .2 1.9 .3 2 .3 2 .2 1.9 .2 2 .0 1.9 .0 2 -.2 1.9 -.1 2 -.1 1.9 .0 2 .0 1.9 .1 2 .1 1.9 .1 2 -.2 2 -.5 1.9 -1.1 2 -1.5 1.9 -1.8 2 -2.2 1.9 -2.8 2 -3.2 1.9 -2.7 2 -1.3 1.9 .5 2 2.4 1.9 3.3 2 3.4 2 2.8 1.9 2.0 2 1.4 1.9 1.1 2 .5 1.9 .0 2 -.3 1.9 -.5 2 -1.1 1.9 -1.3 2 -.9 1.9 -.8 2 -.6"/><path d="M274.4,59.4l2 .1 1.9 .2 2 .0 1.9 -.1 2 -.2 1.9 -.2 2 -.4 1.9 -.3 2 -.3 1.9 -.5 2 -.9 1.9 -1.2 2 -1.5 2 -1.7 1.9 -1.3 2 -.8 1.9 .1 2 .7 1.9 1.0 2 .9 1.9 .9 2 .5 1.9 .4 2 .4 1.9 .2 2 .3 2 .1 1.9 .0 2 .0 1.9 -.1 2 -.3 1.9 -.4 2 -.5 1.9 -.6 2 -.9 1.9 -1.1 2 -1.2 1.9 -1.1 2 -.8 2 -.4 1.9 .1 2 .7 1.9 1.3 2 1.8 1.9 2.3 2 2.5 1.9 2.2 2 2.3 1.9 2.3 2 2.2 2 1.7 1.9 1.0 2 .2 1.9 -.4 2 -.7 1.9 -.7 2 -.2 1.9 .4 2 .7 1.9 .2 2 -.4 1.9 -1.2 2 -2.4 2 -3.3 1.9 -3.7 2 -3.1 1.9 -2.5 2 -2.3 1.9 -2.3 2 -2.3 1.9 -1.6 2 -.3 1.9 .7 2 1.8 1.9 2.1 2 2.3 2 1.9 1.9 1.1 2 .6 1.9 .2 2 .3 1.9 .7 2 .7 1.9 .7 2 .5 1.9 .3 2 .1 1.9 -.1 2 -.1"/><path d="M274.4,49.9l2 .0 1.9 .3 2 -.7 1.9 .1 2 .7 1.9 1.4 2 1.6 1.9 1.3 2 1.2 1.9 1.2 2 1.3 1.9 .4 2 .3 2 .2 1.9 .2 2 .1 1.9 .0 2 .1 1.9 .2 2 .4 1.9 .6 2 1.0 1.9 1.2 2 1.4 1.9 1.3 2 1.1 2 .9 1.9 .4 2 -.3 1.9 -.7 2 -.8 1.9 -.8 2 -.8 1.9 -.7 2 -.6 1.9 -.3 2 -.1 1.9 .1 2 .3 2 .4 1.9 .1 2 .2 1.9 .3 2 .2 1.9 .1 2 .0 1.9 -.2 2 -.2 1.9 -.1 2 .0 2 .0 1.9 -.1 2 -.2 1.9 -.4 2 -.6 1.9 -.6 2 -.4 1.9 -.4 2 -.5 1.9 -.9 2 -1.4 1.9 -2.0 2 -2.2 2 -1.9 1.9 -1.5 2 -1.0 1.9 -.6 2 -.9 1.9 -1.2 2 -1.5 1.9 -1.1 2 -.2 1.9 .7 2 1.8 1.9 2.4 2 2.4 2 2.2 1.9 1.5 2 1.1 1.9 1.0 2 .8 1.9 .2 2 .0 1.9 -.3 2 -.8 1.9 -1.0 2 -.9 1.9 -.8 2 -.6"/><path d="M274.4,58.7l2 -.9 1.9 -1.0 2 -1.3 1.9 -1.3 2 -1.1 1.9 -.7 2 -.3 1.9 -.3 2 -.8 1.9 -1.2 2 -1.2 1.9 -.9 2 -.5 2 .1 1.9 .5 2 1.2 1.9 1.5 2 1.7 1.9 1.5 2 1.2 1.9 1.0 2 .8 1.9 .9 2 1.3 1.9 1.9 2 1.8 2 1.6 1.9 1.1 2 .3 1.9 -.3 2 -.7 1.9 -.9 2 -1.1 1.9 -1.1 2 -1.2 1.9 -1.1 2 -1.1 1.9 -1.3 2 -1.2 2 -1.0 1.9 -.6 2 -.3 1.9 -.1 2 .1 1.9 .2 2 .2 1.9 .0 2 .0 1.9 -.2 2 -.1 2 -.1 1.9 -.1 2 -.3 1.9 -.5 2 -.5 1.9 -.7 2 -.7 1.9 -.5 2 -.4 1.9 -.5 2 -.5 1.9 -.7 2 -.6 2 -.4 1.9 -.1 2 .2 1.9 .2 2 -.2 1.9 -.8 2 -1.3 1.9 -1.1 2 -.6 1.9 -.1 2 .9 1.9 1.5 2 1.9 2 2.0 1.9 1.4 2 .8 1.9 .9 2 1.7 1.9 2.3 2 2.0 1.9 1.1 2 1.0 1.9 .9 2 1.1 1.9 .6 2 .2"/><path d="M274.4,48.7l2 .6 1.9 .8 2 -.1 1.9 .5 2 1.0 1.9 1.2 2 1.0 1.9 .5 2 -.2 1.9 -.9 2 -1.4 1.9 -1.8 2 -2.2 2 -2.0 1.9 -1.3 2 -.2 1.9 .9 2 1.8 1.9 2.1 2 1.9 1.9 1.8 2 1.4 1.9 1.5 2 1.6 1.9 2.4 2 2.9 2 2.6 1.9 1.7 2 .7 1.9 -.2 2 -.7 1.9 -1.0 2 -1.1 1.9 -1.2 2 -1.2 1.9 -1.0 2 -.8 1.9 -.6 2 -.5 2 -.3 1.9 -.2 2 -.1 1.9 -.3 2 -.4 1.9 -.6 2 -.4 1.9 -.2 2 .2 1.9 .6 2 .9 2 1.4 1.9 1.5 2 1.1 1.9 .6 2 .0 1.9 -.4 2 -.3 1.9 -.5 2 -.5 1.9 -1.0 2 -1.3 1.9 -1.5 2 -1.6 2 -1.2 1.9 -.8 2 -.5 1.9 -.3 2 -.6 1.9 -.8 2 -1.1 1.9 -1.1 2 -.7 1.9 -.4 2 .1 1.9 .4 2 .6 2 .5 1.9 -.3 2 -1.5 1.9 -3.0 2 -3.7 1.9 -3.8 2 -3.0 1.9 -1.8 2 -.3 1.9 .8 2 2.2 1.9 2.0 2 2.0"/><path d="M274.4,53.1l2 2.0 1.9 1.8 2 1.6 1.9 2.5 2 2.3 1.9 1.6 2 .7 1.9 -.4 2 -1.0 1.9 -1.1 2 -.8 1.9 -.2 2 .0 2 .1 1.9 -.1 2 -.3 1.9 -.6 2 -.9 1.9 -1.5 2 -1.7 1.9 -1.2 2 -1.2 1.9 -1.0 2 -.9 1.9 -.5 2 -.1 2 .4 1.9 .8 2 1.1 1.9 1.1 2 1.1 1.9 1.1 2 1.0 1.9 .9 2 .7 1.9 .5 2 .4 1.9 .2 2 .0 2 -.4 1.9 -.5 2 -.6 1.9 -.7 2 -.7 1.9 -1.0 2 -1.1 1.9 -.7 2 -.3 1.9 .2 2 .5 2 .7 1.9 .7 2 .6 1.9 .9 2 .6 1.9 .4 2 .3 1.9 .4 2 .5 1.9 .4 2 .4 1.9 .3 2 .2 2 .0 1.9 -.3 2 -.4 1.9 -.5 2 -.4 1.9 -.3 2 -.2 1.9 -.4 2 -.9 1.9 -1.6 2 -1.7 1.9 -1.6 2 -1.3 2 -1.0 1.9 -1.3 2 -2.2 1.9 -3.5 2 -4.1 1.9 -4.2 2 -3.5 1.9 -2.2 2 -.6 1.9 .9 2 2.4 1.9 2.3 2 2.3"/><path d="M274.4,58.3l2 .1 1.9 .3 2 .3 1.9 .3 2 .4 1.9 .2 2 .2 1.9 -.1 2 -.2 1.9 -.3 2 -.1 1.9 .0 2 .1 2 .1 1.9 .1 2 .1 1.9 .1 2 -.1 1.9 -.3 2 -.5 1.9 -.8 2 -.7 1.9 -.8 2 -.9 1.9 -1.1 2 -1.1 2 -.9 1.9 -.7 2 -.3 1.9 .1 2 .2 1.9 .4 2 .6 1.9 .5 2 .5 1.9 .3 2 .3 1.9 .1 2 -.1 2 -.3 1.9 -.3 2 -.2 1.9 -.1 2 .2 1.9 .6 2 .9 1.9 1.1 2 1.2 1.9 1.2 2 1.4 2 1.3 1.9 1.1 2 .6 1.9 .3 2 -.1 1.9 -.2 2 .1 1.9 .3 2 .5 1.9 .3 2 .0 1.9 -.2 2 -.7 2 -.9 1.9 -1.0 2 -1.0 1.9 -.6 2 -.4 1.9 -.1 2 .1 1.9 .1 2 -.2 1.9 -.6 2 -1.3 1.9 -1.3 2 -1.3 2 -1.1 1.9 -1.5 2 -2.3 1.9 -3.6 2 -4.3 1.9 -4.3 2 -3.3 1.9 -1.7 2 -.1 1.9 1.2 2 2.4 1.9 1.9 2 1.4"/><path d="M274.4,57.7l2 .2 1.9 -.1 2 -.2 1.9 -.4 2 -.4 1.9 -.3 2 -.1 1.9 -.2 2 -.2 1.9 -.4 2 -.2 1.9 -.1 2 .0 2 .1 1.9 .2 2 .1 1.9 .1 2 .0 1.9 .0 2 -.1 1.9 -.2 2 -.3 1.9 -.3 2 -.3 1.9 -.2 2 .0 2 .3 1.9 .4 2 .5 1.9 .4 2 .2 1.9 .2 2 -.1 1.9 -.2 2 -.4 1.9 -.7 2 -.9 1.9 -1.0 2 -1.1 2 -.9 1.9 -.7 2 -.3 1.9 .0 2 .4 1.9 .8 2 1.1 1.9 1.3 2 1.3 1.9 1.2 2 1.0 2 .7 1.9 .4 2 .4 1.9 .1 2 .0 1.9 -.1 2 -.1 1.9 -.1 2 -.1 1.9 -.1 2 .1 1.9 .3 2 .5 2 .8 1.9 .8 2 .7 1.9 .6 2 .6 1.9 .7 2 1.2 1.9 1.8 2 2.2 1.9 2.1 2 1.1 1.9 -.1 2 -1.8 2 -3.1 1.9 -3.8 2 -3.9 1.9 -3.4 2 -4.9 1.9 -6.1 2 -6.3 1.9 -5.0 2 -2.6 1.9 .1 2 2.8 1.9 3.7 2 4.2"/><path d="M274.4,68.3l2 4.7 1.9 5.7 2 4.3 1.9 1.2 2 -2.0 1.9 -4.9 2 -6.3 1.9 -5.9 2 -4.1 1.9 -2.4 2 -2.9 1.9 -3.3 2 -3.0 2 -2.1 1.9 -1.3 2 -.2 1.9 .7 2 1.1 1.9 1.3 2 1.0 1.9 .7 2 .3 1.9 .2 2 .0 1.9 .3 2 .6 2 .7 1.9 .9 2 .7 1.9 .6 2 .2 1.9 -.1 2 -.3 1.9 -.7 2 -1.0 1.9 -1.2 2 -1.4 1.9 -1.2 2 -.8 2 -.2 1.9 .5 2 1.2 1.9 1.8 2 2.5 1.9 2.8 2 2.5 1.9 2.4 2 2.5 1.9 2.4 2 1.8 2 .8 1.9 -.1 2 -1.2 1.9 -1.7 2 -1.8 1.9 -1.7 2 -1.2 1.9 -1.0 2 -1.1 1.9 -1.4 2 -1.9 1.9 -1.8 2 -1.6 2 -1.0 1.9 -.4 2 .1 1.9 .5 2 .3 1.9 .4 2 .5 1.9 1.0 2 1.4 1.9 1.6 2 1.8 1.9 2.3 2 2.1 2 1.5 1.9 .8 2 .1 1.9 -.4 2 -.4 1.9 -.2 2 .1 1.9 .3 2 .4 1.9 .3 2 .5 1.9 -.4 2 -1.2"/><path d="M274.4,67.8l2 4.8 1.9 5.9 2 4.5 1.9 1.9 2 -.7 1.9 -3.2 2 -4.5 1.9 -5.1 2 -4.4 1.9 -3.2 2 -2.0 1.9 -1.2 2 -.9 2 -.8 1.9 -1.5 2 -2.1 1.9 -1.0 2 .0 1.9 .7 2 .8 1.9 .9 2 .9 1.9 1.0 2 1.7 1.9 1.5 2 1.1 2 .8 1.9 .4 2 -.2 1.9 -.5 2 -.6 1.9 -.7 2 -.8 1.9 -.8 2 -.9 1.9 -1.1 2 -1.4 1.9 -2.0 2 -2.2 2 -2.2 1.9 -2.0 2 -1.5 1.9 -1.1 2 -.5 1.9 .2 2 .6 1.9 .9 2 1.2 1.9 1.2 2 1.3 2 1.1 1.9 .8 2 .5 1.9 .2 2 .3 1.9 .3 2 .5 1.9 .9 2 1.2 1.9 1.4 2 1.1 1.9 .9 2 .7 2 .1 1.9 -.4 2 -.7 1.9 -.7 2 -.7 1.9 -.6 2 -.7 1.9 -.8 2 -.6 1.9 -.4 2 -.2 1.9 .2 2 .3 2 .4 1.9 .3 2 .3 1.9 .3 2 .8 1.9 .9 2 .8 1.9 1.0 2 1.3 1.9 1.8 2 2.6 1.9 2.7 2 2.3"/><path d="M274.4,71.9l2 3.1 1.9 4.0 2 3.0 1.9 1.2 2 -1.0 1.9 -3.0 2 -4.3 1.9 -4.7 2 -3.9 1.9 -2.8 2 -1.7 1.9 -.9 2 -.6 2 -.5 1.9 -.6 2 -.7 1.9 -.8 2 -.4 1.9 .2 2 .5 1.9 .8 2 1.3 1.9 1.5 2 1.4 1.9 1.1 2 .6 2 .3 1.9 -.2 2 -.4 1.9 -.5 2 -.3 1.9 .0 2 .0 1.9 .3 2 .4 1.9 .4 2 .6 1.9 .6 2 .3 2 .1 1.9 -.4 2 -.5 1.9 -.6 2 -.7 1.9 -1.1 2 -1.4 1.9 -1.6 2 -1.7 1.9 -1.5 2 -.7 2 -.1 1.9 .2 2 .3 1.9 .3 2 .5 1.9 .6 2 .6 1.9 .6 2 .7 1.9 .7 2 .6 1.9 .6 2 .3 2 .2 1.9 .0 2 -.1 1.9 -.1 2 .1 1.9 .3 2 .8 1.9 1.2 2 1.3 1.9 1.0 2 .0 1.9 -1.0 2 -2.0 2 -2.4 1.9 -2.0 2 -1.3 1.9 -.7 2 -.2 1.9 .5 2 1.1 1.9 1.1 2 1.6 1.9 2.1 2 2.9 1.9 2.8 2 2.3"/><path d="M274.4,72.7l2 4.6 1.9 5.3 2 3.6 1.9 .6 2 -2.0 1.9 -4.4 2 -5.6 1.9 -5.7 2 -4.4 1.9 -2.9 2 -1.5 1.9 -.6 2 -.2 2 .3 1.9 .5 2 .9 1.9 1.0 2 1.0 1.9 .8 2 .2 1.9 -.3 2 -1.0 1.9 -1.5 2 -1.8 1.9 -1.6 2 -.9 2 -.7 1.9 -.5 2 -.2 1.9 -.1 2 .0 1.9 .1 2 .0 1.9 .1 2 .0 1.9 .1 2 .2 1.9 .3 2 .5 2 .6 1.9 .7 2 .5 1.9 .5 2 .5 1.9 .6 2 .7 1.9 .7 2 .8 1.9 .7 2 .8 2 .5 1.9 .3 2 .0 1.9 -.2 2 -.2 1.9 -.2 2 .3 1.9 .7 2 1.1 1.9 1.1 2 .8 1.9 .4 2 -.2 2 -1.0 1.9 -1.7 2 -2.1 1.9 -1.9 2 -1.5 1.9 -1.3 2 -1.3 1.9 -1.6 2 -1.5 1.9 -1.2 2 -.8 1.9 -.3 2 .0 2 .4 1.9 .0 2 -.4 1.9 -.8 2 -.3 1.9 .4 2 1.3 1.9 2.0 2 2.2 1.9 1.6 2 1.3 1.9 1.2 2 1.0"/><path d="M274.4,54.4l2 2.0 1.9 2.2 2 3.5 1.9 3.8 2 3.1 1.9 1.8 2 .0 1.9 -1.6 2 -2.2 1.9 -2.0 2 -1.3 1.9 -.4 2 .2 2 .7 1.9 .8 2 1.2 1.9 1.8 2 2.3 1.9 2.6 2 2.9 1.9 2.9 2 2.5 1.9 1.7 2 .2 1.9 -1.3 2 -2.5 2 -3.1 1.9 -3.8 2 -4.0 1.9 -3.7 2 -3.1 1.9 -2.6 2 -1.9 1.9 -1.6 2 -1.5 1.9 -1.1 2 -.7 1.9 -.1 2 .7 2 1.2 1.9 1.5 2 1.4 1.9 1.1 2 .4 1.9 .1 2 -.2 1.9 -.4 2 -.6 1.9 -.4 2 -.1 2 .1 1.9 .2 2 .2 1.9 .2 2 .1 1.9 .1 2 .1 1.9 .0 2 -.1 1.9 -.1 2 -.2 1.9 -.3 2 -.3 2 -.3 1.9 -.2 2 -.1 1.9 -.2 2 -.2 1.9 -.4 2 -.6 1.9 -.5 2 -.3 1.9 .0 2 .4 1.9 .5 2 .7 2 .7 1.9 .6 2 .5 1.9 .8 2 .8 1.9 .6 2 .6 1.9 .6 2 .5 1.9 .4 2 .4 1.9 -.1 2 -.7"/><path d="M274.4,58.7l2 -.2 1.9 -.4 2 -.6 1.9 -.7 2 -.8 1.9 -.9 2 -.7 1.9 -.8 2 -1.1 1.9 -1.3 2 -.9 1.9 .3 2 1.8 2 3.3 1.9 3.1 2 1.8 1.9 2.2 2 2.6 1.9 2.7 2 2.9 1.9 3.0 2 2.8 1.9 2.4 2 1.3 1.9 .1 2 -1.0 2 -1.5 1.9 -2.2 2 -2.3 1.9 -2.4 2 -2.0 1.9 -1.7 2 -1.7 1.9 -1.5 2 -1.5 1.9 -1.5 2 -1.3 1.9 -1.1 2 -1.1 2 -1.0 1.9 -.4 2 .1 1.9 .8 2 1.1 1.9 1.1 2 1.3 1.9 1.3 2 1.0 1.9 .6 2 -.3 2 -1.1 1.9 -1.7 2 -1.9 1.9 -1.2 2 -1.1 1.9 -1.0 2 -.9 1.9 -.8 2 -.4 1.9 .0 2 .3 1.9 .6 2 .8 2 .9 1.9 .8 2 .7 1.9 .5 2 .3 1.9 .3 2 .2 1.9 .2 2 .2 1.9 .2 2 .1 1.9 .0 2 -.2 2 -.2 1.9 -.2 2 -.2 1.9 -.2 2 -.1 1.9 -.1 2 -.2 1.9 -.1 2 -.1 1.9 .0 2 .1 1.9 .0 2 .1"/><path d="M274.4,42.9l2 1.2 1.9 1.2 2 -.9 1.9 -.2 2 .5 1.9 1.3 2 1.7 1.9 1.4 2 .7 1.9 .7 2 1.5 1.9 2.6 2 3.5 2 1.3 1.9 1.6 2 1.9 1.9 2.3 2 2.7 1.9 3.0 2 3.2 1.9 3.4 2 3.1 1.9 2.4 2 1.0 1.9 -.8 2 -2.4 2 -3.3 1.9 -4.0 2 -4.1 1.9 -3.5 2 -2.5 1.9 -1.7 2 -1.1 1.9 -.5 2 -.1 1.9 .2 2 .3 1.9 .6 2 .6 2 .4 1.9 .2 2 .1 1.9 -.1 2 -.3 1.9 -.7 2 -1.0 1.9 -1.3 2 -1.7 1.9 -1.4 2 -.8 2 -.2 1.9 .0 2 .2 1.9 .2 2 .4 1.9 .7 2 1.0 1.9 1.2 2 1.4 1.9 1.5 2 1.5 1.9 1.4 2 1.0 2 .4 1.9 -.3 2 -.7 1.9 -.9 2 -.8 1.9 -.3 2 .1 1.9 .5 2 .6 1.9 .4 2 -.1 1.9 -.6 2 -1.2 2 -1.5 1.9 -1.5 2 -1.3 1.9 -1.0 2 -1.4 1.9 -1.4 2 -1.1 1.9 -.4 2 .6 1.9 1.5 2 2.0 1.9 2.1 2 2.4"/><path d="M274.4,46.1l2 1.7 1.9 1.5 2 -.1 1.9 .4 2 .7 1.9 1.0 2 1.0 1.9 .7 2 .3 1.9 .1 2 .4 1.9 1.0 2 1.6 2 2.0 1.9 .8 2 1.1 1.9 1.5 2 2.0 1.9 2.4 2 2.9 1.9 3.4 2 3.5 1.9 3.2 2 2.0 1.9 .4 2 -1.3 2 -2.2 1.9 -3.2 2 -3.4 1.9 -3.2 2 -2.6 1.9 -2.1 2 -1.7 1.9 -1.4 2 -1.2 1.9 -1.2 2 -1.4 1.9 -1.5 2 -1.5 2 -1.2 1.9 -.9 2 -.5 1.9 .0 2 .4 1.9 .9 2 1.3 1.9 1.4 2 1.4 1.9 1.2 2 1.0 2 .8 1.9 .5 2 .1 1.9 -.3 2 -.4 1.9 -.6 2 -.6 1.9 -.8 2 -1.1 1.9 -1.2 2 -1.3 1.9 -1.1 2 -.8 2 -.5 1.9 .0 2 .3 1.9 .2 2 .0 1.9 -.3 2 -.5 1.9 -.4 2 .1 1.9 .4 2 .8 1.9 1.0 2 .9 2 .8 1.9 .2 2 -.3 1.9 -1.0 2 -1.6 1.9 -2.1 2 -2.3 1.9 -2.1 2 -1.7 1.9 -1.0 2 -.2 1.9 -.2 2 -.1"/><path d="M274.4,61.9l2 .4 1.9 .4 2 -.2 1.9 -.5 2 -.7 1.9 -.5 2 -.3 1.9 -.1 2 -.1 1.9 .0 2 .2 1.9 .4 2 .7 2 1.1 1.9 1.1 2 1.2 1.9 1.2 2 .9 1.9 .5 2 -.1 1.9 -.7 2 -1.2 1.9 -1.6 2 -1.6 1.9 -1.3 2 -.8 2 -.5 1.9 -.2 2 -.3 1.9 -.4 2 -.5 1.9 -.7 2 -.9 1.9 -1.1 2 -1.4 1.9 -1.7 2 -1.8 1.9 -1.5 2 -.9 2 .1 1.9 1.2 2 2.4 1.9 3.6 2 3.8 1.9 3.4 2 4.1 1.9 4.5 2 4.3 1.9 3.6 2 2.0 2 -.2 1.9 -2.1 2 -3.7 1.9 -4.1 2 -3.7 1.9 -2.9 2 -1.9 1.9 -1.2 2 -.8 1.9 -.5 2 -.1 1.9 .2 2 .7 2 .7 1.9 .5 2 .1 1.9 -.3 2 -.4 1.9 -.5 2 -.3 1.9 -.4 2 -.7 1.9 -1.3 2 -1.2 1.9 -.9 2 -.8 2 -.4 1.9 -.6 2 -1.0 1.9 -1.5 2 -1.6 1.9 -1.3 2 -.5 1.9 .5 2 1.2 1.9 1.8 2 2.0 1.9 1.8 2 1.8"/><path d="M274.4,61.6l2 1.0 1.9 1.1 2 .7 1.9 -.1 2 -.8 1.9 -1.2 2 -1.4 1.9 -1.3 2 -1.1 1.9 -1.2 2 -2.0 1.9 -2.7 2 -3.2 2 -3.4 1.9 -3.0 2 -1.7 1.9 -.4 2 .9 1.9 1.6 2 1.4 1.9 1.2 2 .5 1.9 .3 2 .3 1.9 1.0 2 1.6 2 2.2 1.9 2.4 2 2.2 1.9 1.8 2 1.6 1.9 .8 2 .4 1.9 .0 2 -.2 1.9 -.3 2 -.3 1.9 -.1 2 .0 2 .2 1.9 .5 2 .7 1.9 1.2 2 1.7 1.9 2.2 2 2.7 1.9 3.3 2 3.3 1.9 3.0 2 1.9 2 .0 1.9 -1.8 2 -3.3 1.9 -3.8 2 -3.5 1.9 -2.8 2 -1.7 1.9 -1.1 2 -.6 1.9 -.5 2 -.5 1.9 -.5 2 -.5 2 -.6 1.9 -.6 2 -.4 1.9 -.1 2 .0 1.9 .1 2 .3 1.9 .6 2 .8 1.9 1.1 2 1.0 1.9 .8 2 .4 2 -.2 1.9 -.6 2 -1.0 1.9 -1.0 2 -.9 1.9 -.7 2 -.7 1.9 -.9 2 -1.3 1.9 -.9 2 -.5 1.9 -.3 2 -.1"/><path d="M274.4,58.7l2 -.7 1.9 -.6 2 -.6 1.9 -.5 2 -.2 1.9 .1 2 .3 1.9 .2 2 .2 1.9 .0 2 -.2 1.9 -.6 2 -1.1 2 -1.4 1.9 -1.5 2 -1.0 1.9 -.2 2 .4 1.9 1.0 2 .9 1.9 .9 2 .7 1.9 .6 2 .4 1.9 .4 2 .2 2 .1 1.9 .0 2 -.1 1.9 -.2 2 -.3 1.9 -.2 2 -.3 1.9 -.2 2 -.2 1.9 .0 2 .4 1.9 1.0 2 1.6 2 1.5 1.9 1.5 2 1.7 1.9 1.8 2 2.1 1.9 2.3 2 2.4 1.9 2.4 2 2.2 1.9 1.6 2 .8 2 -.6 1.9 -1.7 2 -2.8 1.9 -3.2 2 -3.1 1.9 -2.7 2 -2.0 1.9 -1.7 2 -1.8 1.9 -2.2 2 -2.3 1.9 -1.9 2 -1.4 2 -.6 1.9 .1 2 .4 1.9 .6 2 .3 1.9 .0 2 -.1 1.9 .2 2 .6 1.9 .9 2 1.1 1.9 1.2 2 1.1 2 .9 1.9 .9 2 1.1 1.9 .7 2 .4 1.9 .4 2 .5 1.9 .5 2 .8 1.9 .8 2 1.1 1.9 .7 2 .3"/><path d="M274.4,57.3l2 .2 1.9 .3 2 .5 1.9 .9 2 .8 1.9 .5 2 .1 1.9 -.4 2 -.4 1.9 -.4 2 -.3 1.9 .0 2 .0 2 .1 1.9 .1 2 .1 1.9 .0 2 -.2 1.9 -.5 2 -.8 1.9 -.7 2 -.8 1.9 -.8 2 -.9 1.9 -.6 2 -.5 2 -.1 1.9 .1 2 .4 1.9 .4 2 .3 1.9 .2 2 .2 1.9 -.1 2 -.2 1.9 -.6 2 -.7 1.9 -.8 2 -.8 2 -.6 1.9 .0 2 .9 1.9 2.2 2 3.6 1.9 3.4 2 4.4 1.9 5.1 2 4.8 1.9 3.4 2 1.0 2 -1.7 1.9 -3.3 2 -4.0 1.9 -3.5 2 -2.6 1.9 -1.8 2 -1.0 1.9 -.5 2 -.2 1.9 -.2 2 .0 1.9 .1 2 .3 2 .3 1.9 .3 2 .0 1.9 -.1 2 -.2 1.9 .0 2 .3 1.9 .5 2 .6 1.9 .6 2 .4 1.9 .2 2 -.2 2 -.2 1.9 -.4 2 -.4 1.9 -.4 2 -.2 1.9 .2 2 .4 1.9 .9 2 1.1 1.9 1.4 2 2.0 1.9 1.6 2 .8"/><path d="M274.4,60.6l2 .5 1.9 .7 2 .5 1.9 .2 2 -.1 1.9 -.3 2 -.5 1.9 -.6 2 -.6 1.9 -.4 2 -.3 1.9 .0 2 .2 2 .3 1.9 .4 2 .4 1.9 .4 2 .3 1.9 .3 2 .1 1.9 .1 2 -.1 1.9 .0 2 .0 1.9 .2 2 .3 2 .5 1.9 .5 2 .3 1.9 .2 2 .2 1.9 .1 2 .1 1.9 .2 2 .1 1.9 .3 2 .3 1.9 .4 2 .2 2 .0 1.9 -.2 2 -.3 1.9 -.2 2 -.1 1.9 -.2 2 -.3 1.9 -.3 2 -.1 1.9 .1 2 .4 2 .6 1.9 .7 2 .6 1.9 .3 2 .1 1.9 .0 2 .6 1.9 1.2 2 2.1 1.9 2.1 2 1.8 1.9 1.5 2 .5 2 -.8 1.9 -2.0 2 -2.7 1.9 -2.8 2 -2.1 1.9 -1.4 2 -.4 1.9 .1 2 .4 1.9 .2 2 -.1 1.9 -.6 2 -1.1 2 -1.3 1.9 -1.3 2 -1.1 1.9 -.8 2 -.5 1.9 -.2 2 -.3 1.9 -.1 2 -.1 1.9 .0 2 .2 1.9 .1 2 .1"/><path d="M274.4,50.2l2 1.7 1.9 1.5 2 .8 1.9 .9 2 .7 1.9 .4 2 -.1 1.9 -.7 2 -1.2 1.9 -2.0 2 -2.4 1.9 -2.1 2 -1.4 2 -.2 1.9 .9 2 1.8 1.9 2.1 2 1.8 1.9 1.2 2 .7 1.9 .3 2 -.2 1.9 -.4 2 -.7 1.9 -.6 2 -.4 2 -.2 1.9 .2 2 .4 1.9 .8 2 .8 1.9 .9 2 1.0 1.9 .9 2 1.0 1.9 .8 2 .5 1.9 .4 2 .1 2 -.2 1.9 -.2 2 -.3 1.9 -.1 2 .0 1.9 .0 2 .2 1.9 .2 2 .3 1.9 .2 2 .1 2 .1 1.9 .2 2 .4 1.9 .7 2 .9 1.9 .9 2 1.4 1.9 1.9 2 2.7 1.9 2.7 2 2.4 1.9 1.8 2 .5 2 -1.4 1.9 -3.2 2 -4.2 1.9 -4.1 2 -3.2 1.9 -2.3 2 -1.9 1.9 -1.4 2 -.7 1.9 .0 2 .6 1.9 .8 2 .8 2 .8 1.9 .6 2 .8 1.9 .5 2 .3 1.9 .2 2 .2 1.9 .0 2 -.1 1.9 -.3 2 -.8 1.9 -1.3 2 -1.6"/><path d="M274.4,64.8l2 1.2 1.9 1.0 2 .1 1.9 -.8 2 -1.2 1.9 -1.3 2 -1.0 1.9 -.8 2 -.6 1.9 -.5 2 -.2 1.9 .2 2 .4 2 .5 1.9 .4 2 .4 1.9 .2 2 -.1 1.9 -.5 2 -1.0 1.9 -1.4 2 -1.7 1.9 -1.1 2 -1.0 1.9 -.9 2 -.6 2 -.3 1.9 .0 2 .4 1.9 .6 2 .7 1.9 .7 2 .8 1.9 .8 2 .9 1.9 .7 2 .7 1.9 .5 2 .4 2 .1 1.9 -.2 2 -.3 1.9 -.5 2 -.5 1.9 -.5 2 -.6 1.9 -.4 2 .1 1.9 .6 2 1.4 2 1.9 1.9 2.0 2 1.6 1.9 1.0 2 .3 1.9 .0 2 .5 1.9 1.0 2 1.8 1.9 1.8 2 1.6 1.9 1.3 2 .3 2 -.7 1.9 -1.9 2 -2.5 1.9 -2.5 2 -2.1 1.9 -1.4 2 -.6 1.9 -.4 2 -.2 1.9 -.5 2 -.7 1.9 -.8 2 -.7 2 -.6 1.9 -.4 2 -.2 1.9 -.2 2 .0 1.9 .1 2 .2 1.9 .4 2 .6 1.9 .9 2 1.3 1.9 1.4 2 1.3"/><path d="M274.4,57.0l2 .8 1.9 .3 2 -.1 1.9 -.5 2 -.9 1.9 -1.0 2 -1.0 1.9 -1.2 2 -1.6 1.9 -2.3 2 -2.4 1.9 -1.7 2 -.7 2 .7 1.9 2.0 2 2.8 1.9 2.9 2 2.4 1.9 1.7 2 1.2 1.9 1.1 2 1.2 1.9 1.2 2 1.2 1.9 1.0 2 1.0 2 .8 1.9 .3 2 .0 1.9 -.5 2 -.7 1.9 -.7 2 -.7 1.9 -.7 2 -.7 1.9 -.6 2 -.5 1.9 -.3 2 -.3 2 -.2 1.9 -.2 2 -.2 1.9 -.1 2 .0 1.9 -.1 2 .0 1.9 .0 2 .1 1.9 .4 2 .5 2 .5 1.9 .5 2 .2 1.9 .0 2 -.1 1.9 .0 2 .6 1.9 1.3 2 2.3 1.9 3.1 2 3.1 1.9 2.3 2 .4 2 -2.0 1.9 -3.9 2 -4.3 1.9 -3.6 2 -2.4 1.9 -1.7 2 -1.4 1.9 -.8 2 -.4 1.9 .2 2 .6 1.9 .8 2 1.0 2 .9 1.9 1.3 2 1.2 1.9 .9 2 .7 1.9 .6 2 .7 1.9 .8 2 .8 1.9 .8 2 1.0 1.9 .1 2 -.9"/><path d="M274.4,56.2l2 .0 1.9 .0 2 -.3 1.9 -.3 2 -.2 1.9 .0 2 .0 1.9 .0 2 -.3 1.9 -.6 2 -.7 1.9 -.5 2 -.5 2 -.3 1.9 -.1 2 .2 1.9 .4 2 .5 1.9 .5 2 .4 1.9 .3 2 .0 1.9 -.1 2 .0 1.9 .0 2 .3 2 .4 1.9 .5 2 .7 1.9 .6 2 .6 1.9 .6 2 .6 1.9 .5 2 .5 1.9 .5 2 .5 1.9 .4 2 .4 2 .1 1.9 .0 2 -.1 1.9 -.1 2 -.2 1.9 -.4 2 -.5 1.9 -.7 2 -.9 1.9 -.9 2 -.7 2 -.5 1.9 -.2 2 -.3 1.9 -.3 2 -.4 1.9 -.4 2 -.4 1.9 -.3 2 -.1 1.9 .4 2 .9 1.9 1.3 2 1.8 2 2.0 1.9 2.0 2 1.6 1.9 1.0 2 .7 1.9 .7 2 1.6 1.9 2.3 2 3.1 1.9 3.0 2 2.3 1.9 1.3 2 -.4 2 -1.6 1.9 -2.8 2 -3.4 1.9 -3.4 2 -3.0 1.9 -2.3 2 -2.0 1.9 -1.9 2 -2.4 1.9 -3.2 2 -2.0 1.9 -1.1 2 -.5"/><path d="M274.4,54.0l2 1.1 1.9 .9 2 .4 1.9 .5 2 .3 1.9 .0 2 -.2 1.9 -.4 2 -.7 1.9 -1.1 2 -1.2 1.9 -.9 2 -.2 2 .5 1.9 1.3 2 1.7 1.9 1.7 2 1.1 1.9 1.0 2 .9 1.9 .8 2 .4 1.9 -.1 2 -.7 1.9 -1.3 2 -1.5 2 -1.1 1.9 -1.1 2 -.9 1.9 -.7 2 -.5 1.9 -.3 2 -.1 1.9 -.1 2 -.2 1.9 -.1 2 -.1 1.9 .0 2 .2 2 .4 1.9 .7 2 1.1 1.9 1.3 2 1.6 1.9 1.2 2 1.5 1.9 1.6 2 1.7 1.9 1.4 2 1.1 2 .3 1.9 -.4 2 -.9 1.9 -1.2 2 -1.0 1.9 -.8 2 -.4 1.9 .1 2 .3 1.9 .4 2 .4 1.9 .3 2 .2 2 .0 1.9 .0 2 -.1 1.9 -.1 2 .2 1.9 .6 2 1.5 1.9 2.2 2 3.1 1.9 3.3 2 2.6 1.9 1.4 2 -.3 2 -1.7 1.9 -2.7 2 -3.2 1.9 -2.8 2 -2.2 1.9 -1.5 2 -.8 1.9 -.6 2 -.5 1.9 -.7 2 -1.0 1.9 -1.6 2 -2.1"/><path d="M274.4,59.4l2 .1 1.9 -.2 2 -.6 1.9 -.7 2 -.5 1.9 -.1 2 .1 1.9 .4 2 .5 1.9 .4 2 .2 1.9 .2 2 .2 2 .2 1.9 .0 2 .0 1.9 -.1 2 -.2 1.9 -.3 2 -.4 1.9 -.5 2 -.5 1.9 -.6 2 -.8 1.9 -1.0 2 -1.1 2 -1.0 1.9 -.7 2 -.2 1.9 .2 2 .5 1.9 .9 2 1.2 1.9 1.5 2 1.7 1.9 1.6 2 1.5 1.9 1.3 2 1.0 2 .7 1.9 .4 2 .5 1.9 .6 2 .9 1.9 1.2 2 1.4 1.9 1.4 2 1.5 1.9 1.1 2 .7 2 -.2 1.9 -1.0 2 -1.8 1.9 -2.1 2 -2.0 1.9 -1.7 2 -1.0 1.9 -.4 2 -.2 1.9 -.1 2 -.1 1.9 -.1 2 .0 2 .0 1.9 -.1 2 -.1 1.9 .0 2 .2 1.9 .6 2 1.4 1.9 2.3 2 3.1 1.9 3.5 2 3.0 1.9 1.9 2 -.1 2 -1.5 1.9 -2.9 2 -3.4 1.9 -3.1 2 -2.4 1.9 -1.6 2 -1.0 1.9 -.6 2 -.4 1.9 -.3 2 .0 1.9 -.3 2 -.4"/><path d="M274.4,54.3l2 -.5 1.9 -.3 2 -.9 1.9 -.5 2 -.1 1.9 .5 2 .8 1.9 .7 2 .4 1.9 .2 2 .3 1.9 .2 2 .0 2 -.2 1.9 -.5 2 -.4 1.9 -.1 2 .2 1.9 .5 2 .6 1.9 .6 2 .7 1.9 .8 2 1.0 1.9 2.1 2 2.0 2 1.8 1.9 1.1 2 .1 1.9 -.6 2 -1.1 1.9 -1.5 2 -1.7 1.9 -1.8 2 -1.9 1.9 -2.1 2 -2.1 1.9 -1.8 2 -1.1 2 -.3 1.9 .6 2 1.4 1.9 2.1 2 2.6 1.9 2.6 2 2.3 1.9 2.6 2 2.8 1.9 2.7 2 2.4 2 1.5 1.9 .3 2 -.9 1.9 -1.6 2 -1.8 1.9 -1.9 2 -1.1 1.9 -.7 2 -.4 1.9 -.5 2 -.5 1.9 -.2 2 -.1 2 .2 1.9 .2 2 .3 1.9 .2 2 .3 1.9 .7 2 1.7 1.9 2.6 2 3.5 1.9 3.7 2 2.7 1.9 1.1 2 -1.2 2 -2.6 1.9 -3.7 2 -4.0 1.9 -3.4 2 -2.7 1.9 -1.9 2 -1.4 1.9 -1.2 2 -1.6 1.9 -1.1 2 -.2 1.9 .3 2 .7"/><path d="M274.4,56.5l2 .7 1.9 .5 2 .4 1.9 .5 2 .6 1.9 .5 2 .4 1.9 .2 2 .1 1.9 .0 2 .1 1.9 .4 2 .9 2 1.2 1.9 1.4 2 1.6 1.9 1.9 2 1.9 1.9 1.6 2 1.2 1.9 .7 2 -.3 1.9 -1.5 2 -2.5 1.9 -3.3 2 -3.4 2 -3.1 1.9 -2.1 2 -1.3 1.9 -.9 2 -.3 1.9 .0 2 .4 1.9 .6 2 .9 1.9 1.1 2 1.2 1.9 1.0 2 .9 2 .7 1.9 .4 2 .3 1.9 .2 2 .2 1.9 .2 2 .0 1.9 .0 2 -.2 1.9 -.3 2 -.5 2 -.8 1.9 -.9 2 -1.0 1.9 -1.0 2 -.8 1.9 -1.0 2 -1.3 1.9 -1.5 2 -1.3 1.9 -.9 2 -.3 1.9 .6 2 1.4 2 1.9 1.9 2.0 2 1.8 1.9 1.3 2 .9 1.9 .6 2 .6 1.9 .7 2 .7 1.9 .4 2 -.2 1.9 -.5 2 -.9 2 -.6 1.9 -.4 2 .1 1.9 .5 2 .8 1.9 1.2 2 1.7 1.9 2.2 2 2.7 1.9 3.2 2 4.2 1.9 3.3 2 1.9"/><path d="M274.4,49.4l2 .6 1.9 .4 2 -.6 1.9 -.2 2 .6 1.9 1.4 2 1.8 1.9 1.7 2 1.8 1.9 1.7 2 .7 1.9 .4 2 .3 2 .1 1.9 -.1 2 -.4 1.9 -.5 2 -.5 1.9 -.5 2 -.2 1.9 .2 2 .2 1.9 .6 2 .5 1.9 .3 2 -.1 2 -.2 1.9 -.4 2 -.4 1.9 -.2 2 -.1 1.9 .1 2 .2 1.9 .5 2 .5 1.9 .6 2 .7 1.9 .8 2 .6 2 .4 1.9 .1 2 -.2 1.9 -.3 2 -.7 1.9 -1.1 2 -1.5 1.9 -2.2 2 -2.2 1.9 -1.6 2 -.8 2 -.2 1.9 .1 2 .1 1.9 -.1 2 -.1 1.9 -.1 2 -.1 1.9 .3 2 .6 1.9 1.0 2 1.2 1.9 1.3 2 1.1 2 .9 1.9 .4 2 .1 1.9 -.3 2 -.5 1.9 -.7 2 -.9 1.9 -.9 2 -.4 1.9 .0 2 .8 1.9 1.2 2 1.6 2 2.6 1.9 2.1 2 1.2 1.9 .3 2 .0 1.9 .1 2 .4 1.9 1.1 2 1.9 1.9 2.9 2 4.5 1.9 4.1 2 2.7"/><path d="M274.4,51.8l2 .2 1.9 .1 2 -1.1 1.9 -1.0 2 -.6 1.9 -.1 2 .2 1.9 -.1 2 -.8 1.9 -1.6 2 -1.5 1.9 -1.1 2 -.6 2 .1 1.9 .8 2 1.7 1.9 2.1 2 2.1 1.9 1.8 2 1.4 1.9 1.1 2 .7 1.9 .6 2 .4 1.9 .5 2 .5 2 .5 1.9 .6 2 .6 1.9 .5 2 .4 1.9 .3 2 .3 1.9 .3 2 .1 1.9 .0 2 -.2 1.9 -.3 2 -.5 2 -.8 1.9 -.8 2 -1.0 1.9 -1.3 2 -1.1 1.9 -.8 2 -.4 1.9 .0 2 .4 1.9 .8 2 .9 2 .9 1.9 .7 2 .6 1.9 .6 2 .3 1.9 .1 2 -.1 1.9 .0 2 .0 1.9 -.1 2 .1 1.9 .2 2 .3 2 .4 1.9 .4 2 .2 1.9 .0 2 -.1 1.9 .0 2 .2 1.9 .4 2 .6 1.9 .9 2 .9 1.9 1.2 2 .9 2 .8 1.9 .3 2 -.1 1.9 -.4 2 -.2 1.9 .1 2 .8 1.9 1.5 2 2.0 1.9 2.8 2 3.9 1.9 3.0 2 1.5"/><path d="M274.4,50.8l2 .2 1.9 .3 2 -.6 1.9 -.2 2 .2 1.9 .6 2 .7 1.9 .4 2 -.1 1.9 -.5 2 -.3 1.9 .1 2 .6 2 1.0 1.9 1.3 2 1.4 1.9 1.2 2 .8 1.9 .5 2 .3 1.9 .3 2 .3 1.9 .2 2 .4 1.9 .4 2 .4 2 .4 1.9 .3 2 .1 1.9 -.1 2 -.3 1.9 -.4 2 -.4 1.9 -.6 2 -.5 1.9 -.6 2 -.6 1.9 -.8 2 -.7 2 -.4 1.9 .0 2 .4 1.9 .8 2 1.2 1.9 1.1 2 1.4 1.9 1.6 2 1.6 1.9 1.3 2 .8 2 .1 1.9 -.8 2 -1.4 1.9 -1.5 2 -1.5 1.9 -1.2 2 -.8 1.9 -.6 2 -.6 1.9 -.4 2 .0 1.9 .3 2 .7 2 .8 1.9 .8 2 .6 1.9 .2 2 .0 1.9 .0 2 .1 1.9 .2 2 .1 1.9 .0 2 -.1 1.9 -.2 2 .0 2 .2 1.9 .5 2 .6 1.9 .7 2 .7 1.9 1.0 2 1.4 1.9 2.1 2 2.6 1.9 3.1 2 4.3 1.9 3.2 2 1.6"/></g>
<g fill="none" stroke="#00cdcd" stroke-width="0.8" stroke-linejoin="round"><path d="M503.3,96.7l2 -.7 1.9 -.8 2 -.7 1.9 -.6 2 -.7 1.9 -.7 2 -.7 1.9 -.7 2 -.8 2 -.7 1.9 -.8 2 -.9 1.9 -.8 2 -.8 1.9 -.9 2 -.9 1.9 -.9 2 -.9 1.9 -.8 2 -.9 2 -.9 1.9 -.9 2 -.9 1.9 -.9 2 -1.0 1.9 -1.0 2 -1.1 1.9 -1.1 2 -1.1 2 -1.1 1.9 -1.1 2 -1.2 1.9 -1.2 2 -1.0 1.9 -1.0 2 -.9 1.9 -.8 2 -.7 1.9 -.7 2 -.6 2 -.6 1.9 -.6 2 -.6 1.9 -.6 2 -.8 1.9 -.7 2 -.9 1.9 -.9 2 -.9 2 -1.0 1.9 -1.0 2 -1.0 1.9 -1.0 2 -1.0 1.9 -1.0 2 -1.1 1.9 -1.0 2 -1.0 1.9 -.9 2 -.8 2 -.8 1.9 -.8 2 -.7 1.9 -.7 2 -.7 1.9 -.8 2 -.7 1.9 -.7 2 -.8 2 -.7 1.9 -.7 2 -.8 1.9 -.8 2 -.8 1.9 -.9 2 -.9 1.9 -1.0 2 -.9 1.9 -1.0 2 -1.1 2 -1.0 1.9 -.9 2 -1.0 1.9 -.8 2 -.8 1.9 -.7 2 -.6 1.9 -.5 2 -.3"/><path d="M503.3,101.1l2 -.6 1.9 -1.0 2 -.9 1.9 -1.0 2 -1.1 1.9 -1.1 2 -1.1 1.9 -1.2 2 -1.2 2 -1.1 1.9 -1.1 2 -1.1 1.9 -.9 2 -1.0 1.9 -.9 2 -.8 1.9 -1.0 2 -.9 1.9 -1.0 2 -1.0 2 -1.1 1.9 -1.1 2 -1.1 1.9 -1.1 2 -1.0 1.9 -1.0 2 -1.0 1.9 -.9 2 -.9 2 -.8 1.9 -.8 2 -.8 1.9 -.7 2 -.6 1.9 -.7 2 -.6 1.9 -.5 2 -.6 1.9 -.5 2 -.6 2 -.7 1.9 -.7 2 -.8 1.9 -.9 2 -.9 1.9 -1.0 2 -1.1 1.9 -1.1 2 -1.2 2 -1.1 1.9 -1.1 2 -1.1 1.9 -1.0 2 -1.0 1.9 -1.0 2 -1.0 1.9 -.9 2 -.8 1.9 -.9 2 -.8 2 -.7 1.9 -.7 2 -.7 1.9 -.7 2 -.7 1.9 -.7 2 -.7 1.9 -.8 2 -.9 2 -.8 1.9 -.9 2 -.9 1.9 -.9 2 -.9 1.9 -.8 2 -.9 1.9 -.8 2 -.8 1.9 -.8 2 -.9 2 -.8 1.9 -.9 2 -.8 1.9 -.8 2 -.9 1.9 -1.0 2 -1.1 1.9 -1.2 2 -1.3"/><path d="M503.3,94.7l2 -.5 1.9 -.6 2 -.5 1.9 -.6 2 -.6 1.9 -.7 2 -.8 1.9 -.8 2 -.8 2 -.9 1.9 -.9 2 -.9 1.9 -.9 2 -.9 1.9 -1.0 2 -.9 1.9 -.9 2 -.9 1.9 -.9 2 -.8 2 -.9 1.9 -.8 2 -.7 1.9 -.7 2 -.7 1.9 -.7 2 -.7 1.9 -.7 2 -.8 2 -.8 1.9 -.9 2 -.9 1.9 -1.0 2 -1.0 1.9 -1.1 2 -1.2 1.9 -1.2 2 -1.2 1.9 -1.0 2 -1.1 2 -.9 1.9 -.8 2 -.7 1.9 -.6 2 -.6 1.9 -.6 2 -.6 1.9 -.6 2 -.8 2 -.8 1.9 -1.0 2 -1.0 1.9 -1.2 2 -1.2 1.9 -1.2 2 -1.2 1.9 -1.0 2 -1.0 1.9 -.8 2 -.7 2 -.7 1.9 -.6 2 -.6 1.9 -.8 2 -.8 1.9 -1.0 2 -1.1 1.9 -1.2 2 -1.3 2 -1.4 1.9 -1.4 2 -1.3 1.9 -1.2 2 -1.0 1.9 -.9 2 -.8 1.9 -.6 2 -.4 1.9 -.4 2 -.3 2 -.3 1.9 -.3 2 -.3 1.9 -.5 2 -.5 1.9 -.6 2 -.7 1.9 -.9 2 -.9"/><path d="M503.3,97.6l2 -.8 1.9 -.9 2 -.8 1.9 -.8 2 -.9 1.9 -.9 2 -1.0 1.9 -1.0 2 -1.0 2 -1.0 1.9 -1.1 2 -1.0 1.9 -1.1 2 -1.0 1.9 -.9 2 -.9 1.9 -.9 2 -.7 1.9 -.7 2 -.7 2 -.6 1.9 -.5 2 -.7 1.9 -.6 2 -.7 1.9 -.8 2 -.8 1.9 -.9 2 -.9 2 -.8 1.9 -.9 2 -.8 1.9 -.9 2 -.8 1.9 -.8 2 -.8 1.9 -.9 2 -.8 1.9 -.9 2 -.8 2 -.8 1.9 -.8 2 -.8 1.9 -.8 2 -.7 1.9 -.8 2 -.7 1.9 -.8 2 -.8 2 -.9 1.9 -.9 2 -.9 1.9 -.9 2 -1.0 1.9 -.9 2 -1.0 1.9 -1.0 2 -1.0 1.9 -1.0 2 -1.1 2 -1.0 1.9 -1.0 2 -1.0 1.9 -1.1 2 -1.0 1.9 -1.0 2 -1.0 1.9 -1.0 2 -1.0 2 -1.0 1.9 -.8 2 -.7 1.9 -.7 2 -.6 1.9 -.6 2 -.5 1.9 -.5 2 -.5 1.9 -.6 2 -.6 2 -.7 1.9 -.7 2 -.7 1.9 -.7 2 -.7 1.9 -.8 2 -.8 1.9 -1.0 2 -1.0"/><path d="M503.3,95.3l2 -1.1 1.9 -1.1 2 -1.1 1.9 -1.0 2 -.9 1.9 -.9 2 -.7 1.9 -.8 2 -.6 2 -.7 1.9 -.7 2 -.8 1.9 -.7 2 -.7 1.9 -.7 2 -.7 1.9 -.7 2 -.7 1.9 -.7 2 -.8 2 -.7 1.9 -.8 2 -.9 1.9 -.8 2 -.9 1.9 -.9 2 -1.0 1.9 -1.0 2 -1.0 2 -1.1 1.9 -1.2 2 -1.1 1.9 -1.2 2 -1.1 1.9 -1.0 2 -.9 1.9 -.8 2 -.7 1.9 -.7 2 -.6 2 -.6 1.9 -.5 2 -.7 1.9 -.6 2 -.8 1.9 -.7 2 -.9 1.9 -.9 2 -.9 2 -1.0 1.9 -.9 2 -1.1 1.9 -1.0 2 -1.0 1.9 -.9 2 -1.0 1.9 -.8 2 -.9 1.9 -.8 2 -.7 2 -.7 1.9 -.7 2 -.7 1.9 -.7 2 -.7 1.9 -.8 2 -.7 1.9 -.8 2 -.7 2 -.8 1.9 -.8 2 -.8 1.9 -.8 2 -.9 1.9 -.8 2 -1.0 1.9 -.9 2 -1.0 1.9 -.9 2 -1.0 2 -.9 1.9 -1.0 2 -1.0 1.9 -1.0 2 -1.0 1.9 -1.2 2 -1.2 1.9 -1.2 2 -1.2"/><path d="M503.3,95.0l2 -.7 1.9 -.7 2 -.7 1.9 -.7 2 -.8 1.9 -.8 2 -.9 1.9 -.9 2 -.9 2 -.9 1.9 -.9 2 -.9 1.9 -1.0 2 -.9 1.9 -.8 2 -.8 1.9 -.9 2 -.8 1.9 -.8 2 -.8 2 -.9 1.9 -.8 2 -.7 1.9 -.8 2 -.6 1.9 -.6 2 -.6 1.9 -.7 2 -.7 2 -.7 1.9 -.8 2 -.9 1.9 -.9 2 -.9 1.9 -.9 2 -.8 1.9 -.8 2 -.7 1.9 -.7 2 -.6 2 -.6 1.9 -.5 2 -.6 1.9 -.7 2 -.7 1.9 -.8 2 -.8 1.9 -1.0 2 -.9 2 -1.1 1.9 -1.0 2 -1.1 1.9 -1.1 2 -1.1 1.9 -1.0 2 -1.0 1.9 -1.0 2 -.9 1.9 -.9 2 -1.0 2 -.9 1.9 -1.0 2 -1.0 1.9 -1.0 2 -1.2 1.9 -1.5 2 -1.4 1.9 -1.5 2 -1.5 2 -1.3 1.9 -1.2 2 -1.1 1.9 -.8 2 -.7 1.9 -.5 2 -.3 1.9 -.3 2 -.2 1.9 -.2 2 -.3 2 -.5 1.9 -.7 2 -.7 1.9 -.8 2 -.8 1.9 -.9 2 -.9 1.9 -1.0 2 -1.1"/><path d="M503.3,96.0l2 -1.0 1.9 -1.0 2 -1.0 1.9 -1.0 2 -.9 1.9 -.9 2 -.8 1.9 -.8 2 -.8 2 -.7 1.9 -.7 2 -.8 1.9 -.7 2 -.6 1.9 -.7 2 -.6 1.9 -.6 2 -.8 1.9 -.7 2 -.9 2 -.9 1.9 -1.0 2 -.9 1.9 -1.0 2 -1.0 1.9 -.9 2 -.9 1.9 -.9 2 -.8 2 -.8 1.9 -.8 2 -.8 1.9 -.7 2 -.8 1.9 -.7 2 -.9 1.9 -.8 2 -.9 1.9 -.9 2 -1.0 2 -1.0 1.9 -.9 2 -.9 1.9 -.9 2 -.9 1.9 -.8 2 -.9 1.9 -.9 2 -.9 2 -1.0 1.9 -1.0 2 -1.2 1.9 -1.2 2 -1.2 1.9 -1.2 2 -1.1 1.9 -1.0 2 -.9 1.9 -.9 2 -.7 2 -.7 1.9 -.6 2 -.7 1.9 -.6 2 -.7 1.9 -.7 2 -.6 1.9 -.7 2 -.6 2 -.8 1.9 -.8 2 -.7 1.9 -.8 2 -.8 1.9 -.8 2 -.8 1.9 -.8 2 -.8 1.9 -.7 2 -.7 2 -.7 1.9 -.5 2 -.6 1.9 -.4 2 -.4 1.9 -.4 2 -.5 1.9 -.6 2 -.5"/><path d="M503.3,98.4l2 -.7 1.9 -.8 2 -.7 1.9 -.8 2 -.8 1.9 -.9 2 -1.0 1.9 -1.0 2 -1.2 2 -1.2 1.9 -1.1 2 -1.0 1.9 -1.0 2 -.9 1.9 -.9 2 -.8 1.9 -.8 2 -.9 1.9 -.9 2 -1.0 2 -1.0 1.9 -1.0 2 -1.0 1.9 -1.0 2 -1.0 1.9 -.8 2 -.9 1.9 -.7 2 -.7 2 -.7 1.9 -.6 2 -.6 1.9 -.7 2 -.7 1.9 -.7 2 -.9 1.9 -1.0 2 -1.0 1.9 -1.2 2 -1.2 2 -1.3 1.9 -1.2 2 -1.3 1.9 -1.1 2 -1.2 1.9 -1.1 2 -1.0 1.9 -.9 2 -.8 2 -.8 1.9 -.6 2 -.6 1.9 -.5 2 -.5 1.9 -.4 2 -.7 1.9 -.7 2 -.8 1.9 -.8 2 -.7 2 -.9 1.9 -.8 2 -.8 1.9 -.8 2 -.8 1.9 -.9 2 -.8 1.9 -.8 2 -.8 2 -.8 1.9 -.8 2 -.9 1.9 -.9 2 -1.0 1.9 -1.0 2 -1.0 1.9 -1.1 2 -1.0 1.9 -1.0 2 -.9 2 -.9 1.9 -.8 2 -.7 1.9 -.7 2 -.6 1.9 -.6 2 -.6 1.9 -.7 2 -.7"/><path d="M503.3,97.7l2 -1.2 1.9 -1.3 2 -1.4 1.9 -1.3 2 -1.1 1.9 -1.0 2 -1.0 1.9 -.8 2 -.8 2 -.7 1.9 -.8 2 -.9 1.9 -.9 2 -.9 1.9 -.9 2 -1.0 1.9 -.9 2 -.9 1.9 -.9 2 -.9 2 -.8 1.9 -.7 2 -.7 1.9 -.6 2 -.6 1.9 -.6 2 -.7 1.9 -.7 2 -.7 2 -.8 1.9 -.8 2 -.8 1.9 -.8 2 -.9 1.9 -.9 2 -.8 1.9 -.9 2 -.9 1.9 -.8 2 -.9 2 -.9 1.9 -.9 2 -.9 1.9 -.9 2 -.9 1.9 -.9 2 -1.0 1.9 -.9 2 -.9 2 -.8 1.9 -.9 2 -.8 1.9 -.9 2 -.8 1.9 -.8 2 -.8 1.9 -.8 2 -.9 1.9 -.8 2 -.8 2 -.7 1.9 -.8 2 -.7 1.9 -.7 2 -.8 1.9 -.7 2 -.8 1.9 -.9 2 -.9 2 -.9 1.9 -1.0 2 -1.0 1.9 -1.1 2 -1.2 1.9 -1.2 2 -1.4 1.9 -1.4 2 -1.2 1.9 -1.1 2 -.9 2 -.8 1.9 -.6 2 -.5 1.9 -.4 2 -.4 1.9 -.4 2 -.4 1.9 -.4 2 -.4"/><path d="M503.3,98.1l2 -.6 1.9 -.7 2 -.9 1.9 -1.0 2 -1.0 1.9 -1.0 2 -1.0 1.9 -.9 2 -.8 2 -.8 1.9 -.8 2 -.7 1.9 -.7 2 -.7 1.9 -.8 2 -.8 1.9 -.9 2 -1.0 1.9 -1.0 2 -1.2 2 -1.2 1.9 -1.2 2 -1.2 1.9 -1.2 2 -1.1 1.9 -1.0 2 -1.0 1.9 -.9 2 -.8 2 -.8 1.9 -.8 2 -.8 1.9 -.7 2 -.8 1.9 -.8 2 -.8 1.9 -.8 2 -.7 1.9 -.8 2 -.8 2 -.8 1.9 -.8 2 -.9 1.9 -.9 2 -1.0 1.9 -.9 2 -1.0 1.9 -.9 2 -.9 2 -.9 1.9 -.8 2 -.8 1.9 -.8 2 -.8 1.9 -.8 2 -.8 1.9 -.8 2 -.8 1.9 -.9 2 -.8 2 -.8 1.9 -.8 2 -.7 1.9 -.8 2 -.7 1.9 -.7 2 -.8 1.9 -.8 2 -.8 2 -.8 1.9 -.9 2 -1.0 1.9 -1.0 2 -1.1 1.9 -1.1 2 -1.2 1.9 -1.1 2 -1.3 1.9 -1.2 2 -1.0 2 -.9 1.9 -.8 2 -.8 1.9 -.6 2 -.7 1.9 -.7 2 -.7 1.9 -.8 2 -.9"/><path d="M503.3,96.2l2 -1.1 1.9 -1.0 2 -1.0 1.9 -1.0 2 -.9 1.9 -.9 2 -.8 1.9 -.7 2 -.7 2 -.8 1.9 -.7 2 -.8 1.9 -.8 2 -.9 1.9 -.8 2 -.9 1.9 -.9 2 -.9 1.9 -.9 2 -.9 2 -1.0 1.9 -1.0 2 -1.1 1.9 -1.1 2 -1.1 1.9 -1.1 2 -1.2 1.9 -1.1 2 -1.1 2 -1.0 1.9 -.9 2 -.9 1.9 -.8 2 -.8 1.9 -.7 2 -.7 1.9 -.7 2 -.7 1.9 -.7 2 -.6 2 -.7 1.9 -.6 2 -.7 1.9 -.7 2 -.6 1.9 -.7 2 -.6 1.9 -.6 2 -.7 2 -.6 1.9 -.8 2 -.7 1.9 -.9 2 -.9 1.9 -1.0 2 -1.0 1.9 -1.1 2 -1.3 1.9 -1.6 2 -1.5 2 -1.5 1.9 -1.4 2 -1.2 1.9 -1.1 2 -.9 1.9 -.8 2 -.8 1.9 -.6 2 -.6 2 -.6 1.9 -.6 2 -.6 1.9 -.7 2 -.7 1.9 -.8 2 -.9 1.9 -.9 2 -1.0 1.9 -1.0 2 -.9 2 -1.0 1.9 -1.0 2 -1.0 1.9 -1.1 2 -1.1 1.9 -1.0 2 -1.1 1.9 -1.1 2 -.8"/><path d="M503.3,95.0l2 -.6 1.9 -.5 2 -.4 1.9 -.6 2 -.5 1.9 -.7 2 -.9 1.9 -.9 2 -1.1 2 -1.0 1.9 -1.1 2 -1.0 1.9 -1.0 2 -1.1 1.9 -1.0 2 -.9 1.9 -1.0 2 -.9 1.9 -1.0 2 -1.0 2 -1.0 1.9 -1.1 2 -1.0 1.9 -1.2 2 -1.1 1.9 -1.2 2 -1.1 1.9 -1.1 2 -1.0 2 -.9 1.9 -.8 2 -.8 1.9 -.7 2 -.7 1.9 -.5 2 -.5 1.9 -.4 2 -.3 1.9 -.3 2 -.3 2 -.3 1.9 -.4 2 -.5 1.9 -.5 2 -.6 1.9 -.7 2 -.8 1.9 -1.0 2 -1.0 2 -1.0 1.9 -1.2 2 -1.1 1.9 -1.1 2 -1.1 1.9 -1.0 2 -.9 1.9 -.9 2 -.8 1.9 -.8 2 -.7 2 -.8 1.9 -.8 2 -.9 1.9 -.9 2 -1.0 1.9 -.9 2 -1.0 1.9 -1.1 2 -1.1 2 -1.0 1.9 -1.0 2 -.8 1.9 -.7 2 -.5 1.9 -.6 2 -.6 1.9 -.5 2 -.4 1.9 -.5 2 -.5 2 -.6 1.9 -.6 2 -.6 1.9 -.6 2 -.6 1.9 -.8 2 -.8 1.9 -1.1 2 -1.1"/><path d="M503.3,96.9l2 -.7 1.9 -.6 2 -.6 1.9 -.7 2 -.6 1.9 -.6 2 -.7 1.9 -.7 2 -.8 2 -.9 1.9 -.8 2 -1.0 1.9 -.9 2 -1.0 1.9 -1.1 2 -1.0 1.9 -1.0 2 -1.0 1.9 -.9 2 -.9 2 -.8 1.9 -.8 2 -.7 1.9 -.8 2 -.7 1.9 -.8 2 -.8 1.9 -.8 2 -.9 2 -1.0 1.9 -1.0 2 -1.1 1.9 -1.1 2 -1.1 1.9 -1.2 2 -1.1 1.9 -1.1 2 -1.0 1.9 -1.0 2 -.9 2 -.9 1.9 -.9 2 -.8 1.9 -.9 2 -.8 1.9 -.9 2 -.8 1.9 -.8 2 -.8 2 -.7 1.9 -.6 2 -.7 1.9 -.7 2 -.7 1.9 -.8 2 -.7 1.9 -.8 2 -.8 1.9 -.9 2 -.8 2 -.8 1.9 -.9 2 -.8 1.9 -.8 2 -.9 1.9 -.8 2 -.8 1.9 -.9 2 -.9 2 -.8 1.9 -.9 2 -1.0 1.9 -.9 2 -1.0 1.9 -.9 2 -1.0 1.9 -1.0 2 -1.0 1.9 -.9 2 -.9 2 -.9 1.9 -.8 2 -.8 1.9 -.8 2 -.8 1.9 -.8 2 -.9 1.9 -1.0 2 -1.0"/><path d="M503.3,97.4l2 -.7 1.9 -.9 2 -1.1 1.9 -1.1 2 -1.1 1.9 -1.1 2 -1.0 1.9 -.9 2 -.8 2 -.8 1.9 -.8 2 -.8 1.9 -.7 2 -.7 1.9 -.7 2 -.8 1.9 -.7 2 -.7 1.9 -.6 2 -.7 2 -.7 1.9 -.7 2 -.7 1.9 -.8 2 -.9 1.9 -.9 2 -.9 1.9 -1.1 2 -1.0 2 -1.1 1.9 -1.1 2 -1.1 1.9 -1.1 2 -1.1 1.9 -1.0 2 -1.0 1.9 -1.0 2 -.9 1.9 -.8 2 -.8 2 -.8 1.9 -.8 2 -.7 1.9 -.8 2 -.8 1.9 -.9 2 -.8 1.9 -.8 2 -.9 2 -.8 1.9 -.9 2 -.9 1.9 -.9 2 -.9 1.9 -.9 2 -1.0 1.9 -1.1 2 -1.2 1.9 -1.1 2 -1.1 2 -1.0 1.9 -.8 2 -.7 1.9 -.5 2 -.4 1.9 -.5 2 -.6 1.9 -.5 2 -.5 2 -.6 1.9 -.5 2 -.7 1.9 -.7 2 -.7 1.9 -.8 2 -.8 1.9 -.8 2 -.9 1.9 -.8 2 -.8 2 -.8 1.9 -.7 2 -.6 1.9 -.5 2 -.4 1.9 -.4 2 -.4 1.9 -.4 2 -.3"/><path d="M503.3,96.5l2 -.3 1.9 -.4 2 -.4 1.9 -.5 2 -.7 1.9 -.7 2 -.8 1.9 -.9 2 -1.0 2 -1.0 1.9 -1.1 2 -1.2 1.9 -1.2 2 -1.2 1.9 -1.3 2 -1.2 1.9 -1.1 2 -1.1 1.9 -1.0 2 -1.0 2 -.9 1.9 -.8 2 -.8 1.9 -.8 2 -.7 1.9 -.7 2 -.8 1.9 -.7 2 -.8 2 -.8 1.9 -.8 2 -.8 1.9 -.8 2 -.9 1.9 -.8 2 -.9 1.9 -.8 2 -.9 1.9 -.9 2 -.9 2 -.9 1.9 -1.0 2 -.9 1.9 -1.0 2 -1.0 1.9 -1.0 2 -1.1 1.9 -1.0 2 -1.0 2 -1.0 1.9 -1.0 2 -.9 1.9 -.9 2 -.8 1.9 -.8 2 -.7 1.9 -.8 2 -.6 1.9 -.6 2 -.6 2 -.5 1.9 -.7 2 -.7 1.9 -.7 2 -.7 1.9 -.8 2 -.8 1.9 -.9 2 -.9 2 -.9 1.9 -1.0 2 -1.0 1.9 -.9 2 -.9 1.9 -.9 2 -.8 1.9 -.9 2 -.8 1.9 -.9 2 -.9 2 -.9 1.9 -1.0 2 -1.0 1.9 -1.0 2 -1.0 1.9 -.8 2 -.6 1.9 -.6 2 -.4"/><path d="M503.3,95.7l2 -1.2 1.9 -1.3 2 -1.4 1.9 -1.2 2 -1.2 1.9 -1.0 2 -.8 1.9 -.7 2 -.7 2 -.7 1.9 -.8 2 -.8 1.9 -.8 2 -.8 1.9 -.7 2 -.7 1.9 -.7 2 -.8 1.9 -.8 2 -.9 2 -.9 1.9 -1.0 2 -1.1 1.9 -1.0 2 -.9 1.9 -.9 2 -.8 1.9 -.7 2 -.5 2 -.4 1.9 -.3 2 -.3 1.9 -.4 2 -.5 1.9 -.6 2 -.7 1.9 -.7 2 -1.0 1.9 -1.0 2 -1.1 2 -1.2 1.9 -1.2 2 -1.2 1.9 -1.1 2 -1.1 1.9 -1.0 2 -1.0 1.9 -1.0 2 -1.0 2 -.9 1.9 -.9 2 -.8 1.9 -.8 2 -.8 1.9 -.8 2 -.6 1.9 -.7 2 -.6 1.9 -.6 2 -.6 2 -.8 1.9 -.9 2 -.8 1.9 -.9 2 -.9 1.9 -1.1 2 -1.1 1.9 -1.0 2 -1.1 2 -1.1 1.9 -1.1 2 -1.1 1.9 -1.1 2 -1.1 1.9 -1.2 2 -1.1 1.9 -1.2 2 -1.0 1.9 -1.0 2 -.9 2 -.9 1.9 -.8 2 -.8 1.9 -.8 2 -.8 1.9 -.8 2 -.8 1.9 -.8 2 -.6"/><path d="M503.3,96.9l2 -.7 1.9 -.6 2 -.8 1.9 -.9 2 -1.0 1.9 -1.2 2 -1.2 1.9 -1.3 2 -1.2 2 -1.2 1.9 -1.2 2 -1.2 1.9 -1.2 2 -1.1 1.9 -1.0 2 -1.0 1.9 -1.0 2 -.9 1.9 -1.0 2 -.9 2 -1.0 1.9 -.9 2 -.9 1.9 -.9 2 -.9 1.9 -.9 2 -.9 1.9 -.8 2 -.7 2 -.7 1.9 -.6 2 -.7 1.9 -.7 2 -.7 1.9 -.7 2 -.7 1.9 -.7 2 -.7 1.9 -.8 2 -.8 2 -.8 1.9 -.7 2 -.8 1.9 -.8 2 -.8 1.9 -.8 2 -.9 1.9 -.8 2 -.9 2 -.8 1.9 -.9 2 -.9 1.9 -.9 2 -.9 1.9 -1.0 2 -1.0 1.9 -1.1 2 -1.1 1.9 -1.2 2 -1.2 2 -1.2 1.9 -1.3 2 -1.2 1.9 -1.2 2 -1.1 1.9 -1.1 2 -1.0 1.9 -.8 2 -.8 2 -.8 1.9 -.6 2 -.6 1.9 -.6 2 -.5 1.9 -.5 2 -.5 1.9 -.5 2 -.6 1.9 -.5 2 -.6 2 -.6 1.9 -.6 2 -.7 1.9 -.7 2 -.7 1.9 -.8 2 -.7 1.9 -.8 2 -.8"/><path d="M503.3,96.7l2 -.7 1.9 -.6 2 -.7 1.9 -.6 2 -.7 1.9 -.7 2 -.7 1.9 -.8 2 -.7 2 -.8 1.9 -.9 2 -.9 1.9 -.9 2 -1.0 1.9 -1.1 2 -1.1 1.9 -1.1 2 -1.1 1.9 -1.2 2 -1.1 2 -1.0 1.9 -1.1 2 -1.0 1.9 -.9 2 -.8 1.9 -.8 2 -.7 1.9 -.7 2 -.6 2 -.8 1.9 -.7 2 -.7 1.9 -.8 2 -.8 1.9 -.9 2 -.8 1.9 -.9 2 -.8 1.9 -.9 2 -.9 2 -.9 1.9 -.9 2 -.8 1.9 -.9 2 -.9 1.9 -.8 2 -.8 1.9 -.8 2 -.7 2 -.8 1.9 -.6 2 -.7 1.9 -.7 2 -.8 1.9 -.8 2 -.9 1.9 -.9 2 -.9 1.9 -1.0 2 -.9 2 -1.0 1.9 -.9 2 -.9 1.9 -.9 2 -1.0 1.9 -.9 2 -.9 1.9 -1.0 2 -1.0 2 -1.0 1.9 -1.0 2 -1.0 1.9 -.9 2 -.9 1.9 -.9 2 -.8 1.9 -.7 2 -.8 1.9 -.8 2 -.8 2 -.9 1.9 -1.0 2 -1.0 1.9 -1.2 2 -1.3 1.9 -1.3 2 -1.4 1.9 -1.3 2 -1.2"/><path d="M503.3,96.0l2 -.9 1.9 -.8 2 -.8 1.9 -.8 2 -.7 1.9 -.7 2 -.7 1.9 -.7 2 -.7 2 -.8 1.9 -.9 2 -.9 1.9 -.9 2 -1.1 1.9 -1.1 2 -1.1 1.9 -1.2 2 -1.3 1.9 -1.3 2 -1.2 2 -1.3 1.9 -1.2 2 -1.1 1.9 -1.0 2 -.8 1.9 -.8 2 -.6 1.9 -.5 2 -.4 2 -.4 1.9 -.4 2 -.5 1.9 -.6 2 -.6 1.9 -.7 2 -.8 1.9 -.7 2 -.7 1.9 -.8 2 -.8 2 -.8 1.9 -.8 2 -.9 1.9 -.9 2 -1.0 1.9 -.9 2 -1.0 1.9 -.9 2 -.9 2 -.8 1.9 -.7 2 -.7 1.9 -.7 2 -.8 1.9 -.7 2 -.8 1.9 -.8 2 -.9 1.9 -.9 2 -1.0 2 -1.1 1.9 -1.1 2 -1.1 1.9 -1.2 2 -1.4 1.9 -1.2 2 -1.1 1.9 -1.0 2 -.8 2 -.7 1.9 -.7 2 -.6 1.9 -.8 2 -.8 1.9 -1.0 2 -1.1 1.9 -1.3 2 -1.2 1.9 -1.3 2 -1.2 2 -1.1 1.9 -1.1 2 -1.1 1.9 -1.1 2 -1.1 1.9 -.9 2 -.9 1.9 -.8 2 -.5"/><path d="M503.3,96.0l2 -.3 1.9 -.4 2 -.5 1.9 -.5 2 -.6 1.9 -.7 2 -.7 1.9 -.7 2 -.8 2 -.9 1.9 -.9 2 -.9 1.9 -1.0 2 -1.1 1.9 -1.2 2 -1.2 1.9 -1.2 2 -1.3 1.9 -1.2 2 -1.3 2 -1.2 1.9 -1.3 2 -1.2 1.9 -1.2 2 -1.0 1.9 -1.0 2 -.9 1.9 -.7 2 -.6 2 -.5 1.9 -.5 2 -.4 1.9 -.4 2 -.4 1.9 -.5 2 -.6 1.9 -.6 2 -.6 1.9 -.7 2 -.8 2 -.8 1.9 -.8 2 -.9 1.9 -.9 2 -1.0 1.9 -.9 2 -1.0 1.9 -1.0 2 -1.0 2 -1.1 1.9 -1.0 2 -.9 1.9 -1.0 2 -1.0 1.9 -.9 2 -.9 1.9 -.9 2 -.8 1.9 -.9 2 -.8 2 -.9 1.9 -.8 2 -.9 1.9 -.9 2 -1.0 1.9 -.9 2 -1.0 1.9 -.9 2 -.9 2 -.9 1.9 -.9 2 -.8 1.9 -.8 2 -.8 1.9 -.7 2 -.8 1.9 -.7 2 -.8 1.9 -.8 2 -.8 2 -.9 1.9 -.8 2 -.9 1.9 -.8 2 -.9 1.9 -.9 2 -1.0 1.9 -.9 2 -1.0"/><path d="M503.3,93.3l2 -.5 1.9 -.5 2 -.5 1.9 -.5 2 -.4 1.9 -.5 2 -.6 1.9 -.5 2 -.6 2 -.6 1.9 -.5 2 -.5 1.9 -.5 2 -.6 1.9 -.5 2 -.7 1.9 -.7 2 -.8 1.9 -.9 2 -1.0 2 -1.0 1.9 -1.0 2 -1.0 1.9 -.9 2 -.8 1.9 -.8 2 -.7 1.9 -.7 2 -.6 2 -.7 1.9 -.7 2 -.8 1.9 -.9 2 -.8 1.9 -1.0 2 -1.0 1.9 -1.1 2 -1.2 1.9 -1.3 2 -1.2 2 -1.3 1.9 -1.2 2 -1.2 1.9 -1.1 2 -1.0 1.9 -1.0 2 -.9 1.9 -.8 2 -.8 2 -.7 1.9 -.6 2 -.7 1.9 -.6 2 -.6 1.9 -.6 2 -.7 1.9 -.6 2 -.6 1.9 -.7 2 -.8 2 -.8 1.9 -.8 2 -.9 1.9 -.9 2 -.9 1.9 -1.0 2 -.9 1.9 -1.0 2 -1.0 2 -.9 1.9 -.9 2 -1.0 1.9 -1.0 2 -1.0 1.9 -1.0 2 -1.1 1.9 -1.1 2 -1.2 1.9 -1.4 2 -1.4 2 -1.3 1.9 -1.3 2 -1.3 1.9 -1.2 2 -1.2 1.9 -1.0 2 -.9 1.9 -.7 2 -.4"/><path d="M503.3,97.7l2 -1.0 1.9 -.9 2 -.9 1.9 -.8 2 -.8 1.9 -.8 2 -.7 1.9 -.8 2 -.8 2 -.7 1.9 -.9 2 -.8 1.9 -.9 2 -1.0 1.9 -1.0 2 -.9 1.9 -1.0 2 -.9 1.9 -.9 2 -.9 2 -.8 1.9 -.9 2 -.9 1.9 -1.0 2 -1.0 1.9 -1.1 2 -1.1 1.9 -1.2 2 -1.4 2 -1.2 1.9 -1.2 2 -1.2 1.9 -1.1 2 -1.0 1.9 -.9 2 -.8 1.9 -.9 2 -.8 1.9 -.7 2 -.8 2 -.7 1.9 -.7 2 -.6 1.9 -.6 2 -.7 1.9 -.7 2 -.6 1.9 -.7 2 -.7 2 -.8 1.9 -.8 2 -.9 1.9 -1.0 2 -.9 1.9 -.9 2 -.9 1.9 -.8 2 -.8 1.9 -.7 2 -.8 2 -.8 1.9 -.8 2 -.7 1.9 -.8 2 -.8 1.9 -.8 2 -.8 1.9 -.8 2 -.8 2 -.9 1.9 -.8 2 -.7 1.9 -.8 2 -.8 1.9 -.7 2 -.7 1.9 -.6 2 -.7 1.9 -.7 2 -.8 2 -.7 1.9 -.8 2 -.7 1.9 -.8 2 -.8 1.9 -.9 2 -1.1 1.9 -1.1 2 -1.3"/><path d="M503.3,96.3l2 -.4 1.9 -.3 2 -.3 1.9 -.3 2 -.5 1.9 -.5 2 -.8 1.9 -.8 2 -1.0 2 -1.0 1.9 -1.1 2 -1.1 1.9 -1.2 2 -1.1 1.9 -1.1 2 -1.2 1.9 -1.1 2 -1.1 1.9 -1.0 2 -1.0 2 -1.0 1.9 -.9 2 -.9 1.9 -.8 2 -.8 1.9 -.8 2 -.9 1.9 -.8 2 -.8 2 -.9 1.9 -.9 2 -1.0 1.9 -1.1 2 -1.0 1.9 -1.0 2 -1.0 1.9 -.9 2 -.8 1.9 -.8 2 -.7 2 -.7 1.9 -.6 2 -.6 1.9 -.6 2 -.6 1.9 -.5 2 -.7 1.9 -.6 2 -.8 2 -.7 1.9 -.9 2 -.9 1.9 -.9 2 -1.0 1.9 -1.1 2 -1.1 1.9 -1.1 2 -1.1 1.9 -1.1 2 -1.1 2 -1.2 1.9 -1.1 2 -1.0 1.9 -.9 2 -.6 1.9 -.6 2 -.5 1.9 -.6 2 -.7 2 -.6 1.9 -.6 2 -.8 1.9 -.8 2 -.9 1.9 -1.0 2 -1.1 1.9 -1.2 2 -1.2 1.9 -1.4 2 -1.3 2 -1.3 1.9 -1.1 2 -1.0 1.9 -1.1 2 -1.0 1.9 -1.0 2 -1.1 1.9 -1.0 2 -.9"/><path d="M503.3,97.4l2 -1.5 1.9 -1.5 2 -1.4 1.9 -1.4 2 -1.1 1.9 -1.0 2 -.8 1.9 -.7 2 -.6 2 -.7 1.9 -.7 2 -.7 1.9 -.9 2 -.8 1.9 -.9 2 -.9 1.9 -.9 2 -.9 1.9 -.8 2 -.7 2 -.6 1.9 -.6 2 -.6 1.9 -.6 2 -.7 1.9 -.7 2 -.8 1.9 -.7 2 -.8 2 -.7 1.9 -.8 2 -.6 1.9 -.7 2 -.7 1.9 -.7 2 -.7 1.9 -.8 2 -.9 1.9 -.9 2 -1.0 2 -1.1 1.9 -1.1 2 -1.1 1.9 -1.2 2 -1.1 1.9 -1.1 2 -1.0 1.9 -.9 2 -.9 2 -.7 1.9 -.8 2 -.7 1.9 -.7 2 -.8 1.9 -.8 2 -.9 1.9 -1.0 2 -1.0 1.9 -1.1 2 -1.1 2 -1.2 1.9 -1.2 2 -1.0 1.9 -.8 2 -.7 1.9 -.6 2 -.5 1.9 -.6 2 -.7 2 -.6 1.9 -.6 2 -.7 1.9 -.7 2 -.8 1.9 -.7 2 -.8 1.9 -.9 2 -.8 1.9 -.9 2 -.9 2 -.9 1.9 -.9 2 -.8 1.9 -.8 2 -.8 1.9 -.9 2 -.8 1.9 -.8 2 -.9"/><path d="M503.3,97.6l2 -.7 1.9 -.8 2 -.7 1.9 -.7 2 -.8 1.9 -.7 2 -.8 1.9 -.8 2 -.9 2 -1.0 1.9 -.9 2 -1.0 1.9 -1.1 2 -1.1 1.9 -1.1 2 -1.1 1.9 -1.2 2 -1.2 1.9 -1.1 2 -1.1 2 -1.1 1.9 -1.0 2 -.9 1.9 -.8 2 -.7 1.9 -.5 2 -.6 1.9 -.5 2 -.7 2 -.6 1.9 -.8 2 -.8 1.9 -.8 2 -1.0 1.9 -.9 2 -1.0 1.9 -.9 2 -.9 1.9 -.9 2 -.8 2 -.8 1.9 -.8 2 -.8 1.9 -.8 2 -.8 1.9 -.9 2 -.9 1.9 -.9 2 -1.0 2 -1.1 1.9 -1.0 2 -1.1 1.9 -1.2 2 -1.2 1.9 -1.1 2 -1.0 1.9 -1.0 2 -.9 1.9 -.9 2 -.8 2 -1.0 1.9 -1.0 2 -1.0 1.9 -1.2 2 -1.0 1.9 -1.1 2 -.8 1.9 -.8 2 -.7 2 -.5 1.9 -.5 2 -.5 1.9 -.5 2 -.6 1.9 -.8 2 -.8 1.9 -.9 2 -.9 1.9 -.9 2 -.9 2 -.9 1.9 -.8 2 -.8 1.9 -.7 2 -.7 1.9 -.7 2 -.7 1.9 -.6 2 -.7"/><path d="M503.3,96.5l2 -.8 1.9 -.8 2 -.7 1.9 -.6 2 -.6 1.9 -.6 2 -.7 1.9 -.6 2 -.7 2 -.7 1.9 -.8 2 -.8 1.9 -.9 2 -.9 1.9 -1.0 2 -1.0 1.9 -1.1 2 -1.0 1.9 -1.0 2 -1.1 2 -1.0 1.9 -1.0 2 -1.0 1.9 -1.0 2 -1.0 1.9 -1.0 2 -1.0 1.9 -.9 2 -.9 2 -.8 1.9 -.7 2 -.7 1.9 -.7 2 -.6 1.9 -.7 2 -.6 1.9 -.8 2 -.7 1.9 -.8 2 -.8 2 -.8 1.9 -.8 2 -.7 1.9 -.8 2 -.7 1.9 -.8 2 -.8 1.9 -.8 2 -1.0 2 -.9 1.9 -1.1 2 -1.0 1.9 -1.1 2 -1.0 1.9 -1.0 2 -.9 1.9 -.8 2 -.7 1.9 -.7 2 -.7 2 -.7 1.9 -.6 2 -.7 1.9 -.8 2 -.7 1.9 -.9 2 -.9 1.9 -.9 2 -1.0 2 -1.0 1.9 -1.1 2 -1.1 1.9 -1.2 2 -1.1 1.9 -1.1 2 -1.1 1.9 -1.0 2 -.9 1.9 -.9 2 -.7 2 -.6 1.9 -.6 2 -.5 1.9 -.3 2 -.3 1.9 -.3 2 -.3 1.9 -.3 2 -.4"/><path d="M503.3,98.3l2 -.8 1.9 -.8 2 -.8 1.9 -.7 2 -.8 1.9 -.7 2 -.9 1.9 -.8 2 -1.0 2 -1.0 1.9 -1.0 2 -1.0 1.9 -1.0 2 -1.1 1.9 -1.1 2 -1.0 1.9 -1.0 2 -1.0 1.9 -.8 2 -.9 2 -.8 1.9 -.8 2 -.7 1.9 -.9 2 -.8 1.9 -.9 2 -.9 1.9 -.9 2 -.9 2 -.9 1.9 -.8 2 -.8 1.9 -.7 2 -.6 1.9 -.7 2 -.7 1.9 -.6 2 -.7 1.9 -.7 2 -.7 2 -.8 1.9 -.7 2 -.8 1.9 -.9 2 -.8 1.9 -.9 2 -1.0 1.9 -1.1 2 -1.1 2 -1.2 1.9 -1.3 2 -1.3 1.9 -1.3 2 -1.2 1.9 -1.3 2 -1.2 1.9 -.9 2 -.8 1.9 -.6 2 -.6 2 -.6 1.9 -.8 2 -.7 1.9 -.8 2 -.8 1.9 -.9 2 -.9 1.9 -.8 2 -.9 2 -.8 1.9 -.9 2 -.8 1.9 -.9 2 -.8 1.9 -.9 2 -.8 1.9 -.9 2 -.9 1.9 -.8 2 -.9 2 -.9 1.9 -.9 2 -1.0 1.9 -.9 2 -1.1 1.9 -1.2 2 -1.3 1.9 -1.3 2 -1.3"/><path d="M503.3,98.4l2 -.8 1.9 -1.0 2 -1.0 1.9 -1.1 2 -1.1 1.9 -1.2 2 -1.3 1.9 -1.3 2 -1.1 2 -1.2 1.9 -1.1 2 -1.1 1.9 -1.1 2 -1.1 1.9 -1.0 2 -.9 1.9 -.9 2 -.7 1.9 -.8 2 -.6 2 -.5 1.9 -.6 2 -.4 1.9 -.5 2 -.6 1.9 -.7 2 -.6 1.9 -.8 2 -.8 2 -.9 1.9 -.9 2 -1.0 1.9 -1.0 2 -1.1 1.9 -1.1 2 -1.2 1.9 -1.2 2 -1.2 1.9 -1.1 2 -1.0 2 -.9 1.9 -.7 2 -.6 1.9 -.6 2 -.4 1.9 -.4 2 -.5 1.9 -.6 2 -.7 2 -.8 1.9 -.9 2 -1.1 1.9 -1.1 2 -1.1 1.9 -1.1 2 -1.0 1.9 -1.1 2 -1.0 1.9 -.9 2 -.9 2 -1.0 1.9 -1.0 2 -1.1 1.9 -1.2 2 -1.1 1.9 -1.0 2 -1.0 1.9 -.8 2 -.7 2 -.6 1.9 -.5 2 -.4 1.9 -.6 2 -.6 1.9 -.7 2 -.7 1.9 -.8 2 -.9 1.9 -.8 2 -.7 2 -.8 1.9 -.7 2 -.7 1.9 -.6 2 -.6 1.9 -.7 2 -.6 1.9 -.7 2 -.8"/><path d="M503.3,98.0l2 -.4 1.9 -.5 2 -.6 1.9 -.6 2 -.7 1.9 -.7 2 -.7 1.9 -.8 2 -.9 2 -.9 1.9 -.9 2 -.9 1.9 -.9 2 -1.0 1.9 -1.1 2 -1.1 1.9 -1.1 2 -1.2 1.9 -1.1 2 -1.1 2 -1.1 1.9 -1.0 2 -1.0 1.9 -1.0 2 -1.0 1.9 -.9 2 -.9 1.9 -.8 2 -.9 2 -.9 1.9 -.8 2 -.8 1.9 -.9 2 -.8 1.9 -.7 2 -.8 1.9 -.7 2 -.8 1.9 -.7 2 -.7 2 -.8 1.9 -.8 2 -.8 1.9 -.9 2 -.9 1.9 -1.0 2 -1.0 1.9 -1.1 2 -1.0 2 -1.0 1.9 -1.0 2 -1.0 1.9 -1.0 2 -1.0 1.9 -1.0 2 -1.2 1.9 -1.3 2 -1.4 1.9 -1.4 2 -1.3 2 -1.4 1.9 -1.2 2 -1.2 1.9 -1.0 2 -.9 1.9 -.8 2 -.6 1.9 -.5 2 -.4 2 -.4 1.9 -.2 2 -.2 1.9 -.3 2 -.5 1.9 -.6 2 -.6 1.9 -.7 2 -.7 1.9 -.7 2 -.8 2 -.9 1.9 -.8 2 -.8 1.9 -.8 2 -.8 1.9 -.8 2 -.7 1.9 -.7 2 -.7"/><path d="M503.3,99.9l2 -.9 1.9 -1.1 2 -1.2 1.9 -1.2 2 -1.2 1.9 -1.2 2 -1.0 1.9 -1.0 2 -1.0 2 -.9 1.9 -.8 2 -.8 1.9 -.9 2 -.8 1.9 -.9 2 -.9 1.9 -.8 2 -.9 1.9 -.8 2 -.9 2 -.8 1.9 -.8 2 -.7 1.9 -.8 2 -.8 1.9 -.8 2 -.7 1.9 -.8 2 -.7 2 -.8 1.9 -.8 2 -.8 1.9 -.8 2 -.8 1.9 -.8 2 -.9 1.9 -.9 2 -.9 1.9 -.9 2 -.9 2 -1.0 1.9 -.9 2 -.9 1.9 -.9 2 -.9 1.9 -.9 2 -.9 1.9 -1.0 2 -.9 2 -1.0 1.9 -.9 2 -1.0 1.9 -1.0 2 -.9 1.9 -1.0 2 -.9 1.9 -.9 2 -.8 1.9 -.8 2 -.8 2 -.7 1.9 -.7 2 -.7 1.9 -.8 2 -.7 1.9 -.8 2 -.8 1.9 -.8 2 -.9 2 -.9 1.9 -.9 2 -.9 1.9 -.9 2 -.8 1.9 -.8 2 -.7 1.9 -.8 2 -.7 1.9 -.8 2 -.7 2 -.8 1.9 -.8 2 -.8 1.9 -.6 2 -.6 1.9 -.7 2 -.7 1.9 -.7 2 -.7"/><path d="M503.3,96.0l2 -.7 1.9 -.8 2 -.7 1.9 -.8 2 -.8 1.9 -.7 2 -.8 1.9 -.7 2 -.8 2 -.8 1.9 -.8 2 -.8 1.9 -.9 2 -.8 1.9 -.8 2 -.8 1.9 -.8 2 -.8 1.9 -.8 2 -.8 2 -.8 1.9 -.8 2 -.9 1.9 -.8 2 -.9 1.9 -.9 2 -1.0 1.9 -.9 2 -.9 2 -.9 1.9 -1.0 2 -.9 1.9 -.9 2 -.8 1.9 -.9 2 -.9 1.9 -.9 2 -.9 1.9 -.9 2 -.9 2 -.9 1.9 -.8 2 -.8 1.9 -.8 2 -.7 1.9 -.8 2 -.8 1.9 -.8 2 -.9 2 -.9 1.9 -1.0 2 -1.0 1.9 -1.0 2 -1.0 1.9 -1.0 2 -1.1 1.9 -1.0 2 -1.0 1.9 -1.0 2 -.9 2 -.8 1.9 -.8 2 -.8 1.9 -.7 2 -.7 1.9 -.8 2 -.8 1.9 -.8 2 -.8 2 -.8 1.9 -.8 2 -.9 1.9 -.9 2 -.9 1.9 -.9 2 -.9 1.9 -.9 2 -.9 1.9 -.8 2 -.7 2 -.7 1.9 -.6 2 -.7 1.9 -.5 2 -.6 1.9 -.7 2 -.8 1.9 -.9 2 -1.1"/><path d="M503.3,97.7l2 -.6 1.9 -.7 2 -.6 1.9 -.7 2 -.7 1.9 -.8 2 -.9 1.9 -.9 2 -1.0 2 -1.0 1.9 -1.1 2 -1.0 1.9 -1.1 2 -1.0 1.9 -1.1 2 -1.1 1.9 -1.0 2 -1.0 1.9 -1.0 2 -.9 2 -.9 1.9 -.9 2 -.8 1.9 -.8 2 -.8 1.9 -.8 2 -.7 1.9 -.8 2 -.6 2 -.7 1.9 -.6 2 -.7 1.9 -.6 2 -.7 1.9 -.7 2 -.8 1.9 -.9 2 -.9 1.9 -1.1 2 -1.1 2 -1.1 1.9 -1.2 2 -1.2 1.9 -1.2 2 -1.1 1.9 -1.2 2 -1.1 1.9 -1.0 2 -1.1 2 -1.0 1.9 -.9 2 -.9 1.9 -.9 2 -.7 1.9 -.7 2 -.7 1.9 -.5 2 -.5 1.9 -.6 2 -.7 2 -.6 1.9 -.6 2 -.6 1.9 -.7 2 -.7 1.9 -.7 2 -.8 1.9 -.9 2 -1.0 2 -1.0 1.9 -1.1 2 -1.1 1.9 -1.0 2 -.9 1.9 -.9 2 -.8 1.9 -.7 2 -.6 1.9 -.6 2 -.5 2 -.5 1.9 -.5 2 -.4 1.9 -.5 2 -.4 1.9 -.5 2 -.6 1.9 -.7 2 -.7"/><path d="M503.3,96.8l2 -1.4 1.9 -1.3 2 -1.2 1.9 -1.2 2 -.9 1.9 -.9 2 -.8 1.9 -.7 2 -.7 2 -.6 1.9 -.8 2 -.8 1.9 -.8 2 -.9 1.9 -.9 2 -1.0 1.9 -1.1 2 -1.1 1.9 -1.2 2 -1.2 2 -1.3 1.9 -1.2 2 -1.2 1.9 -1.2 2 -1.1 1.9 -1.0 2 -1.0 1.9 -.9 2 -.7 2 -.6 1.9 -.6 2 -.6 1.9 -.4 2 -.5 1.9 -.4 2 -.4 1.9 -.6 2 -.5 1.9 -.6 2 -.6 2 -.7 1.9 -.7 2 -.7 1.9 -.7 2 -.6 1.9 -.8 2 -.7 1.9 -.8 2 -.8 2 -.8 1.9 -.9 2 -.9 1.9 -1.0 2 -1.0 1.9 -1.1 2 -1.0 1.9 -1.1 2 -1.1 1.9 -1.3 2 -1.2 2 -1.2 1.9 -1.2 2 -1.0 1.9 -1.0 2 -.9 1.9 -.9 2 -.8 1.9 -.9 2 -.8 2 -.8 1.9 -.8 2 -.9 1.9 -.9 2 -.9 1.9 -.9 2 -.9 1.9 -.9 2 -.9 1.9 -.7 2 -.7 2 -.6 1.9 -.6 2 -.6 1.9 -.5 2 -.6 1.9 -.7 2 -.7 1.9 -.8 2 -.8"/><path d="M503.3,93.5l2 -.5 1.9 -.6 2 -.5 1.9 -.6 2 -.5 1.9 -.6 2 -.6 1.9 -.6 2 -.7 2 -.7 1.9 -.8 2 -.8 1.9 -.9 2 -.8 1.9 -.9 2 -.8 1.9 -.9 2 -.8 1.9 -.7 2 -.7 2 -.6 1.9 -.6 2 -.7 1.9 -.6 2 -.7 1.9 -.7 2 -.7 1.9 -.8 2 -.9 2 -.9 1.9 -1.0 2 -1.1 1.9 -1.1 2 -1.2 1.9 -1.1 2 -1.2 1.9 -1.1 2 -1.0 1.9 -1.0 2 -.9 2 -.9 1.9 -.8 2 -.8 1.9 -.8 2 -.9 1.9 -.8 2 -.7 1.9 -.7 2 -.7 2 -.7 1.9 -.6 2 -.6 1.9 -.7 2 -.7 1.9 -.7 2 -.9 1.9 -.8 2 -1.0 1.9 -.9 2 -1.0 2 -1.0 1.9 -.9 2 -.9 1.9 -.9 2 -.9 1.9 -.8 2 -.8 1.9 -.8 2 -.8 2 -.8 1.9 -.7 2 -.8 1.9 -.7 2 -.6 1.9 -.7 2 -.7 1.9 -.7 2 -.7 1.9 -.8 2 -.9 2 -1.0 1.9 -1.0 2 -1.0 1.9 -1.1 2 -1.2 1.9 -1.2 2 -1.4 1.9 -1.4 2 -1.4"/><path d="M503.3,96.6l2 -1.0 1.9 -1.0 2 -.8 1.9 -.8 2 -.6 1.9 -.5 2 -.4 1.9 -.4 2 -.3 2 -.5 1.9 -.6 2 -.7 1.9 -.8 2 -.9 1.9 -1.1 2 -1.2 1.9 -1.3 2 -1.4 1.9 -1.3 2 -1.2 2 -1.2 1.9 -1.2 2 -1.2 1.9 -1.1 2 -1.1 1.9 -1.1 2 -1.1 1.9 -1.0 2 -1.1 2 -1.0 1.9 -1.0 2 -1.0 1.9 -1.1 2 -1.0 1.9 -.9 2 -.9 1.9 -.9 2 -.8 1.9 -.8 2 -.7 2 -.7 1.9 -.7 2 -.6 1.9 -.7 2 -.7 1.9 -.8 2 -.7 1.9 -.8 2 -.7 2 -.8 1.9 -.8 2 -.9 1.9 -.8 2 -.9 1.9 -1.0 2 -.9 1.9 -1.0 2 -.9 1.9 -.9 2 -.8 2 -.8 1.9 -.6 2 -.6 1.9 -.5 2 -.6 1.9 -.6 2 -.7 1.9 -.8 2 -.9 2 -.8 1.9 -.9 2 -1.0 1.9 -1.0 2 -1.2 1.9 -1.2 2 -1.2 1.9 -1.2 2 -1.2 1.9 -1.2 2 -1.2 2 -1.2 1.9 -1.0 2 -1.1 1.9 -1.1 2 -1.0 1.9 -1.0 2 -.7 1.9 -.7 2 -.3"/><path d="M503.3,94.5l2 -.6 1.9 -.7 2 -.6 1.9 -.7 2 -.7 1.9 -.7 2 -.8 1.9 -.9 2 -.8 2 -.8 1.9 -.9 2 -.8 1.9 -.7 2 -.7 1.9 -.6 2 -.6 1.9 -.5 2 -.6 1.9 -.7 2 -.7 2 -.8 1.9 -.9 2 -.9 1.9 -1.0 2 -.9 1.9 -1.0 2 -.9 1.9 -1.0 2 -1.0 2 -.9 1.9 -1.0 2 -1.1 1.9 -1.0 2 -1.1 1.9 -1.1 2 -1.0 1.9 -1.0 2 -1.0 1.9 -.9 2 -.8 2 -.7 1.9 -.7 2 -.5 1.9 -.6 2 -.5 1.9 -.5 2 -.5 1.9 -.5 2 -.6 2 -.7 1.9 -.8 2 -.9 1.9 -.9 2 -1.0 1.9 -1.0 2 -1.0 1.9 -1.1 2 -1.0 1.9 -1.1 2 -.9 2 -1.0 1.9 -.8 2 -.9 1.9 -.7 2 -.8 1.9 -.7 2 -.7 1.9 -.7 2 -.7 2 -.8 1.9 -.8 2 -.8 1.9 -1.0 2 -1.0 1.9 -1.0 2 -1.2 1.9 -1.1 2 -1.2 1.9 -1.2 2 -1.3 2 -1.1 1.9 -1.1 2 -1.0 1.9 -.9 2 -.9 1.9 -.9 2 -.8 1.9 -.9 2 -.7"/><path d="M503.3,93.1l2 -.6 1.9 -.7 2 -.7 1.9 -.7 2 -.6 1.9 -.7 2 -.5 1.9 -.5 2 -.5 2 -.6 1.9 -.6 2 -.7 1.9 -.7 2 -.7 1.9 -.8 2 -.8 1.9 -.9 2 -.9 1.9 -1.0 2 -1.0 2 -1.1 1.9 -1.0 2 -1.0 1.9 -1.0 2 -1.0 1.9 -.9 2 -.9 1.9 -.8 2 -.9 2 -.8 1.9 -1.0 2 -.9 1.9 -1.0 2 -1.1 1.9 -1.0 2 -1.0 1.9 -.9 2 -.9 1.9 -.8 2 -.8 2 -.7 1.9 -.7 2 -.6 1.9 -.7 2 -.7 1.9 -.7 2 -.7 1.9 -.8 2 -.8 2 -.9 1.9 -.9 2 -1.0 1.9 -1.0 2 -1.1 1.9 -1.0 2 -1.1 1.9 -1.0 2 -1.0 1.9 -1.1 2 -1.0 2 -1.0 1.9 -1.0 2 -1.1 1.9 -1.0 2 -1.0 1.9 -1.0 2 -.8 1.9 -.8 2 -.6 2 -.6 1.9 -.5 2 -.6 1.9 -.5 2 -.6 1.9 -.7 2 -.8 1.9 -.9 2 -1.0 1.9 -1.1 2 -1.1 2 -1.2 1.9 -1.3 2 -1.4 1.9 -1.4 2 -1.5 1.9 -1.4 2 -1.3 1.9 -1.3 2 -.9"/><path d="M503.3,96.0l2 -1.1 1.9 -1.1 2 -1.0 1.9 -.9 2 -.9 1.9 -.7 2 -.7 1.9 -.7 2 -.6 2 -.6 1.9 -.6 2 -.5 1.9 -.5 2 -.5 1.9 -.6 2 -.7 1.9 -.8 2 -.8 1.9 -.9 2 -1.0 2 -1.0 1.9 -1.0 2 -1.1 1.9 -1.0 2 -1.1 1.9 -1.0 2 -.9 1.9 -.9 2 -.9 2 -.8 1.9 -.7 2 -.7 1.9 -.7 2 -.6 1.9 -.6 2 -.6 1.9 -.6 2 -.6 1.9 -.7 2 -.6 2 -.8 1.9 -.7 2 -.9 1.9 -.8 2 -.9 1.9 -.9 2 -1.0 1.9 -1.0 2 -1.1 2 -1.1 1.9 -1.1 2 -1.2 1.9 -1.1 2 -1.1 1.9 -1.0 2 -.9 1.9 -.9 2 -.9 1.9 -.8 2 -.7 2 -.8 1.9 -.8 2 -.9 1.9 -.8 2 -.9 1.9 -1.0 2 -.9 1.9 -.9 2 -1.0 2 -1.0 1.9 -.9 2 -1.0 1.9 -.9 2 -.9 1.9 -1.0 2 -.9 1.9 -.9 2 -.9 1.9 -.8 2 -.8 2 -.8 1.9 -.8 2 -.7 1.9 -.8 2 -.7 1.9 -.8 2 -.8 1.9 -.8 2 -.9"/><path d="M503.3,98.0l2 -1.1 1.9 -1.3 2 -1.3 1.9 -1.3 2 -1.1 1.9 -1.0 2 -.9 1.9 -.8 2 -.8 2 -.7 1.9 -.7 2 -.7 1.9 -.6 2 -.6 1.9 -.7 2 -.7 1.9 -.7 2 -.8 1.9 -.8 2 -.8 2 -.9 1.9 -.9 2 -1.0 1.9 -.9 2 -1.0 1.9 -.9 2 -1.0 1.9 -.9 2 -1.0 2 -.9 1.9 -1.0 2 -1.0 1.9 -.9 2 -.9 1.9 -.9 2 -.7 1.9 -.8 2 -.6 1.9 -.6 2 -.5 2 -.6 1.9 -.6 2 -.6 1.9 -.7 2 -.8 1.9 -.9 2 -.9 1.9 -1.0 2 -1.0 2 -1.0 1.9 -1.1 2 -1.1 1.9 -1.2 2 -1.2 1.9 -1.3 2 -1.5 1.9 -1.8 2 -1.8 1.9 -1.7 2 -1.6 2 -1.3 1.9 -1.0 2 -.9 1.9 -.7 2 -.6 1.9 -.4 2 -.4 1.9 -.3 2 -.3 2 -.4 1.9 -.5 2 -.5 1.9 -.7 2 -.7 1.9 -.9 2 -1.0 1.9 -1.1 2 -1.1 1.9 -1.1 2 -1.2 2 -1.2 1.9 -1.1 2 -1.1 1.9 -1.1 2 -1.1 1.9 -.9 2 -.8 1.9 -.6 2 -.3"/><path d="M503.3,94.7l2 -.6 1.9 -.7 2 -.6 1.9 -.7 2 -.7 1.9 -.7 2 -.7 1.9 -.7 2 -.8 2 -.8 1.9 -.9 2 -.9 1.9 -1.0 2 -1.1 1.9 -1.2 2 -1.2 1.9 -1.3 2 -1.2 1.9 -1.2 2 -1.1 2 -1.1 1.9 -1.0 2 -.9 1.9 -.9 2 -.8 1.9 -.8 2 -.6 1.9 -.6 2 -.6 2 -.5 1.9 -.6 2 -.6 1.9 -.6 2 -.6 1.9 -.5 2 -.6 1.9 -.5 2 -.5 1.9 -.5 2 -.6 2 -.5 1.9 -.7 2 -.8 1.9 -.9 2 -1.0 1.9 -1.1 2 -1.1 1.9 -1.2 2 -1.1 2 -1.0 1.9 -1.0 2 -.9 1.9 -.9 2 -.9 1.9 -.9 2 -.8 1.9 -1.0 2 -1.0 1.9 -1.0 2 -1.0 2 -1.1 1.9 -1.0 2 -1.0 1.9 -.9 2 -.9 1.9 -.7 2 -.8 1.9 -.6 2 -.6 2 -.5 1.9 -.6 2 -.7 1.9 -.6 2 -.6 1.9 -.6 2 -.7 1.9 -.6 2 -.7 1.9 -.8 2 -.9 2 -.9 1.9 -1.0 2 -1.0 1.9 -1.0 2 -.9 1.9 -.9 2 -.9 1.9 -.8 2 -.7"/><path d="M503.3,98.9l2 -.4 1.9 -.6 2 -.7 1.9 -.8 2 -1.0 1.9 -1.2 2 -1.2 1.9 -1.4 2 -1.5 2 -1.5 1.9 -1.4 2 -1.2 1.9 -1.1 2 -1.1 1.9 -1.0 2 -1.0 1.9 -1.0 2 -.9 1.9 -1.0 2 -1.0 2 -1.0 1.9 -1.1 2 -1.1 1.9 -1.2 2 -1.2 1.9 -1.1 2 -1.1 1.9 -1.0 2 -.8 2 -.8 1.9 -.6 2 -.5 1.9 -.4 2 -.4 1.9 -.3 2 -.3 1.9 -.3 2 -.4 1.9 -.4 2 -.4 2 -.5 1.9 -.6 2 -.7 1.9 -.8 2 -.8 1.9 -.9 2 -.9 1.9 -1.0 2 -.9 2 -.9 1.9 -1.0 2 -.9 1.9 -.9 2 -.9 1.9 -1.0 2 -.9 1.9 -1.0 2 -1.0 1.9 -.9 2 -1.0 2 -1.0 1.9 -1.0 2 -.9 1.9 -.9 2 -.9 1.9 -.8 2 -.8 1.9 -.7 2 -.7 2 -.7 1.9 -.7 2 -.8 1.9 -.7 2 -.9 1.9 -.9 2 -.9 1.9 -1.0 2 -1.0 1.9 -1.0 2 -.9 2 -.8 1.9 -.8 2 -.7 1.9 -.7 2 -.6 1.9 -.7 2 -.8 1.9 -.9 2 -1.0"/><path d="M503.3,97.3l2 -.8 1.9 -.8 2 -.7 1.9 -.8 2 -.8 1.9 -.8 2 -.7 1.9 -.8 2 -.8 2 -.8 1.9 -.8 2 -.7 1.9 -.7 2 -.7 1.9 -.8 2 -.8 1.9 -.8 2 -1.0 1.9 -1.0 2 -1.1 2 -1.2 1.9 -1.2 2 -1.3 1.9 -1.3 2 -1.4 1.9 -1.5 2 -1.5 1.9 -1.5 2 -1.4 2 -1.2 1.9 -1.1 2 -1.0 1.9 -1.0 2 -.8 1.9 -.8 2 -.8 1.9 -.8 2 -.7 1.9 -.8 2 -.7 2 -.6 1.9 -.7 2 -.6 1.9 -.7 2 -.7 1.9 -.7 2 -.7 1.9 -.7 2 -.6 2 -.6 1.9 -.6 2 -.6 1.9 -.7 2 -.8 1.9 -.9 2 -1.0 1.9 -1.1 2 -1.2 1.9 -1.3 2 -1.2 2 -1.1 1.9 -.9 2 -.8 1.9 -.7 2 -.5 1.9 -.6 2 -.5 1.9 -.5 2 -.6 2 -.7 1.9 -.7 2 -.8 1.9 -.8 2 -.8 1.9 -.8 2 -.8 1.9 -.9 2 -.8 1.9 -.9 2 -.8 2 -.9 1.9 -.9 2 -.8 1.9 -.9 2 -.8 1.9 -.9 2 -.7 1.9 -.8 2 -.7"/><path d="M503.3,98.3l2 -1.4 1.9 -1.6 2 -1.5 1.9 -1.2 2 -1.2 1.9 -.9 2 -.8 1.9 -.7 2 -.6 2 -.6 1.9 -.6 2 -.5 1.9 -.5 2 -.6 1.9 -.7 2 -.8 1.9 -.8 2 -.9 1.9 -.9 2 -1.0 2 -1.0 1.9 -1.0 2 -1.0 1.9 -1.0 2 -.9 1.9 -1.0 2 -.9 1.9 -.8 2 -.8 2 -.7 1.9 -.7 2 -.6 1.9 -.7 2 -.6 1.9 -.6 2 -.7 1.9 -.7 2 -.8 1.9 -.9 2 -.9 2 -1.0 1.9 -1.1 2 -1.0 1.9 -1.1 2 -1.1 1.9 -1.1 2 -1.1 1.9 -1.0 2 -1.0 2 -.9 1.9 -.8 2 -.9 1.9 -.8 2 -.8 1.9 -.8 2 -.8 1.9 -.9 2 -.8 1.9 -.9 2 -.9 2 -1.0 1.9 -.9 2 -1.0 1.9 -1.0 2 -1.0 1.9 -.9 2 -.8 1.9 -.7 2 -.8 2 -.6 1.9 -.7 2 -.6 1.9 -.7 2 -.6 1.9 -.8 2 -.7 1.9 -.8 2 -.9 1.9 -.8 2 -.8 2 -.9 1.9 -.8 2 -.9 1.9 -.8 2 -.8 1.9 -.9 2 -1.0 1.9 -1.1 2 -1.2"/><path d="M503.3,95.5l2 -1.0 1.9 -1.1 2 -1.1 1.9 -1.0 2 -1.0 1.9 -.9 2 -.9 1.9 -.8 2 -.8 2 -.8 1.9 -.9 2 -.9 1.9 -1.0 2 -1.0 1.9 -1.0 2 -.9 1.9 -.8 2 -.8 1.9 -.7 2 -.6 2 -.5 1.9 -.5 2 -.6 1.9 -.6 2 -.7 1.9 -.9 2 -1.0 1.9 -1.1 2 -1.1 2 -1.1 1.9 -1.0 2 -.9 1.9 -.8 2 -.8 1.9 -.7 2 -.7 1.9 -.7 2 -.7 1.9 -.7 2 -.8 2 -.8 1.9 -.8 2 -1.0 1.9 -.9 2 -1.0 1.9 -1.0 2 -1.0 1.9 -.9 2 -.9 2 -.8 1.9 -.7 2 -.6 1.9 -.5 2 -.5 1.9 -.6 2 -.6 1.9 -.6 2 -.7 1.9 -.8 2 -.8 2 -.8 1.9 -.9 2 -.9 1.9 -1.0 2 -.9 1.9 -1.0 2 -1.0 1.9 -.9 2 -.9 2 -.8 1.9 -.8 2 -.9 1.9 -.8 2 -.8 1.9 -.9 2 -.9 1.9 -1.0 2 -1.0 1.9 -1.1 2 -1.1 2 -1.2 1.9 -1.1 2 -1.2 1.9 -1.3 2 -1.2 1.9 -1.2 2 -1.2 1.9 -1.1 2 -.9"/><path d="M503.3,99.1l2 -.7 1.9 -.8 2 -1.0 1.9 -1.0 2 -1.0 1.9 -1.1 2 -1.0 1.9 -1.0 2 -.9 2 -.9 1.9 -.9 2 -.9 1.9 -.8 2 -.9 1.9 -.9 2 -.9 1.9 -1.0 2 -1.0 1.9 -1.0 2 -1.1 2 -1.1 1.9 -1.1 2 -1.1 1.9 -1.0 2 -.9 1.9 -.8 2 -.8 1.9 -.7 2 -.7 2 -.6 1.9 -.6 2 -.6 1.9 -.7 2 -.7 1.9 -.8 2 -.9 1.9 -.9 2 -1.1 1.9 -1.1 2 -1.2 2 -1.2 1.9 -1.1 2 -1.2 1.9 -1.0 2 -1.0 1.9 -1.0 2 -.9 1.9 -.9 2 -.9 2 -.9 1.9 -.9 2 -.9 1.9 -1.0 2 -.9 1.9 -.9 2 -1.0 1.9 -.9 2 -.9 1.9 -1.0 2 -.9 2 -.9 1.9 -.9 2 -.9 1.9 -1.0 2 -.9 1.9 -.9 2 -.9 1.9 -.8 2 -.8 2 -.9 1.9 -.8 2 -.9 1.9 -.9 2 -.9 1.9 -1.0 2 -1.0 1.9 -1.0 2 -1.0 1.9 -1.0 2 -.9 2 -.8 1.9 -.8 2 -.8 1.9 -.8 2 -.9 1.9 -.8 2 -.8 1.9 -.8 2 -.7"/><path d="M503.3,96.8l2 -1.0 1.9 -1.1 2 -1.0 1.9 -.9 2 -.9 1.9 -.9 2 -.9 1.9 -.9 2 -.8 2 -.8 1.9 -.8 2 -.8 1.9 -.8 2 -.8 1.9 -.7 2 -.8 1.9 -.9 2 -1.0 1.9 -1.0 2 -1.2 2 -1.2 1.9 -1.3 2 -1.3 1.9 -1.2 2 -1.1 1.9 -1.0 2 -.9 1.9 -.6 2 -.5 2 -.4 1.9 -.4 2 -.4 1.9 -.4 2 -.5 1.9 -.5 2 -.6 1.9 -.6 2 -.7 1.9 -.7 2 -.7 2 -.8 1.9 -.9 2 -.9 1.9 -1.0 2 -1.1 1.9 -1.0 2 -1.1 1.9 -1.1 2 -1.1 2 -1.0 1.9 -1.0 2 -1.0 1.9 -1.0 2 -.9 1.9 -.9 2 -.8 1.9 -.8 2 -.7 1.9 -.9 2 -.8 2 -.9 1.9 -.8 2 -.9 1.9 -.9 2 -1.0 1.9 -1.0 2 -.9 1.9 -.9 2 -.9 2 -.8 1.9 -.8 2 -.9 1.9 -.9 2 -.9 1.9 -1.0 2 -1.0 1.9 -1.0 2 -.9 1.9 -.9 2 -.9 2 -.8 1.9 -.7 2 -.7 1.9 -.7 2 -.8 1.9 -.7 2 -.8 1.9 -.9 2 -.9"/><path d="M503.3,97.2l2 -.2 1.9 -.5 2 -.6 1.9 -.8 2 -.8 1.9 -.9 2 -1.0 1.9 -.9 2 -1.0 2 -1.0 1.9 -1.0 2 -1.0 1.9 -1.0 2 -1.1 1.9 -1.1 2 -1.0 1.9 -1.0 2 -.9 1.9 -.8 2 -.7 2 -.7 1.9 -.7 2 -.7 1.9 -.7 2 -.7 1.9 -.8 2 -.9 1.9 -.9 2 -.9 2 -.9 1.9 -1.0 2 -.9 1.9 -1.0 2 -.9 1.9 -.9 2 -.8 1.9 -.8 2 -.8 1.9 -.8 2 -.7 2 -.7 1.9 -.7 2 -.8 1.9 -.7 2 -.8 1.9 -.9 2 -.9 1.9 -.9 2 -.9 2 -.9 1.9 -.9 2 -.8 1.9 -.9 2 -.8 1.9 -.8 2 -.8 1.9 -.8 2 -.7 1.9 -.8 2 -.8 2 -.8 1.9 -.8 2 -.8 1.9 -.9 2 -.8 1.9 -.9 2 -1.0 1.9 -1.0 2 -1.0 2 -1.0 1.9 -1.0 2 -1.1 1.9 -1.0 2 -1.1 1.9 -1.0 2 -1.0 1.9 -.9 2 -1.0 1.9 -.9 2 -.9 2 -.8 1.9 -.8 2 -.8 1.9 -.6 2 -.5 1.9 -.5 2 -.4 1.9 -.3 2 -.2"/><path d="M503.3,95.6l2 -.5 1.9 -.6 2 -.7 1.9 -.6 2 -.6 1.9 -.6 2 -.6 1.9 -.7 2 -.8 2 -.8 1.9 -.8 2 -.9 1.9 -1.0 2 -1.0 1.9 -1.0 2 -1.0 1.9 -1.0 2 -1.0 1.9 -.9 2 -.8 2 -.7 1.9 -.7 2 -.7 1.9 -.7 2 -.6 1.9 -.7 2 -.7 1.9 -.8 2 -.7 2 -.8 1.9 -.9 2 -.8 1.9 -1.0 2 -1.0 1.9 -1.0 2 -1.1 1.9 -1.2 2 -1.2 1.9 -1.2 2 -1.2 2 -1.2 1.9 -1.1 2 -1.0 1.9 -1.0 2 -1.0 1.9 -.9 2 -.8 1.9 -.9 2 -.9 2 -.9 1.9 -.9 2 -.9 1.9 -.9 2 -.9 1.9 -.8 2 -.7 1.9 -.7 2 -.6 1.9 -.6 2 -.6 2 -.7 1.9 -.8 2 -.9 1.9 -1.0 2 -.9 1.9 -1.0 2 -.8 1.9 -.8 2 -.7 2 -.7 1.9 -.8 2 -.7 1.9 -.7 2 -.8 1.9 -.8 2 -.9 1.9 -1.0 2 -1.0 1.9 -1.2 2 -1.4 2 -1.4 1.9 -1.4 2 -1.5 1.9 -1.4 2 -1.4 1.9 -1.3 2 -1.2 1.9 -1.0 2 -.5"/><path d="M503.3,93.1l2 -.8 1.9 -.8 2 -.8 1.9 -.7 2 -.6 1.9 -.6 2 -.5 1.9 -.5 2 -.4 2 -.6 1.9 -.5 2 -.6 1.9 -.6 2 -.5 1.9 -.5 2 -.7 1.9 -.7 2 -.8 1.9 -.8 2 -1.0 2 -1.0 1.9 -1.1 2 -1.1 1.9 -1.1 2 -1.2 1.9 -1.1 2 -1.1 1.9 -1.1 2 -1.0 2 -1.0 1.9 -1.0 2 -.9 1.9 -1.0 2 -.9 1.9 -1.0 2 -1.0 1.9 -1.0 2 -1.0 1.9 -1.0 2 -.9 2 -.9 1.9 -.9 2 -.9 1.9 -.8 2 -.9 1.9 -1.0 2 -.9 1.9 -.9 2 -.9 2 -.9 1.9 -1.0 2 -.9 1.9 -.8 2 -.8 1.9 -.8 2 -.6 1.9 -.6 2 -.6 1.9 -.6 2 -.7 2 -.7 1.9 -1.0 2 -1.1 1.9 -1.2 2 -1.4 1.9 -1.5 2 -1.4 1.9 -1.3 2 -1.3 2 -1.0 1.9 -1.0 2 -.9 1.9 -.8 2 -.8 1.9 -.8 2 -.7 1.9 -.7 2 -.6 1.9 -.7 2 -.5 2 -.6 1.9 -.6 2 -.7 1.9 -.7 2 -.9 1.9 -.8 2 -.9 1.9 -.8 2 -.7"/><path d="M503.3,98.0l2 -1.0 1.9 -1.2 2 -1.2 1.9 -1.1 2 -1.1 1.9 -1.0 2 -1.0 1.9 -.9 2 -.9 2 -.8 1.9 -.9 2 -.8 1.9 -.7 2 -.8 1.9 -.6 2 -.7 1.9 -.8 2 -.7 1.9 -.8 2 -.9 2 -.9 1.9 -.9 2 -.9 1.9 -.9 2 -.8 1.9 -.9 2 -.8 1.9 -.9 2 -.8 2 -.8 1.9 -.9 2 -.8 1.9 -.9 2 -.9 1.9 -.8 2 -.9 1.9 -.9 2 -.8 1.9 -.8 2 -.8 2 -.8 1.9 -.7 2 -.7 1.9 -.7 2 -.8 1.9 -.7 2 -.8 1.9 -.8 2 -.9 2 -.9 1.9 -1.0 2 -1.0 1.9 -1.1 2 -1.0 1.9 -1.1 2 -1.1 1.9 -1.0 2 -1.0 1.9 -.9 2 -.9 2 -.8 1.9 -.8 2 -.7 1.9 -.7 2 -.7 1.9 -.7 2 -.7 1.9 -.8 2 -.8 2 -.8 1.9 -.9 2 -1.0 1.9 -1.0 2 -.9 1.9 -1.0 2 -1.0 1.9 -.9 2 -.9 1.9 -.9 2 -.8 2 -.7 1.9 -.7 2 -.6 1.9 -.6 2 -.6 1.9 -.5 2 -.7 1.9 -.7 2 -.8"/><path d="M503.3,90.9l2 -.4 1.9 -.5 2 -.5 1.9 -.5 2 -.5 1.9 -.5 2 -.4 1.9 -.4 2 -.4 2 -.4 1.9 -.6 2 -.7 1.9 -.8 2 -.8 1.9 -.9 2 -.8 1.9 -1.0 2 -.9 1.9 -.9 2 -.9 2 -.8 1.9 -.9 2 -.8 1.9 -.8 2 -.8 1.9 -.9 2 -.9 1.9 -.9 2 -1.0 2 -.9 1.9 -1.0 2 -1.1 1.9 -1.0 2 -.9 1.9 -.9 2 -.7 1.9 -.7 2 -.6 1.9 -.5 2 -.6 2 -.5 1.9 -.7 2 -.7 1.9 -.9 2 -.9 1.9 -1.1 2 -1.1 1.9 -1.1 2 -1.1 2 -1.1 1.9 -1.1 2 -1.0 1.9 -.9 2 -1.0 1.9 -1.0 2 -1.1 1.9 -1.1 2 -1.1 1.9 -1.2 2 -1.1 2 -.9 1.9 -.8 2 -.7 1.9 -.6 2 -.5 1.9 -.4 2 -.5 1.9 -.4 2 -.4 2 -.5 1.9 -.6 2 -.7 1.9 -.8 2 -.8 1.9 -.9 2 -1.0 1.9 -1.1 2 -1.0 1.9 -1.1 2 -1.1 2 -1.1 1.9 -1.0 2 -1.1 1.9 -1.0 2 -1.0 1.9 -1.0 2 -.9 1.9 -.8 2 -.7"/><path d="M503.3,100.7l2 -1.0 1.9 -1.4 2 -1.5 1.9 -1.6 2 -1.5 1.9 -1.5 2 -1.3 1.9 -1.2 2 -1.0 2 -1.0 1.9 -.8 2 -.9 1.9 -.8 2 -.8 1.9 -.8 2 -.7 1.9 -.8 2 -.7 1.9 -.8 2 -.8 2 -.9 1.9 -.8 2 -1.0 1.9 -.9 2 -.9 1.9 -1.0 2 -.9 1.9 -1.0 2 -.9 2 -.8 1.9 -.8 2 -.8 1.9 -.7 2 -.6 1.9 -.6 2 -.7 1.9 -.6 2 -.7 1.9 -.7 2 -.7 2 -.8 1.9 -.9 2 -.8 1.9 -.9 2 -1.0 1.9 -1.0 2 -1.0 1.9 -1.1 2 -1.1 2 -1.0 1.9 -1.1 2 -1.0 1.9 -.9 2 -.9 1.9 -.8 2 -.8 1.9 -.7 2 -.7 1.9 -.7 2 -.7 2 -.8 1.9 -.9 2 -.9 1.9 -1.0 2 -1.0 1.9 -1.0 2 -.9 1.9 -.9 2 -.9 2 -.7 1.9 -.7 2 -.7 1.9 -.7 2 -.6 1.9 -.7 2 -.7 1.9 -.8 2 -.8 1.9 -.9 2 -1.0 2 -1.1 1.9 -1.1 2 -1.1 1.9 -1.1 2 -1.1 1.9 -1.1 2 -.9 1.9 -.9 2 -.8"/><path d="M503.3,93.3l2 -.9 1.9 -.8 2 -.7 1.9 -.6 2 -.6 1.9 -.6 2 -.5 1.9 -.5 2 -.6 2 -.6 1.9 -.7 2 -.7 1.9 -.9 2 -.8 1.9 -.9 2 -1.0 1.9 -1.0 2 -1.0 1.9 -1.0 2 -1.0 2 -1.0 1.9 -.9 2 -.9 1.9 -.8 2 -.8 1.9 -.7 2 -.7 1.9 -.6 2 -.7 2 -.7 1.9 -.8 2 -.8 1.9 -.9 2 -.9 1.9 -.9 2 -1.0 1.9 -.9 2 -.9 1.9 -.8 2 -.8 2 -.8 1.9 -.8 2 -.7 1.9 -.8 2 -.7 1.9 -.8 2 -.7 1.9 -.8 2 -.8 2 -.8 1.9 -.8 2 -.9 1.9 -.9 2 -.9 1.9 -.9 2 -.9 1.9 -1.0 2 -1.0 1.9 -1.1 2 -1.0 2 -1.0 1.9 -1.0 2 -.9 1.9 -.9 2 -.8 1.9 -.8 2 -.7 1.9 -.8 2 -.7 2 -.7 1.9 -.6 2 -.8 1.9 -.8 2 -.8 1.9 -.9 2 -.8 1.9 -1.0 2 -1.0 1.9 -1.1 2 -1.1 2 -1.2 1.9 -1.1 2 -1.3 1.9 -1.2 2 -1.2 1.9 -1.2 2 -1.1 1.9 -1.0 2 -.7"/><path d="M503.3,92.0l2 -.6 1.9 -.7 2 -.7 1.9 -.6 2 -.6 1.9 -.5 2 -.5 1.9 -.4 2 -.4 2 -.5 1.9 -.6 2 -.7 1.9 -.7 2 -.9 1.9 -.8 2 -1.0 1.9 -.9 2 -1.0 1.9 -1.0 2 -.9 2 -.9 1.9 -1.0 2 -1.0 1.9 -1.0 2 -1.1 1.9 -1.3 2 -1.2 1.9 -1.3 2 -1.1 2 -1.1 1.9 -.9 2 -.9 1.9 -.8 2 -.7 1.9 -.7 2 -.5 1.9 -.3 2 -.3 1.9 -.2 2 -.2 2 -.2 1.9 -.4 2 -.5 1.9 -.6 2 -.7 1.9 -.9 2 -.9 1.9 -1.1 2 -1.1 2 -1.2 1.9 -1.1 2 -1.3 1.9 -1.4 2 -1.4 1.9 -1.4 2 -1.3 1.9 -1.3 2 -1.3 1.9 -1.1 2 -1.1 2 -.9 1.9 -.8 2 -.9 1.9 -.8 2 -.7 1.9 -.7 2 -.6 1.9 -.7 2 -.6 2 -.6 1.9 -.7 2 -.7 1.9 -.7 2 -.7 1.9 -.8 2 -.9 1.9 -.9 2 -.9 1.9 -1.0 2 -.9 2 -.9 1.9 -.9 2 -1.0 1.9 -.9 2 -1.0 1.9 -.9 2 -.8 1.9 -.9 2 -.6"/><path d="M503.3,97.0l2 -1.1 1.9 -.9 2 -.9 1.9 -.9 2 -.8 1.9 -1.0 2 -.9 1.9 -1.0 2 -1.0 2 -1.0 1.9 -1.0 2 -1.0 1.9 -.9 2 -.9 1.9 -.8 2 -.7 1.9 -.7 2 -.7 1.9 -.7 2 -.7 2 -.7 1.9 -.7 2 -.8 1.9 -.9 2 -.9 1.9 -.9 2 -1.0 1.9 -.9 2 -1.0 2 -.9 1.9 -.8 2 -.8 1.9 -.8 2 -.7 1.9 -.7 2 -.7 1.9 -.7 2 -.7 1.9 -.7 2 -.8 2 -.7 1.9 -.8 2 -.8 1.9 -.7 2 -.8 1.9 -.9 2 -.9 1.9 -.9 2 -1.0 2 -1.0 1.9 -1.0 2 -1.1 1.9 -1.1 2 -1.1 1.9 -1.1 2 -1.2 1.9 -1.4 2 -1.3 1.9 -1.3 2 -1.2 2 -1.2 1.9 -1.1 2 -1.0 1.9 -1.0 2 -1.0 1.9 -.8 2 -.8 1.9 -.7 2 -.7 2 -.7 1.9 -.6 2 -.7 1.9 -.8 2 -.8 1.9 -.9 2 -.9 1.9 -.9 2 -1.0 1.9 -.9 2 -.8 2 -.8 1.9 -.7 2 -.8 1.9 -.7 2 -.7 1.9 -.7 2 -.7 1.9 -.7 2 -.7"/><path d="M503.3,97.2l2 -.6 1.9 -.7 2 -.8 1.9 -.8 2 -.8 1.9 -.9 2 -1.0 1.9 -.9 2 -.9 2 -1.0 1.9 -.9 2 -.9 1.9 -.9 2 -.9 1.9 -.8 2 -.9 1.9 -.8 2 -.8 1.9 -.8 2 -.8 2 -.8 1.9 -.9 2 -.8 1.9 -1.0 2 -1.0 1.9 -1.0 2 -1.0 1.9 -1.1 2 -1.0 2 -1.0 1.9 -1.0 2 -.8 1.9 -.8 2 -.8 1.9 -.8 2 -.7 1.9 -.8 2 -.8 1.9 -.9 2 -.8 2 -.9 1.9 -.8 2 -.8 1.9 -.8 2 -.8 1.9 -.7 2 -.8 1.9 -.8 2 -.9 2 -.9 1.9 -.9 2 -1.0 1.9 -.9 2 -1.0 1.9 -1.0 2 -1.0 1.9 -.9 2 -.9 1.9 -.9 2 -.9 2 -.8 1.9 -.8 2 -.9 1.9 -.8 2 -.9 1.9 -.9 2 -1.0 1.9 -1.2 2 -1.3 2 -1.3 1.9 -1.3 2 -1.3 1.9 -1.1 2 -1.1 1.9 -.9 2 -.8 1.9 -.7 2 -.7 1.9 -.8 2 -.7 2 -.9 1.9 -.9 2 -1.1 1.9 -1.1 2 -1.1 1.9 -1.1 2 -1.1 1.9 -.9 2 -.7"/><path d="M503.3,97.0l2 -.9 1.9 -.9 2 -.8 1.9 -.9 2 -.8 1.9 -.8 2 -.8 1.9 -.8 2 -.9 2 -.8 1.9 -.8 2 -.8 1.9 -.8 2 -.7 1.9 -.7 2 -.7 1.9 -.7 2 -.6 1.9 -.7 2 -.6 2 -.7 1.9 -.7 2 -.8 1.9 -.8 2 -.9 1.9 -.9 2 -1.0 1.9 -.9 2 -.9 2 -.9 1.9 -.8 2 -.8 1.9 -.8 2 -.8 1.9 -.8 2 -.8 1.9 -.9 2 -1.0 1.9 -1.0 2 -1.0 2 -1.1 1.9 -1.1 2 -1.1 1.9 -1.0 2 -.9 1.9 -.9 2 -.8 1.9 -.8 2 -.8 2 -.8 1.9 -.8 2 -.8 1.9 -.9 2 -.9 1.9 -.9 2 -.9 1.9 -1.0 2 -1.0 1.9 -.9 2 -1.0 2 -.9 1.9 -1.0 2 -.9 1.9 -.9 2 -.8 1.9 -.9 2 -.7 1.9 -.8 2 -.7 2 -.6 1.9 -.6 2 -.7 1.9 -.6 2 -.7 1.9 -.6 2 -.8 1.9 -.7 2 -.8 1.9 -.8 2 -.8 2 -.8 1.9 -.8 2 -.7 1.9 -.6 2 -.6 1.9 -.5 2 -.4 1.9 -.5 2 -.3"/><path d="M503.3,98.8l2 -.6 1.9 -.8 2 -1.0 1.9 -.9 2 -1.0 1.9 -.9 2 -.8 1.9 -.8 2 -.8 2 -.7 1.9 -.8 2 -.8 1.9 -.9 2 -.9 1.9 -1.0 2 -1.0 1.9 -1.1 2 -1.0 1.9 -1.0 2 -1.0 2 -.9 1.9 -.9 2 -.9 1.9 -.9 2 -.9 1.9 -.8 2 -1.0 1.9 -.9 2 -.9 2 -1.0 1.9 -.9 2 -1.0 1.9 -1.1 2 -1.0 1.9 -1.0 2 -1.1 1.9 -1.1 2 -1.1 1.9 -1.1 2 -1.0 2 -1.0 1.9 -.9 2 -.8 1.9 -.8 2 -.7 1.9 -.7 2 -.6 1.9 -.7 2 -.6 2 -.7 1.9 -.7 2 -.7 1.9 -.7 2 -.7 1.9 -.8 2 -.7 1.9 -.8 2 -.8 1.9 -.8 2 -.8 2 -.9 1.9 -.9 2 -.9 1.9 -.9 2 -1.0 1.9 -1.0 2 -1.0 1.9 -.9 2 -.9 2 -.9 1.9 -.9 2 -.8 1.9 -.9 2 -.9 1.9 -.9 2 -.9 1.9 -.9 2 -.9 1.9 -1.0 2 -.9 2 -.8 1.9 -.9 2 -.8 1.9 -.9 2 -.9 1.9 -.9 2 -1.0 1.9 -1.1 2 -1.2"/><path d="M503.3,95.9l2 -.7 1.9 -.7 2 -.6 1.9 -.6 2 -.6 1.9 -.6 2 -.6 1.9 -.7 2 -.7 2 -.8 1.9 -.8 2 -.8 1.9 -.8 2 -.9 1.9 -.9 2 -.8 1.9 -.9 2 -.8 1.9 -.8 2 -.8 2 -.8 1.9 -.9 2 -.8 1.9 -1.0 2 -.9 1.9 -1.1 2 -1.1 1.9 -1.2 2 -1.2 2 -1.3 1.9 -1.5 2 -1.4 1.9 -1.5 2 -1.3 1.9 -1.2 2 -1.1 1.9 -1.0 2 -.8 1.9 -.7 2 -.7 2 -.5 1.9 -.5 2 -.4 1.9 -.4 2 -.4 1.9 -.3 2 -.5 1.9 -.5 2 -.6 2 -.6 1.9 -.7 2 -.8 1.9 -.8 2 -.9 1.9 -.9 2 -1.0 1.9 -1.0 2 -1.0 1.9 -1.0 2 -1.0 2 -1.0 1.9 -1.1 2 -1.0 1.9 -1.0 2 -1.1 1.9 -1.1 2 -.9 1.9 -.7 2 -.7 2 -.7 1.9 -.6 2 -.7 1.9 -.7 2 -.7 1.9 -.7 2 -.8 1.9 -.8 2 -.9 1.9 -1.0 2 -1.0 2 -1.1 1.9 -1.1 2 -1.1 1.9 -1.2 2 -1.3 1.9 -1.3 2 -1.2 1.9 -1.2 2 -.9"/><path d="M503.3,101.4l2 -.6 1.9 -1.0 2 -1.0 1.9 -1.0 2 -1.0 1.9 -1.0 2 -1.0 1.9 -1.0 2 -1.0 2 -1.0 1.9 -1.0 2 -.9 1.9 -.9 2 -1.0 1.9 -1.1 2 -1.2 1.9 -1.2 2 -1.1 1.9 -1.1 2 -1.1 2 -.9 1.9 -.9 2 -.9 1.9 -.9 2 -.9 1.9 -1.0 2 -1.0 1.9 -1.1 2 -1.0 2 -1.2 1.9 -1.1 2 -1.2 1.9 -1.2 2 -1.1 1.9 -1.2 2 -1.0 1.9 -.9 2 -.9 1.9 -.8 2 -.7 2 -.6 1.9 -.5 2 -.6 1.9 -.5 2 -.5 1.9 -.5 2 -.6 1.9 -.7 2 -.7 2 -.9 1.9 -1.0 2 -1.0 1.9 -1.1 2 -1.1 1.9 -1.1 2 -1.1 1.9 -1.0 2 -1.0 1.9 -.8 2 -.9 2 -.7 1.9 -.7 2 -.7 1.9 -.6 2 -.6 1.9 -.6 2 -.6 1.9 -.7 2 -.7 2 -.7 1.9 -.8 2 -.8 1.9 -.9 2 -.8 1.9 -.8 2 -.9 1.9 -.8 2 -.9 1.9 -.8 2 -.8 2 -.8 1.9 -.7 2 -.7 1.9 -.6 2 -.6 1.9 -.7 2 -.9 1.9 -1.0 2 -1.1"/><path d="M503.3,95.5l2 -.9 1.9 -.9 2 -.9 1.9 -.9 2 -.9 1.9 -.8 2 -.9 1.9 -.8 2 -.8 2 -.9 1.9 -.9 2 -.9 1.9 -1.0 2 -1.0 1.9 -.9 2 -.9 1.9 -.9 2 -.9 1.9 -.9 2 -.9 2 -.9 1.9 -1.0 2 -.9 1.9 -1.0 2 -1.0 1.9 -1.0 2 -1.0 1.9 -.9 2 -.8 2 -.6 1.9 -.6 2 -.4 1.9 -.4 2 -.4 1.9 -.4 2 -.6 1.9 -.7 2 -.7 1.9 -.9 2 -1.0 2 -1.0 1.9 -1.1 2 -1.0 1.9 -1.0 2 -.9 1.9 -1.0 2 -.9 1.9 -1.0 2 -.9 2 -1.0 1.9 -1.0 2 -1.1 1.9 -1.1 2 -1.1 1.9 -1.1 2 -1.1 1.9 -1.0 2 -1.0 1.9 -.9 2 -.8 2 -.7 1.9 -.6 2 -.6 1.9 -.5 2 -.5 1.9 -.6 2 -.6 1.9 -.7 2 -.8 2 -.8 1.9 -1.0 2 -1.0 1.9 -1.2 2 -1.1 1.9 -1.2 2 -1.2 1.9 -1.2 2 -1.2 1.9 -1.1 2 -1.0 2 -.9 1.9 -.8 2 -.9 1.9 -.9 2 -.8 1.9 -.8 2 -.7 1.9 -.7 2 -.5"/><path d="M503.3,95.8l2 -.6 1.9 -.8 2 -1.0 1.9 -1.2 2 -1.2 1.9 -1.3 2 -1.2 1.9 -1.1 2 -.9 2 -.9 1.9 -.9 2 -1.0 1.9 -1.0 2 -.9 1.9 -1.0 2 -.8 1.9 -.8 2 -.8 1.9 -.7 2 -.7 2 -.7 1.9 -.7 2 -.7 1.9 -.7 2 -.7 1.9 -.7 2 -.7 1.9 -.6 2 -.7 2 -.7 1.9 -.7 2 -.7 1.9 -.8 2 -.7 1.9 -.8 2 -.8 1.9 -.9 2 -.8 1.9 -.9 2 -.9 2 -.9 1.9 -.8 2 -.9 1.9 -.9 2 -.9 1.9 -.9 2 -.9 1.9 -.9 2 -1.0 2 -1.1 1.9 -1.1 2 -1.1 1.9 -1.1 2 -1.0 1.9 -1.0 2 -1.0 1.9 -.8 2 -.7 1.9 -.7 2 -.6 2 -.5 1.9 -.6 2 -.6 1.9 -.6 2 -.8 1.9 -.8 2 -.7 1.9 -.8 2 -.8 2 -.7 1.9 -.8 2 -.9 1.9 -.8 2 -.9 1.9 -.9 2 -.9 1.9 -1.0 2 -.9 1.9 -.9 2 -.9 2 -.9 1.9 -.9 2 -.8 1.9 -.8 2 -.8 1.9 -.8 2 -.8 1.9 -.9 2 -1.0"/><path d="M503.3,97.6l2 -.8 1.9 -.9 2 -.8 1.9 -.8 2 -.8 1.9 -.9 2 -.8 1.9 -.8 2 -.8 2 -.8 1.9 -.9 2 -.7 1.9 -.8 2 -.8 1.9 -.8 2 -.8 1.9 -.9 2 -.8 1.9 -.8 2 -.9 2 -.9 1.9 -.9 2 -.9 1.9 -1.0 2 -1.0 1.9 -1.0 2 -.9 1.9 -1.0 2 -.9 2 -.8 1.9 -.8 2 -.8 1.9 -.7 2 -.7 1.9 -.8 2 -.8 1.9 -.9 2 -1.0 1.9 -1.1 2 -1.0 2 -1.1 1.9 -1.1 2 -1.0 1.9 -.9 2 -.8 1.9 -.8 2 -.7 1.9 -.7 2 -.7 2 -.6 1.9 -.7 2 -.7 1.9 -.7 2 -.8 1.9 -.8 2 -.8 1.9 -.9 2 -.8 1.9 -.9 2 -.9 2 -.9 1.9 -.8 2 -.9 1.9 -.8 2 -.9 1.9 -.9 2 -.9 1.9 -.9 2 -.9 2 -.9 1.9 -1.0 2 -.9 1.9 -.9 2 -.8 1.9 -.8 2 -.9 1.9 -.8 2 -.8 1.9 -.9 2 -1.0 2 -.9 1.9 -1.0 2 -1.0 1.9 -.9 2 -.8 1.9 -.8 2 -.6 1.9 -.6 2 -.3"/><path d="M503.3,100.8l2 -.8 1.9 -1.2 2 -1.3 1.9 -1.5 2 -1.5 1.9 -1.5 2 -1.4 1.9 -1.4 2 -1.3 2 -1.1 1.9 -1.0 2 -1.0 1.9 -.9 2 -.9 1.9 -.9 2 -.7 1.9 -.7 2 -.6 1.9 -.5 2 -.5 2 -.5 1.9 -.6 2 -.6 1.9 -.6 2 -.8 1.9 -.8 2 -.9 1.9 -1.0 2 -1.1 2 -1.1 1.9 -1.2 2 -1.2 1.9 -1.3 2 -1.2 1.9 -1.3 2 -1.2 1.9 -1.0 2 -1.0 1.9 -.8 2 -.7 2 -.7 1.9 -.6 2 -.7 1.9 -.7 2 -.7 1.9 -.8 2 -.8 1.9 -.9 2 -.9 2 -1.0 1.9 -1.1 2 -1.2 1.9 -1.3 2 -1.3 1.9 -1.4 2 -1.5 1.9 -1.5 2 -1.4 1.9 -1.4 2 -1.1 2 -1.0 1.9 -.9 2 -.7 1.9 -.6 2 -.5 1.9 -.5 2 -.3 1.9 -.3 2 -.4 2 -.4 1.9 -.4 2 -.4 1.9 -.5 2 -.6 1.9 -.7 2 -.8 1.9 -.8 2 -.9 1.9 -.9 2 -.8 2 -.9 1.9 -.9 2 -.9 1.9 -.8 2 -.7 1.9 -.7 2 -.7 1.9 -.5 2 -.5"/><path d="M503.3,98.4l2 -.8 1.9 -1.0 2 -1.1 1.9 -1.0 2 -1.2 1.9 -1.1 2 -1.1 1.9 -1.1 2 -1.1 2 -1.1 1.9 -1.1 2 -1.0 1.9 -1.2 2 -1.1 1.9 -1.2 2 -1.1 1.9 -1.0 2 -.9 1.9 -.8 2 -.7 2 -.5 1.9 -.5 2 -.4 1.9 -.4 2 -.6 1.9 -.6 2 -.8 1.9 -.8 2 -.8 2 -.9 1.9 -.9 2 -.9 1.9 -.9 2 -.9 1.9 -1.0 2 -.9 1.9 -1.0 2 -.9 1.9 -1.0 2 -1.0 2 -1.0 1.9 -1.0 2 -1.0 1.9 -1.0 2 -1.0 1.9 -1.0 2 -.9 1.9 -.9 2 -.8 2 -.7 1.9 -.6 2 -.6 1.9 -.5 2 -.6 1.9 -.7 2 -.6 1.9 -.7 2 -.7 1.9 -.7 2 -.7 2 -.8 1.9 -.7 2 -.7 1.9 -.8 2 -.7 1.9 -.8 2 -.9 1.9 -.8 2 -.9 2 -.9 1.9 -1.0 2 -1.0 1.9 -1.0 2 -1.1 1.9 -1.1 2 -1.1 1.9 -1.0 2 -1.1 1.9 -1.1 2 -.9 2 -1.0 1.9 -.9 2 -.8 1.9 -.7 2 -.7 1.9 -.6 2 -.6 1.9 -.4 2 -.5"/><path d="M503.3,97.0l2 -.7 1.9 -.7 2 -.6 1.9 -.7 2 -.7 1.9 -.7 2 -.8 1.9 -.8 2 -.8 2 -.8 1.9 -.7 2 -.7 1.9 -.7 2 -.7 1.9 -.6 2 -.7 1.9 -.7 2 -.8 1.9 -.9 2 -.9 2 -1.0 1.9 -1.0 2 -1.2 1.9 -1.2 2 -1.2 1.9 -1.3 2 -1.2 1.9 -1.2 2 -1.0 2 -1.0 1.9 -.7 2 -.7 1.9 -.6 2 -.5 1.9 -.5 2 -.5 1.9 -.6 2 -.8 1.9 -.8 2 -1.0 2 -1.0 1.9 -1.0 2 -1.1 1.9 -1.1 2 -1.1 1.9 -1.1 2 -1.0 1.9 -.9 2 -.9 2 -.9 1.9 -.8 2 -.9 1.9 -.7 2 -.8 1.9 -.8 2 -.8 1.9 -.8 2 -.8 1.9 -.8 2 -.8 2 -.9 1.9 -.9 2 -.9 1.9 -.9 2 -1.0 1.9 -.9 2 -1.0 1.9 -.9 2 -.9 2 -.9 1.9 -.9 2 -.9 1.9 -.9 2 -.8 1.9 -.8 2 -.8 1.9 -.7 2 -.8 1.9 -.6 2 -.7 2 -.6 1.9 -.6 2 -.5 1.9 -.5 2 -.4 1.9 -.5 2 -.6 1.9 -.7 2 -.8"/><path d="M503.3,97.0l2 -1.1 1.9 -1.1 2 -1.1 1.9 -1.0 2 -1.0 1.9 -.9 2 -.9 1.9 -.8 2 -.9 2 -.8 1.9 -.8 2 -.8 1.9 -.7 2 -.8 1.9 -.7 2 -.7 1.9 -.7 2 -.9 1.9 -.8 2 -1.0 2 -1.0 1.9 -1.1 2 -1.1 1.9 -1.1 2 -1.2 1.9 -1.1 2 -1.1 1.9 -1.1 2 -1.0 2 -.9 1.9 -.9 2 -.9 1.9 -.8 2 -.9 1.9 -.8 2 -.8 1.9 -.9 2 -.8 1.9 -.8 2 -.8 2 -.7 1.9 -.7 2 -.7 1.9 -.6 2 -.7 1.9 -.6 2 -.6 1.9 -.6 2 -.7 2 -.7 1.9 -.7 2 -.8 1.9 -.9 2 -.8 1.9 -.9 2 -1.0 1.9 -.9 2 -.9 1.9 -.9 2 -.9 2 -.8 1.9 -.7 2 -.7 1.9 -.7 2 -.6 1.9 -.7 2 -.8 1.9 -.8 2 -.8 2 -.9 1.9 -.9 2 -1.0 1.9 -.9 2 -1.0 1.9 -.8 2 -.9 1.9 -.8 2 -.8 1.9 -.8 2 -.7 2 -.8 1.9 -.8 2 -.6 1.9 -.6 2 -.6 1.9 -.4 2 -.4 1.9 -.4 2 -.2"/><path d="M503.3,96.0l2 -1.0 1.9 -.9 2 -.9 1.9 -.8 2 -.7 1.9 -.7 2 -.7 1.9 -.7 2 -.7 2 -.6 1.9 -.6 2 -.7 1.9 -.6 2 -.7 1.9 -.8 2 -.7 1.9 -.8 2 -.7 1.9 -.8 2 -.8 2 -.8 1.9 -.8 2 -.9 1.9 -.9 2 -1.0 1.9 -1.0 2 -1.0 1.9 -1.0 2 -1.0 2 -.9 1.9 -1.0 2 -.9 1.9 -.9 2 -.9 1.9 -.8 2 -.9 1.9 -.9 2 -1.0 1.9 -1.0 2 -1.0 2 -1.0 1.9 -1.1 2 -1.1 1.9 -1.1 2 -1.1 1.9 -1.0 2 -1.1 1.9 -.9 2 -.9 2 -.7 1.9 -.7 2 -.4 1.9 -.4 2 -.5 1.9 -.6 2 -.5 1.9 -.5 2 -.6 1.9 -.7 2 -.7 2 -.7 1.9 -.8 2 -.8 1.9 -.8 2 -.9 1.9 -.8 2 -.9 1.9 -.8 2 -.9 2 -.8 1.9 -.8 2 -.9 1.9 -.8 2 -.8 1.9 -.8 2 -.9 1.9 -.9 2 -.9 1.9 -1.0 2 -1.1 2 -1.2 1.9 -1.2 2 -1.2 1.9 -1.1 2 -1.2 1.9 -1.1 2 -1.1 1.9 -1.0 2 -.8"/><path d="M503.3,94.5l2 -.4 1.9 -.4 2 -.5 1.9 -.4 2 -.5 1.9 -.5 2 -.6 1.9 -.6 2 -.7 2 -.7 1.9 -.8 2 -.9 1.9 -.8 2 -.9 1.9 -1.0 2 -.9 1.9 -1.0 2 -1.0 1.9 -1.0 2 -1.0 2 -1.1 1.9 -1.0 2 -1.0 1.9 -1.1 2 -1.0 1.9 -1.1 2 -1.0 1.9 -1.1 2 -1.0 2 -1.0 1.9 -1.0 2 -1.1 1.9 -1.0 2 -.9 1.9 -1.0 2 -.9 1.9 -.9 2 -.9 1.9 -.9 2 -.9 2 -.8 1.9 -.8 2 -.8 1.9 -.9 2 -.9 1.9 -1.0 2 -1.0 1.9 -1.0 2 -1.0 2 -1.0 1.9 -1.0 2 -1.0 1.9 -.9 2 -.9 1.9 -.8 2 -.8 1.9 -.7 2 -.6 1.9 -.5 2 -.3 2 -.2 1.9 -.2 2 -.4 1.9 -.5 2 -.6 1.9 -.6 2 -.7 1.9 -.8 2 -.8 2 -.9 1.9 -1.0 2 -1.0 1.9 -1.0 2 -1.0 1.9 -1.0 2 -1.0 1.9 -1.0 2 -.9 1.9 -.9 2 -.9 2 -.9 1.9 -.8 2 -.8 1.9 -.9 2 -.8 1.9 -1.0 2 -.9 1.9 -1.1 2 -1.1"/><path d="M503.3,95.6l2 -1.1 1.9 -.9 2 -.8 1.9 -.7 2 -.7 1.9 -.7 2 -.7 1.9 -.7 2 -.7 2 -.8 1.9 -.9 2 -.8 1.9 -.9 2 -.9 1.9 -1.0 2 -.9 1.9 -1.0 2 -1.0 1.9 -1.0 2 -1.0 2 -.9 1.9 -.9 2 -.9 1.9 -.8 2 -.7 1.9 -.7 2 -.6 1.9 -.5 2 -.5 2 -.5 1.9 -.4 2 -.4 1.9 -.5 2 -.5 1.9 -.5 2 -.7 1.9 -.8 2 -.8 1.9 -.9 2 -.9 2 -.9 1.9 -1.0 2 -1.0 1.9 -1.0 2 -1.1 1.9 -1.0 2 -.9 1.9 -1.0 2 -.9 2 -.9 1.9 -.8 2 -.9 1.9 -.9 2 -.9 1.9 -1.0 2 -.9 1.9 -1.1 2 -1.0 1.9 -1.1 2 -1.0 2 -1.1 1.9 -1.1 2 -1.0 1.9 -1.0 2 -1.2 1.9 -.9 2 -.9 1.9 -.7 2 -.6 2 -.7 1.9 -.6 2 -.6 1.9 -.7 2 -.6 1.9 -.7 2 -.7 1.9 -.8 2 -.9 1.9 -.9 2 -1.1 2 -1.1 1.9 -1.2 2 -1.3 1.9 -1.2 2 -1.3 1.9 -1.1 2 -1.0 1.9 -.7 2 -.5"/><path d="M503.3,95.0l2 -.6 1.9 -.6 2 -.6 1.9 -.7 2 -.8 1.9 -.8 2 -.9 1.9 -.9 2 -.9 2 -.9 1.9 -.9 2 -.9 1.9 -.9 2 -.8 1.9 -.8 2 -.7 1.9 -.7 2 -.7 1.9 -.7 2 -.6 2 -.8 1.9 -.8 2 -.8 1.9 -.9 2 -.9 1.9 -1.0 2 -1.0 1.9 -1.1 2 -1.2 2 -1.1 1.9 -1.1 2 -1.1 1.9 -1.0 2 -1.0 1.9 -.9 2 -.8 1.9 -.7 2 -.7 1.9 -.7 2 -.7 2 -.7 1.9 -.7 2 -.8 1.9 -.8 2 -.9 1.9 -.9 2 -1.0 1.9 -1.0 2 -1.0 2 -1.1 1.9 -1.0 2 -1.1 1.9 -1.2 2 -1.3 1.9 -1.3 2 -1.5 1.9 -1.5 2 -1.5 1.9 -1.3 2 -1.2 2 -.9 1.9 -.7 2 -.6 1.9 -.4 2 -.3 1.9 -.3 2 -.4 1.9 -.5 2 -.7 2 -.9 1.9 -.9 2 -1.0 1.9 -.9 2 -.9 1.9 -.8 2 -.7 1.9 -.6 2 -.6 1.9 -.6 2 -.6 2 -.6 1.9 -.7 2 -.8 1.9 -.9 2 -.9 1.9 -1.0 2 -1.1 1.9 -1.1 2 -1.0"/><path d="M503.3,94.8l2 -.4 1.9 -.4 2 -.5 1.9 -.6 2 -.6 1.9 -.6 2 -.8 1.9 -.8 2 -.8 2 -.9 1.9 -1.0 2 -1.0 1.9 -1.0 2 -1.0 1.9 -1.1 2 -1.0 1.9 -1.1 2 -1.1 1.9 -1.0 2 -1.1 2 -1.1 1.9 -1.0 2 -1.1 1.9 -1.0 2 -1.1 1.9 -1.1 2 -1.1 1.9 -1.0 2 -.9 2 -.8 1.9 -.8 2 -.8 1.9 -.7 2 -.8 1.9 -.7 2 -.7 1.9 -.8 2 -.8 1.9 -.8 2 -.9 2 -.9 1.9 -.9 2 -.9 1.9 -1.0 2 -1.0 1.9 -1.0 2 -1.0 1.9 -1.0 2 -.9 2 -.8 1.9 -.7 2 -.6 1.9 -.5 2 -.4 1.9 -.2 2 -.3 1.9 -.3 2 -.5 1.9 -.6 2 -.7 2 -.6 1.9 -.7 2 -.7 1.9 -.8 2 -.8 1.9 -.9 2 -.8 1.9 -.9 2 -.9 2 -.9 1.9 -1.0 2 -1.0 1.9 -1.1 2 -1.1 1.9 -1.2 2 -1.2 1.9 -1.4 2 -1.4 1.9 -1.2 2 -1.0 2 -.9 1.9 -.8 2 -.7 1.9 -.7 2 -.8 1.9 -.8 2 -1.0 1.9 -1.1 2 -1.0"/><path d="M503.3,92.4l2 -.2 1.9 -.3 2 -.3 1.9 -.4 2 -.5 1.9 -.5 2 -.6 1.9 -.7 2 -.7 2 -.8 1.9 -.8 2 -.9 1.9 -.9 2 -.9 1.9 -.9 2 -.9 1.9 -.9 2 -1.0 1.9 -.9 2 -.9 2 -.9 1.9 -.9 2 -.9 1.9 -.8 2 -.8 1.9 -.8 2 -.7 1.9 -.8 2 -.7 2 -.8 1.9 -.9 2 -.9 1.9 -.9 2 -1.0 1.9 -1.1 2 -1.0 1.9 -1.1 2 -1.1 1.9 -1.1 2 -.9 2 -.9 1.9 -.8 2 -.7 1.9 -.6 2 -.6 1.9 -.5 2 -.5 1.9 -.5 2 -.6 2 -.8 1.9 -.8 2 -.9 1.9 -.9 2 -1.0 1.9 -.9 2 -1.0 1.9 -.9 2 -.8 1.9 -.8 2 -.9 2 -.8 1.9 -.9 2 -1.0 1.9 -1.1 2 -1.2 1.9 -1.2 2 -1.2 1.9 -1.2 2 -1.1 2 -1.2 1.9 -1.0 2 -1.0 1.9 -.9 2 -.8 1.9 -.8 2 -.7 1.9 -.7 2 -.7 1.9 -.8 2 -.7 2 -.8 1.9 -.8 2 -.9 1.9 -.8 2 -.8 1.9 -.6 2 -.6 1.9 -.4 2 -.3"/><path d="M503.3,95.0l2 -.8 1.9 -.7 2 -.6 1.9 -.5 2 -.5 1.9 -.4 2 -.3 1.9 -.3 2 -.4 2 -.4 1.9 -.6 2 -.7 1.9 -.8 2 -.9 1.9 -1.0 2 -1.1 1.9 -1.2 2 -1.3 1.9 -1.3 2 -1.2 2 -1.3 1.9 -1.2 2 -1.3 1.9 -1.3 2 -1.3 1.9 -1.3 2 -1.3 1.9 -1.2 2 -1.1 2 -.9 1.9 -.8 2 -.8 1.9 -.7 2 -.7 1.9 -.6 2 -.6 1.9 -.6 2 -.6 1.9 -.6 2 -.7 2 -.6 1.9 -.7 2 -.6 1.9 -.7 2 -.6 1.9 -.7 2 -.8 1.9 -.9 2 -.9 2 -1.1 1.9 -1.3 2 -1.4 1.9 -1.6 2 -1.6 1.9 -1.6 2 -1.5 1.9 -1.5 2 -1.2 1.9 -1.2 2 -.9 2 -.8 1.9 -.6 2 -.5 1.9 -.3 2 -.3 1.9 -.3 2 -.3 1.9 -.3 2 -.4 2 -.4 1.9 -.5 2 -.5 1.9 -.6 2 -.7 1.9 -.7 2 -.7 1.9 -.7 2 -.8 1.9 -.9 2 -1.0 2 -1.0 1.9 -1.2 2 -1.5 1.9 -1.6 2 -1.7 1.9 -1.9 2 -1.8 1.9 -1.7 2 -1.2"/><path d="M503.3,97.3l2 -.4 1.9 -.5 2 -.6 1.9 -.6 2 -.9 1.9 -.9 2 -1.0 1.9 -1.1 2 -1.2 2 -1.1 1.9 -1.0 2 -.9 1.9 -.8 2 -.7 1.9 -.6 2 -.6 1.9 -.6 2 -.6 1.9 -.7 2 -.9 2 -.9 1.9 -.9 2 -1.0 1.9 -1.1 2 -1.0 1.9 -1.1 2 -1.0 1.9 -1.1 2 -1.0 2 -1.0 1.9 -1.0 2 -1.0 1.9 -1.0 2 -1.0 1.9 -.9 2 -1.0 1.9 -.8 2 -.9 1.9 -.9 2 -.8 2 -.8 1.9 -.8 2 -.8 1.9 -.7 2 -.8 1.9 -.8 2 -.7 1.9 -.8 2 -.7 2 -.7 1.9 -.7 2 -.7 1.9 -.7 2 -.6 1.9 -.8 2 -.7 1.9 -.8 2 -.8 1.9 -.9 2 -.8 2 -.9 1.9 -.9 2 -.9 1.9 -1.0 2 -.9 1.9 -1.0 2 -.9 1.9 -.9 2 -.9 2 -.8 1.9 -.8 2 -.7 1.9 -.8 2 -.7 1.9 -.7 2 -.7 1.9 -.8 2 -.7 1.9 -.8 2 -.8 2 -.7 1.9 -.8 2 -.7 1.9 -.6 2 -.5 1.9 -.6 2 -.6 1.9 -.6 2 -.6"/><path d="M503.3,100.6l2 -1.0 1.9 -1.2 2 -1.4 1.9 -1.4 2 -1.5 1.9 -1.3 2 -1.3 1.9 -1.3 2 -1.2 2 -1.1 1.9 -1.1 2 -1.0 1.9 -1.1 2 -1.0 1.9 -1.1 2 -.9 1.9 -.9 2 -.8 1.9 -.6 2 -.5 2 -.4 1.9 -.4 2 -.4 1.9 -.4 2 -.6 1.9 -.7 2 -.8 1.9 -.9 2 -1.0 2 -1.0 1.9 -1.1 2 -1.1 1.9 -1.1 2 -1.1 1.9 -1.1 2 -1.0 1.9 -1.0 2 -.8 1.9 -.9 2 -.7 2 -.8 1.9 -.7 2 -.8 1.9 -.7 2 -.9 1.9 -.8 2 -1.0 1.9 -.9 2 -1.1 2 -1.0 1.9 -1.2 2 -1.2 1.9 -1.2 2 -1.1 1.9 -1.0 2 -.8 1.9 -.7 2 -.4 1.9 -.4 2 -.5 2 -.6 1.9 -.6 2 -.6 1.9 -.6 2 -.6 1.9 -.7 2 -.7 1.9 -.8 2 -.8 2 -.8 1.9 -.9 2 -.8 1.9 -1.0 2 -.9 1.9 -1.0 2 -1.1 1.9 -1.1 2 -1.0 1.9 -1.1 2 -1.0 2 -1.0 1.9 -1.0 2 -.8 1.9 -.8 2 -.6 1.9 -.6 2 -.4 1.9 -.4 2 -.3"/><path d="M503.3,94.1l2 -.4 1.9 -.5 2 -.6 1.9 -.6 2 -.7 1.9 -.7 2 -.9 1.9 -.8 2 -.9 2 -1.0 1.9 -.9 2 -1.0 1.9 -1.0 2 -.9 1.9 -.9 2 -.9 1.9 -.7 2 -.7 1.9 -.6 2 -.5 2 -.5 1.9 -.5 2 -.6 1.9 -.7 2 -.7 1.9 -.9 2 -.9 1.9 -1.0 2 -1.1 2 -1.1 1.9 -1.1 2 -1.1 1.9 -1.1 2 -1.1 1.9 -1.0 2 -.9 1.9 -.8 2 -.7 1.9 -.7 2 -.6 2 -.6 1.9 -.6 2 -.6 1.9 -.6 2 -.5 1.9 -.7 2 -.7 1.9 -.7 2 -.9 2 -1.0 1.9 -1.0 2 -1.1 1.9 -1.1 2 -1.2 1.9 -1.2 2 -1.4 1.9 -1.5 2 -1.6 1.9 -1.5 2 -1.5 2 -1.3 1.9 -1.2 2 -1.1 1.9 -.9 2 -.8 1.9 -.7 2 -.4 1.9 -.3 2 -.2 2 -.2 1.9 -.3 2 -.5 1.9 -.7 2 -.9 1.9 -1.2 2 -1.4 1.9 -1.4 2 -1.4 1.9 -1.2 2 -1.1 2 -.8 1.9 -.7 2 -.5 1.9 -.6 2 -.6 1.9 -.6 2 -.8 1.9 -.9 2 -1.0"/><path d="M503.3,98.1l2 -.4 1.9 -.5 2 -.6 1.9 -.7 2 -.8 1.9 -1.0 2 -1.0 1.9 -1.1 2 -1.1 2 -1.1 1.9 -1.1 2 -.9 1.9 -.9 2 -.8 1.9 -.6 2 -.7 1.9 -.5 2 -.6 1.9 -.6 2 -.8 2 -.8 1.9 -.8 2 -1.0 1.9 -1.1 2 -1.2 1.9 -1.4 2 -1.5 1.9 -1.5 2 -1.5 2 -1.7 1.9 -1.4 2 -1.2 1.9 -1.0 2 -.9 1.9 -.8 2 -.7 1.9 -.7 2 -.7 1.9 -.8 2 -.7 2 -.7 1.9 -.7 2 -.7 1.9 -.6 2 -.6 1.9 -.6 2 -.6 1.9 -.7 2 -.7 2 -.9 1.9 -1.0 2 -1.1 1.9 -1.1 2 -1.3 1.9 -1.4 2 -1.4 1.9 -1.3 2 -1.3 1.9 -1.2 2 -1.1 2 -.9 1.9 -.9 2 -.8 1.9 -.8 2 -.6 1.9 -.6 2 -.5 1.9 -.4 2 -.4 2 -.3 1.9 -.2 2 -.6 1.9 -.5 2 -.6 1.9 -.5 2 -.6 1.9 -.6 2 -.7 1.9 -.7 2 -.7 2 -.8 1.9 -.8 2 -.7 1.9 -.6 2 -.5 1.9 -.4 2 -.4 1.9 -.4 2 -.2"/><path d="M503.3,97.9l2 -.8 1.9 -1.0 2 -1.0 1.9 -1.0 2 -1.1 1.9 -1.1 2 -1.0 1.9 -1.1 2 -1.1 2 -1.0 1.9 -1.0 2 -1.1 1.9 -1.1 2 -1.2 1.9 -1.2 2 -1.2 1.9 -1.2 2 -1.1 1.9 -1.1 2 -1.1 2 -.9 1.9 -1.0 2 -.8 1.9 -.8 2 -.7 1.9 -.6 2 -.7 1.9 -.6 2 -.6 2 -.6 1.9 -.8 2 -.8 1.9 -.8 2 -.9 1.9 -.8 2 -.8 1.9 -.7 2 -.7 1.9 -.6 2 -.5 2 -.6 1.9 -.6 2 -.7 1.9 -.7 2 -.8 1.9 -.9 2 -.9 1.9 -1.0 2 -1.0 2 -1.0 1.9 -1.1 2 -1.1 1.9 -1.0 2 -.9 1.9 -.8 2 -.7 1.9 -.6 2 -.5 1.9 -.7 2 -.7 2 -.7 1.9 -.7 2 -.8 1.9 -.8 2 -.9 1.9 -.8 2 -.9 1.9 -.8 2 -.8 2 -.8 1.9 -.9 2 -.8 1.9 -.9 2 -.9 1.9 -1.0 2 -1.0 1.9 -1.1 2 -1.1 1.9 -1.2 2 -1.4 2 -1.3 1.9 -1.3 2 -1.2 1.9 -1.2 2 -1.0 1.9 -1.0 2 -.7 1.9 -.6 2 -.4"/><path d="M503.3,100.8l2 -.7 1.9 -1.0 2 -1.0 1.9 -1.2 2 -1.3 1.9 -1.4 2 -1.4 1.9 -1.6 2 -1.5 2 -1.6 1.9 -1.3 2 -1.3 1.9 -1.2 2 -1.3 1.9 -1.1 2 -1.1 1.9 -1.0 2 -1.0 1.9 -.8 2 -.7 2 -.7 1.9 -.5 2 -.4 1.9 -.4 2 -.4 1.9 -.5 2 -.6 1.9 -.6 2 -.7 2 -.8 1.9 -.8 2 -.9 1.9 -.9 2 -1.0 1.9 -.9 2 -1.0 1.9 -.9 2 -.9 1.9 -.8 2 -.9 2 -.8 1.9 -.8 2 -.9 1.9 -.9 2 -.9 1.9 -1.0 2 -1.0 1.9 -.9 2 -1.0 2 -.9 1.9 -.9 2 -.8 1.9 -.9 2 -.8 1.9 -.8 2 -.8 1.9 -.9 2 -.8 1.9 -.9 2 -.8 2 -.9 1.9 -.9 2 -.8 1.9 -.9 2 -.8 1.9 -.9 2 -.8 1.9 -.7 2 -.8 2 -.7 1.9 -.7 2 -.7 1.9 -.7 2 -.7 1.9 -.7 2 -.8 1.9 -.7 2 -.7 1.9 -.7 2 -.7 2 -.7 1.9 -.7 2 -.6 1.9 -.5 2 -.5 1.9 -.5 2 -.5 1.9 -.6 2 -.6"/><path d="M503.3,96.3l2 -.9 1.9 -1.0 2 -1.0 1.9 -1.1 2 -1.0 1.9 -.9 2 -1.0 1.9 -.8 2 -.8 2 -.8 1.9 -.8 2 -.8 1.9 -.7 2 -.7 1.9 -.6 2 -.6 1.9 -.6 2 -.7 1.9 -.6 2 -.8 2 -.8 1.9 -.9 2 -.9 1.9 -.9 2 -.9 1.9 -1.0 2 -.9 1.9 -1.0 2 -1.0 2 -1.0 1.9 -1.2 2 -1.2 1.9 -1.2 2 -1.3 1.9 -1.3 2 -1.2 1.9 -1.2 2 -1.1 1.9 -1.1 2 -.9 2 -.9 1.9 -.8 2 -.9 1.9 -.8 2 -.9 1.9 -.9 2 -1.0 1.9 -.8 2 -.8 2 -.8 1.9 -.7 2 -.7 1.9 -.8 2 -.8 1.9 -1.0 2 -1.0 1.9 -1.1 2 -1.1 1.9 -1.1 2 -.9 2 -.7 1.9 -.6 2 -.5 1.9 -.3 2 -.4 1.9 -.5 2 -.7 1.9 -.8 2 -1.0 2 -1.2 1.9 -1.2 2 -1.2 1.9 -1.0 2 -.9 1.9 -.7 2 -.6 1.9 -.3 2 -.3 1.9 -.2 2 -.3 2 -.4 1.9 -.6 2 -.5 1.9 -.7 2 -.8 1.9 -1.2 2 -1.4 1.9 -1.8 2 -2.1"/><path d="M503.3,96.5l2 -1.0 1.9 -1.0 2 -.8 1.9 -.9 2 -.8 1.9 -.9 2 -.8 1.9 -.8 2 -.8 2 -.8 1.9 -.8 2 -.7 1.9 -.6 2 -.7 1.9 -.6 2 -.6 1.9 -.7 2 -.7 1.9 -.8 2 -.9 2 -.9 1.9 -1.0 2 -1.1 1.9 -1.1 2 -1.1 1.9 -1.1 2 -1.1 1.9 -1.1 2 -1.2 2 -1.1 1.9 -1.0 2 -1.0 1.9 -1.0 2 -1.0 1.9 -.9 2 -.9 1.9 -1.0 2 -.9 1.9 -1.0 2 -.9 2 -.9 1.9 -.9 2 -.8 1.9 -.9 2 -.9 1.9 -.9 2 -1.0 1.9 -1.0 2 -1.0 2 -1.2 1.9 -1.2 2 -1.2 1.9 -1.2 2 -1.1 1.9 -.9 2 -.9 1.9 -.6 2 -.4 1.9 -.3 2 -.2 2 -.3 1.9 -.3 2 -.5 1.9 -.5 2 -.6 1.9 -.8 2 -.7 1.9 -.7 2 -.7 2 -.6 1.9 -.6 2 -.7 1.9 -.6 2 -.7 1.9 -.8 2 -.8 1.9 -1.0 2 -1.0 1.9 -1.1 2 -1.1 2 -1.3 1.9 -1.2 2 -1.2 1.9 -1.4 2 -1.2 1.9 -1.1 2 -1.0 1.9 -.7 2 -.6"/><path d="M503.3,99.3l2 -.7 1.9 -.9 2 -1.0 1.9 -1.0 2 -1.0 1.9 -1.1 2 -1.0 1.9 -1.0 2 -.9 2 -1.0 1.9 -.9 2 -.9 1.9 -.9 2 -.9 1.9 -.9 2 -1.0 1.9 -1.0 2 -1.0 1.9 -1.1 2 -1.1 2 -1.0 1.9 -1.1 2 -1.1 1.9 -1.1 2 -1.0 1.9 -1.0 2 -.9 1.9 -.9 2 -.7 2 -.7 1.9 -.7 2 -.6 1.9 -.7 2 -.6 1.9 -.7 2 -.6 1.9 -.7 2 -.7 1.9 -.7 2 -.8 2 -.8 1.9 -.9 2 -.9 1.9 -1.0 2 -1.0 1.9 -1.0 2 -1.0 1.9 -1.0 2 -1.0 2 -1.0 1.9 -1.0 2 -.9 1.9 -.9 2 -1.0 1.9 -.9 2 -1.0 1.9 -1.3 2 -1.3 1.9 -1.4 2 -1.5 2 -1.4 1.9 -1.5 2 -1.4 1.9 -1.3 2 -1.2 1.9 -1.0 2 -.9 1.9 -.8 2 -.6 2 -.6 1.9 -.4 2 -.3 1.9 -.3 2 -.3 1.9 -.3 2 -.3 1.9 -.5 2 -.4 1.9 -.7 2 -.6 2 -.7 1.9 -.7 2 -.7 1.9 -.7 2 -.6 1.9 -.6 2 -.5 1.9 -.6 2 -.4"/><path d="M503.3,96.2l2 -1.0 1.9 -.9 2 -1.0 1.9 -.9 2 -1.0 1.9 -.9 2 -1.0 1.9 -.9 2 -.9 2 -.9 1.9 -.9 2 -.9 1.9 -.9 2 -.9 1.9 -.8 2 -.8 1.9 -.8 2 -.8 1.9 -.7 2 -.8 2 -.8 1.9 -.8 2 -.7 1.9 -.8 2 -.8 1.9 -.8 2 -.8 1.9 -.8 2 -.9 2 -1.1 1.9 -1.1 2 -1.2 1.9 -1.3 2 -1.3 1.9 -1.3 2 -1.1 1.9 -1.1 2 -.9 1.9 -.9 2 -.9 2 -.8 1.9 -.8 2 -.8 1.9 -.9 2 -.9 1.9 -1.1 2 -1.1 1.9 -1.1 2 -1.1 2 -1.0 1.9 -1.1 2 -1.0 1.9 -1.0 2 -1.0 1.9 -1.0 2 -1.0 1.9 -1.0 2 -1.0 1.9 -1.0 2 -.8 2 -.8 1.9 -.6 2 -.6 1.9 -.5 2 -.5 1.9 -.5 2 -.6 1.9 -.7 2 -.8 2 -1.0 1.9 -1.1 2 -1.2 1.9 -1.1 2 -1.2 1.9 -1.0 2 -1.0 1.9 -.9 2 -.8 1.9 -.7 2 -.7 2 -.7 1.9 -.5 2 -.5 1.9 -.4 2 -.5 1.9 -.6 2 -.8 1.9 -1.0 2 -.9"/><path d="M503.3,93.3l2 -.7 1.9 -.7 2 -.7 1.9 -.7 2 -.6 1.9 -.5 2 -.5 1.9 -.5 2 -.6 2 -.6 1.9 -.6 2 -.8 1.9 -.7 2 -.9 1.9 -.8 2 -.9 1.9 -.8 2 -.9 1.9 -.8 2 -.7 2 -.7 1.9 -.7 2 -.7 1.9 -.7 2 -.8 1.9 -.8 2 -.8 1.9 -.8 2 -.8 2 -.9 1.9 -.9 2 -.9 1.9 -.8 2 -.9 1.9 -1.0 2 -.9 1.9 -.9 2 -1.0 1.9 -.9 2 -1.0 2 -.9 1.9 -1.0 2 -1.0 1.9 -1.0 2 -.9 1.9 -1.0 2 -1.0 1.9 -1.0 2 -1.0 2 -.9 1.9 -1.0 2 -.8 1.9 -.9 2 -.7 1.9 -.7 2 -.6 1.9 -.6 2 -.7 1.9 -.8 2 -.8 2 -1.0 1.9 -1.1 2 -1.5 1.9 -1.6 2 -1.6 1.9 -1.6 2 -1.5 1.9 -1.3 2 -1.2 2 -.9 1.9 -.9 2 -.7 1.9 -.7 2 -.6 1.9 -.6 2 -.6 1.9 -.6 2 -.5 1.9 -.5 2 -.5 2 -.5 1.9 -.5 2 -.6 1.9 -.6 2 -.6 1.9 -.7 2 -.7 1.9 -.8 2 -.8"/><path d="M503.3,99.2l2 -.9 1.9 -1.4 2 -1.5 1.9 -1.6 2 -1.6 1.9 -1.5 2 -1.3 1.9 -1.2 2 -1.0 2 -.9 1.9 -.9 2 -.8 1.9 -.7 2 -.5 1.9 -.4 2 -.4 1.9 -.3 2 -.5 1.9 -.6 2 -.8 2 -1.0 1.9 -1.0 2 -1.1 1.9 -1.2 2 -1.0 1.9 -1.1 2 -1.0 1.9 -.9 2 -.8 2 -.8 1.9 -.8 2 -.7 1.9 -.8 2 -.8 1.9 -.9 2 -.9 1.9 -.9 2 -1.0 1.9 -1.0 2 -.9 2 -.9 1.9 -.9 2 -.7 1.9 -.7 2 -.6 1.9 -.6 2 -.6 1.9 -.7 2 -.7 2 -.8 1.9 -.9 2 -.9 1.9 -1.1 2 -1.1 1.9 -1.1 2 -1.1 1.9 -1.3 2 -1.3 1.9 -1.2 2 -1.2 2 -.9 1.9 -.8 2 -.6 1.9 -.5 2 -.4 1.9 -.4 2 -.7 1.9 -.7 2 -.7 2 -.7 1.9 -.7 2 -.8 1.9 -.9 2 -.8 1.9 -.9 2 -.9 1.9 -.8 2 -.9 1.9 -.9 2 -.9 2 -.9 1.9 -.8 2 -.9 1.9 -.9 2 -.9 1.9 -1.0 2 -1.1 1.9 -1.3 2 -1.3"/><path d="M503.3,96.1l2 -.8 1.9 -1.0 2 -1.0 1.9 -1.0 2 -1.0 1.9 -1.0 2 -.8 1.9 -.8 2 -.6 2 -.7 1.9 -.6 2 -.6 1.9 -.4 2 -.4 1.9 -.4 2 -.6 1.9 -.6 2 -.7 1.9 -.9 2 -1.0 2 -1.1 1.9 -1.1 2 -1.2 1.9 -1.1 2 -1.1 1.9 -.9 2 -1.0 1.9 -.8 2 -.9 2 -.8 1.9 -.9 2 -.9 1.9 -1.0 2 -1.0 1.9 -1.0 2 -1.2 1.9 -1.2 2 -1.2 1.9 -1.2 2 -1.1 2 -1.0 1.9 -.9 2 -.8 1.9 -.7 2 -.6 1.9 -.6 2 -.5 1.9 -.5 2 -.5 2 -.6 1.9 -.7 2 -.8 1.9 -.9 2 -1.0 1.9 -1.1 2 -1.2 1.9 -1.5 2 -1.6 1.9 -1.6 2 -1.5 2 -1.3 1.9 -1.2 2 -1.0 1.9 -.9 2 -.8 1.9 -.8 2 -.8 1.9 -.9 2 -.9 2 -.9 1.9 -1.0 2 -.9 1.9 -.9 2 -.8 1.9 -.7 2 -.6 1.9 -.5 2 -.5 1.9 -.4 2 -.4 2 -.4 1.9 -.4 2 -.5 1.9 -.6 2 -.6 1.9 -.8 2 -.8 1.9 -.8 2 -1.0"/><path d="M503.3,96.3l2 -.6 1.9 -.8 2 -.7 1.9 -.8 2 -.8 1.9 -.8 2 -.8 1.9 -.9 2 -.8 2 -.8 1.9 -.8 2 -.8 1.9 -.8 2 -.9 1.9 -.9 2 -.9 1.9 -1.0 2 -1.1 1.9 -1.1 2 -1.2 2 -1.3 1.9 -1.2 2 -1.2 1.9 -1.1 2 -1.0 1.9 -.9 2 -.6 1.9 -.6 2 -.4 2 -.3 1.9 -.4 2 -.5 1.9 -.6 2 -.6 1.9 -.6 2 -.7 1.9 -.7 2 -.9 1.9 -.9 2 -.9 2 -1.0 1.9 -1.0 2 -1.1 1.9 -1.1 2 -1.1 1.9 -1.1 2 -1.1 1.9 -1.2 2 -1.1 2 -1.0 1.9 -1.1 2 -.9 1.9 -.9 2 -.8 1.9 -.8 2 -.7 1.9 -.6 2 -.6 1.9 -.6 2 -.7 2 -.7 1.9 -.7 2 -.8 1.9 -.7 2 -.8 1.9 -.8 2 -.8 1.9 -.9 2 -.8 2 -.9 1.9 -.8 2 -.8 1.9 -.8 2 -.7 1.9 -.7 2 -.7 1.9 -.6 2 -.6 1.9 -.7 2 -.7 2 -.7 1.9 -.8 2 -.8 1.9 -.7 2 -.8 1.9 -1.0 2 -1.1 1.9 -1.2 2 -1.2"/><path d="M503.3,94.0l2 -.7 1.9 -.7 2 -.6 1.9 -.6 2 -.6 1.9 -.6 2 -.7 1.9 -.7 2 -.7 2 -.8 1.9 -.9 2 -1.0 1.9 -1.0 2 -1.1 1.9 -1.2 2 -1.1 1.9 -1.1 2 -1.1 1.9 -1.0 2 -.9 2 -.8 1.9 -.8 2 -.6 1.9 -.6 2 -.5 1.9 -.5 2 -.6 1.9 -.5 2 -.7 2 -.7 1.9 -.8 2 -.9 1.9 -1.0 2 -.9 1.9 -1.0 2 -1.0 1.9 -.9 2 -.9 1.9 -.9 2 -.8 2 -.7 1.9 -.7 2 -.7 1.9 -.6 2 -.7 1.9 -.7 2 -.7 1.9 -.7 2 -.8 2 -.8 1.9 -.9 2 -.9 1.9 -1.0 2 -.9 1.9 -.9 2 -.9 1.9 -.9 2 -.8 1.9 -.8 2 -.7 2 -.7 1.9 -.7 2 -.6 1.9 -.7 2 -.7 1.9 -.7 2 -.8 1.9 -.8 2 -.9 2 -1.0 1.9 -1.0 2 -1.0 1.9 -1.1 2 -1.0 1.9 -1.0 2 -.9 1.9 -.9 2 -.9 1.9 -.9 2 -.8 2 -.8 1.9 -.8 2 -.7 1.9 -.6 2 -.5 1.9 -.5 2 -.5 1.9 -.3 2 -.3"/><path d="M503.3,98.2l2 -.5 1.9 -.7 2 -.7 1.9 -.8 2 -.9 1.9 -.9 2 -1.1 1.9 -1.0 2 -1.1 2 -1.1 1.9 -1.0 2 -.9 1.9 -.9 2 -.7 1.9 -.7 2 -.7 1.9 -.7 2 -.8 1.9 -.8 2 -.9 2 -1.0 1.9 -1.1 2 -1.1 1.9 -1.1 2 -1.2 1.9 -1.1 2 -1.2 1.9 -1.0 2 -1.1 2 -.9 1.9 -.8 2 -.7 1.9 -.7 2 -.6 1.9 -.7 2 -.6 1.9 -.6 2 -.7 1.9 -.8 2 -.8 2 -.9 1.9 -1.0 2 -1.0 1.9 -1.1 2 -1.1 1.9 -1.0 2 -1.1 1.9 -1.0 2 -.9 2 -.8 1.9 -.8 2 -.8 1.9 -.7 2 -.7 1.9 -.7 2 -.8 1.9 -.7 2 -.9 1.9 -.8 2 -.9 2 -.9 1.9 -.9 2 -.9 1.9 -1.0 2 -1.0 1.9 -.9 2 -1.0 1.9 -1.0 2 -.9 2 -.9 1.9 -.9 2 -.8 1.9 -.6 2 -.7 1.9 -.5 2 -.4 1.9 -.5 2 -.5 1.9 -.5 2 -.6 2 -.8 1.9 -.7 2 -.7 1.9 -.6 2 -.6 1.9 -.7 2 -.6 1.9 -.7 2 -.5"/><path d="M503.3,97.1l2 -1.1 1.9 -1.1 2 -1.1 1.9 -1.0 2 -.9 1.9 -.9 2 -.8 1.9 -.8 2 -.8 2 -.8 1.9 -.8 2 -.8 1.9 -.9 2 -.9 1.9 -1.0 2 -.9 1.9 -1.1 2 -1.0 1.9 -1.0 2 -1.0 2 -1.0 1.9 -1.0 2 -.9 1.9 -.8 2 -.8 1.9 -.7 2 -.7 1.9 -.7 2 -.7 2 -.8 1.9 -.8 2 -.9 1.9 -1.0 2 -1.1 1.9 -1.1 2 -1.1 1.9 -1.2 2 -1.1 1.9 -1.1 2 -1.1 2 -1.0 1.9 -.9 2 -.9 1.9 -.8 2 -.8 1.9 -.9 2 -.7 1.9 -.7 2 -.6 2 -.6 1.9 -.6 2 -.6 1.9 -.6 2 -.6 1.9 -.7 2 -.7 1.9 -.8 2 -.8 1.9 -.9 2 -.8 2 -.9 1.9 -.8 2 -.7 1.9 -.8 2 -.9 1.9 -.8 2 -.9 1.9 -.9 2 -1.0 2 -1.1 1.9 -1.2 2 -1.2 1.9 -1.2 2 -1.2 1.9 -1.1 2 -1.1 1.9 -.9 2 -.9 1.9 -.8 2 -.6 2 -.6 1.9 -.6 2 -.5 1.9 -.6 2 -.6 1.9 -.6 2 -.7 1.9 -.8 2 -.8"/><path d="M503.3,98.7l2 -.6 1.9 -.7 2 -.6 1.9 -.7 2 -.8 1.9 -.8 2 -.8 1.9 -.9 2 -1.0 2 -.9 1.9 -1.0 2 -.9 1.9 -1.0 2 -1.1 1.9 -1.0 2 -1.2 1.9 -1.2 2 -1.2 1.9 -1.3 2 -1.3 2 -1.3 1.9 -1.2 2 -1.2 1.9 -1.1 2 -.9 1.9 -.8 2 -.6 1.9 -.4 2 -.5 2 -.5 1.9 -.6 2 -.6 1.9 -.6 2 -.7 1.9 -.7 2 -.7 1.9 -.8 2 -.9 1.9 -.8 2 -.8 2 -.9 1.9 -.9 2 -.9 1.9 -.9 2 -1.0 1.9 -1.0 2 -1.0 1.9 -1.0 2 -1.0 2 -1.0 1.9 -1.0 2 -1.0 1.9 -1.0 2 -1.0 1.9 -.9 2 -1.0 1.9 -.9 2 -.9 1.9 -1.0 2 -1.0 2 -1.2 1.9 -1.1 2 -1.3 1.9 -1.2 2 -1.2 1.9 -1.1 2 -1.0 1.9 -.8 2 -.8 2 -.7 1.9 -.6 2 -.5 1.9 -.7 2 -.7 1.9 -.8 2 -.9 1.9 -.9 2 -.9 1.9 -.8 2 -.9 2 -.7 1.9 -.8 2 -.7 1.9 -.7 2 -.7 1.9 -.7 2 -.7 1.9 -.7 2 -.8"/><path d="M503.3,97.0l2 -.7 1.9 -.8 2 -.7 1.9 -.6 2 -.6 1.9 -.6 2 -.6 1.9 -.7 2 -.6 2 -.8 1.9 -.9 2 -.9 1.9 -1.1 2 -1.1 1.9 -1.2 2 -1.3 1.9 -1.2 2 -1.2 1.9 -1.1 2 -1.0 2 -.9 1.9 -.8 2 -.7 1.9 -.8 2 -.7 1.9 -.8 2 -.8 1.9 -.8 2 -.8 2 -.8 1.9 -.9 2 -.8 1.9 -.9 2 -.9 1.9 -.9 2 -.9 1.9 -.9 2 -.9 1.9 -.9 2 -.9 2 -.9 1.9 -.9 2 -.9 1.9 -.9 2 -.9 1.9 -.9 2 -.9 1.9 -.8 2 -.8 2 -.7 1.9 -.7 2 -.6 1.9 -.7 2 -.7 1.9 -.7 2 -.8 1.9 -.8 2 -.9 1.9 -.9 2 -.9 2 -1.0 1.9 -1.0 2 -1.0 1.9 -1.1 2 -1.0 1.9 -1.0 2 -1.0 1.9 -1.0 2 -1.0 2 -1.0 1.9 -.8 2 -.9 1.9 -.8 2 -.7 1.9 -.8 2 -.8 1.9 -.7 2 -.8 1.9 -.7 2 -.8 2 -.7 1.9 -.8 2 -.7 1.9 -.7 2 -.6 1.9 -.7 2 -.6 1.9 -.7 2 -.6"/><path d="M503.3,96.8l2 -1.0 1.9 -1.2 2 -1.2 1.9 -1.2 2 -1.1 1.9 -1.0 2 -1.0 1.9 -.8 2 -.8 2 -.7 1.9 -.7 2 -.8 1.9 -.7 2 -.7 1.9 -.7 2 -.7 1.9 -.7 2 -.7 1.9 -.8 2 -.9 2 -.9 1.9 -.8 2 -.8 1.9 -.8 2 -.7 1.9 -.7 2 -.5 1.9 -.6 2 -.5 2 -.6 1.9 -.5 2 -.7 1.9 -.6 2 -.8 1.9 -.8 2 -.8 1.9 -.9 2 -.8 1.9 -.9 2 -.9 2 -.9 1.9 -1.0 2 -1.0 1.9 -1.0 2 -1.0 1.9 -1.1 2 -1.0 1.9 -1.1 2 -1.0 2 -1.0 1.9 -1.0 2 -.9 1.9 -.9 2 -.9 1.9 -.9 2 -.9 1.9 -.9 2 -.8 1.9 -.9 2 -.9 2 -.9 1.9 -.8 2 -.9 1.9 -.9 2 -.8 1.9 -.8 2 -.7 1.9 -.8 2 -.6 2 -.7 1.9 -.7 2 -.7 1.9 -.8 2 -.9 1.9 -.9 2 -.9 1.9 -1.1 2 -1.0 1.9 -1.0 2 -.9 2 -.8 1.9 -.8 2 -.7 1.9 -.5 2 -.5 1.9 -.5 2 -.5 1.9 -.6 2 -.6"/><path d="M503.3,98.9l2 -.8 1.9 -1.0 2 -1.0 1.9 -1.1 2 -1.2 1.9 -1.2 2 -1.1 1.9 -1.2 2 -1.2 2 -1.2 1.9 -1.0 2 -1.1 1.9 -1.0 2 -1.1 1.9 -1.0 2 -1.1 1.9 -1.0 2 -1.0 1.9 -1.0 2 -1.0 2 -.9 1.9 -.8 2 -.8 1.9 -.7 2 -.7 1.9 -.6 2 -.5 1.9 -.5 2 -.5 2 -.6 1.9 -.7 2 -.7 1.9 -.8 2 -.8 1.9 -.8 2 -.8 1.9 -.9 2 -.9 1.9 -.8 2 -1.0 2 -.9 1.9 -1.0 2 -.9 1.9 -1.0 2 -1.0 1.9 -1.0 2 -.9 1.9 -.9 2 -.8 2 -.7 1.9 -.7 2 -.7 1.9 -.8 2 -.8 1.9 -.9 2 -1.0 1.9 -1.0 2 -1.1 1.9 -1.4 2 -1.5 2 -1.3 1.9 -1.1 2 -.9 1.9 -.8 2 -.6 1.9 -.5 2 -.5 1.9 -.5 2 -.6 2 -.6 1.9 -.8 2 -.9 1.9 -.8 2 -1.0 1.9 -1.0 2 -1.1 1.9 -1.2 2 -1.2 1.9 -1.2 2 -1.2 2 -1.1 1.9 -1.1 2 -1.2 1.9 -1.1 2 -1.1 1.9 -1.1 2 -1.0 1.9 -1.0 2 -.6"/></g>
<g fill="none" stroke="#00cdcd" stroke-width="0.65"><path d="M630.0,43.4l1.6 -.7 1.6 -.5 1.5 -.6 1.6 -.7 1.6 -.6 1.6 -.6 1.5 -.6 1.6 -.6 1.6 -.6 1.6 -.6 1.5 -.6 1.6 -.5 1.6 -.6 1.6 -.5 1.5 -.5 1.6 -.5 1.6 -.5 1.6 -.4 1.6 -.5 1.5 -.5 1.6 -.4 1.6 -.4 1.6 -.3 1.5 -.3 1.6 -.3 1.6 -.3 1.6 -.2 1.5 -.3 1.6 -.2 1.6 -.3"/><path d="M636.0,40.6l1.6 -.7 1.6 -.5 1.6 -.6 1.6 -.6 1.5 -.6 1.6 -.6 1.6 -.6 1.6 -.6 1.6 -.5 1.6 -.6 1.6 -.5 1.6 -.5 1.5 -.4 1.6 -.5 1.6 -.4 1.6 -.5 1.6 -.4 1.6 -.5 1.6 -.3 1.6 -.4 1.6 -.3 1.5 -.3 1.6 -.3 1.6 -.3 1.6 -.2 1.6 -.4"/><path d="M640.0,38.6l1.6 -.7 1.6 -.4 1.7 -.6 1.6 -.6 1.6 -.6 1.6 -.5 1.7 -.6 1.6 -.6 1.6 -.5 1.6 -.6 1.6 -.4 1.7 -.5 1.6 -.4 1.6 -.4 1.6 -.4 1.6 -.4 1.7 -.4 1.6 -.3 1.6 -.4 1.6 -.4 1.7 -.3 1.6 -.3 1.6 -.4"/></g>
<path d="M29.88,19.99 L204.32,96.51" fill="none" stroke="#c85050" stroke-width="0.9" />
<path d="M274.36,58.25 L448.34,58.25" fill="none" stroke="#c85050" stroke-width="0.9" />
<path d="M503.26,96.51 L677.34,19.99" fill="none" stroke="#c85050" stroke-width="0.9" />
<path d="M30.03,324.02 L30.90,322.79 L31.77,321.56 L32.64,320.34 L33.52,319.13 L34.39,317.92 L35.26,316.73 L36.13,315.55 L37.01,314.38 L37.88,313.22 L38.75,312.07 L39.62,310.93 L40.49,309.80 L41.37,308.69 L42.24,307.58 L43.11,306.49 L43.98,305.41 L44.86,304.34 L45.73,303.28 L46.60,302.23 L47.47,301.20 L48.34,300.18 L49.22,299.17 L50.09,298.17 L50.96,297.18 L51.83,296.21 L52.71,295.25 L53.58,294.31 L54.45,293.37 L55.32,292.45 L56.19,291.55 L57.07,290.65 L57.94,289.77 L58.81,288.91 L59.68,288.05 L60.56,287.22 L61.43,286.39 L62.30,285.59 L63.17,284.79 L64.04,284.01 L64.92,283.25 L65.79,282.50 L66.66,281.77 L67.53,281.06 L68.41,280.36 L69.28,279.68 L70.15,279.01 L71.02,278.36 L71.89,277.74 L72.77,277.12 L73.64,276.53 L74.51,275.96 L75.38,275.41 L76.26,274.88 L77.13,274.37 L78.00,273.88 L78.87,273.41 L79.74,272.97 L80.62,272.55 L81.49,272.16 L82.36,271.80 L83.23,271.47 L84.11,271.18 L84.98,270.92 L85.85,270.70 L86.72,270.53 L87.59,270.40 L88.47,270.31 L89.34,270.26 L90.21,270.22 L91.08,270.21 L91.96,270.20 L92.83,270.20 L93.70,270.20 L94.57,270.20 L95.44,270.20 L96.32,270.20 L97.19,270.20 L98.06,270.20 L98.93,270.20 L99.81,270.20 L100.68,270.20 L101.55,270.20 L102.42,270.20 L103.29,270.20 L104.17,270.20 L105.04,270.20 L105.91,270.20 L106.78,270.20 L107.66,270.20 L108.53,270.20 L109.40,270.20 L110.27,270.20 L111.14,270.20 L112.02,270.20 L112.89,270.20 L113.76,270.20 L114.63,270.20 L115.51,270.20 L116.38,270.20 L117.25,270.20 L118.12,270.20 L118.99,270.20 L119.87,270.20 L120.74,270.20 L121.61,270.20 L122.48,270.20 L123.36,270.20 L124.23,270.20 L125.10,270.20 L125.97,270.20 L126.84,270.20 L127.72,270.20 L128.59,270.20 L129.46,270.20 L130.33,270.20 L131.21,270.20 L132.08,270.20 L132.95,270.20 L133.82,270.20 L134.69,270.20 L135.57,270.20 L136.44,270.20 L137.31,270.20 L138.18,270.20 L139.06,270.20 L139.93,270.20 L140.80,270.20 L141.67,270.20 L142.54,270.20 L143.42,270.19 L144.29,270.18 L145.16,270.14 L146.03,270.09 L146.91,270.00 L147.78,269.87 L148.65,269.70 L149.52,269.48 L150.39,269.22 L151.27,268.93 L152.14,268.60 L153.01,268.24 L153.88,267.85 L154.76,267.43 L155.63,266.99 L156.50,266.52 L157.37,266.03 L158.24,265.52 L159.12,264.99 L159.99,264.44 L160.86,263.87 L161.73,263.28 L162.61,262.66 L163.48,262.04 L164.35,261.39 L165.22,260.72 L166.09,260.04 L166.97,259.34 L167.84,258.63 L168.71,257.90 L169.58,257.15 L170.46,256.39 L171.33,255.61 L172.20,254.81 L173.07,254.01 L173.94,253.18 L174.82,252.35 L175.69,251.49 L176.56,250.63 L177.43,249.75 L178.31,248.85 L179.18,247.95 L180.05,247.03 L180.92,246.09 L181.79,245.15 L182.67,244.19 L183.54,243.22 L184.41,242.23 L185.28,241.23 L186.16,240.22 L187.03,239.20 L187.90,238.17 L188.77,237.12 L189.64,236.06 L190.52,234.99 L191.39,233.91 L192.26,232.82 L193.13,231.71 L194.01,230.60 L194.88,229.47 L195.75,228.33 L196.62,227.18 L197.49,226.02 L198.37,224.85 L199.24,223.67 L200.11,222.48 L200.98,221.27 L201.86,220.06 L202.73,218.84 L203.60,217.61 L204.47,216.38" fill="none" stroke="#00cdcd" stroke-width="2.1" />
<path d="M29.83,323.82 L30.70,322.59 L31.57,321.36 L32.44,320.14 L33.32,318.93 L34.19,317.72 L35.06,316.53 L35.93,315.35 L36.81,314.18 L37.68,313.02 L38.55,311.87 L39.42,310.73 L40.29,309.60 L41.17,308.49 L42.04,307.38 L42.91,306.29 L43.78,305.21 L44.66,304.14 L45.53,303.08 L46.40,302.03 L47.27,301.00 L48.14,299.98 L49.02,298.97 L49.89,297.97 L50.76,296.98 L51.63,296.01 L52.51,295.05 L53.38,294.11 L54.25,293.17 L55.12,292.25 L55.99,291.35 L56.87,290.45 L57.74,289.57 L58.61,288.71 L59.48,287.85 L60.36,287.02 L61.23,286.19 L62.10,285.39 L62.97,284.59 L63.84,283.81 L64.72,283.05 L65.59,282.30 L66.46,281.57 L67.33,280.86 L68.21,280.16 L69.08,279.48 L69.95,278.81 L70.82,278.16 L71.69,277.54 L72.57,276.92 L73.44,276.33 L74.31,275.76 L75.18,275.21 L76.06,274.68 L76.93,274.17 L77.80,273.68 L78.67,273.21 L79.54,272.77 L80.42,272.35 L81.29,271.96 L82.16,271.60 L83.03,271.27 L83.91,270.98 L84.78,270.72 L85.65,270.50 L86.52,270.33 L87.39,270.20 L88.27,270.11 L89.14,270.06 L90.01,270.02 L90.88,270.01 L91.76,270.00 L92.63,270.00 L93.50,270.00 L94.37,270.00 L95.24,270.00 L96.12,270.00 L96.99,270.00 L97.86,270.00 L98.73,270.00 L99.61,270.00 L100.48,270.00 L101.35,270.00 L102.22,270.00 L103.09,270.00 L103.97,270.00 L104.84,270.00 L105.71,270.00 L106.58,270.00 L107.46,270.00 L108.33,270.00 L109.20,270.00 L110.07,270.00 L110.94,270.00 L111.82,270.00 L112.69,270.00 L113.56,270.00 L114.43,270.00 L115.31,270.00 L116.18,270.00 L117.05,270.00 L117.92,270.00 L118.79,270.00 L119.67,270.00 L120.54,270.00 L121.41,270.00 L122.28,270.00 L123.16,270.00 L124.03,270.00 L124.90,270.00 L125.77,270.00 L126.64,270.00 L127.52,270.00 L128.39,270.00 L129.26,270.00 L130.13,270.00 L131.01,270.00 L131.88,270.00 L132.75,270.00 L133.62,270.00 L134.49,270.00 L135.37,270.00 L136.24,270.00 L137.11,270.00 L137.98,270.00 L138.86,270.00 L139.73,270.00 L140.60,270.00 L141.47,270.00 L142.34,270.00 L143.22,269.99 L144.09,269.98 L144.96,269.94 L145.83,269.89 L146.71,269.80 L147.58,269.67 L148.45,269.50 L149.32,269.28 L150.19,269.02 L151.07,268.73 L151.94,268.40 L152.81,268.04 L153.68,267.65 L154.56,267.23 L155.43,266.79 L156.30,266.32 L157.17,265.83 L158.04,265.32 L158.92,264.79 L159.79,264.24 L160.66,263.67 L161.53,263.08 L162.41,262.46 L163.28,261.84 L164.15,261.19 L165.02,260.52 L165.89,259.84 L166.77,259.14 L167.64,258.43 L168.51,257.70 L169.38,256.95 L170.26,256.19 L171.13,255.41 L172.00,254.61 L172.87,253.81 L173.74,252.98 L174.62,252.15 L175.49,251.29 L176.36,250.43 L177.23,249.55 L178.11,248.65 L178.98,247.75 L179.85,246.83 L180.72,245.89 L181.59,244.95 L182.47,243.99 L183.34,243.02 L184.21,242.03 L185.08,241.03 L185.96,240.02 L186.83,239.00 L187.70,237.97 L188.57,236.92 L189.44,235.86 L190.32,234.79 L191.19,233.71 L192.06,232.62 L192.93,231.51 L193.81,230.40 L194.68,229.27 L195.55,228.13 L196.42,226.98 L197.29,225.82 L198.17,224.65 L199.04,223.47 L199.91,222.28 L200.78,221.07 L201.66,219.86 L202.53,218.64 L203.40,217.41 L204.27,216.18" fill="none" stroke="#b45656" stroke-width="0.95" />
<path d="M274.51,216.38 L275.38,217.61 L276.25,218.84 L277.12,220.06 L277.99,221.27 L278.86,222.48 L279.73,223.67 L280.60,224.85 L281.47,226.02 L282.34,227.18 L283.21,228.33 L284.08,229.47 L284.95,230.60 L285.82,231.71 L286.69,232.82 L287.56,233.91 L288.43,234.99 L289.30,236.06 L290.17,237.12 L291.04,238.17 L291.91,239.20 L292.78,240.22 L293.65,241.23 L294.52,242.23 L295.39,243.22 L296.26,244.19 L297.13,245.15 L298.00,246.09 L298.87,247.03 L299.74,247.95 L300.61,248.85 L301.48,249.75 L302.35,250.63 L303.22,251.49 L304.09,252.35 L304.96,253.18 L305.83,254.01 L306.70,254.81 L307.57,255.61 L308.44,256.39 L309.31,257.15 L310.18,257.90 L311.05,258.63 L311.92,259.34 L312.79,260.04 L313.66,260.72 L314.52,261.39 L315.39,262.04 L316.26,262.66 L317.13,263.28 L318.00,263.87 L318.87,264.44 L319.74,264.99 L320.61,265.52 L321.48,266.03 L322.35,266.52 L323.22,266.99 L324.09,267.43 L324.96,267.85 L325.83,268.24 L326.70,268.60 L327.57,268.93 L328.44,269.22 L329.31,269.48 L330.18,269.70 L331.05,269.87 L331.92,270.00 L332.79,270.09 L333.66,270.14 L334.53,270.18 L335.40,270.19 L336.27,270.20 L337.14,270.20 L338.01,270.20 L338.88,270.20 L339.75,270.20 L340.62,270.20 L341.49,270.20 L342.36,270.20 L343.23,270.20 L344.10,270.20 L344.97,270.20 L345.84,270.20 L346.71,270.20 L347.58,270.20 L348.45,270.20 L349.32,270.20 L350.19,270.20 L351.06,270.20 L351.93,270.20 L352.80,270.20 L353.67,270.20 L354.54,270.20 L355.41,270.20 L356.28,270.20 L357.15,270.20 L358.02,270.20 L358.89,270.20 L359.76,270.20 L360.63,270.20 L361.50,270.20 L362.37,270.20 L363.24,270.20 L364.11,270.20 L364.98,270.20 L365.85,270.20 L366.72,270.20 L367.59,270.20 L368.46,270.20 L369.33,270.20 L370.20,270.20 L371.07,270.20 L371.94,270.20 L372.81,270.20 L373.68,270.20 L374.55,270.20 L375.42,270.20 L376.29,270.20 L377.16,270.20 L378.03,270.20 L378.90,270.20 L379.77,270.20 L380.64,270.20 L381.51,270.20 L382.38,270.20 L383.25,270.20 L384.12,270.20 L384.99,270.20 L385.86,270.20 L386.73,270.20 L387.60,270.21 L388.47,270.22 L389.34,270.26 L390.21,270.31 L391.08,270.40 L391.95,270.53 L392.82,270.70 L393.69,270.92 L394.56,271.18 L395.43,271.47 L396.30,271.80 L397.17,272.16 L398.04,272.55 L398.91,272.97 L399.78,273.41 L400.65,273.88 L401.52,274.37 L402.39,274.88 L403.26,275.41 L404.13,275.96 L405.00,276.53 L405.87,277.12 L406.74,277.74 L407.61,278.36 L408.47,279.01 L409.34,279.68 L410.21,280.36 L411.08,281.06 L411.95,281.77 L412.82,282.50 L413.69,283.25 L414.56,284.01 L415.43,284.79 L416.30,285.59 L417.17,286.39 L418.04,287.22 L418.91,288.05 L419.78,288.91 L420.65,289.77 L421.52,290.65 L422.39,291.55 L423.26,292.45 L424.13,293.37 L425.00,294.31 L425.87,295.25 L426.74,296.21 L427.61,297.18 L428.48,298.17 L429.35,299.17 L430.22,300.18 L431.09,301.20 L431.96,302.23 L432.83,303.28 L433.70,304.34 L434.57,305.41 L435.44,306.49 L436.31,307.58 L437.18,308.69 L438.05,309.80 L438.92,310.93 L439.79,312.07 L440.66,313.22 L441.53,314.38 L442.40,315.55 L443.27,316.73 L444.14,317.92 L445.01,319.13 L445.88,320.34 L446.75,321.56 L447.62,322.79 L448.49,324.02" fill="none" stroke="#00cdcd" stroke-width="2.1" />
<path d="M274.31,216.18 L275.18,217.41 L276.05,218.64 L276.92,219.86 L277.79,221.07 L278.66,222.28 L279.53,223.47 L280.40,224.65 L281.27,225.82 L282.14,226.98 L283.01,228.13 L283.88,229.27 L284.75,230.40 L285.62,231.51 L286.49,232.62 L287.36,233.71 L288.23,234.79 L289.10,235.86 L289.97,236.92 L290.84,237.97 L291.71,239.00 L292.58,240.02 L293.45,241.03 L294.32,242.03 L295.19,243.02 L296.06,243.99 L296.93,244.95 L297.80,245.89 L298.67,246.83 L299.54,247.75 L300.41,248.65 L301.28,249.55 L302.15,250.43 L303.02,251.29 L303.89,252.15 L304.76,252.98 L305.63,253.81 L306.50,254.61 L307.37,255.41 L308.24,256.19 L309.11,256.95 L309.98,257.70 L310.85,258.43 L311.72,259.14 L312.59,259.84 L313.46,260.52 L314.32,261.19 L315.19,261.84 L316.06,262.46 L316.93,263.08 L317.80,263.67 L318.67,264.24 L319.54,264.79 L320.41,265.32 L321.28,265.83 L322.15,266.32 L323.02,266.79 L323.89,267.23 L324.76,267.65 L325.63,268.04 L326.50,268.40 L327.37,268.73 L328.24,269.02 L329.11,269.28 L329.98,269.50 L330.85,269.67 L331.72,269.80 L332.59,269.89 L333.46,269.94 L334.33,269.98 L335.20,269.99 L336.07,270.00 L336.94,270.00 L337.81,270.00 L338.68,270.00 L339.55,270.00 L340.42,270.00 L341.29,270.00 L342.16,270.00 L343.03,270.00 L343.90,270.00 L344.77,270.00 L345.64,270.00 L346.51,270.00 L347.38,270.00 L348.25,270.00 L349.12,270.00 L349.99,270.00 L350.86,270.00 L351.73,270.00 L352.60,270.00 L353.47,270.00 L354.34,270.00 L355.21,270.00 L356.08,270.00 L356.95,270.00 L357.82,270.00 L358.69,270.00 L359.56,270.00 L360.43,270.00 L361.30,270.00 L362.17,270.00 L363.04,270.00 L363.91,270.00 L364.78,270.00 L365.65,270.00 L366.52,270.00 L367.39,270.00 L368.26,270.00 L369.13,270.00 L370.00,270.00 L370.87,270.00 L371.74,270.00 L372.61,270.00 L373.48,270.00 L374.35,270.00 L375.22,270.00 L376.09,270.00 L376.96,270.00 L377.83,270.00 L378.70,270.00 L379.57,270.00 L380.44,270.00 L381.31,270.00 L382.18,270.00 L383.05,270.00 L383.92,270.00 L384.79,270.00 L385.66,270.00 L386.53,270.00 L387.40,270.01 L388.27,270.02 L389.14,270.06 L390.01,270.11 L390.88,270.20 L391.75,270.33 L392.62,270.50 L393.49,270.72 L394.36,270.98 L395.23,271.27 L396.10,271.60 L396.97,271.96 L397.84,272.35 L398.71,272.77 L399.58,273.21 L400.45,273.68 L401.32,274.17 L402.19,274.68 L403.06,275.21 L403.93,275.76 L404.80,276.33 L405.67,276.92 L406.54,277.54 L407.41,278.16 L408.27,278.81 L409.14,279.48 L410.01,280.16 L410.88,280.86 L411.75,281.57 L412.62,282.30 L413.49,283.05 L414.36,283.81 L415.23,284.59 L416.10,285.39 L416.97,286.19 L417.84,287.02 L418.71,287.85 L419.58,288.71 L420.45,289.57 L421.32,290.45 L422.19,291.35 L423.06,292.25 L423.93,293.17 L424.80,294.11 L425.67,295.05 L426.54,296.01 L427.41,296.98 L428.28,297.97 L429.15,298.97 L430.02,299.98 L430.89,301.00 L431.76,302.03 L432.63,303.08 L433.50,304.14 L434.37,305.21 L435.24,306.29 L436.11,307.38 L436.98,308.49 L437.85,309.60 L438.72,310.73 L439.59,311.87 L440.46,313.02 L441.33,314.18 L442.20,315.35 L443.07,316.53 L443.94,317.72 L444.81,318.93 L445.68,320.14 L446.55,321.36 L447.42,322.59 L448.29,323.82" fill="none" stroke="#b45656" stroke-width="0.95" />
<path d="M503.41,216.64 L504.28,218.77 L505.15,220.88 L506.02,222.97 L506.89,225.03 L507.76,227.08 L508.64,229.11 L509.51,231.11 L510.38,233.09 L511.25,235.05 L512.12,236.99 L512.99,238.91 L513.86,240.80 L514.73,242.68 L515.60,244.53 L516.47,246.36 L517.34,248.17 L518.21,249.96 L519.08,251.73 L519.95,253.48 L520.82,255.20 L521.69,256.91 L522.56,258.59 L523.43,260.25 L524.30,261.89 L525.17,263.50 L526.04,265.10 L526.91,266.68 L527.78,268.23 L528.65,269.76 L529.52,271.27 L530.39,272.76 L531.26,274.23 L532.14,275.67 L533.01,277.10 L533.88,278.50 L534.75,279.88 L535.62,281.25 L536.49,282.58 L537.36,283.90 L538.23,285.20 L539.10,286.47 L539.97,287.73 L540.84,288.96 L541.71,290.17 L542.58,291.36 L543.45,292.53 L544.32,293.67 L545.19,294.80 L546.06,295.90 L546.93,296.98 L547.80,298.04 L548.67,299.08 L549.54,300.10 L550.41,301.10 L551.28,302.07 L552.15,303.02 L553.02,303.96 L553.89,304.87 L554.76,305.76 L555.64,306.62 L556.51,307.47 L557.38,308.30 L558.25,309.10 L559.12,309.88 L559.99,310.64 L560.86,311.38 L561.73,312.10 L562.60,312.79 L563.47,313.47 L564.34,314.12 L565.21,314.76 L566.08,315.37 L566.95,315.96 L567.82,316.52 L568.69,317.07 L569.56,317.59 L570.43,318.10 L571.30,318.58 L572.17,319.04 L573.04,319.48 L573.91,319.90 L574.78,320.29 L575.65,320.67 L576.52,321.02 L577.39,321.35 L578.26,321.67 L579.14,321.95 L580.01,322.22 L580.88,322.47 L581.75,322.69 L582.62,322.90 L583.49,323.08 L584.36,323.24 L585.23,323.38 L586.10,323.50 L586.97,323.59 L587.84,323.67 L588.71,323.72 L589.58,323.75 L590.45,323.76 L591.32,323.75 L592.19,323.72 L593.06,323.67 L593.93,323.59 L594.80,323.50 L595.67,323.38 L596.54,323.24 L597.41,323.08 L598.28,322.90 L599.15,322.69 L600.02,322.47 L600.89,322.22 L601.76,321.95 L602.64,321.67 L603.51,321.35 L604.38,321.02 L605.25,320.67 L606.12,320.29 L606.99,319.90 L607.86,319.48 L608.73,319.04 L609.60,318.58 L610.47,318.10 L611.34,317.59 L612.21,317.07 L613.08,316.52 L613.95,315.96 L614.82,315.37 L615.69,314.76 L616.56,314.12 L617.43,313.47 L618.30,312.79 L619.17,312.10 L620.04,311.38 L620.91,310.64 L621.78,309.88 L622.65,309.10 L623.52,308.30 L624.39,307.47 L625.26,306.62 L626.14,305.76 L627.01,304.87 L627.88,303.96 L628.75,303.02 L629.62,302.07 L630.49,301.10 L631.36,300.10 L632.23,299.08 L633.10,298.04 L633.97,296.98 L634.84,295.90 L635.71,294.80 L636.58,293.67 L637.45,292.53 L638.32,291.36 L639.19,290.17 L640.06,288.96 L640.93,287.73 L641.80,286.47 L642.67,285.20 L643.54,283.90 L644.41,282.58 L645.28,281.25 L646.15,279.88 L647.02,278.50 L647.89,277.10 L648.76,275.67 L649.64,274.23 L650.51,272.76 L651.38,271.27 L652.25,269.76 L653.12,268.23 L653.99,266.68 L654.86,265.10 L655.73,263.50 L656.60,261.89 L657.47,260.25 L658.34,258.59 L659.21,256.91 L660.08,255.20 L660.95,253.48 L661.82,251.73 L662.69,249.96 L663.56,248.17 L664.43,246.36 L665.30,244.53 L666.17,242.68 L667.04,240.80 L667.91,238.91 L668.78,236.99 L669.65,235.05 L670.52,233.09 L671.39,231.11 L672.26,229.11 L673.14,227.08 L674.01,225.03 L674.88,222.97 L675.75,220.88 L676.62,218.77 L677.49,216.64" fill="none" stroke="#00cdcd" stroke-width="2.1" />
<path d="M503.21,216.44 L504.08,218.57 L504.95,220.68 L505.82,222.77 L506.69,224.83 L507.56,226.88 L508.44,228.91 L509.31,230.91 L510.18,232.89 L511.05,234.85 L511.92,236.79 L512.79,238.71 L513.66,240.60 L514.53,242.48 L515.40,244.33 L516.27,246.16 L517.14,247.97 L518.01,249.76 L518.88,251.53 L519.75,253.28 L520.62,255.00 L521.49,256.71 L522.36,258.39 L523.23,260.05 L524.10,261.69 L524.97,263.30 L525.84,264.90 L526.71,266.48 L527.58,268.03 L528.45,269.56 L529.32,271.07 L530.19,272.56 L531.06,274.03 L531.94,275.47 L532.81,276.90 L533.68,278.30 L534.55,279.68 L535.42,281.05 L536.29,282.38 L537.16,283.70 L538.03,285.00 L538.90,286.27 L539.77,287.53 L540.64,288.76 L541.51,289.97 L542.38,291.16 L543.25,292.33 L544.12,293.47 L544.99,294.60 L545.86,295.70 L546.73,296.78 L547.60,297.84 L548.47,298.88 L549.34,299.90 L550.21,300.90 L551.08,301.87 L551.95,302.82 L552.82,303.76 L553.69,304.67 L554.56,305.56 L555.44,306.42 L556.31,307.27 L557.18,308.10 L558.05,308.90 L558.92,309.68 L559.79,310.44 L560.66,311.18 L561.53,311.90 L562.40,312.59 L563.27,313.27 L564.14,313.92 L565.01,314.56 L565.88,315.17 L566.75,315.76 L567.62,316.32 L568.49,316.87 L569.36,317.39 L570.23,317.90 L571.10,318.38 L571.97,318.84 L572.84,319.28 L573.71,319.70 L574.58,320.09 L575.45,320.47 L576.32,320.82 L577.19,321.15 L578.06,321.47 L578.94,321.75 L579.81,322.02 L580.68,322.27 L581.55,322.49 L582.42,322.70 L583.29,322.88 L584.16,323.04 L585.03,323.18 L585.90,323.30 L586.77,323.39 L587.64,323.47 L588.51,323.52 L589.38,323.55 L590.25,323.56 L591.12,323.55 L591.99,323.52 L592.86,323.47 L593.73,323.39 L594.60,323.30 L595.47,323.18 L596.34,323.04 L597.21,322.88 L598.08,322.70 L598.95,322.49 L599.82,322.27 L600.69,322.02 L601.56,321.75 L602.44,321.47 L603.31,321.15 L604.18,320.82 L605.05,320.47 L605.92,320.09 L606.79,319.70 L607.66,319.28 L608.53,318.84 L609.40,318.38 L610.27,317.90 L611.14,317.39 L612.01,316.87 L612.88,316.32 L613.75,315.76 L614.62,315.17 L615.49,314.56 L616.36,313.92 L617.23,313.27 L618.10,312.59 L618.97,311.90 L619.84,311.18 L620.71,310.44 L621.58,309.68 L622.45,308.90 L623.32,308.10 L624.19,307.27 L625.06,306.42 L625.94,305.56 L626.81,304.67 L627.68,303.76 L628.55,302.82 L629.42,301.87 L630.29,300.90 L631.16,299.90 L632.03,298.88 L632.90,297.84 L633.77,296.78 L634.64,295.70 L635.51,294.60 L636.38,293.47 L637.25,292.33 L638.12,291.16 L638.99,289.97 L639.86,288.76 L640.73,287.53 L641.60,286.27 L642.47,285.00 L643.34,283.70 L644.21,282.38 L645.08,281.05 L645.95,279.68 L646.82,278.30 L647.69,276.90 L648.56,275.47 L649.44,274.03 L650.31,272.56 L651.18,271.07 L652.05,269.56 L652.92,268.03 L653.79,266.48 L654.66,264.90 L655.53,263.30 L656.40,261.69 L657.27,260.05 L658.14,258.39 L659.01,256.71 L659.88,255.00 L660.75,253.28 L661.62,251.53 L662.49,249.76 L663.36,247.97 L664.23,246.16 L665.10,244.33 L665.97,242.48 L666.84,240.60 L667.71,238.71 L668.58,236.79 L669.45,234.85 L670.32,232.89 L671.19,230.91 L672.06,228.91 L672.94,226.88 L673.81,224.83 L674.68,222.77 L675.55,220.68 L676.42,218.57 L677.29,216.44" fill="none" stroke="#b45656" stroke-width="0.95" />
<g class="cap"><text transform="translate(73.16,169.90) scale(0.95,1)" font-size="19">(</text><text transform="translate(78.95,169.30) scale(1.2,1)" font-size="16.5">a</text><text transform="translate(87.96,169.90) scale(0.95,1)" font-size="19">)</text><text transform="translate(101.15,169.80) scale(1.0,1)" font-size="17" font-style="italic">β</text><text transform="translate(110.70,172.60) scale(1.15,1)" font-size="13" stroke-width="0.22">1</text><text transform="translate(117.85,172.60) scale(1.0,1)" font-size="13" stroke-width="0.22">,</text><text transform="translate(122.03,172.60) scale(1.05,1)" font-size="13" stroke-width="0.22">0</text><text transform="translate(131.06,169.90) scale(0.95,1)" font-size="19">(</text><text transform="translate(136.75,169.30) scale(1.2,1)" font-size="16.5" font-style="italic">t</text><text transform="translate(143.66,169.90) scale(0.95,1)" font-size="19">)</text></g>
<g class="cap"><text transform="translate(316.96,169.90) scale(0.95,1)" font-size="19">(</text><text transform="translate(323.64,169.30) scale(1.03,1)" font-size="16.5">b</text><text transform="translate(332.86,169.90) scale(0.95,1)" font-size="19">)</text><text transform="translate(346.05,169.80) scale(1.0,1)" font-size="17" font-style="italic">β</text><text transform="translate(356.04,172.60) scale(1.05,1)" font-size="13" stroke-width="0.22">2</text><text transform="translate(362.75,172.60) scale(1.0,1)" font-size="13" stroke-width="0.22">,</text><text transform="translate(366.94,172.60) scale(1.05,1)" font-size="13" stroke-width="0.22">0</text><text transform="translate(375.96,169.90) scale(0.95,1)" font-size="19">(</text><text transform="translate(381.65,169.30) scale(1.2,1)" font-size="16.5" font-style="italic">t</text><text transform="translate(388.56,169.90) scale(0.95,1)" font-size="19">)</text></g>
<g class="cap"><text transform="translate(546.96,169.90) scale(0.95,1)" font-size="19">(</text><text transform="translate(552.83,169.30) scale(1.12,1)" font-size="16.5">c</text><text transform="translate(561.16,169.90) scale(0.95,1)" font-size="19">)</text><text transform="translate(574.35,169.80) scale(1.0,1)" font-size="17" font-style="italic">β</text><text transform="translate(584.34,172.60) scale(1.05,1)" font-size="13" stroke-width="0.22">3</text><text transform="translate(591.05,172.60) scale(1.0,1)" font-size="13" stroke-width="0.22">,</text><text transform="translate(595.24,172.60) scale(1.05,1)" font-size="13" stroke-width="0.22">0</text><text transform="translate(604.26,169.90) scale(0.95,1)" font-size="19">(</text><text transform="translate(609.95,169.30) scale(1.2,1)" font-size="16.5" font-style="italic">t</text><text transform="translate(616.86,169.90) scale(0.95,1)" font-size="19">)</text></g>
<g class="cap"><text transform="translate(72.66,381.70) scale(0.95,1)" font-size="19">(</text><text transform="translate(78.30,381.10) scale(1.15,1)" font-size="16.5">d</text><text transform="translate(88.16,381.70) scale(0.95,1)" font-size="19">)</text><text transform="translate(101.35,381.60) scale(1.0,1)" font-size="17" font-style="italic">β</text><text transform="translate(110.90,384.40) scale(1.15,1)" font-size="13" stroke-width="0.22">1</text><text transform="translate(118.05,384.40) scale(1.0,1)" font-size="13" stroke-width="0.22">,</text><text transform="translate(121.80,384.40) scale(1.15,1)" font-size="13" stroke-width="0.22">1</text><text transform="translate(131.26,381.70) scale(0.95,1)" font-size="19">(</text><text transform="translate(136.95,381.10) scale(1.2,1)" font-size="16.5" font-style="italic">t</text><text transform="translate(143.86,381.70) scale(0.95,1)" font-size="19">)</text></g>
<g class="cap"><text transform="translate(318.06,381.70) scale(0.95,1)" font-size="19">(</text><text transform="translate(323.40,381.10) scale(1.15,1)" font-size="16.5">e</text><text transform="translate(332.16,381.70) scale(0.95,1)" font-size="19">)</text><text transform="translate(345.35,381.60) scale(1.0,1)" font-size="17" font-style="italic">β</text><text transform="translate(355.34,384.40) scale(1.05,1)" font-size="13" stroke-width="0.22">2</text><text transform="translate(362.05,384.40) scale(1.0,1)" font-size="13" stroke-width="0.22">,</text><text transform="translate(365.80,384.40) scale(1.15,1)" font-size="13" stroke-width="0.22">1</text><text transform="translate(375.26,381.70) scale(0.95,1)" font-size="19">(</text><text transform="translate(380.95,381.10) scale(1.2,1)" font-size="16.5" font-style="italic">t</text><text transform="translate(387.86,381.70) scale(0.95,1)" font-size="19">)</text></g>
<g class="cap"><text transform="translate(547.26,381.70) scale(0.95,1)" font-size="19">(</text><text transform="translate(553.10,381.10) scale(1.15,1)" font-size="16.5">f</text><text transform="translate(560.26,381.70) scale(0.95,1)" font-size="19">)</text><text transform="translate(573.45,381.60) scale(1.0,1)" font-size="17" font-style="italic">β</text><text transform="translate(583.43,384.40) scale(1.05,1)" font-size="13" stroke-width="0.22">3</text><text transform="translate(590.15,384.40) scale(1.0,1)" font-size="13" stroke-width="0.22">,</text><text transform="translate(593.90,384.40) scale(1.15,1)" font-size="13" stroke-width="0.22">1</text><text transform="translate(603.36,381.70) scale(0.95,1)" font-size="19">(</text><text transform="translate(609.05,381.10) scale(1.2,1)" font-size="16.5" font-style="italic">t</text><text transform="translate(615.96,381.70) scale(0.95,1)" font-size="19">)</text></g>
</svg>
</body></html>
